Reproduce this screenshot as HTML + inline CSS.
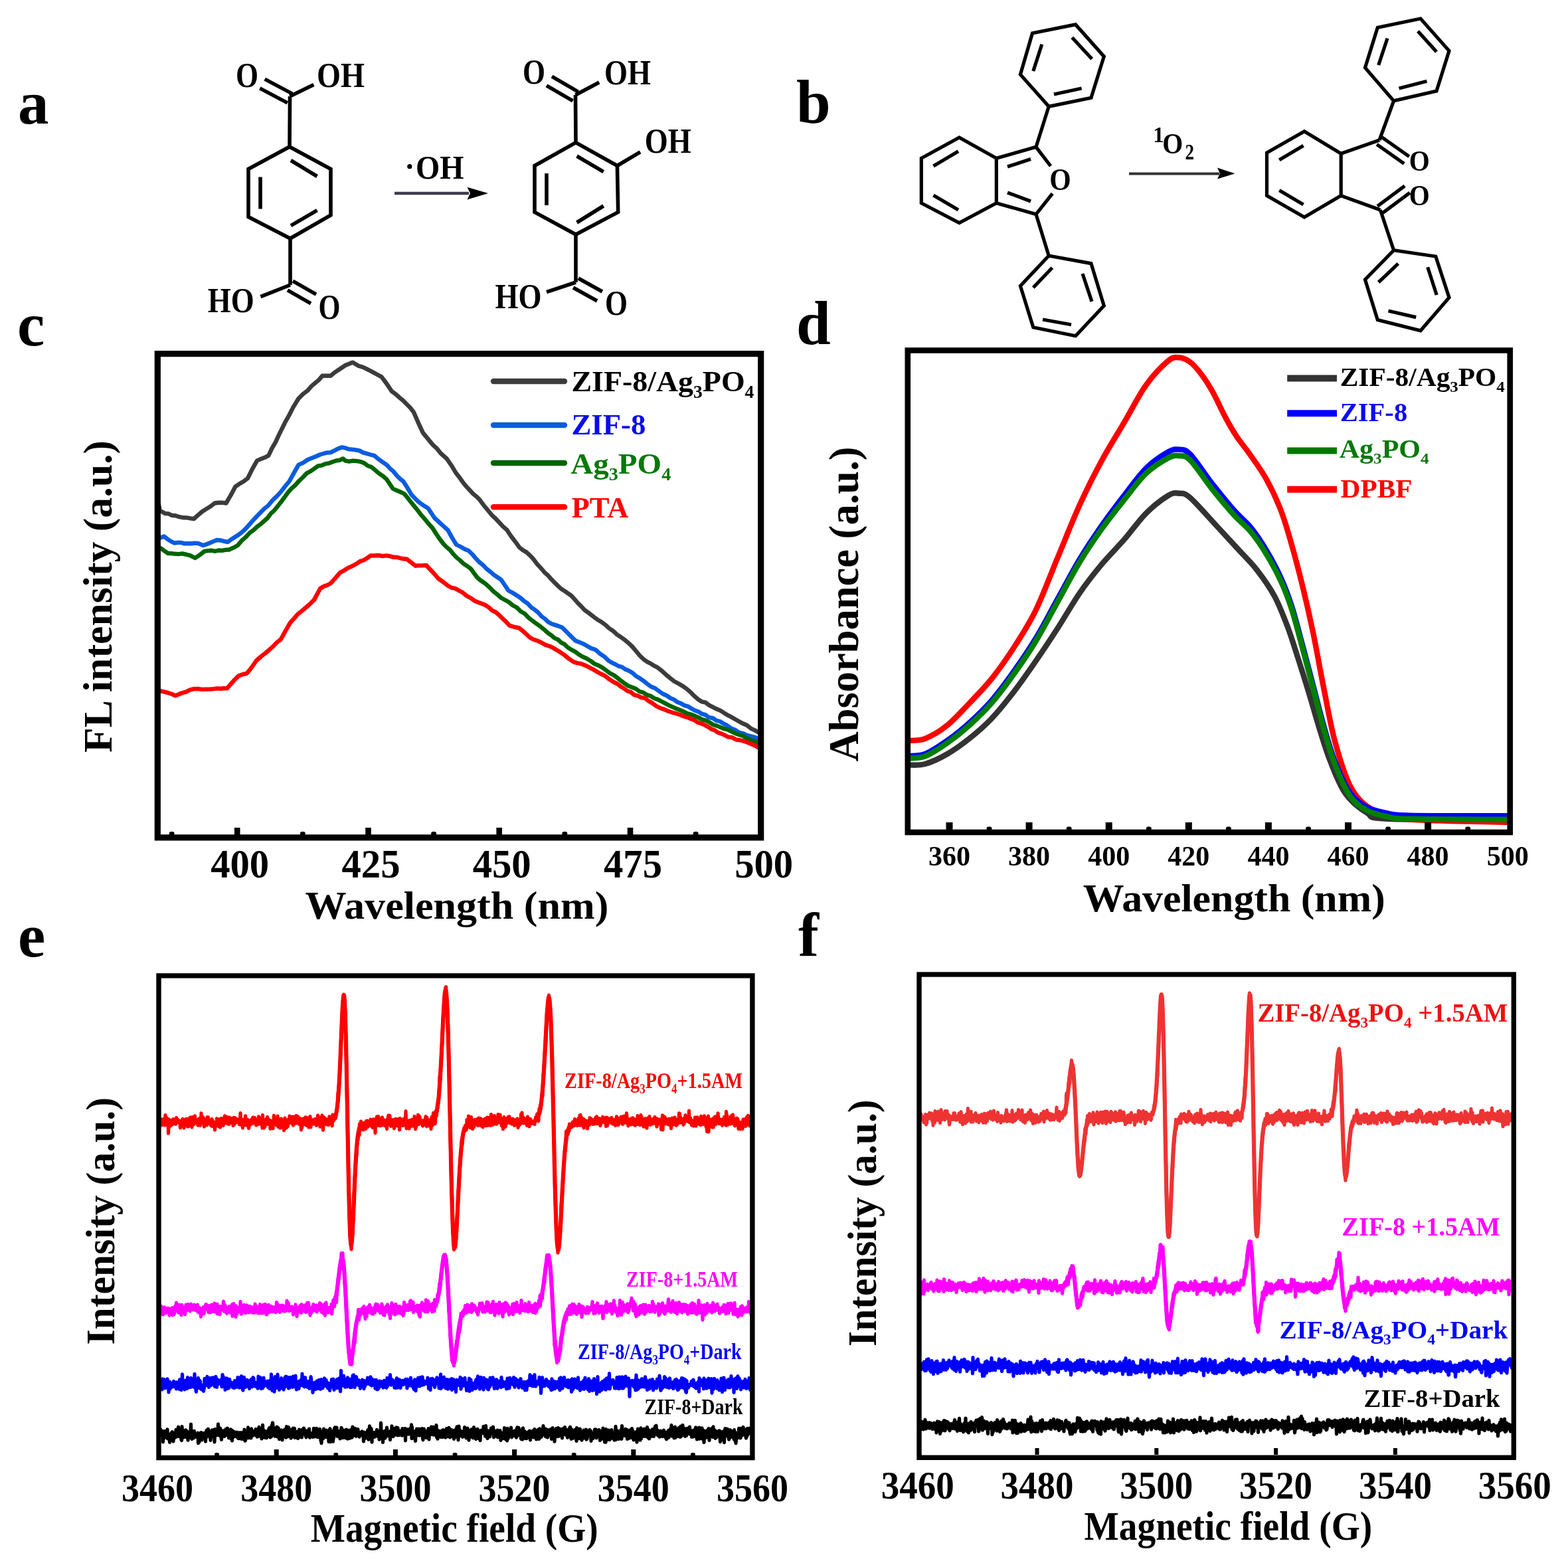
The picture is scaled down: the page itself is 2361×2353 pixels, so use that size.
<!DOCTYPE html>
<html><head><meta charset="utf-8"><title>Figure</title>
<style>html,body{margin:0;padding:0;background:#fff;}svg{display:block;}</style></head>
<body><svg xmlns="http://www.w3.org/2000/svg" width="2361" height="2353" viewBox="0 0 2361 2353" font-family="'Liberation Serif','Times New Roman',serif">
<rect width="2361" height="2353" fill="#fff"/>
<text x="27.0" y="185.5" font-size="93" font-weight="bold" fill="#000" text-anchor="start">a</text>
<text x="1199.0" y="184.5" font-size="93" font-weight="bold" fill="#000" text-anchor="start">b</text>
<text x="26.0" y="520.0" font-size="93" font-weight="bold" fill="#000" text-anchor="start">c</text>
<text x="1199.0" y="517.5" font-size="93" font-weight="bold" fill="#000" text-anchor="start">d</text>
<text x="27.0" y="1440.0" font-size="93" font-weight="bold" fill="#000" text-anchor="start">e</text>
<text x="1202.0" y="1438.5" font-size="93" font-weight="bold" fill="#000" text-anchor="start">f</text>
<polygon points="436.0,221.0 498.0,254.5 498.0,324.0 437.0,359.0 374.0,326.5 374.0,254.5" fill="none" stroke="#000" stroke-width="5.6" stroke-linejoin="miter" stroke-miterlimit="4"/>
<line x1="438.0" y1="241.5" x2="477.5" y2="265.5" stroke="#000" stroke-width="5.6" stroke-linecap="butt"/>
<line x1="392.0" y1="266.5" x2="392.0" y2="314.5" stroke="#000" stroke-width="5.6" stroke-linecap="butt"/>
<line x1="438.0" y1="339.7" x2="477.5" y2="316.7" stroke="#000" stroke-width="5.6" stroke-linecap="butt"/>
<line x1="436.0" y1="221.0" x2="436.5" y2="145.0" stroke="#000" stroke-width="5.6" stroke-linecap="butt"/>
<line x1="432.8" y1="154.9" x2="391.3" y2="132.9" stroke="#000" stroke-width="5.6" stroke-linecap="butt"/>
<line x1="440.2" y1="141.1" x2="398.7" y2="119.1" stroke="#000" stroke-width="5.6" stroke-linecap="butt"/>
<line x1="436.5" y1="145.0" x2="472.3" y2="127.5" stroke="#000" stroke-width="5.6" stroke-linecap="butt"/>
<line x1="437.0" y1="359.0" x2="437.0" y2="429.0" stroke="#000" stroke-width="5.6" stroke-linecap="butt"/>
<line x1="437.0" y1="429.0" x2="392.4" y2="446.6" stroke="#000" stroke-width="5.6" stroke-linecap="butt"/>
<line x1="441.0" y1="423.1" x2="476.0" y2="443.1" stroke="#000" stroke-width="5.6" stroke-linecap="butt"/>
<line x1="433.0" y1="436.9" x2="468.0" y2="456.9" stroke="#000" stroke-width="5.6" stroke-linecap="butt"/>
<text x="355.0" y="131.0" font-size="52" font-weight="bold" fill="#000" text-anchor="start" textLength="34.0" lengthAdjust="spacingAndGlyphs">O</text>
<text x="477.0" y="131.3" font-size="52" font-weight="bold" fill="#000" text-anchor="start" textLength="72.0" lengthAdjust="spacingAndGlyphs">OH</text>
<text x="312.7" y="470.3" font-size="52" font-weight="bold" fill="#000" text-anchor="start" textLength="70.0" lengthAdjust="spacingAndGlyphs">HO</text>
<text x="479.6" y="479.8" font-size="52" font-weight="bold" fill="#000" text-anchor="start" textLength="33.0" lengthAdjust="spacingAndGlyphs">O</text>
<polygon points="867.0,214.6 929.4,249.5 930.7,319.4 867.0,353.0 805.0,319.4 805.0,249.5" fill="none" stroke="#000" stroke-width="5.6" stroke-linejoin="miter" stroke-miterlimit="4"/>
<line x1="868.6" y1="235.0" x2="908.7" y2="258.6" stroke="#000" stroke-width="5.6" stroke-linecap="butt"/>
<line x1="823.0" y1="261.0" x2="823.0" y2="309.0" stroke="#000" stroke-width="5.6" stroke-linecap="butt"/>
<line x1="868.6" y1="335.0" x2="908.7" y2="310.0" stroke="#000" stroke-width="5.6" stroke-linecap="butt"/>
<line x1="867.0" y1="214.6" x2="866.5" y2="143.0" stroke="#000" stroke-width="5.6" stroke-linecap="butt"/>
<line x1="862.5" y1="151.9" x2="823.0" y2="128.9" stroke="#000" stroke-width="5.6" stroke-linecap="butt"/>
<line x1="870.5" y1="138.1" x2="831.0" y2="115.1" stroke="#000" stroke-width="5.6" stroke-linecap="butt"/>
<line x1="866.5" y1="143.0" x2="902.2" y2="124.0" stroke="#000" stroke-width="5.6" stroke-linecap="butt"/>
<line x1="929.4" y1="249.5" x2="964.0" y2="228.8" stroke="#000" stroke-width="5.6" stroke-linecap="butt"/>
<line x1="867.0" y1="353.0" x2="867.0" y2="425.0" stroke="#000" stroke-width="5.6" stroke-linecap="butt"/>
<line x1="867.0" y1="425.0" x2="823.0" y2="439.7" stroke="#000" stroke-width="5.6" stroke-linecap="butt"/>
<line x1="870.9" y1="419.0" x2="906.9" y2="439.0" stroke="#000" stroke-width="5.6" stroke-linecap="butt"/>
<line x1="863.1" y1="433.0" x2="899.1" y2="453.0" stroke="#000" stroke-width="5.6" stroke-linecap="butt"/>
<text x="787.0" y="126.3" font-size="52" font-weight="bold" fill="#000" text-anchor="start" textLength="34.0" lengthAdjust="spacingAndGlyphs">O</text>
<text x="910.0" y="126.6" font-size="52" font-weight="bold" fill="#000" text-anchor="start" textLength="70.0" lengthAdjust="spacingAndGlyphs">OH</text>
<text x="970.8" y="230.0" font-size="52" font-weight="bold" fill="#000" text-anchor="start" textLength="70.0" lengthAdjust="spacingAndGlyphs">OH</text>
<text x="745.6" y="464.0" font-size="52" font-weight="bold" fill="#000" text-anchor="start" textLength="70.0" lengthAdjust="spacingAndGlyphs">HO</text>
<text x="911.0" y="474.4" font-size="52" font-weight="bold" fill="#000" text-anchor="start" textLength="34.0" lengthAdjust="spacingAndGlyphs">O</text>
<line x1="594.0" y1="291.0" x2="706.0" y2="291.0" stroke="#3c3c4c" stroke-width="4.6" stroke-linecap="butt"/>
<polygon points="703.5,281.8 735,291 703.5,300.6 708,291" fill="#000"/>
<circle cx="616.8" cy="250.7" r="3.6" fill="#000"/>
<text x="626.0" y="268.6" font-size="50" font-weight="bold" fill="#000" text-anchor="start" textLength="72.5" lengthAdjust="spacingAndGlyphs">OH</text>
<polygon points="1444.4,207.0 1387.3,238.2 1387.3,305.7 1444.4,335.6 1500.3,305.7 1500.3,238.2" fill="none" stroke="#000" stroke-width="5.2" stroke-linejoin="miter" stroke-miterlimit="4"/>
<line x1="1405.5" y1="249.9" x2="1443.0" y2="227.8" stroke="#000" stroke-width="5.2" stroke-linecap="butt"/>
<line x1="1405.5" y1="294.0" x2="1443.0" y2="316.0" stroke="#000" stroke-width="5.2" stroke-linecap="butt"/>
<polyline points="1500.3,238.2 1560.0,221.3 1582.0,250.0" fill="none" stroke="#000" stroke-width="5.2" stroke-linejoin="miter" stroke-miterlimit="4"/>
<polyline points="1500.3,305.7 1560.0,322.6 1584.7,291.4" fill="none" stroke="#000" stroke-width="5.2" stroke-linejoin="miter" stroke-miterlimit="4"/>
<line x1="1517.0" y1="251.0" x2="1552.0" y2="239.5" stroke="#000" stroke-width="5.2" stroke-linecap="butt"/>
<line x1="1517.0" y1="290.0" x2="1552.0" y2="303.0" stroke="#000" stroke-width="5.2" stroke-linecap="butt"/>
<text x="1580.3" y="285.8" font-size="46" font-weight="bold" fill="#000" text-anchor="start" textLength="32.5" lengthAdjust="spacingAndGlyphs">O</text>
<line x1="1560.0" y1="221.3" x2="1579.2" y2="160.3" stroke="#000" stroke-width="5.2" stroke-linecap="butt"/>
<polygon points="1579.2,160.3 1536.4,112.2 1554.5,49.9 1619.5,36.9 1662.3,85.0 1642.9,147.3" fill="none" stroke="#000" stroke-width="5.2" stroke-linejoin="miter" stroke-miterlimit="4"/>
<line x1="1555.8" y1="107.0" x2="1568.8" y2="66.8" stroke="#000" stroke-width="5.2" stroke-linecap="butt"/>
<line x1="1614.3" y1="56.4" x2="1644.2" y2="88.8" stroke="#000" stroke-width="5.2" stroke-linecap="butt"/>
<line x1="1587.0" y1="142.0" x2="1628.6" y2="133.0" stroke="#000" stroke-width="5.2" stroke-linecap="butt"/>
<line x1="1560.0" y1="322.6" x2="1579.2" y2="385.0" stroke="#000" stroke-width="5.2" stroke-linecap="butt"/>
<polygon points="1579.2,385.0 1536.4,430.4 1555.8,492.7 1619.5,505.7 1662.3,460.3 1642.9,396.6" fill="none" stroke="#000" stroke-width="5.2" stroke-linejoin="miter" stroke-miterlimit="4"/>
<line x1="1555.8" y1="433.0" x2="1584.4" y2="403.0" stroke="#000" stroke-width="5.2" stroke-linecap="butt"/>
<line x1="1630.0" y1="412.0" x2="1644.0" y2="453.8" stroke="#000" stroke-width="5.2" stroke-linecap="butt"/>
<line x1="1570.0" y1="481.0" x2="1613.0" y2="488.8" stroke="#000" stroke-width="5.2" stroke-linecap="butt"/>
<line x1="1700.0" y1="261.5" x2="1836.0" y2="261.5" stroke="#333" stroke-width="4.0" stroke-linecap="butt"/>
<polygon points="1833,252.6 1859.5,261.2 1833,269.4 1837,261.2" fill="#000"/>
<text x="1736.3" y="213.5" font-size="33" font-weight="bold" fill="#000" text-anchor="start">1</text>
<text x="1750.3" y="230.5" font-size="44" font-weight="bold" fill="#000" text-anchor="start" textLength="31.0" lengthAdjust="spacingAndGlyphs">O</text>
<text x="1784.6" y="240.2" font-size="33" font-weight="bold" fill="#000" text-anchor="start" textLength="13.5" lengthAdjust="spacingAndGlyphs">2</text>
<polygon points="1964.0,197.7 1907.5,230.0 1907.5,294.6 1964.0,326.9 2019.2,294.6 2019.2,231.3" fill="none" stroke="#000" stroke-width="5.2" stroke-linejoin="miter" stroke-miterlimit="4"/>
<line x1="1926.3" y1="240.7" x2="1962.6" y2="219.2" stroke="#000" stroke-width="5.2" stroke-linecap="butt"/>
<line x1="1926.3" y1="286.5" x2="1962.6" y2="308.0" stroke="#000" stroke-width="5.2" stroke-linecap="butt"/>
<line x1="2019.2" y1="231.3" x2="2077.0" y2="211.0" stroke="#000" stroke-width="5.2" stroke-linecap="butt"/>
<line x1="2080.8" y1="206.7" x2="2121.8" y2="235.7" stroke="#000" stroke-width="5.2" stroke-linecap="butt"/>
<line x1="2073.2" y1="217.3" x2="2114.2" y2="246.3" stroke="#000" stroke-width="5.2" stroke-linecap="butt"/>
<line x1="2077.0" y1="211.0" x2="2098.6" y2="151.9" stroke="#000" stroke-width="5.2" stroke-linecap="butt"/>
<polygon points="2098.6,151.9 2055.5,102.0 2074.3,41.5 2139.0,28.0 2182.0,76.5 2163.0,137.0" fill="none" stroke="#000" stroke-width="5.2" stroke-linejoin="miter" stroke-miterlimit="4"/>
<line x1="2075.7" y1="98.0" x2="2089.0" y2="57.7" stroke="#000" stroke-width="5.2" stroke-linecap="butt"/>
<line x1="2135.0" y1="47.0" x2="2163.0" y2="78.0" stroke="#000" stroke-width="5.2" stroke-linecap="butt"/>
<line x1="2106.6" y1="133.0" x2="2148.4" y2="122.3" stroke="#000" stroke-width="5.2" stroke-linecap="butt"/>
<line x1="2019.2" y1="294.6" x2="2078.4" y2="316.0" stroke="#000" stroke-width="5.2" stroke-linecap="butt"/>
<line x1="2074.1" y1="310.3" x2="2115.1" y2="279.8" stroke="#000" stroke-width="5.2" stroke-linecap="butt"/>
<line x1="2081.9" y1="320.7" x2="2122.9" y2="290.2" stroke="#000" stroke-width="5.2" stroke-linecap="butt"/>
<line x1="2078.4" y1="316.0" x2="2098.6" y2="376.7" stroke="#000" stroke-width="5.2" stroke-linecap="butt"/>
<polygon points="2098.6,376.7 2055.5,421.0 2074.3,481.6 2139.0,497.8 2182.0,448.0 2161.8,386.0" fill="none" stroke="#000" stroke-width="5.2" stroke-linejoin="miter" stroke-miterlimit="4"/>
<line x1="2075.7" y1="425.0" x2="2105.3" y2="396.8" stroke="#000" stroke-width="5.2" stroke-linecap="butt"/>
<line x1="2149.7" y1="402.2" x2="2163.2" y2="444.0" stroke="#000" stroke-width="5.2" stroke-linecap="butt"/>
<line x1="2090.5" y1="468.0" x2="2132.2" y2="477.6" stroke="#000" stroke-width="5.2" stroke-linecap="butt"/>
<text x="2121.8" y="256.5" font-size="45" font-weight="bold" fill="#000" text-anchor="start" textLength="31.0" lengthAdjust="spacingAndGlyphs">O</text>
<text x="2121.8" y="309.0" font-size="45" font-weight="bold" fill="#000" text-anchor="start" textLength="31.0" lengthAdjust="spacingAndGlyphs">O</text>
<path d="M238.5,757.0 L240.7,768.4 L248.5,773.0 L253.7,773.4 L258.8,775.8 L264.0,776.2 L270.2,778.2 L276.5,779.3 L281.7,779.4 L286.8,780.4 L292.0,781.0 L298.3,775.4 L304.6,770.0 L310.8,766.1 L317.1,762.2 L323.3,757.5 L329.0,756.8 L334.7,756.7 L340.4,757.5 L347.4,745.7 L354.4,732.6 L360.6,728.3 L366.8,724.7 L373.0,720.0 L380.0,705.9 L387.0,693.6 L392.8,690.9 L398.5,688.8 L404.3,685.8 L409.5,674.9 L414.8,665.9 L420.0,654.7 L429.2,636.0 L435.4,625.0 L441.7,612.6 L449.5,600.0 L456.5,593.0 L463.5,587.7 L468.9,581.4 L474.4,576.8 L479.9,572.1 L485.3,565.8 L491.6,565.6 L497.8,565.8 L504.1,560.6 L510.3,556.5 L520.0,550.0 L525.5,547.7 L531.0,545.6 L540.3,551.0 L545.5,552.3 L550.6,554.7 L555.8,557.3 L562.0,560.6 L568.3,564.0 L574.5,567.4 L579.7,574.2 L584.8,581.4 L590.0,589.2 L595.8,593.4 L601.5,598.5 L607.3,603.2 L612.5,608.6 L617.7,613.8 L622.9,620.4 L629.9,636.6 L636.9,651.6 L642.1,657.9 L647.3,664.3 L652.5,670.3 L657.5,674.8 L662.6,681.3 L667.7,686.1 L672.7,690.5 L679.7,700.7 L686.7,712.3 L691.9,718.8 L697.1,726.2 L702.3,732.6 L707.4,738.0 L712.5,743.5 L717.5,747.6 L722.6,752.8 L728.8,761.2 L735.1,768.7 L741.3,776.2 L746.8,781.2 L752.2,787.0 L757.6,792.9 L763.1,797.5 L769.4,807.0 L775.7,815.2 L782.0,824.0 L787.4,828.3 L792.8,831.4 L798.2,836.4 L803.7,842.3 L809.1,849.6 L814.5,855.3 L820.0,861.8 L825.0,866.2 L830.0,871.8 L835.0,877.0 L840.0,881.9 L845.0,886.5 L850.0,889.6 L855.0,893.1 L860.0,896.5 L865.0,901.9 L870.0,907.8 L875.0,912.7 L880.0,918.1 L886.6,922.9 L893.2,928.0 L899.8,933.0 L905.6,936.3 L911.4,940.5 L917.2,945.9 L923.0,949.7 L928.9,955.1 L934.7,959.0 L940.5,963.2 L946.4,968.0 L952.2,973.6 L958.0,980.5 L963.8,987.5 L969.6,992.9 L974.6,996.3 L979.6,998.8 L984.6,1002.2 L989.6,1004.5 L996.2,1009.6 L1002.9,1015.7 L1009.5,1021.2 L1015.3,1025.7 L1021.1,1028.8 L1027.0,1032.3 L1032.8,1036.1 L1038.9,1041.2 L1044.9,1047.3 L1051.0,1052.7 L1056.5,1056.3 L1062.1,1057.4 L1067.7,1061.6 L1073.2,1064.4 L1078.8,1067.3 L1084.3,1069.4 L1090.0,1073.2 L1095.6,1076.6 L1101.3,1079.4 L1106.9,1082.8 L1112.6,1086.0 L1118.6,1089.2 L1124.6,1091.8 L1130.5,1096.6 L1136.5,1099.4 L1142.5,1102.6" fill="none" stroke="#3c3c3c" stroke-width="6.4" stroke-linejoin="round" stroke-linecap="butt"/>
<path d="M239.0,810.5 L247.0,807.4 L252.2,811.6 L257.3,814.9 L262.5,817.5 L267.6,816.8 L272.7,816.9 L277.8,818.3 L283.0,818.2 L288.1,818.2 L293.2,817.6 L298.3,818.0 L306.0,821.0 L311.1,819.2 L316.2,817.2 L321.3,815.1 L326.4,813.0 L331.9,813.4 L337.5,814.9 L343.0,816.0 L348.2,812.0 L353.4,808.8 L358.6,805.5 L363.8,801.6 L369.0,797.0 L374.7,790.7 L380.3,784.2 L386.0,778.0 L392.1,771.8 L398.2,765.6 L404.3,760.6 L410.5,753.0 L416.8,747.1 L423.0,740.4 L429.2,732.3 L435.5,724.8 L442.5,712.1 L449.5,699.9 L456.5,696.7 L463.5,692.0 L469.7,689.5 L476.0,687.0 L482.2,684.3 L487.4,682.8 L492.6,681.4 L497.8,681.2 L503.5,678.3 L509.3,675.3 L515.0,673.4 L520.1,674.4 L525.3,676.2 L530.5,676.6 L535.6,677.3 L541.2,678.4 L546.8,681.4 L552.4,682.9 L558.0,684.5 L563.6,685.8 L569.8,691.2 L576.1,695.7 L582.3,699.9 L587.3,705.4 L592.3,709.6 L597.3,715.7 L602.3,720.7 L607.3,724.8 L613.5,734.3 L619.7,745.0 L629.0,754.4 L634.2,758.5 L639.5,762.1 L644.7,765.3 L654.5,780.0 L659.5,784.5 L664.5,789.2 L669.5,793.6 L674.5,798.2 L680.9,809.9 L687.3,820.0 L693.4,823.0 L699.4,826.6 L705.5,829.0 L710.9,834.2 L716.4,840.6 L721.8,846.2 L727.3,850.8 L732.7,856.4 L738.2,860.6 L743.6,865.3 L749.0,869.0 L754.5,872.7 L760.0,880.8 L765.5,889.0 L771.5,892.2 L777.6,896.0 L783.6,900.0 L789.1,904.9 L794.5,908.5 L800.0,914.4 L805.5,918.2 L810.5,922.3 L815.5,928.0 L820.5,931.5 L825.5,936.4 L830.8,939.3 L836.0,940.9 L841.3,942.6 L846.6,944.7 L851.6,949.7 L856.6,954.9 L861.6,959.8 L866.6,964.6 L872.6,966.9 L878.6,969.4 L884.5,972.7 L890.5,976.1 L896.5,978.0 L903.1,983.8 L909.8,988.3 L916.4,994.6 L921.4,997.7 L926.4,1000.0 L931.4,1002.8 L936.4,1004.0 L941.4,1007.5 L946.4,1009.5 L952.0,1012.7 L957.7,1017.8 L963.3,1021.1 L969.0,1025.0 L974.6,1029.5 L980.4,1033.8 L986.2,1036.0 L992.0,1040.3 L997.9,1044.5 L1003.7,1047.0 L1009.5,1051.0 L1014.7,1053.1 L1019.9,1056.9 L1025.1,1058.7 L1030.4,1061.9 L1035.6,1063.3 L1040.8,1066.5 L1046.0,1069.4 L1051.4,1071.3 L1056.8,1074.7 L1062.2,1076.1 L1067.7,1080.2 L1073.1,1081.0 L1078.5,1084.7 L1083.9,1086.0 L1089.3,1089.3 L1095.1,1092.2 L1100.9,1096.5 L1106.8,1098.7 L1112.6,1102.6 L1118.6,1104.0 L1124.6,1106.9 L1130.5,1108.4 L1136.5,1109.8 L1142.5,1112.6" fill="none" stroke="#0a5ce0" stroke-width="6.4" stroke-linejoin="round" stroke-linecap="butt"/>
<path d="M238.0,823.0 L243.0,825.9 L248.0,829.7 L253.0,833.0 L258.3,833.1 L263.6,833.8 L269.0,834.1 L274.3,833.4 L279.6,834.5 L286.6,836.4 L293.7,840.0 L300.7,835.6 L307.7,829.9 L313.0,829.1 L318.4,828.7 L323.7,829.8 L329.0,828.5 L334.3,828.8 L339.7,827.8 L345.0,827.5 L351.3,824.7 L357.6,821.3 L363.8,814.2 L370.1,808.5 L376.3,801.8 L381.6,798.1 L386.9,793.1 L392.1,789.2 L397.4,784.7 L402.7,780.0 L407.8,773.2 L412.9,768.5 L417.9,762.2 L423.0,756.0 L428.2,748.9 L433.4,741.6 L438.6,735.7 L444.5,730.5 L450.3,724.0 L456.1,718.5 L462.0,712.3 L467.7,709.3 L473.4,705.4 L479.1,701.4 L484.6,700.6 L490.1,698.1 L495.5,697.3 L501.0,695.2 L506.2,693.5 L511.3,692.9 L516.5,690.5 L520.0,693.6 L525.9,694.7 L531.7,693.7 L537.5,694.1 L543.4,695.2 L548.6,697.3 L553.8,701.2 L559.0,703.0 L564.8,707.6 L570.6,712.6 L576.5,716.7 L582.3,721.7 L591.7,735.7 L597.4,738.3 L603.1,740.7 L608.8,743.5 L613.8,749.5 L618.9,756.1 L624.0,762.3 L629.0,768.4 L634.5,775.7 L640.0,781.8 L645.5,788.7 L651.0,794.5 L656.4,803.0 L661.9,811.2 L667.3,818.2 L672.4,823.6 L677.5,827.8 L682.5,834.1 L687.6,839.4 L692.7,843.6 L698.1,848.6 L703.6,852.3 L709.0,856.4 L718.2,869.0 L724.3,874.3 L730.3,878.2 L736.4,883.6 L742.4,889.7 L748.5,894.7 L754.5,900.0 L760.4,903.2 L766.4,906.5 L772.3,911.5 L778.2,914.5 L784.1,920.4 L790.0,923.8 L795.9,930.0 L801.8,934.5 L807.4,938.7 L813.1,942.6 L818.7,947.2 L824.4,952.4 L830.0,956.3 L835.0,960.6 L840.0,962.7 L845.0,967.3 L850.0,969.9 L855.0,974.7 L860.0,977.9 L865.8,980.9 L871.6,985.2 L877.4,988.7 L883.2,991.2 L889.2,994.9 L895.2,999.4 L901.1,1001.8 L907.1,1005.1 L913.1,1009.5 L918.6,1013.6 L924.2,1016.4 L929.8,1020.6 L935.3,1024.9 L940.9,1029.1 L946.4,1032.8 L951.9,1034.7 L957.5,1037.0 L963.0,1041.0 L968.5,1042.5 L974.1,1046.1 L979.6,1047.8 L985.1,1051.3 L990.7,1053.1 L996.2,1056.0 L1001.7,1058.9 L1007.3,1061.9 L1012.8,1064.4 L1018.3,1066.8 L1023.9,1068.9 L1029.4,1071.3 L1034.9,1074.1 L1040.5,1075.5 L1046.0,1077.7 L1051.5,1080.1 L1057.1,1083.1 L1062.7,1084.7 L1068.2,1087.3 L1073.8,1091.0 L1079.3,1092.6 L1084.8,1094.9 L1090.4,1097.2 L1095.9,1098.4 L1101.5,1101.4 L1107.0,1103.9 L1112.6,1106.0 L1118.6,1107.8 L1124.6,1111.5 L1130.5,1114.2 L1136.5,1115.8 L1142.5,1119.2" fill="none" stroke="#006400" stroke-width="6.4" stroke-linejoin="round" stroke-linecap="butt"/>
<path d="M239.0,1039.5 L248.5,1041.8 L253.7,1043.2 L258.8,1044.8 L264.0,1047.3 L269.2,1045.3 L274.4,1043.0 L279.6,1041.8 L285.8,1038.7 L292.0,1037.1 L297.9,1036.9 L303.9,1037.9 L309.8,1037.6 L315.8,1037.6 L321.7,1037.1 L326.8,1036.4 L331.9,1036.8 L336.9,1036.2 L342.0,1036.4 L347.7,1029.5 L353.4,1023.2 L359.1,1017.6 L365.4,1015.2 L371.6,1013.8 L378.6,1005.2 L385.6,995.0 L393.4,988.0 L399.3,983.5 L405.2,978.3 L411.2,973.1 L417.1,966.9 L423.0,962.3 L430.0,949.5 L437.0,937.4 L442.5,931.4 L448.0,925.0 L454.2,919.9 L460.4,914.7 L466.7,909.3 L472.9,903.1 L482.2,886.0 L487.4,882.7 L492.6,881.0 L497.8,878.2 L504.9,870.4 L512.0,862.0 L518.1,858.8 L524.2,854.9 L530.3,852.2 L536.4,849.0 L541.9,845.1 L547.3,843.5 L552.8,840.2 L558.2,836.4 L564.1,836.5 L570.0,836.0 L575.9,837.1 L581.8,836.4 L587.3,837.4 L592.7,838.8 L598.2,839.0 L605.5,841.0 L612.7,841.8 L619.1,846.8 L625.5,851.8 L630.9,851.4 L636.4,851.4 L641.8,851.0 L647.9,857.5 L653.9,863.7 L660.0,871.0 L667.2,876.0 L674.5,881.8 L680.0,884.8 L685.4,885.8 L690.9,889.0 L696.8,892.1 L702.7,897.0 L708.6,900.2 L714.5,904.5 L720.0,906.7 L725.5,908.8 L731.0,911.0 L736.0,914.3 L741.0,919.1 L746.0,921.3 L751.0,925.5 L756.4,930.8 L761.9,935.8 L767.3,941.8 L774.5,943.9 L781.8,945.5 L787.3,949.9 L792.7,954.9 L798.2,960.0 L804.0,963.0 L809.8,964.8 L815.7,967.7 L821.5,970.9 L827.3,972.7 L833.0,975.4 L838.6,978.7 L844.3,982.3 L850.0,986.2 L856.6,991.7 L863.2,996.2 L868.8,998.1 L874.4,999.1 L880.0,1001.2 L886.2,1004.2 L892.4,1007.3 L898.6,1011.1 L904.8,1014.5 L911.0,1017.4 L917.2,1022.4 L923.5,1026.5 L929.7,1029.5 L934.7,1033.6 L939.7,1036.5 L944.7,1040.2 L949.7,1041.8 L954.7,1046.0 L960.2,1047.3 L965.8,1050.2 L971.3,1051.0 L976.8,1055.4 L982.4,1058.6 L987.9,1062.7 L994.1,1066.0 L1000.3,1067.9 L1006.6,1070.8 L1012.8,1072.7 L1018.3,1074.3 L1023.9,1076.0 L1029.4,1078.4 L1034.9,1079.8 L1040.5,1082.2 L1046.0,1084.3 L1051.0,1087.8 L1056.0,1089.3 L1061.0,1091.4 L1066.0,1094.1 L1071.0,1097.6 L1076.0,1099.3 L1081.0,1102.8 L1086.0,1104.4 L1091.0,1106.6 L1096.0,1109.3 L1102.2,1110.2 L1108.5,1113.5 L1114.7,1114.2 L1120.9,1116.0 L1126.3,1117.9 L1131.7,1120.2 L1137.1,1122.6 L1142.5,1125.9" fill="none" stroke="#ff0000" stroke-width="6.4" stroke-linejoin="round" stroke-linecap="butt"/>
<rect x="237.3" y="532.6" width="908.4" height="728.3" fill="none" stroke="#000" stroke-width="9.2" stroke-linejoin="miter"/>
<rect x="352.9" y="1246" width="8.6" height="12" fill="#000"/>
<rect x="550.2" y="1246" width="8.6" height="12" fill="#000"/>
<rect x="747.4" y="1246" width="8.6" height="12" fill="#000"/>
<rect x="944.7" y="1246" width="8.6" height="12" fill="#000"/>
<rect x="254.6" y="1252" width="8" height="6" rx="3" fill="#000"/>
<rect x="451.8" y="1252" width="8" height="6" rx="3" fill="#000"/>
<rect x="649.1" y="1252" width="8" height="6" rx="3" fill="#000"/>
<rect x="846.3" y="1252" width="8" height="6" rx="3" fill="#000"/>
<rect x="1043.6" y="1252" width="8" height="6" rx="3" fill="#000"/>
<text x="361.2" y="1321.0" font-size="61.5" font-weight="bold" fill="#000" text-anchor="middle" textLength="88.0" lengthAdjust="spacingAndGlyphs">400</text>
<text x="558.5" y="1321.0" font-size="61.5" font-weight="bold" fill="#000" text-anchor="middle" textLength="88.0" lengthAdjust="spacingAndGlyphs">425</text>
<text x="755.7" y="1321.0" font-size="61.5" font-weight="bold" fill="#000" text-anchor="middle" textLength="88.0" lengthAdjust="spacingAndGlyphs">450</text>
<text x="953.0" y="1321.0" font-size="61.5" font-weight="bold" fill="#000" text-anchor="middle" textLength="88.0" lengthAdjust="spacingAndGlyphs">475</text>
<text x="1150.2" y="1321.0" font-size="61.5" font-weight="bold" fill="#000" text-anchor="middle" textLength="88.0" lengthAdjust="spacingAndGlyphs">500</text>
<text x="459.4" y="1383.4" font-size="60" font-weight="bold" fill="#000" text-anchor="start" textLength="457.0" lengthAdjust="spacingAndGlyphs">Wavelength (nm)</text>
<text transform="translate(167.5,1133) rotate(-90)" font-size="62" font-weight="bold" textLength="470" lengthAdjust="spacingAndGlyphs">FL intensity (a.u.)</text>
<line x1="743.0" y1="574.0" x2="850.0" y2="574.0" stroke="#3c3c3c" stroke-width="8.4" stroke-linecap="round"/>
<line x1="743.0" y1="640.0" x2="850.0" y2="640.0" stroke="#0a5ce0" stroke-width="8.4" stroke-linecap="round"/>
<line x1="743.0" y1="697.0" x2="850.0" y2="697.0" stroke="#006400" stroke-width="8.4" stroke-linecap="round"/>
<line x1="743.0" y1="763.3" x2="850.0" y2="763.3" stroke="#ff0000" stroke-width="8.4" stroke-linecap="round"/>
<text x="860.4" y="588.9" font-size="44" font-weight="bold" fill="#000" textLength="275.0" lengthAdjust="spacingAndGlyphs">ZIF-8/Ag<tspan font-size="26.4" dy="9.7">3</tspan><tspan dy="-9.7">PO</tspan><tspan font-size="26.4" dy="9.7">4</tspan></text>
<text x="860.4" y="654.1" font-size="44" font-weight="bold" fill="#0a0af0" text-anchor="start" textLength="112.0" lengthAdjust="spacingAndGlyphs">ZIF-8</text>
<text x="859.3" y="712.8" font-size="44" font-weight="bold" fill="#087808" textLength="151.0" lengthAdjust="spacingAndGlyphs">Ag<tspan font-size="26.4" dy="9.7">3</tspan><tspan dy="-9.7">PO</tspan><tspan font-size="26.4" dy="9.7">4</tspan></text>
<text x="860.4" y="779.0" font-size="44" font-weight="bold" fill="#ff0000" text-anchor="start" textLength="86.0" lengthAdjust="spacingAndGlyphs">PTA</text>
<path d="M1366.6,1151.6 C1371.0,1151.3 1383.2,1152.8 1393.2,1150.0 C1403.2,1147.2 1415.4,1141.4 1426.5,1135.0 C1437.6,1128.6 1448.6,1120.7 1459.7,1111.8 C1470.8,1102.9 1481.9,1093.4 1493.0,1081.8 C1504.1,1070.2 1515.1,1056.3 1526.2,1041.9 C1537.3,1027.5 1548.4,1011.5 1559.5,995.4 C1570.6,979.3 1581.6,962.7 1592.7,945.5 C1603.8,928.3 1614.9,908.4 1626.0,892.3 C1637.1,876.2 1648.1,862.4 1659.2,849.1 C1670.3,835.8 1681.4,825.3 1692.5,812.6 C1703.6,799.9 1714.6,783.8 1725.7,772.7 C1736.8,761.6 1750.6,751.1 1758.9,746.1 C1767.2,741.1 1770.0,742.2 1775.6,742.7 C1781.1,743.2 1782.8,741.2 1792.2,749.4 C1801.6,757.6 1820.2,779.1 1832.2,792.0 C1844.2,804.9 1854.2,815.7 1864.4,826.9 C1874.6,838.1 1884.3,847.3 1893.4,859.1 C1902.5,870.9 1911.7,883.8 1919.2,897.7 C1926.7,911.7 1932.6,927.2 1938.5,942.8 C1944.4,958.4 1949.2,974.6 1954.6,991.2 C1960.0,1007.9 1965.3,1025.0 1970.7,1042.7 C1976.1,1060.4 1981.5,1080.3 1986.9,1097.5 C1992.3,1114.7 1996.6,1129.7 2003.0,1145.8 C2009.4,1161.9 2016.4,1181.2 2025.5,1194.1 C2034.6,1207.0 2046.9,1216.6 2057.7,1223.1 C2068.4,1229.5 2054.4,1231.1 2090.0,1232.8 C2125.6,1234.5 2240.8,1233.4 2271.0,1233.5" fill="none" stroke="#333333" stroke-width="8.4" stroke-linejoin="round" stroke-linecap="butt"/>
<path d="M1366.6,1115.1 C1371.0,1114.5 1383.2,1115.7 1393.2,1111.8 C1403.2,1107.9 1415.4,1100.7 1426.5,1091.8 C1437.6,1082.9 1448.6,1070.2 1459.7,1058.6 C1470.8,1047.0 1481.9,1035.8 1493.0,1022.0 C1504.1,1008.1 1515.1,992.7 1526.2,975.5 C1537.3,958.3 1548.4,941.6 1559.5,918.9 C1570.6,896.2 1581.6,865.7 1592.7,839.1 C1603.8,812.5 1614.9,783.8 1626.0,759.4 C1637.1,735.0 1648.1,713.4 1659.2,692.9 C1670.3,672.4 1681.4,655.2 1692.5,636.4 C1703.6,617.5 1714.6,595.3 1725.7,579.8 C1736.8,564.3 1750.6,550.2 1758.9,543.3 C1767.2,536.4 1770.1,538.0 1775.6,538.3 C1781.1,538.6 1786.5,540.9 1792.0,545.0 C1797.5,549.1 1803.1,555.7 1808.8,563.2 C1814.5,570.7 1820.0,579.2 1826.0,590.0 C1832.0,600.8 1839.0,616.8 1845.0,628.0 C1851.0,639.2 1856.1,648.0 1862.0,657.0 C1867.9,666.0 1873.1,671.3 1880.5,681.9 C1887.9,692.5 1898.2,706.0 1906.3,720.5 C1914.4,735.0 1922.5,752.2 1928.9,768.9 C1935.4,785.5 1939.6,801.6 1945.0,820.4 C1950.4,839.2 1955.7,859.6 1961.1,881.6 C1966.5,903.6 1971.8,926.7 1977.2,952.5 C1982.6,978.3 1987.9,1009.4 1993.3,1036.3 C1998.7,1063.1 2003.0,1089.4 2009.4,1113.6 C2015.9,1137.8 2024.0,1164.6 2032.0,1181.2 C2040.0,1197.8 2048.0,1205.9 2057.7,1213.4 C2067.4,1220.9 2077.9,1222.9 2090.0,1226.3 C2102.1,1229.7 2099.8,1232.1 2130.0,1234.0 C2160.2,1235.9 2247.5,1237.2 2271.0,1237.8" fill="none" stroke="#ff0000" stroke-width="8.4" stroke-linejoin="round" stroke-linecap="butt"/>
<path d="M1366.6,1138.2 C1371.0,1137.6 1383.2,1138.7 1393.2,1134.8 C1403.2,1130.9 1415.4,1122.5 1426.5,1114.7 C1437.6,1106.9 1448.6,1098.0 1459.7,1088.0 C1470.8,1078.0 1481.9,1067.4 1493.0,1054.7 C1504.1,1041.9 1515.1,1026.8 1526.2,1011.2 C1537.3,995.7 1548.4,979.6 1559.5,961.3 C1570.6,943.0 1581.6,921.3 1592.7,901.3 C1603.8,881.3 1614.9,859.8 1626.0,841.4 C1637.1,823.0 1648.1,806.8 1659.2,790.9 C1670.3,775.1 1681.4,760.4 1692.5,746.1 C1703.6,731.7 1714.6,715.9 1725.7,704.9 C1736.8,694.0 1750.6,685.2 1758.9,680.5 C1767.2,675.8 1770.0,676.2 1775.6,676.7 C1781.1,677.3 1783.8,675.2 1792.2,683.9 C1800.6,692.6 1814.8,714.8 1825.8,728.9 C1836.8,742.9 1848.3,757.1 1858.0,768.1 C1867.7,779.1 1875.8,784.7 1883.8,794.6 C1891.8,804.5 1898.8,814.9 1906.3,827.6 C1913.8,840.2 1922.5,856.1 1928.9,870.4 C1935.4,884.6 1939.6,896.1 1945.0,912.9 C1950.4,929.7 1955.7,951.0 1961.1,970.9 C1966.5,990.7 1971.8,1011.7 1977.2,1032.0 C1982.6,1052.4 1987.9,1074.3 1993.3,1093.1 C1998.7,1111.8 2003.0,1127.8 2009.4,1144.4 C2015.9,1161.0 2024.0,1180.7 2032.0,1192.5 C2040.0,1204.2 2048.0,1209.5 2057.7,1214.9 C2067.4,1220.2 2079.2,1222.4 2090.0,1224.5 C2100.8,1226.6 2092.0,1227.0 2122.2,1227.6 C2152.4,1228.3 2246.2,1228.2 2271.0,1228.3" fill="none" stroke="#0000ff" stroke-width="8.4" stroke-linejoin="round" stroke-linecap="butt"/>
<path d="M1366.6,1141.7 C1371.0,1141.2 1383.2,1142.3 1393.2,1138.4 C1403.2,1134.5 1415.4,1126.2 1426.5,1118.4 C1437.6,1110.6 1448.6,1101.8 1459.7,1091.8 C1470.8,1081.8 1481.9,1071.3 1493.0,1058.6 C1504.1,1045.8 1515.1,1030.8 1526.2,1015.3 C1537.3,999.8 1548.4,983.8 1559.5,965.5 C1570.6,947.2 1581.6,925.6 1592.7,905.6 C1603.8,885.6 1614.9,864.1 1626.0,845.8 C1637.1,827.5 1648.1,811.4 1659.2,795.9 C1670.3,780.4 1681.4,766.6 1692.5,752.7 C1703.6,738.9 1714.6,723.3 1725.7,712.8 C1736.8,702.3 1750.6,693.9 1758.9,689.5 C1767.2,685.1 1770.0,685.6 1775.6,686.2 C1781.1,686.8 1783.8,684.4 1792.2,692.9 C1800.6,701.4 1814.8,723.3 1825.8,737.0 C1836.8,750.7 1848.3,764.6 1858.0,775.3 C1867.7,786.0 1875.8,791.4 1883.8,801.1 C1891.8,810.8 1898.8,820.9 1906.3,833.3 C1913.8,845.6 1922.5,861.2 1928.9,875.2 C1935.4,889.2 1939.6,900.5 1945.0,917.1 C1950.4,933.7 1955.7,955.1 1961.1,975.0 C1966.5,994.9 1971.8,1015.9 1977.2,1036.3 C1982.6,1056.7 1987.9,1078.7 1993.3,1097.5 C1998.7,1116.3 2003.0,1132.4 2009.4,1149.0 C2015.9,1165.6 2024.0,1185.5 2032.0,1197.3 C2040.0,1209.1 2048.0,1214.5 2057.7,1219.9 C2067.4,1225.3 2079.2,1227.4 2090.0,1229.6 C2100.8,1231.8 2092.0,1232.1 2122.2,1232.8 C2152.4,1233.5 2246.2,1233.6 2271.0,1233.8" fill="none" stroke="#008000" stroke-width="8.4" stroke-linejoin="round" stroke-linecap="butt"/>
<rect x="1366.8" y="527.5" width="906.9" height="725.5" fill="none" stroke="#000" stroke-width="8.6" stroke-linejoin="miter"/>
<rect x="1424.5" y="1238" width="10" height="12" fill="#000"/>
<rect x="1544.6" y="1238" width="10" height="12" fill="#000"/>
<rect x="1664.7" y="1238" width="10" height="12" fill="#000"/>
<rect x="1784.8" y="1238" width="10" height="12" fill="#000"/>
<rect x="1904.9" y="1238" width="10" height="12" fill="#000"/>
<rect x="2025.0" y="1238" width="10" height="12" fill="#000"/>
<rect x="2145.1" y="1238" width="10" height="12" fill="#000"/>
<rect x="1485.5" y="1244.5" width="8" height="6" rx="3" fill="#000"/>
<rect x="1605.7" y="1244.5" width="8" height="6" rx="3" fill="#000"/>
<rect x="1725.8" y="1244.5" width="8" height="6" rx="3" fill="#000"/>
<rect x="1845.9" y="1244.5" width="8" height="6" rx="3" fill="#000"/>
<rect x="1966.0" y="1244.5" width="8" height="6" rx="3" fill="#000"/>
<rect x="2086.1" y="1244.5" width="8" height="6" rx="3" fill="#000"/>
<rect x="2206.2" y="1244.5" width="8" height="6" rx="3" fill="#000"/>
<text x="1429.5" y="1302.5" font-size="42" font-weight="bold" fill="#000" text-anchor="middle" textLength="63.0" lengthAdjust="spacingAndGlyphs">360</text>
<text x="1549.6" y="1302.5" font-size="42" font-weight="bold" fill="#000" text-anchor="middle" textLength="63.0" lengthAdjust="spacingAndGlyphs">380</text>
<text x="1669.7" y="1302.5" font-size="42" font-weight="bold" fill="#000" text-anchor="middle" textLength="63.0" lengthAdjust="spacingAndGlyphs">400</text>
<text x="1789.8" y="1302.5" font-size="42" font-weight="bold" fill="#000" text-anchor="middle" textLength="63.0" lengthAdjust="spacingAndGlyphs">420</text>
<text x="1909.9" y="1302.5" font-size="42" font-weight="bold" fill="#000" text-anchor="middle" textLength="63.0" lengthAdjust="spacingAndGlyphs">440</text>
<text x="2030.0" y="1302.5" font-size="42" font-weight="bold" fill="#000" text-anchor="middle" textLength="63.0" lengthAdjust="spacingAndGlyphs">460</text>
<text x="2150.1" y="1302.5" font-size="42" font-weight="bold" fill="#000" text-anchor="middle" textLength="63.0" lengthAdjust="spacingAndGlyphs">480</text>
<text x="2270.2" y="1302.5" font-size="42" font-weight="bold" fill="#000" text-anchor="middle" textLength="63.0" lengthAdjust="spacingAndGlyphs">500</text>
<text x="1630.8" y="1372.2" font-size="60" font-weight="bold" fill="#000" text-anchor="start" textLength="455.0" lengthAdjust="spacingAndGlyphs">Wavelength (nm)</text>
<text transform="translate(1291.5,1146.5) rotate(-90)" font-size="63" font-weight="bold" textLength="474" lengthAdjust="spacingAndGlyphs">Absorbance (a.u.)</text>
<line x1="1938.2" y1="569.6" x2="2013.0" y2="569.6" stroke="#333333" stroke-width="10" stroke-linecap="butt"/>
<line x1="1938.2" y1="622.3" x2="2013.0" y2="622.3" stroke="#0000ff" stroke-width="10" stroke-linecap="butt"/>
<line x1="1938.2" y1="678.4" x2="2013.0" y2="678.4" stroke="#007700" stroke-width="10" stroke-linecap="butt"/>
<line x1="1938.2" y1="736.8" x2="2013.0" y2="736.8" stroke="#ff0000" stroke-width="10" stroke-linecap="butt"/>
<text x="2017.7" y="580.7" font-size="40" font-weight="bold" fill="#000" textLength="248.0" lengthAdjust="spacingAndGlyphs">ZIF-8/Ag<tspan font-size="24.0" dy="8.8">3</tspan><tspan dy="-8.8">PO</tspan><tspan font-size="24.0" dy="8.8">4</tspan></text>
<text x="2017.7" y="634.4" font-size="40" font-weight="bold" fill="#0a0af5" text-anchor="start" textLength="101.5" lengthAdjust="spacingAndGlyphs">ZIF-8</text>
<text x="2016.7" y="689.0" font-size="40" font-weight="bold" fill="#087808" textLength="135.0" lengthAdjust="spacingAndGlyphs">Ag<tspan font-size="24.0" dy="8.8">3</tspan><tspan dy="-8.8">PO</tspan><tspan font-size="24.0" dy="8.8">4</tspan></text>
<text x="2018.6" y="749.3" font-size="40" font-weight="bold" fill="#ff0000" text-anchor="start" textLength="108.0" lengthAdjust="spacingAndGlyphs">DPBF</text>
<path d="M501.2,1685.8 L501.8,1685.4 L502.2,1685.0 L502.8,1684.6 L503.2,1684.0 L503.8,1683.2 L504.2,1682.3 L504.8,1681.2 L505.2,1679.8 L505.8,1678.0 L506.2,1676.0 L506.8,1673.4 L507.2,1670.4 L507.8,1666.7 L508.2,1662.5 L508.8,1657.4 L509.2,1651.6 L509.8,1644.9 L510.2,1637.4 L510.8,1628.9 L511.2,1619.5 L511.8,1609.3 L512.2,1598.3 L512.8,1586.7 L513.2,1574.7 L513.8,1562.5 L514.2,1550.3 L514.8,1538.5 L515.2,1527.5 L515.8,1517.7 L516.2,1509.4 L516.8,1503.1 L517.2,1499.2 L517.8,1498.0 L518.2,1499.9 L518.8,1505.1 L519.2,1513.7 L519.8,1525.9 L520.2,1541.5 L520.8,1560.3 L521.2,1582.1 L521.8,1606.5 L522.2,1632.8 L522.8,1660.5 L523.2,1689.0 L523.8,1716.5 L524.2,1743.4 L524.8,1768.9 L525.2,1792.5 L525.8,1813.6 L526.2,1831.9 L526.8,1847.0 L527.2,1858.7 L527.8,1867.1 L528.2,1872.1 L528.8,1874.0 L529.2,1872.8 L529.8,1869.0 L530.2,1862.9 L530.8,1854.9 L531.2,1845.3 L531.8,1834.7 L532.2,1823.3 L532.8,1811.5 L533.2,1799.6 L533.8,1788.0 L534.2,1776.8 L534.8,1766.1 L535.2,1756.3 L535.8,1747.2 L536.2,1739.0 L536.8,1731.6 L537.2,1725.2 L537.8,1719.5 L538.2,1714.7 L538.8,1710.5 L539.2,1707.0 L539.8,1704.0 L540.2,1701.6 L540.8,1699.6 L541.2,1697.9 L541.8,1696.5 L542.2,1695.4 L542.8,1694.6 L543.2,1693.8 L543.8,1693.3 L544.2,1692.8 L544.8,1692.4 L545.2,1692.1" fill="none" stroke="#ff0000" stroke-width="6.2" stroke-linejoin="round" stroke-linecap="round"/>
<path d="M655.8,1679.7 L656.2,1678.3 L656.8,1676.6 L657.2,1674.7 L657.8,1672.5 L658.2,1669.8 L658.8,1666.8 L659.2,1663.3 L659.8,1659.4 L660.2,1654.9 L660.8,1649.8 L661.2,1644.1 L661.8,1637.8 L662.2,1630.8 L662.8,1623.2 L663.2,1615.0 L663.8,1606.2 L664.2,1596.9 L664.8,1587.1 L665.2,1577.0 L665.8,1566.6 L666.2,1556.1 L666.8,1545.6 L667.2,1535.5 L667.8,1525.8 L668.2,1516.8 L668.8,1508.7 L669.2,1501.7 L669.8,1496.2 L670.2,1492.3 L670.8,1490.3 L671.2,1490.3 L671.8,1492.5 L672.2,1497.1 L672.8,1504.1 L673.2,1513.5 L673.8,1525.5 L674.2,1539.8 L674.8,1556.4 L675.2,1575.0 L675.8,1595.5 L676.2,1617.5 L676.8,1640.6 L677.2,1664.6 L677.8,1689.0 L678.2,1712.3 L678.8,1735.2 L679.2,1757.3 L679.8,1778.3 L680.2,1797.8 L680.8,1815.6 L681.2,1831.4 L681.8,1845.1 L682.2,1856.5 L682.8,1865.5 L683.2,1872.2 L683.8,1876.6 L684.2,1878.7 L684.8,1878.7 L685.2,1876.8 L685.8,1873.1 L686.2,1867.8 L686.8,1861.2 L687.2,1853.4 L687.8,1844.8 L688.2,1835.6 L688.8,1825.9 L689.2,1815.9 L689.8,1805.9 L690.2,1796.0 L690.8,1786.3 L691.2,1776.9 L691.8,1768.0 L692.2,1759.6 L692.8,1751.8 L693.2,1744.5 L693.8,1737.9 L694.2,1731.9 L694.8,1726.4 L695.2,1721.6 L695.8,1717.3 L696.2,1713.5 L696.8,1710.2 L697.2,1707.3 L697.8,1704.8 L698.2,1702.6 L698.8,1700.8 L699.2,1699.2 L699.8,1697.9" fill="none" stroke="#ff0000" stroke-width="6.2" stroke-linejoin="round" stroke-linecap="round"/>
<path d="M811.5,1678.1 L812.0,1676.5 L812.5,1674.6 L813.0,1672.4 L813.5,1669.9 L814.0,1667.0 L814.5,1663.6 L815.0,1659.9 L815.5,1655.6 L816.0,1650.9 L816.5,1645.6 L817.0,1639.8 L817.5,1633.4 L818.0,1626.4 L818.5,1618.9 L819.0,1610.9 L819.5,1602.5 L820.0,1593.6 L820.5,1584.4 L821.0,1575.0 L821.5,1565.5 L822.0,1556.1 L822.5,1546.8 L823.0,1537.9 L823.5,1529.5 L824.0,1521.9 L824.5,1515.2 L825.0,1509.7 L825.5,1505.6 L826.0,1502.9 L826.5,1502.0 L827.0,1503.0 L827.5,1505.9 L828.0,1511.0 L828.5,1518.2 L829.0,1527.5 L829.5,1539.0 L830.0,1552.5 L830.5,1568.0 L831.0,1585.2 L831.5,1604.0 L832.0,1624.1 L832.5,1645.2 L833.0,1666.9 L833.5,1689.0 L834.0,1711.8 L834.5,1734.3 L835.0,1756.0 L835.5,1776.7 L836.0,1796.1 L836.5,1813.9 L837.0,1829.9 L837.5,1843.9 L838.0,1855.7 L838.5,1865.4 L839.0,1872.8 L839.5,1878.0 L840.0,1881.0 L840.5,1882.0 L841.0,1881.1 L841.5,1878.4 L842.0,1874.1 L842.5,1868.4 L843.0,1861.5 L843.5,1853.6 L844.0,1845.0 L844.5,1835.8 L845.0,1826.3 L845.5,1816.5 L846.0,1806.7 L846.5,1797.0 L847.0,1787.5 L847.5,1778.3 L848.0,1769.6 L848.5,1761.4 L849.0,1753.6 L849.5,1746.5 L850.0,1739.9 L850.5,1733.8 L851.0,1728.4 L851.5,1723.5 L852.0,1719.1 L852.5,1715.2 L853.0,1711.8 L853.5,1708.8 L854.0,1706.2 L854.5,1703.9 L855.0,1702.0 L855.5,1700.3" fill="none" stroke="#ff0000" stroke-width="6.2" stroke-linejoin="round" stroke-linecap="round"/>
<path d="M241.0,1690.0 L241.5,1688.9 L242.0,1692.9 L242.5,1686.5 L243.0,1693.4 L243.5,1693.8 L244.0,1685.1 L244.5,1691.0 L245.0,1693.5 L245.5,1690.9 L246.0,1688.3 L246.5,1684.7 L247.0,1690.2 L247.5,1686.6 L248.0,1691.6 L248.5,1694.0 L249.0,1678.6 L249.5,1684.8 L250.0,1687.1 L250.5,1682.0 L251.0,1687.4 L251.5,1693.2 L252.0,1689.1 L252.5,1693.3 L253.0,1684.4 L253.5,1706.1 L254.0,1696.4 L254.5,1690.4 L255.0,1696.5 L255.5,1685.9 L256.0,1692.0 L256.5,1691.1 L257.0,1694.8 L257.5,1693.9 L258.0,1693.1 L258.5,1687.5 L259.0,1686.9 L259.5,1689.0 L260.0,1692.5 L260.5,1684.9 L261.0,1686.8 L261.5,1685.7 L262.0,1690.7 L262.5,1691.4 L263.0,1688.3 L263.5,1691.2 L264.0,1686.2 L264.5,1692.4 L265.0,1683.6 L265.5,1682.6 L266.0,1690.5 L266.5,1686.6 L267.0,1689.8 L267.5,1688.5 L268.0,1685.5 L268.5,1687.9 L269.0,1688.9 L269.5,1688.4 L270.0,1690.1 L270.5,1689.8 L271.0,1692.1 L271.5,1698.0 L272.0,1689.9 L272.5,1687.5 L273.0,1688.7 L273.5,1693.9 L274.0,1688.7 L274.5,1693.1 L275.0,1684.6 L275.5,1688.2 L276.0,1694.4 L276.5,1685.5 L277.0,1698.1 L277.5,1692.0 L278.0,1689.6 L278.5,1687.4 L279.0,1686.5 L279.5,1688.4 L280.0,1684.6 L280.5,1686.7 L281.0,1686.3 L281.5,1684.6 L282.0,1690.3 L282.5,1696.1 L283.0,1688.8 L283.5,1686.9 L284.0,1690.0 L284.5,1695.4 L285.0,1688.3 L285.5,1683.4 L286.0,1686.9 L286.5,1682.2 L287.0,1691.7 L287.5,1687.6 L288.0,1687.9 L288.5,1686.7 L289.0,1697.2 L289.5,1681.5 L290.0,1689.9 L290.5,1690.1 L291.0,1687.3 L291.5,1689.8 L292.0,1692.7 L292.5,1687.8 L293.0,1689.6 L293.5,1679.8 L294.0,1689.8 L294.5,1685.3 L295.0,1685.6 L295.5,1690.2 L296.0,1687.0 L296.5,1686.6 L297.0,1687.0 L297.5,1691.5 L298.0,1694.2 L298.5,1689.5 L299.0,1688.7 L299.5,1684.0 L300.0,1689.4 L300.5,1689.4 L301.0,1688.6 L301.5,1694.3 L302.0,1684.7 L302.5,1687.8 L303.0,1675.8 L303.5,1687.8 L304.0,1684.2 L304.5,1686.9 L305.0,1681.7 L305.5,1686.2 L306.0,1682.1 L306.5,1683.9 L307.0,1693.5 L307.5,1696.2 L308.0,1691.1 L308.5,1687.3 L309.0,1691.0 L309.5,1690.7 L310.0,1692.2 L310.5,1685.4 L311.0,1686.5 L311.5,1694.0 L312.0,1681.8 L312.5,1688.7 L313.0,1688.8 L313.5,1681.8 L314.0,1690.1 L314.5,1691.3 L315.0,1687.1 L315.5,1689.4 L316.0,1689.9 L316.5,1692.1 L317.0,1692.2 L317.5,1694.4 L318.0,1692.5 L318.5,1693.3 L319.0,1684.6 L319.5,1695.6 L320.0,1686.7 L320.5,1687.5 L321.0,1693.1 L321.5,1693.1 L322.0,1692.4 L322.5,1691.5 L323.0,1690.1 L323.5,1701.2 L324.0,1694.6 L324.5,1693.1 L325.0,1692.7 L325.5,1689.2 L326.0,1694.8 L326.5,1683.9 L327.0,1693.4 L327.5,1688.2 L328.0,1687.8 L328.5,1684.7 L329.0,1688.3 L329.5,1695.9 L330.0,1686.3 L330.5,1687.6 L331.0,1692.3 L331.5,1697.2 L332.0,1686.6 L332.5,1684.0 L333.0,1685.9 L333.5,1690.2 L334.0,1693.6 L334.5,1683.6 L335.0,1687.8 L335.5,1686.4 L336.0,1694.6 L336.5,1688.8 L337.0,1689.6 L337.5,1691.6 L338.0,1682.7 L338.5,1679.9 L339.0,1690.1 L339.5,1687.5 L340.0,1685.1 L340.5,1681.3 L341.0,1691.1 L341.5,1687.2 L342.0,1681.6 L342.5,1688.3 L343.0,1691.0 L343.5,1686.7 L344.0,1688.1 L344.5,1692.7 L345.0,1683.4 L345.5,1682.1 L346.0,1691.1 L346.5,1690.9 L347.0,1686.5 L347.5,1686.3 L348.0,1685.9 L348.5,1686.5 L349.0,1683.7 L349.5,1688.9 L350.0,1684.0 L350.5,1684.4 L351.0,1694.6 L351.5,1686.8 L352.0,1682.7 L352.5,1693.1 L353.0,1688.5 L353.5,1682.6 L354.0,1687.1 L354.5,1683.3 L355.0,1690.2 L355.5,1685.5 L356.0,1688.6 L356.5,1688.0 L357.0,1687.6 L357.5,1689.0 L358.0,1685.1 L358.5,1689.1 L359.0,1685.3 L359.5,1689.6 L360.0,1684.9 L360.5,1693.0 L361.0,1691.1 L361.5,1690.7 L362.0,1675.7 L362.5,1688.9 L363.0,1689.4 L363.5,1688.7 L364.0,1684.9 L364.5,1694.9 L365.0,1693.3 L365.5,1698.1 L366.0,1685.5 L366.5,1685.5 L367.0,1691.1 L367.5,1692.9 L368.0,1686.5 L368.5,1688.7 L369.0,1693.5 L369.5,1679.9 L370.0,1683.9 L370.5,1686.9 L371.0,1694.2 L371.5,1691.8 L372.0,1689.2 L372.5,1688.8 L373.0,1685.5 L373.5,1691.4 L374.0,1687.5 L374.5,1698.6 L375.0,1696.7 L375.5,1691.0 L376.0,1693.7 L376.5,1692.8 L377.0,1686.8 L377.5,1688.4 L378.0,1688.0 L378.5,1692.1 L379.0,1685.0 L379.5,1691.6 L380.0,1688.6 L380.5,1682.6 L381.0,1688.7 L381.5,1682.1 L382.0,1685.8 L382.5,1683.4 L383.0,1690.6 L383.5,1682.7 L384.0,1688.0 L384.5,1687.4 L385.0,1684.6 L385.5,1694.0 L386.0,1693.1 L386.5,1685.8 L387.0,1693.5 L387.5,1687.7 L388.0,1691.2 L388.5,1690.8 L389.0,1692.2 L389.5,1680.9 L390.0,1692.0 L390.5,1689.5 L391.0,1682.6 L391.5,1685.4 L392.0,1687.6 L392.5,1692.4 L393.0,1692.0 L393.5,1693.1 L394.0,1687.7 L394.5,1684.8 L395.0,1698.1 L395.5,1678.6 L396.0,1690.2 L396.5,1693.2 L397.0,1691.0 L397.5,1698.1 L398.0,1686.0 L398.5,1688.5 L399.0,1695.6 L399.5,1691.3 L400.0,1690.1 L400.5,1685.8 L401.0,1684.5 L401.5,1692.5 L402.0,1688.6 L402.5,1681.6 L403.0,1683.1 L403.5,1689.2 L404.0,1692.0 L404.5,1691.7 L405.0,1692.6 L405.5,1685.9 L406.0,1692.8 L406.5,1687.9 L407.0,1699.3 L407.5,1687.2 L408.0,1692.3 L408.5,1695.0 L409.0,1692.8 L409.5,1687.7 L410.0,1697.0 L410.5,1688.1 L411.0,1699.0 L411.5,1690.2 L412.0,1687.3 L412.5,1679.3 L413.0,1687.7 L413.5,1689.2 L414.0,1690.9 L414.5,1689.2 L415.0,1686.8 L415.5,1688.0 L416.0,1690.1 L416.5,1694.1 L417.0,1693.2 L417.5,1690.8 L418.0,1680.1 L418.5,1684.3 L419.0,1696.7 L419.5,1690.3 L420.0,1687.0 L420.5,1686.6 L421.0,1697.3 L421.5,1694.1 L422.0,1698.2 L422.5,1690.0 L423.0,1693.8 L423.5,1684.2 L424.0,1696.7 L424.5,1692.9 L425.0,1688.0 L425.5,1694.8 L426.0,1695.4 L426.5,1690.6 L427.0,1689.1 L427.5,1701.8 L428.0,1697.3 L428.5,1688.5 L429.0,1683.2 L429.5,1691.0 L430.0,1694.4 L430.5,1695.4 L431.0,1698.3 L431.5,1690.5 L432.0,1686.1 L432.5,1691.9 L433.0,1696.1 L433.5,1694.6 L434.0,1686.9 L434.5,1688.8 L435.0,1686.8 L435.5,1683.7 L436.0,1680.1 L436.5,1690.5 L437.0,1684.8 L437.5,1690.2 L438.0,1682.7 L438.5,1684.1 L439.0,1688.3 L439.5,1688.0 L440.0,1688.6 L440.5,1681.0 L441.0,1693.4 L441.5,1694.1 L442.0,1688.8 L442.5,1688.3 L443.0,1689.2 L443.5,1681.1 L444.0,1684.8 L444.5,1684.1 L445.0,1691.5 L445.5,1686.8 L446.0,1679.7 L446.5,1682.1 L447.0,1685.4 L447.5,1686.0 L448.0,1689.2 L448.5,1680.7 L449.0,1691.1 L449.5,1688.1 L450.0,1692.2 L450.5,1688.3 L451.0,1686.5 L451.5,1683.3 L452.0,1685.8 L452.5,1691.5 L453.0,1691.8 L453.5,1700.9 L454.0,1692.1 L454.5,1698.2 L455.0,1694.7 L455.5,1694.1 L456.0,1693.7 L456.5,1684.2 L457.0,1693.2 L457.5,1684.0 L458.0,1690.0 L458.5,1690.6 L459.0,1687.3 L459.5,1683.9 L460.0,1681.8 L460.5,1693.2 L461.0,1691.3 L461.5,1694.2 L462.0,1686.8 L462.5,1688.3 L463.0,1684.8 L463.5,1695.1 L464.0,1682.9 L464.5,1684.6 L465.0,1697.2 L465.5,1685.0 L466.0,1685.5 L466.5,1695.5 L467.0,1680.6 L467.5,1690.6 L468.0,1696.9 L468.5,1685.7 L469.0,1688.4 L469.5,1690.7 L470.0,1686.8 L470.5,1690.9 L471.0,1688.5 L471.5,1686.0 L472.0,1689.1 L472.5,1692.2 L473.0,1686.4 L473.5,1688.6 L474.0,1686.7 L474.5,1684.7 L475.0,1691.0 L475.5,1686.3 L476.0,1691.5 L476.5,1694.4 L477.0,1692.9 L477.5,1683.9 L478.0,1692.9 L478.5,1679.0 L479.0,1680.1 L479.5,1684.4 L480.0,1690.8 L480.5,1689.2 L481.0,1682.0 L481.5,1685.2 L482.0,1696.4 L482.5,1687.5 L483.0,1686.5 L483.5,1690.7 L484.0,1685.4 L484.5,1687.7 L485.0,1679.2 L485.5,1691.9 L486.0,1692.2 L486.5,1701.3 L487.0,1692.8 L487.5,1684.9 L488.0,1682.1 L488.5,1691.7 L489.0,1686.9 L489.5,1690.3 L490.0,1686.0 L490.5,1685.5 L491.0,1684.6 L491.5,1688.5 L492.0,1692.9 L492.5,1689.2 L493.0,1692.4 L493.5,1687.7 L494.0,1686.9 L494.5,1693.6 L495.0,1688.2 L495.5,1684.9 L496.0,1680.8 L496.5,1689.6 L497.0,1681.3 L497.5,1690.0 L498.0,1685.0 L498.5,1688.0 L499.0,1687.9 L499.5,1690.8 L500.0,1695.0 L500.5,1689.9 L501.0,1678.2 L501.5,1684.8 L502.0,1680.7 L502.5,1687.2 L503.0,1683.2 L503.5,1679.0 L504.0,1684.9 L504.5,1684.3 L505.0,1681.0 L505.5,1682.8 L506.0,1678.8 L506.5,1675.3 L507.0,1670.1 L507.5,1669.9 L508.0,1661.9 L508.5,1660.7 L509.0,1645.1 L509.5,1650.0 L510.0,1636.7 L510.5,1635.0 L511.0,1624.9 L511.5,1619.2 L512.0,1608.7 L512.5,1597.7 L513.0,1582.3 L513.5,1567.8 L514.0,1559.3 L514.5,1545.4 L515.0,1534.6 L515.5,1525.5 L516.0,1518.2 L516.5,1511.2 L517.0,1501.2 L517.5,1497.0 L518.0,1502.1 L518.5,1506.8 L519.0,1514.8 L519.5,1521.4 L520.0,1533.9 L520.5,1553.7 L521.0,1570.2 L521.5,1598.4 L522.0,1625.9 L522.5,1652.4 L523.0,1676.3 L523.5,1707.4 L524.0,1726.9 L524.5,1761.3 L525.0,1791.8 L525.5,1797.6 L526.0,1816.7 L526.5,1838.2 L527.0,1861.0 L527.5,1863.2 L528.0,1874.4 L528.5,1874.3 L529.0,1880.8 L529.5,1868.9 L530.0,1870.8 L530.5,1861.7 L531.0,1854.0 L531.5,1840.7 L532.0,1823.0 L532.5,1815.9 L533.0,1810.8 L533.5,1791.2 L534.0,1779.0 L534.5,1770.7 L535.0,1761.9 L535.5,1749.1 L536.0,1749.7 L536.5,1741.0 L537.0,1737.6 L537.5,1725.8 L538.0,1719.6 L538.5,1713.0 L539.0,1715.9 L539.5,1706.5 L540.0,1706.8 L540.5,1708.6 L541.0,1709.3 L541.5,1691.9 L542.0,1696.8 L542.5,1697.6 L543.0,1698.2 L543.5,1688.1 L544.0,1696.0 L544.5,1696.8 L545.0,1700.5 L545.5,1697.2 L546.0,1693.6 L546.5,1694.9 L547.0,1700.8 L547.5,1697.6 L548.0,1690.3 L548.5,1691.0 L549.0,1699.8 L549.5,1692.2 L550.0,1697.6 L550.5,1689.9 L551.0,1699.5 L551.5,1687.5 L552.0,1688.1 L552.5,1688.7 L553.0,1687.2 L553.5,1696.6 L554.0,1694.7 L554.5,1690.6 L555.0,1690.8 L555.5,1689.0 L556.0,1693.0 L556.5,1694.6 L557.0,1693.2 L557.5,1694.5 L558.0,1685.2 L558.5,1692.2 L559.0,1689.9 L559.5,1694.1 L560.0,1686.0 L560.5,1688.9 L561.0,1697.6 L561.5,1692.5 L562.0,1696.9 L562.5,1684.9 L563.0,1685.4 L563.5,1687.7 L564.0,1692.0 L564.5,1691.0 L565.0,1705.6 L565.5,1689.6 L566.0,1693.9 L566.5,1685.4 L567.0,1684.1 L567.5,1681.0 L568.0,1689.6 L568.5,1694.2 L569.0,1684.5 L569.5,1680.7 L570.0,1694.6 L570.5,1684.0 L571.0,1686.4 L571.5,1690.8 L572.0,1688.1 L572.5,1693.1 L573.0,1694.8 L573.5,1690.6 L574.0,1687.7 L574.5,1683.6 L575.0,1682.3 L575.5,1682.1 L576.0,1685.3 L576.5,1693.8 L577.0,1691.7 L577.5,1692.3 L578.0,1685.9 L578.5,1692.5 L579.0,1690.9 L579.5,1688.4 L580.0,1695.0 L580.5,1689.1 L581.0,1691.0 L581.5,1688.7 L582.0,1691.1 L582.5,1699.6 L583.0,1685.1 L583.5,1691.6 L584.0,1691.7 L584.5,1681.5 L585.0,1679.1 L585.5,1691.6 L586.0,1686.2 L586.5,1690.9 L587.0,1679.6 L587.5,1693.8 L588.0,1690.3 L588.5,1695.5 L589.0,1685.4 L589.5,1691.2 L590.0,1686.2 L590.5,1689.9 L591.0,1694.3 L591.5,1690.7 L592.0,1685.9 L592.5,1690.4 L593.0,1694.1 L593.5,1699.0 L594.0,1694.5 L594.5,1685.3 L595.0,1689.6 L595.5,1690.2 L596.0,1684.3 L596.5,1692.1 L597.0,1689.5 L597.5,1689.4 L598.0,1693.3 L598.5,1694.9 L599.0,1694.4 L599.5,1685.0 L600.0,1684.7 L600.5,1695.6 L601.0,1688.3 L601.5,1700.9 L602.0,1691.2 L602.5,1683.5 L603.0,1691.9 L603.5,1694.1 L604.0,1692.0 L604.5,1687.9 L605.0,1694.2 L605.5,1693.7 L606.0,1689.8 L606.5,1689.0 L607.0,1694.4 L607.5,1684.8 L608.0,1689.0 L608.5,1687.2 L609.0,1688.8 L609.5,1683.3 L610.0,1690.2 L610.5,1687.1 L611.0,1672.7 L611.5,1686.8 L612.0,1698.8 L612.5,1689.3 L613.0,1689.1 L613.5,1689.0 L614.0,1691.4 L614.5,1694.0 L615.0,1696.6 L615.5,1691.7 L616.0,1699.1 L616.5,1686.7 L617.0,1689.3 L617.5,1690.3 L618.0,1693.8 L618.5,1695.9 L619.0,1692.4 L619.5,1693.6 L620.0,1685.7 L620.5,1688.4 L621.0,1688.9 L621.5,1687.2 L622.0,1691.1 L622.5,1695.1 L623.0,1692.5 L623.5,1691.4 L624.0,1680.7 L624.5,1694.2 L625.0,1689.6 L625.5,1699.8 L626.0,1685.5 L626.5,1697.0 L627.0,1694.6 L627.5,1691.8 L628.0,1688.3 L628.5,1682.6 L629.0,1689.3 L629.5,1678.3 L630.0,1686.3 L630.5,1692.6 L631.0,1688.2 L631.5,1680.4 L632.0,1681.9 L632.5,1686.9 L633.0,1688.7 L633.5,1688.6 L634.0,1687.2 L634.5,1690.0 L635.0,1689.3 L635.5,1691.3 L636.0,1693.4 L636.5,1695.0 L637.0,1686.9 L637.5,1690.3 L638.0,1691.5 L638.5,1692.6 L639.0,1692.6 L639.5,1692.1 L640.0,1685.4 L640.5,1685.1 L641.0,1680.9 L641.5,1693.0 L642.0,1695.1 L642.5,1695.7 L643.0,1682.4 L643.5,1690.5 L644.0,1688.5 L644.5,1687.2 L645.0,1691.6 L645.5,1689.1 L646.0,1691.1 L646.5,1689.7 L647.0,1695.3 L647.5,1689.0 L648.0,1685.7 L648.5,1686.8 L649.0,1699.7 L649.5,1691.0 L650.0,1681.7 L650.5,1685.4 L651.0,1688.7 L651.5,1693.9 L652.0,1684.4 L652.5,1675.6 L653.0,1686.0 L653.5,1677.1 L654.0,1681.0 L654.5,1680.7 L655.0,1691.8 L655.5,1690.2 L656.0,1672.5 L656.5,1675.0 L657.0,1680.3 L657.5,1677.0 L658.0,1671.3 L658.5,1662.1 L659.0,1663.8 L659.5,1657.4 L660.0,1657.0 L660.5,1656.9 L661.0,1650.2 L661.5,1637.3 L662.0,1620.2 L662.5,1623.6 L663.0,1620.6 L663.5,1606.9 L664.0,1602.3 L664.5,1594.6 L665.0,1586.3 L665.5,1573.9 L666.0,1566.5 L666.5,1549.5 L667.0,1539.9 L667.5,1529.2 L668.0,1526.9 L668.5,1513.0 L669.0,1510.8 L669.5,1494.7 L670.0,1498.0 L670.5,1490.6 L671.0,1486.4 L671.5,1485.7 L672.0,1495.1 L672.5,1506.0 L673.0,1512.6 L673.5,1526.2 L674.0,1533.7 L674.5,1543.5 L675.0,1567.0 L675.5,1584.9 L676.0,1602.5 L676.5,1624.7 L677.0,1655.3 L677.5,1676.4 L678.0,1706.1 L678.5,1725.6 L679.0,1749.8 L679.5,1773.9 L680.0,1788.0 L680.5,1802.0 L681.0,1822.4 L681.5,1836.4 L682.0,1852.9 L682.5,1858.4 L683.0,1874.3 L683.5,1881.3 L684.0,1872.4 L684.5,1876.0 L685.0,1878.1 L685.5,1872.7 L686.0,1867.7 L686.5,1867.8 L687.0,1853.3 L687.5,1855.4 L688.0,1836.8 L688.5,1830.7 L689.0,1813.2 L689.5,1810.3 L690.0,1796.0 L690.5,1788.9 L691.0,1784.0 L691.5,1769.9 L692.0,1760.5 L692.5,1754.7 L693.0,1747.9 L693.5,1741.7 L694.0,1737.4 L694.5,1733.6 L695.0,1721.2 L695.5,1714.9 L696.0,1723.2 L696.5,1716.3 L697.0,1709.4 L697.5,1710.2 L698.0,1703.2 L698.5,1701.1 L699.0,1697.7 L699.5,1697.6 L700.0,1702.8 L700.5,1694.3 L701.0,1694.2 L701.5,1693.8 L702.0,1701.2 L702.5,1698.8 L703.0,1685.6 L703.5,1692.8 L704.0,1692.5 L704.5,1696.3 L705.0,1691.8 L705.5,1680.2 L706.0,1691.5 L706.5,1689.7 L707.0,1694.5 L707.5,1688.7 L708.0,1697.8 L708.5,1694.3 L709.0,1683.2 L709.5,1681.6 L710.0,1690.6 L710.5,1687.5 L711.0,1692.2 L711.5,1699.7 L712.0,1694.7 L712.5,1689.5 L713.0,1693.2 L713.5,1696.9 L714.0,1688.5 L714.5,1685.7 L715.0,1689.2 L715.5,1693.1 L716.0,1692.1 L716.5,1686.0 L717.0,1688.0 L717.5,1690.8 L718.0,1684.9 L718.5,1689.6 L719.0,1689.2 L719.5,1694.4 L720.0,1693.5 L720.5,1691.2 L721.0,1683.0 L721.5,1687.0 L722.0,1692.3 L722.5,1684.1 L723.0,1694.0 L723.5,1692.6 L724.0,1683.9 L724.5,1694.8 L725.0,1690.4 L725.5,1692.5 L726.0,1693.7 L726.5,1693.4 L727.0,1696.9 L727.5,1689.6 L728.0,1693.9 L728.5,1690.4 L729.0,1685.2 L729.5,1692.4 L730.0,1693.0 L730.5,1685.8 L731.0,1683.9 L731.5,1694.9 L732.0,1688.1 L732.5,1694.3 L733.0,1691.8 L733.5,1688.8 L734.0,1682.0 L734.5,1694.4 L735.0,1688.3 L735.5,1684.2 L736.0,1682.8 L736.5,1688.8 L737.0,1691.0 L737.5,1691.7 L738.0,1684.4 L738.5,1694.5 L739.0,1685.6 L739.5,1677.5 L740.0,1682.3 L740.5,1682.3 L741.0,1683.2 L741.5,1693.6 L742.0,1683.4 L742.5,1687.9 L743.0,1688.9 L743.5,1690.9 L744.0,1691.3 L744.5,1679.6 L745.0,1691.8 L745.5,1689.6 L746.0,1689.4 L746.5,1688.6 L747.0,1692.2 L747.5,1687.8 L748.0,1692.2 L748.5,1688.4 L749.0,1685.4 L749.5,1688.6 L750.0,1677.6 L750.5,1685.6 L751.0,1682.0 L751.5,1686.4 L752.0,1690.0 L752.5,1685.0 L753.0,1678.0 L753.5,1685.4 L754.0,1683.4 L754.5,1690.7 L755.0,1691.2 L755.5,1694.9 L756.0,1691.4 L756.5,1686.3 L757.0,1693.1 L757.5,1700.0 L758.0,1689.4 L758.5,1689.3 L759.0,1681.7 L759.5,1692.6 L760.0,1686.8 L760.5,1695.2 L761.0,1696.3 L761.5,1693.6 L762.0,1684.8 L762.5,1691.2 L763.0,1689.1 L763.5,1690.7 L764.0,1687.1 L764.5,1684.5 L765.0,1681.7 L765.5,1690.2 L766.0,1688.7 L766.5,1689.7 L767.0,1680.8 L767.5,1690.6 L768.0,1688.5 L768.5,1685.6 L769.0,1689.2 L769.5,1686.8 L770.0,1685.0 L770.5,1691.6 L771.0,1692.1 L771.5,1686.7 L772.0,1684.4 L772.5,1689.4 L773.0,1687.8 L773.5,1685.7 L774.0,1689.4 L774.5,1694.4 L775.0,1685.8 L775.5,1690.5 L776.0,1690.5 L776.5,1688.5 L777.0,1687.7 L777.5,1689.9 L778.0,1693.4 L778.5,1687.5 L779.0,1684.1 L779.5,1689.0 L780.0,1697.7 L780.5,1689.7 L781.0,1695.2 L781.5,1687.3 L782.0,1691.4 L782.5,1685.9 L783.0,1693.0 L783.5,1690.1 L784.0,1690.7 L784.5,1677.3 L785.0,1682.3 L785.5,1682.2 L786.0,1675.2 L786.5,1687.4 L787.0,1681.7 L787.5,1690.8 L788.0,1682.2 L788.5,1689.2 L789.0,1690.6 L789.5,1683.6 L790.0,1688.5 L790.5,1688.4 L791.0,1691.1 L791.5,1687.8 L792.0,1689.3 L792.5,1683.9 L793.0,1688.0 L793.5,1694.5 L794.0,1689.4 L794.5,1681.0 L795.0,1688.7 L795.5,1684.4 L796.0,1685.4 L796.5,1687.4 L797.0,1696.0 L797.5,1692.7 L798.0,1685.4 L798.5,1684.5 L799.0,1691.6 L799.5,1686.6 L800.0,1690.2 L800.5,1690.9 L801.0,1690.1 L801.5,1691.2 L802.0,1689.2 L802.5,1688.0 L803.0,1689.1 L803.5,1688.5 L804.0,1689.7 L804.5,1689.5 L805.0,1692.6 L805.5,1687.4 L806.0,1685.8 L806.5,1682.0 L807.0,1686.6 L807.5,1682.7 L808.0,1686.8 L808.5,1677.6 L809.0,1682.6 L809.5,1686.5 L810.0,1676.0 L810.5,1688.0 L811.0,1685.6 L811.5,1674.1 L812.0,1669.0 L812.5,1672.4 L813.0,1672.3 L813.5,1663.6 L814.0,1668.1 L814.5,1666.4 L815.0,1660.4 L815.5,1652.9 L816.0,1649.1 L816.5,1647.3 L817.0,1649.8 L817.5,1633.1 L818.0,1617.7 L818.5,1621.7 L819.0,1608.8 L819.5,1601.4 L820.0,1595.1 L820.5,1584.1 L821.0,1571.4 L821.5,1575.1 L822.0,1567.5 L822.5,1544.5 L823.0,1534.5 L823.5,1522.7 L824.0,1523.7 L824.5,1516.1 L825.0,1511.2 L825.5,1501.0 L826.0,1507.1 L826.5,1498.0 L827.0,1504.7 L827.5,1506.0 L828.0,1513.9 L828.5,1520.7 L829.0,1525.9 L829.5,1533.2 L830.0,1554.1 L830.5,1565.3 L831.0,1581.2 L831.5,1593.7 L832.0,1624.2 L832.5,1641.0 L833.0,1663.8 L833.5,1683.7 L834.0,1706.2 L834.5,1733.7 L835.0,1756.1 L835.5,1786.3 L836.0,1801.4 L836.5,1816.7 L837.0,1825.7 L837.5,1851.7 L838.0,1852.8 L838.5,1871.6 L839.0,1870.3 L839.5,1874.9 L840.0,1886.1 L840.5,1873.9 L841.0,1877.3 L841.5,1868.0 L842.0,1869.7 L842.5,1862.1 L843.0,1859.1 L843.5,1852.4 L844.0,1841.3 L844.5,1840.4 L845.0,1816.8 L845.5,1809.8 L846.0,1804.7 L846.5,1797.8 L847.0,1792.9 L847.5,1779.8 L848.0,1766.4 L848.5,1763.4 L849.0,1757.0 L849.5,1746.3 L850.0,1737.7 L850.5,1732.6 L851.0,1732.6 L851.5,1729.6 L852.0,1719.4 L852.5,1703.2 L853.0,1713.2 L853.5,1704.7 L854.0,1708.9 L854.5,1704.6 L855.0,1703.4 L855.5,1706.8 L856.0,1698.8 L856.5,1696.1 L857.0,1702.7 L857.5,1692.1 L858.0,1693.8 L858.5,1694.5 L859.0,1693.6 L859.5,1697.3 L860.0,1696.8 L860.5,1696.1 L861.0,1696.8 L861.5,1695.4 L862.0,1689.6 L862.5,1691.9 L863.0,1689.7 L863.5,1688.2 L864.0,1690.9 L864.5,1694.7 L865.0,1692.0 L865.5,1684.6 L866.0,1691.7 L866.5,1691.1 L867.0,1693.4 L867.5,1688.4 L868.0,1689.3 L868.5,1686.9 L869.0,1688.4 L869.5,1694.7 L870.0,1686.4 L870.5,1690.7 L871.0,1683.6 L871.5,1691.5 L872.0,1690.8 L872.5,1691.5 L873.0,1679.2 L873.5,1694.1 L874.0,1678.3 L874.5,1692.8 L875.0,1688.7 L875.5,1682.4 L876.0,1689.6 L876.5,1683.2 L877.0,1692.9 L877.5,1690.5 L878.0,1696.1 L878.5,1686.3 L879.0,1698.2 L879.5,1684.8 L880.0,1694.1 L880.5,1688.4 L881.0,1692.5 L881.5,1689.9 L882.0,1691.2 L882.5,1689.3 L883.0,1689.1 L883.5,1687.5 L884.0,1688.5 L884.5,1699.2 L885.0,1688.3 L885.5,1688.7 L886.0,1692.1 L886.5,1687.7 L887.0,1687.4 L887.5,1693.7 L888.0,1682.9 L888.5,1683.0 L889.0,1686.8 L889.5,1687.0 L890.0,1683.9 L890.5,1690.3 L891.0,1685.5 L891.5,1686.0 L892.0,1686.8 L892.5,1692.4 L893.0,1688.4 L893.5,1688.5 L894.0,1687.3 L894.5,1691.9 L895.0,1692.1 L895.5,1684.6 L896.0,1689.2 L896.5,1689.2 L897.0,1682.2 L897.5,1683.9 L898.0,1691.6 L898.5,1680.8 L899.0,1685.7 L899.5,1689.8 L900.0,1690.4 L900.5,1683.9 L901.0,1691.7 L901.5,1684.4 L902.0,1687.7 L902.5,1683.9 L903.0,1688.4 L903.5,1690.0 L904.0,1694.6 L904.5,1685.2 L905.0,1686.7 L905.5,1685.2 L906.0,1688.2 L906.5,1689.9 L907.0,1685.3 L907.5,1681.3 L908.0,1686.2 L908.5,1684.4 L909.0,1682.8 L909.5,1689.9 L910.0,1689.6 L910.5,1683.3 L911.0,1684.0 L911.5,1685.7 L912.0,1682.4 L912.5,1695.6 L913.0,1684.3 L913.5,1684.8 L914.0,1682.4 L914.5,1694.8 L915.0,1691.5 L915.5,1689.7 L916.0,1688.5 L916.5,1689.5 L917.0,1688.7 L917.5,1684.0 L918.0,1685.6 L918.5,1688.5 L919.0,1688.3 L919.5,1685.0 L920.0,1690.4 L920.5,1687.7 L921.0,1682.5 L921.5,1688.3 L922.0,1689.3 L922.5,1691.8 L923.0,1689.3 L923.5,1692.2 L924.0,1689.6 L924.5,1689.3 L925.0,1687.1 L925.5,1685.7 L926.0,1690.4 L926.5,1694.4 L927.0,1688.2 L927.5,1688.7 L928.0,1689.9 L928.5,1680.8 L929.0,1693.5 L929.5,1692.7 L930.0,1688.1 L930.5,1684.4 L931.0,1693.6 L931.5,1683.6 L932.0,1687.0 L932.5,1691.4 L933.0,1687.9 L933.5,1685.5 L934.0,1688.0 L934.5,1687.1 L935.0,1681.7 L935.5,1686.6 L936.0,1681.2 L936.5,1687.2 L937.0,1686.9 L937.5,1692.6 L938.0,1688.7 L938.5,1683.6 L939.0,1684.5 L939.5,1680.4 L940.0,1685.7 L940.5,1684.0 L941.0,1684.6 L941.5,1690.3 L942.0,1684.8 L942.5,1688.4 L943.0,1679.8 L943.5,1675.8 L944.0,1688.7 L944.5,1683.2 L945.0,1686.3 L945.5,1691.8 L946.0,1694.9 L946.5,1684.7 L947.0,1687.2 L947.5,1686.7 L948.0,1687.0 L948.5,1692.0 L949.0,1686.5 L949.5,1692.5 L950.0,1686.5 L950.5,1693.1 L951.0,1683.7 L951.5,1692.6 L952.0,1686.5 L952.5,1687.2 L953.0,1682.9 L953.5,1687.5 L954.0,1689.0 L954.5,1691.1 L955.0,1690.0 L955.5,1693.6 L956.0,1685.1 L956.5,1694.4 L957.0,1686.6 L957.5,1686.0 L958.0,1690.9 L958.5,1692.3 L959.0,1684.9 L959.5,1692.6 L960.0,1679.5 L960.5,1686.2 L961.0,1690.3 L961.5,1688.2 L962.0,1691.2 L962.5,1684.4 L963.0,1686.6 L963.5,1693.7 L964.0,1691.9 L964.5,1690.7 L965.0,1678.6 L965.5,1693.4 L966.0,1681.2 L966.5,1688.5 L967.0,1691.2 L967.5,1689.6 L968.0,1690.5 L968.5,1690.3 L969.0,1696.1 L969.5,1687.8 L970.0,1684.8 L970.5,1692.0 L971.0,1690.6 L971.5,1683.8 L972.0,1685.4 L972.5,1696.8 L973.0,1689.9 L973.5,1696.2 L974.0,1698.3 L974.5,1686.6 L975.0,1688.6 L975.5,1685.3 L976.0,1683.0 L976.5,1686.0 L977.0,1689.3 L977.5,1687.6 L978.0,1680.7 L978.5,1687.4 L979.0,1693.5 L979.5,1684.9 L980.0,1690.4 L980.5,1685.2 L981.0,1692.7 L981.5,1689.0 L982.0,1686.4 L982.5,1687.9 L983.0,1688.8 L983.5,1684.5 L984.0,1688.8 L984.5,1691.3 L985.0,1688.0 L985.5,1687.1 L986.0,1681.7 L986.5,1690.0 L987.0,1687.6 L987.5,1688.6 L988.0,1688.1 L988.5,1690.4 L989.0,1696.2 L989.5,1684.0 L990.0,1690.8 L990.5,1686.0 L991.0,1686.2 L991.5,1692.1 L992.0,1685.7 L992.5,1685.9 L993.0,1690.7 L993.5,1691.6 L994.0,1685.0 L994.5,1685.8 L995.0,1689.2 L995.5,1700.4 L996.0,1690.2 L996.5,1688.5 L997.0,1692.8 L997.5,1678.8 L998.0,1701.0 L998.5,1686.9 L999.0,1687.7 L999.5,1687.4 L1000.0,1689.7 L1000.5,1681.1 L1001.0,1689.9 L1001.5,1691.9 L1002.0,1683.2 L1002.5,1688.4 L1003.0,1690.1 L1003.5,1687.1 L1004.0,1689.4 L1004.5,1691.2 L1005.0,1688.1 L1005.5,1685.1 L1006.0,1692.9 L1006.5,1690.9 L1007.0,1686.6 L1007.5,1684.4 L1008.0,1689.3 L1008.5,1693.4 L1009.0,1686.5 L1009.5,1687.3 L1010.0,1686.7 L1010.5,1698.8 L1011.0,1692.5 L1011.5,1684.3 L1012.0,1683.1 L1012.5,1690.6 L1013.0,1693.4 L1013.5,1684.9 L1014.0,1691.6 L1014.5,1688.7 L1015.0,1687.8 L1015.5,1685.6 L1016.0,1682.0 L1016.5,1688.5 L1017.0,1691.9 L1017.5,1685.9 L1018.0,1694.4 L1018.5,1692.7 L1019.0,1685.7 L1019.5,1693.3 L1020.0,1686.0 L1020.5,1687.4 L1021.0,1689.9 L1021.5,1685.0 L1022.0,1687.1 L1022.5,1675.8 L1023.0,1683.7 L1023.5,1676.3 L1024.0,1690.3 L1024.5,1681.4 L1025.0,1687.7 L1025.5,1685.4 L1026.0,1686.4 L1026.5,1686.9 L1027.0,1690.1 L1027.5,1688.3 L1028.0,1687.7 L1028.5,1684.7 L1029.0,1693.3 L1029.5,1692.9 L1030.0,1691.7 L1030.5,1684.6 L1031.0,1682.7 L1031.5,1681.6 L1032.0,1678.8 L1032.5,1683.0 L1033.0,1686.8 L1033.5,1687.7 L1034.0,1687.7 L1034.5,1684.7 L1035.0,1687.9 L1035.5,1687.6 L1036.0,1683.6 L1036.5,1685.5 L1037.0,1688.6 L1037.5,1672.2 L1038.0,1689.8 L1038.5,1685.9 L1039.0,1683.7 L1039.5,1683.1 L1040.0,1688.8 L1040.5,1685.9 L1041.0,1686.0 L1041.5,1694.1 L1042.0,1689.5 L1042.5,1692.9 L1043.0,1689.1 L1043.5,1694.6 L1044.0,1695.0 L1044.5,1694.9 L1045.0,1692.9 L1045.5,1687.4 L1046.0,1690.7 L1046.5,1682.1 L1047.0,1694.8 L1047.5,1687.0 L1048.0,1695.1 L1048.5,1690.8 L1049.0,1691.3 L1049.5,1692.7 L1050.0,1681.9 L1050.5,1686.0 L1051.0,1684.7 L1051.5,1687.9 L1052.0,1691.9 L1052.5,1685.1 L1053.0,1687.7 L1053.5,1688.8 L1054.0,1686.8 L1054.5,1693.2 L1055.0,1693.8 L1055.5,1680.4 L1056.0,1690.8 L1056.5,1690.4 L1057.0,1691.3 L1057.5,1683.3 L1058.0,1692.3 L1058.5,1690.9 L1059.0,1692.2 L1059.5,1687.8 L1060.0,1691.1 L1060.5,1679.8 L1061.0,1691.8 L1061.5,1681.8 L1062.0,1689.1 L1062.5,1689.2 L1063.0,1696.0 L1063.5,1691.9 L1064.0,1692.9 L1064.5,1703.7 L1065.0,1685.7 L1065.5,1689.0 L1066.0,1692.4 L1066.5,1680.2 L1067.0,1704.0 L1067.5,1692.4 L1068.0,1684.9 L1068.5,1694.1 L1069.0,1687.0 L1069.5,1689.3 L1070.0,1695.1 L1070.5,1692.6 L1071.0,1689.6 L1071.5,1685.2 L1072.0,1696.9 L1072.5,1692.5 L1073.0,1693.2 L1073.5,1685.6 L1074.0,1697.1 L1074.5,1687.6 L1075.0,1682.5 L1075.5,1684.1 L1076.0,1684.8 L1076.5,1693.3 L1077.0,1680.8 L1077.5,1687.1 L1078.0,1692.2 L1078.5,1686.9 L1079.0,1688.8 L1079.5,1685.7 L1080.0,1682.9 L1080.5,1691.0 L1081.0,1675.8 L1081.5,1680.6 L1082.0,1687.9 L1082.5,1689.6 L1083.0,1691.5 L1083.5,1687.8 L1084.0,1685.0 L1084.5,1691.2 L1085.0,1688.7 L1085.5,1687.9 L1086.0,1685.3 L1086.5,1690.0 L1087.0,1692.2 L1087.5,1694.4 L1088.0,1687.1 L1088.5,1685.7 L1089.0,1689.9 L1089.5,1691.5 L1090.0,1690.7 L1090.5,1681.7 L1091.0,1682.5 L1091.5,1691.5 L1092.0,1686.0 L1092.5,1689.7 L1093.0,1694.3 L1093.5,1673.3 L1094.0,1684.5 L1094.5,1678.1 L1095.0,1692.2 L1095.5,1693.6 L1096.0,1684.8 L1096.5,1685.3 L1097.0,1685.5 L1097.5,1689.9 L1098.0,1684.5 L1098.5,1688.2 L1099.0,1688.1 L1099.5,1692.1 L1100.0,1681.0 L1100.5,1688.7 L1101.0,1691.5 L1101.5,1689.5 L1102.0,1679.1 L1102.5,1691.2 L1103.0,1684.1 L1103.5,1678.2 L1104.0,1688.2 L1104.5,1685.2 L1105.0,1687.9 L1105.5,1692.1 L1106.0,1689.3 L1106.5,1695.0 L1107.0,1690.2 L1107.5,1689.2 L1108.0,1692.5 L1108.5,1683.8 L1109.0,1692.4 L1109.5,1683.4 L1110.0,1686.7 L1110.5,1685.9 L1111.0,1684.6 L1111.5,1692.9 L1112.0,1699.6 L1112.5,1693.8 L1113.0,1689.4 L1113.5,1699.1 L1114.0,1696.1 L1114.5,1689.4 L1115.0,1699.9 L1115.5,1690.8 L1116.0,1692.8 L1116.5,1696.6 L1117.0,1695.4 L1117.5,1690.7 L1118.0,1699.5 L1118.5,1692.5 L1119.0,1685.2 L1119.5,1687.8 L1120.0,1690.1 L1120.5,1692.9 L1121.0,1686.3 L1121.5,1684.8 L1122.0,1693.3 L1122.5,1695.5 L1123.0,1685.6 L1123.5,1688.0 L1124.0,1682.8 L1124.5,1693.2 L1125.0,1681.1 L1125.5,1690.1 L1126.0,1687.6 L1126.5,1679.3 L1127.0,1691.1 L1127.5,1690.5 L1128.0,1687.8 L1128.5,1694.8 L1129.0,1691.1 L1129.5,1683.0 L1130.0,1687.9 L1130.5,1688.8 L1131.0,1681.3 L1131.5,1692.6 L1132.0,1691.6" fill="none" stroke="#ff0000" stroke-width="5.2" stroke-linejoin="round" stroke-linecap="butt"/>
<path d="M499.5,1967.6 L500.0,1967.2 L500.5,1966.7 L501.0,1966.1 L501.5,1965.3 L502.0,1964.5 L502.5,1963.5 L503.0,1962.4 L503.5,1961.0 L504.0,1959.5 L504.5,1957.8 L505.0,1955.8 L505.5,1953.5 L506.0,1951.0 L506.5,1948.3 L507.0,1945.2 L507.5,1941.9 L508.0,1938.4 L508.5,1934.6 L509.0,1930.7 L509.5,1926.5 L510.0,1922.3 L510.5,1918.1 L511.0,1913.9 L511.5,1909.8 L512.0,1905.9 L512.5,1902.4 L513.0,1899.3 L513.5,1896.7 L514.0,1894.7 L514.5,1893.4 L515.0,1893.0 L515.5,1893.5 L516.0,1894.9 L516.5,1897.3 L517.0,1900.8 L517.5,1905.3 L518.0,1910.8 L518.5,1917.3 L519.0,1924.7 L519.5,1932.8 L520.0,1941.6 L520.5,1950.9 L521.0,1960.6 L521.5,1970.5 L522.0,1980.5 L522.5,1990.3 L523.0,1999.7 L523.5,2008.7 L524.0,2016.9 L524.5,2024.4 L525.0,2031.0 L525.5,2036.5 L526.0,2041.1 L526.5,2044.6 L527.0,2047.1 L527.5,2048.5 L528.0,2049.0 L528.5,2048.5 L529.0,2047.3 L529.5,2045.3 L530.0,2042.6 L530.5,2039.5 L531.0,2035.9 L531.5,2032.0 L532.0,2027.8 L532.5,2023.6 L533.0,2019.3 L533.5,2015.0 L534.0,2010.8 L534.5,2006.8 L535.0,2003.0 L535.5,1999.4 L536.0,1996.1 L536.5,1993.0 L537.0,1990.2 L537.5,1987.7 L538.0,1985.4 L538.5,1983.4 L539.0,1981.6 L539.5,1980.1 L540.0,1978.7 L540.5,1977.5 L541.0,1976.5 L541.5,1975.7 L542.0,1975.0 L542.5,1974.4 L543.0,1973.9 L543.5,1973.4" fill="none" stroke="#ff00ff" stroke-width="6.2" stroke-linejoin="round" stroke-linecap="round"/>
<path d="M654.2,1966.7 L654.8,1966.1 L655.2,1965.4 L655.8,1964.7 L656.2,1963.7 L656.8,1962.7 L657.2,1961.4 L657.8,1960.0 L658.2,1958.4 L658.8,1956.5 L659.2,1954.4 L659.8,1952.1 L660.2,1949.5 L660.8,1946.7 L661.2,1943.6 L661.8,1940.2 L662.2,1936.6 L662.8,1932.8 L663.2,1928.8 L663.8,1924.6 L664.2,1920.4 L664.8,1916.1 L665.2,1911.8 L665.8,1907.6 L666.2,1903.7 L666.8,1900.0 L667.2,1896.6 L667.8,1893.8 L668.2,1891.5 L668.8,1889.9 L669.2,1889.1 L669.8,1889.1 L670.2,1890.0 L670.8,1891.9 L671.2,1894.8 L671.8,1898.6 L672.2,1903.5 L672.8,1909.4 L673.2,1916.2 L673.8,1923.8 L674.2,1932.2 L674.8,1941.2 L675.2,1950.7 L675.8,1960.5 L676.2,1970.5 L676.8,1980.5 L677.2,1990.3 L677.8,1999.8 L678.2,2008.8 L678.8,2017.2 L679.2,2024.8 L679.8,2031.6 L680.2,2037.5 L680.8,2042.4 L681.2,2046.2 L681.8,2049.1 L682.2,2051.0 L682.8,2051.9 L683.2,2051.9 L683.8,2051.1 L684.2,2049.5 L684.8,2047.2 L685.2,2044.4 L685.8,2041.0 L686.2,2037.3 L686.8,2033.4 L687.2,2029.2 L687.8,2024.9 L688.2,2020.6 L688.8,2016.4 L689.2,2012.2 L689.8,2008.2 L690.2,2004.4 L690.8,2000.8 L691.2,1997.4 L691.8,1994.3 L692.2,1991.5 L692.8,1988.9 L693.2,1986.6 L693.8,1984.5 L694.2,1982.6 L694.8,1981.0 L695.2,1979.6 L695.8,1978.3 L696.2,1977.3 L696.8,1976.3 L697.2,1975.6 L697.8,1974.9 L698.2,1974.3" fill="none" stroke="#ff00ff" stroke-width="6.2" stroke-linejoin="round" stroke-linecap="round"/>
<path d="M810.5,1965.9 L811.0,1965.2 L811.5,1964.4 L812.0,1963.4 L812.5,1962.4 L813.0,1961.1 L813.5,1959.7 L814.0,1958.1 L814.5,1956.3 L815.0,1954.3 L815.5,1952.0 L816.0,1949.6 L816.5,1946.9 L817.0,1943.9 L817.5,1940.7 L818.0,1937.3 L818.5,1933.7 L819.0,1930.0 L819.5,1926.0 L820.0,1922.0 L820.5,1918.0 L821.0,1914.0 L821.5,1910.0 L822.0,1906.2 L822.5,1902.7 L823.0,1899.5 L823.5,1896.6 L824.0,1894.3 L824.5,1892.5 L825.0,1891.4 L825.5,1891.0 L826.0,1891.4 L826.5,1892.7 L827.0,1894.8 L827.5,1897.9 L828.0,1901.8 L828.5,1906.7 L829.0,1912.5 L829.5,1919.1 L830.0,1926.4 L830.5,1934.4 L831.0,1942.9 L831.5,1951.9 L832.0,1961.1 L832.5,1970.5 L833.0,1979.6 L833.5,1988.5 L834.0,1997.1 L834.5,2005.3 L835.0,2013.0 L835.5,2020.0 L836.0,2026.3 L836.5,2031.9 L837.0,2036.6 L837.5,2040.4 L838.0,2043.3 L838.5,2045.4 L839.0,2046.6 L839.5,2047.0 L840.0,2046.6 L840.5,2045.6 L841.0,2043.9 L841.5,2041.6 L842.0,2038.9 L842.5,2035.8 L843.0,2032.3 L843.5,2028.7 L844.0,2024.9 L844.5,2021.0 L845.0,2017.1 L845.5,2013.3 L846.0,2009.5 L846.5,2005.9 L847.0,2002.5 L847.5,1999.2 L848.0,1996.1 L848.5,1993.3 L849.0,1990.7 L849.5,1988.3 L850.0,1986.1 L850.5,1984.2 L851.0,1982.4 L851.5,1980.9 L852.0,1979.5 L852.5,1978.3 L853.0,1977.3 L853.5,1976.4 L854.0,1975.6 L854.5,1975.0" fill="none" stroke="#ff00ff" stroke-width="6.2" stroke-linejoin="round" stroke-linecap="round"/>
<path d="M241.0,1970.8 L241.5,1970.4 L242.0,1977.5 L242.5,1966.1 L243.0,1973.5 L243.5,1969.2 L244.0,1973.7 L244.5,1974.6 L245.0,1974.6 L245.5,1979.1 L246.0,1975.4 L246.5,1977.6 L247.0,1970.5 L247.5,1967.9 L248.0,1968.5 L248.5,1973.3 L249.0,1971.7 L249.5,1976.9 L250.0,1974.1 L250.5,1970.4 L251.0,1973.2 L251.5,1971.0 L252.0,1975.4 L252.5,1969.4 L253.0,1971.5 L253.5,1969.5 L254.0,1974.0 L254.5,1970.0 L255.0,1980.2 L255.5,1978.6 L256.0,1972.3 L256.5,1974.5 L257.0,1973.9 L257.5,1972.7 L258.0,1979.0 L258.5,1969.4 L259.0,1971.8 L259.5,1968.9 L260.0,1979.9 L260.5,1970.2 L261.0,1968.9 L261.5,1978.1 L262.0,1978.8 L262.5,1976.7 L263.0,1969.0 L263.5,1970.3 L264.0,1966.0 L264.5,1968.5 L265.0,1964.9 L265.5,1961.1 L266.0,1965.4 L266.5,1967.1 L267.0,1973.8 L267.5,1965.6 L268.0,1974.7 L268.5,1972.6 L269.0,1976.1 L269.5,1972.7 L270.0,1964.4 L270.5,1971.4 L271.0,1971.2 L271.5,1972.8 L272.0,1970.0 L272.5,1973.0 L273.0,1979.9 L273.5,1967.9 L274.0,1964.4 L274.5,1970.8 L275.0,1974.2 L275.5,1972.4 L276.0,1968.4 L276.5,1974.6 L277.0,1968.6 L277.5,1971.4 L278.0,1970.5 L278.5,1978.9 L279.0,1974.0 L279.5,1970.5 L280.0,1964.2 L280.5,1971.7 L281.0,1970.7 L281.5,1972.4 L282.0,1971.4 L282.5,1968.1 L283.0,1963.5 L283.5,1965.6 L284.0,1963.9 L284.5,1969.5 L285.0,1970.7 L285.5,1966.9 L286.0,1974.0 L286.5,1969.2 L287.0,1968.8 L287.5,1963.1 L288.0,1965.5 L288.5,1971.7 L289.0,1965.5 L289.5,1968.5 L290.0,1967.3 L290.5,1971.9 L291.0,1967.0 L291.5,1970.4 L292.0,1970.0 L292.5,1964.1 L293.0,1968.7 L293.5,1971.4 L294.0,1970.9 L294.5,1972.4 L295.0,1971.8 L295.5,1967.8 L296.0,1970.2 L296.5,1969.6 L297.0,1972.7 L297.5,1964.2 L298.0,1975.3 L298.5,1971.9 L299.0,1967.8 L299.5,1975.8 L300.0,1975.7 L300.5,1968.5 L301.0,1976.5 L301.5,1977.2 L302.0,1969.8 L302.5,1982.3 L303.0,1969.9 L303.5,1971.5 L304.0,1972.5 L304.5,1973.2 L305.0,1972.2 L305.5,1972.8 L306.0,1977.8 L306.5,1967.5 L307.0,1977.8 L307.5,1975.8 L308.0,1967.0 L308.5,1971.1 L309.0,1969.1 L309.5,1965.3 L310.0,1963.6 L310.5,1963.6 L311.0,1969.3 L311.5,1964.6 L312.0,1967.7 L312.5,1970.6 L313.0,1969.6 L313.5,1971.8 L314.0,1975.8 L314.5,1969.9 L315.0,1972.3 L315.5,1965.6 L316.0,1972.7 L316.5,1965.3 L317.0,1975.9 L317.5,1974.9 L318.0,1964.6 L318.5,1971.8 L319.0,1974.4 L319.5,1969.0 L320.0,1964.3 L320.5,1968.6 L321.0,1970.4 L321.5,1969.1 L322.0,1974.6 L322.5,1965.1 L323.0,1962.1 L323.5,1972.3 L324.0,1970.7 L324.5,1974.9 L325.0,1969.9 L325.5,1963.9 L326.0,1975.7 L326.5,1976.7 L327.0,1963.1 L327.5,1977.9 L328.0,1971.7 L328.5,1972.2 L329.0,1972.2 L329.5,1968.4 L330.0,1968.1 L330.5,1979.0 L331.0,1978.3 L331.5,1966.5 L332.0,1969.2 L332.5,1972.2 L333.0,1969.8 L333.5,1968.4 L334.0,1969.1 L334.5,1971.3 L335.0,1971.9 L335.5,1965.9 L336.0,1967.3 L336.5,1959.1 L337.0,1965.5 L337.5,1971.0 L338.0,1974.6 L338.5,1967.3 L339.0,1965.1 L339.5,1971.4 L340.0,1967.1 L340.5,1975.0 L341.0,1975.5 L341.5,1977.4 L342.0,1969.1 L342.5,1969.2 L343.0,1970.2 L343.5,1970.1 L344.0,1975.2 L344.5,1967.5 L345.0,1973.3 L345.5,1966.5 L346.0,1973.9 L346.5,1976.2 L347.0,1973.2 L347.5,1972.9 L348.0,1975.0 L348.5,1969.0 L349.0,1974.3 L349.5,1963.8 L350.0,1981.5 L350.5,1973.9 L351.0,1978.9 L351.5,1969.5 L352.0,1962.7 L352.5,1971.5 L353.0,1965.4 L353.5,1979.6 L354.0,1980.1 L354.5,1972.8 L355.0,1982.6 L355.5,1965.9 L356.0,1966.8 L356.5,1978.3 L357.0,1974.5 L357.5,1969.0 L358.0,1970.8 L358.5,1975.7 L359.0,1969.0 L359.5,1972.6 L360.0,1971.6 L360.5,1974.2 L361.0,1974.4 L361.5,1972.6 L362.0,1959.3 L362.5,1968.1 L363.0,1971.3 L363.5,1978.3 L364.0,1974.0 L364.5,1970.8 L365.0,1967.9 L365.5,1974.1 L366.0,1972.8 L366.5,1971.9 L367.0,1971.2 L367.5,1964.3 L368.0,1975.1 L368.5,1975.8 L369.0,1972.0 L369.5,1976.8 L370.0,1967.7 L370.5,1973.0 L371.0,1970.1 L371.5,1964.9 L372.0,1975.9 L372.5,1969.9 L373.0,1970.7 L373.5,1967.7 L374.0,1967.0 L374.5,1967.1 L375.0,1975.9 L375.5,1970.2 L376.0,1966.4 L376.5,1971.2 L377.0,1968.8 L377.5,1969.5 L378.0,1972.2 L378.5,1971.5 L379.0,1967.6 L379.5,1973.9 L380.0,1976.1 L380.5,1975.9 L381.0,1973.4 L381.5,1972.2 L382.0,1975.4 L382.5,1976.6 L383.0,1974.4 L383.5,1976.2 L384.0,1963.1 L384.5,1967.1 L385.0,1968.3 L385.5,1971.7 L386.0,1966.1 L386.5,1971.9 L387.0,1970.8 L387.5,1970.7 L388.0,1969.8 L388.5,1977.0 L389.0,1969.7 L389.5,1970.8 L390.0,1967.8 L390.5,1970.9 L391.0,1967.4 L391.5,1963.5 L392.0,1977.0 L392.5,1966.1 L393.0,1972.6 L393.5,1966.5 L394.0,1965.9 L394.5,1968.2 L395.0,1977.0 L395.5,1977.0 L396.0,1976.1 L396.5,1964.3 L397.0,1969.8 L397.5,1975.0 L398.0,1976.1 L398.5,1967.8 L399.0,1967.3 L399.5,1963.3 L400.0,1969.1 L400.5,1968.9 L401.0,1979.1 L401.5,1978.8 L402.0,1971.4 L402.5,1966.6 L403.0,1975.2 L403.5,1976.4 L404.0,1964.9 L404.5,1964.6 L405.0,1967.2 L405.5,1975.5 L406.0,1968.0 L406.5,1970.3 L407.0,1966.9 L407.5,1970.1 L408.0,1966.4 L408.5,1970.0 L409.0,1974.7 L409.5,1968.1 L410.0,1972.8 L410.5,1967.5 L411.0,1970.3 L411.5,1967.7 L412.0,1972.6 L412.5,1974.7 L413.0,1969.8 L413.5,1972.4 L414.0,1974.3 L414.5,1968.0 L415.0,1975.9 L415.5,1967.5 L416.0,1974.9 L416.5,1960.3 L417.0,1961.5 L417.5,1971.6 L418.0,1971.2 L418.5,1969.3 L419.0,1968.1 L419.5,1964.9 L420.0,1965.3 L420.5,1974.3 L421.0,1974.2 L421.5,1975.5 L422.0,1970.1 L422.5,1966.8 L423.0,1972.0 L423.5,1965.3 L424.0,1967.5 L424.5,1965.1 L425.0,1969.6 L425.5,1973.0 L426.0,1965.3 L426.5,1971.5 L427.0,1970.1 L427.5,1974.1 L428.0,1969.5 L428.5,1971.7 L429.0,1967.3 L429.5,1973.8 L430.0,1967.6 L430.5,1965.8 L431.0,1969.4 L431.5,1973.0 L432.0,1958.0 L432.5,1969.3 L433.0,1969.7 L433.5,1966.4 L434.0,1961.0 L434.5,1965.0 L435.0,1971.4 L435.5,1973.6 L436.0,1967.4 L436.5,1971.6 L437.0,1968.3 L437.5,1970.8 L438.0,1967.4 L438.5,1970.0 L439.0,1972.8 L439.5,1966.9 L440.0,1971.7 L440.5,1972.4 L441.0,1972.9 L441.5,1979.2 L442.0,1974.5 L442.5,1974.4 L443.0,1971.5 L443.5,1971.0 L444.0,1973.9 L444.5,1974.7 L445.0,1963.9 L445.5,1969.7 L446.0,1970.6 L446.5,1970.3 L447.0,1981.8 L447.5,1977.1 L448.0,1976.3 L448.5,1974.4 L449.0,1975.6 L449.5,1968.1 L450.0,1972.7 L450.5,1968.5 L451.0,1971.7 L451.5,1969.9 L452.0,1965.4 L452.5,1969.6 L453.0,1969.3 L453.5,1976.5 L454.0,1963.5 L454.5,1966.9 L455.0,1966.0 L455.5,1966.8 L456.0,1973.9 L456.5,1973.4 L457.0,1971.7 L457.5,1969.0 L458.0,1972.0 L458.5,1964.9 L459.0,1968.5 L459.5,1968.8 L460.0,1969.6 L460.5,1975.5 L461.0,1973.5 L461.5,1975.0 L462.0,1970.5 L462.5,1961.3 L463.0,1970.6 L463.5,1964.3 L464.0,1969.1 L464.5,1961.0 L465.0,1975.0 L465.5,1973.5 L466.0,1972.1 L466.5,1971.5 L467.0,1980.2 L467.5,1971.8 L468.0,1969.6 L468.5,1971.9 L469.0,1970.6 L469.5,1975.6 L470.0,1967.9 L470.5,1969.4 L471.0,1965.5 L471.5,1969.1 L472.0,1963.7 L472.5,1966.5 L473.0,1968.9 L473.5,1972.6 L474.0,1966.0 L474.5,1973.1 L475.0,1968.4 L475.5,1969.9 L476.0,1966.3 L476.5,1964.9 L477.0,1975.2 L477.5,1968.0 L478.0,1970.4 L478.5,1966.7 L479.0,1968.0 L479.5,1971.6 L480.0,1965.8 L480.5,1969.5 L481.0,1968.9 L481.5,1961.6 L482.0,1967.9 L482.5,1972.8 L483.0,1962.6 L483.5,1968.9 L484.0,1968.8 L484.5,1975.6 L485.0,1975.2 L485.5,1969.0 L486.0,1968.1 L486.5,1965.3 L487.0,1975.4 L487.5,1977.7 L488.0,1968.6 L488.5,1971.2 L489.0,1963.0 L489.5,1980.4 L490.0,1963.8 L490.5,1974.1 L491.0,1960.9 L491.5,1972.7 L492.0,1970.3 L492.5,1973.2 L493.0,1974.3 L493.5,1975.2 L494.0,1975.9 L494.5,1970.8 L495.0,1968.7 L495.5,1975.7 L496.0,1974.0 L496.5,1971.9 L497.0,1969.5 L497.5,1973.1 L498.0,1967.9 L498.5,1971.2 L499.0,1963.4 L499.5,1978.0 L500.0,1973.1 L500.5,1969.5 L501.0,1963.5 L501.5,1963.8 L502.0,1956.8 L502.5,1962.8 L503.0,1962.3 L503.5,1967.0 L504.0,1958.6 L504.5,1953.1 L505.0,1960.2 L505.5,1952.8 L506.0,1949.5 L506.5,1960.8 L507.0,1950.6 L507.5,1946.1 L508.0,1936.7 L508.5,1931.2 L509.0,1925.5 L509.5,1923.2 L510.0,1923.9 L510.5,1916.0 L511.0,1909.9 L511.5,1907.7 L512.0,1910.8 L512.5,1910.3 L513.0,1904.7 L513.5,1899.8 L514.0,1886.5 L514.5,1902.1 L515.0,1897.3 L515.5,1890.7 L516.0,1886.3 L516.5,1902.8 L517.0,1900.7 L517.5,1909.2 L518.0,1905.4 L518.5,1912.8 L519.0,1928.8 L519.5,1934.4 L520.0,1941.6 L520.5,1946.9 L521.0,1964.9 L521.5,1969.2 L522.0,1987.3 L522.5,1982.5 L523.0,2006.0 L523.5,2007.2 L524.0,2018.4 L524.5,2025.4 L525.0,2029.1 L525.5,2037.8 L526.0,2041.6 L526.5,2049.6 L527.0,2053.8 L527.5,2047.8 L528.0,2052.6 L528.5,2047.1 L529.0,2049.0 L529.5,2054.3 L530.0,2051.1 L530.5,2038.9 L531.0,2038.8 L531.5,2030.4 L532.0,2025.2 L532.5,2025.2 L533.0,2026.5 L533.5,2018.3 L534.0,2007.4 L534.5,2020.8 L535.0,2006.4 L535.5,2002.1 L536.0,1994.3 L536.5,1994.0 L537.0,1991.6 L537.5,1988.1 L538.0,1982.2 L538.5,1984.1 L539.0,1985.7 L539.5,1971.7 L540.0,1978.2 L540.5,1987.2 L541.0,1980.9 L541.5,1971.6 L542.0,1979.7 L542.5,1979.9 L543.0,1975.6 L543.5,1974.0 L544.0,1972.1 L544.5,1973.6 L545.0,1970.7 L545.5,1969.4 L546.0,1977.2 L546.5,1975.1 L547.0,1974.4 L547.5,1976.1 L548.0,1966.6 L548.5,1970.4 L549.0,1969.8 L549.5,1977.4 L550.0,1985.6 L550.5,1970.0 L551.0,1972.7 L551.5,1975.2 L552.0,1982.2 L552.5,1975.0 L553.0,1970.0 L553.5,1967.8 L554.0,1969.9 L554.5,1975.6 L555.0,1971.4 L555.5,1970.9 L556.0,1972.5 L556.5,1964.4 L557.0,1966.8 L557.5,1976.1 L558.0,1974.6 L558.5,1975.9 L559.0,1970.0 L559.5,1968.9 L560.0,1976.2 L560.5,1977.9 L561.0,1971.4 L561.5,1975.6 L562.0,1978.3 L562.5,1970.2 L563.0,1973.3 L563.5,1970.7 L564.0,1972.2 L564.5,1975.9 L565.0,1965.4 L565.5,1967.7 L566.0,1963.0 L566.5,1968.1 L567.0,1964.0 L567.5,1972.4 L568.0,1970.7 L568.5,1968.0 L569.0,1964.0 L569.5,1972.0 L570.0,1973.3 L570.5,1969.0 L571.0,1973.8 L571.5,1967.3 L572.0,1973.6 L572.5,1976.5 L573.0,1969.7 L573.5,1972.5 L574.0,1968.4 L574.5,1968.6 L575.0,1963.0 L575.5,1966.6 L576.0,1976.1 L576.5,1967.9 L577.0,1979.5 L577.5,1978.2 L578.0,1974.3 L578.5,1974.4 L579.0,1980.2 L579.5,1972.8 L580.0,1972.8 L580.5,1967.8 L581.0,1969.2 L581.5,1969.2 L582.0,1966.1 L582.5,1973.4 L583.0,1974.1 L583.5,1963.9 L584.0,1971.9 L584.5,1966.6 L585.0,1971.0 L585.5,1967.2 L586.0,1978.6 L586.5,1972.4 L587.0,1972.2 L587.5,1984.8 L588.0,1974.8 L588.5,1967.6 L589.0,1974.1 L589.5,1968.7 L590.0,1961.7 L590.5,1973.9 L591.0,1971.8 L591.5,1967.3 L592.0,1973.8 L592.5,1969.0 L593.0,1977.8 L593.5,1968.0 L594.0,1969.9 L594.5,1979.2 L595.0,1963.6 L595.5,1969.4 L596.0,1963.4 L596.5,1966.5 L597.0,1975.3 L597.5,1977.0 L598.0,1972.7 L598.5,1977.1 L599.0,1972.2 L599.5,1972.6 L600.0,1967.8 L600.5,1974.9 L601.0,1966.8 L601.5,1975.1 L602.0,1966.6 L602.5,1973.1 L603.0,1977.3 L603.5,1976.7 L604.0,1971.4 L604.5,1976.9 L605.0,1968.0 L605.5,1973.5 L606.0,1972.6 L606.5,1969.8 L607.0,1980.9 L607.5,1974.0 L608.0,1977.1 L608.5,1960.3 L609.0,1962.4 L609.5,1966.9 L610.0,1972.8 L610.5,1972.4 L611.0,1966.8 L611.5,1966.9 L612.0,1970.8 L612.5,1970.3 L613.0,1972.5 L613.5,1972.3 L614.0,1964.6 L614.5,1968.3 L615.0,1972.5 L615.5,1969.3 L616.0,1971.9 L616.5,1969.8 L617.0,1970.9 L617.5,1958.5 L618.0,1966.1 L618.5,1957.8 L619.0,1964.4 L619.5,1968.4 L620.0,1971.5 L620.5,1971.6 L621.0,1965.8 L621.5,1969.0 L622.0,1960.2 L622.5,1975.7 L623.0,1967.4 L623.5,1968.1 L624.0,1967.6 L624.5,1972.0 L625.0,1972.2 L625.5,1969.4 L626.0,1966.8 L626.5,1972.8 L627.0,1969.4 L627.5,1967.7 L628.0,1971.7 L628.5,1965.2 L629.0,1975.1 L629.5,1973.4 L630.0,1965.7 L630.5,1967.2 L631.0,1980.1 L631.5,1967.8 L632.0,1965.3 L632.5,1982.4 L633.0,1968.0 L633.5,1967.1 L634.0,1968.8 L634.5,1963.6 L635.0,1966.1 L635.5,1960.8 L636.0,1969.5 L636.5,1968.8 L637.0,1971.4 L637.5,1971.5 L638.0,1963.8 L638.5,1973.6 L639.0,1966.9 L639.5,1963.3 L640.0,1974.6 L640.5,1972.5 L641.0,1968.1 L641.5,1956.9 L642.0,1961.9 L642.5,1964.2 L643.0,1965.0 L643.5,1960.8 L644.0,1974.9 L644.5,1958.6 L645.0,1969.4 L645.5,1970.8 L646.0,1964.4 L646.5,1962.8 L647.0,1967.4 L647.5,1969.1 L648.0,1964.1 L648.5,1972.1 L649.0,1968.0 L649.5,1969.9 L650.0,1966.5 L650.5,1974.9 L651.0,1966.6 L651.5,1969.1 L652.0,1961.8 L652.5,1967.6 L653.0,1965.0 L653.5,1965.8 L654.0,1974.0 L654.5,1956.6 L655.0,1963.8 L655.5,1964.8 L656.0,1960.6 L656.5,1966.6 L657.0,1963.0 L657.5,1961.5 L658.0,1958.9 L658.5,1958.1 L659.0,1949.0 L659.5,1955.6 L660.0,1950.4 L660.5,1948.5 L661.0,1946.9 L661.5,1935.9 L662.0,1931.7 L662.5,1938.3 L663.0,1934.6 L663.5,1924.5 L664.0,1919.8 L664.5,1915.5 L665.0,1914.8 L665.5,1908.5 L666.0,1903.1 L666.5,1903.1 L667.0,1904.7 L667.5,1891.3 L668.0,1891.8 L668.5,1892.6 L669.0,1889.4 L669.5,1891.5 L670.0,1888.7 L670.5,1890.0 L671.0,1893.7 L671.5,1897.8 L672.0,1894.9 L672.5,1905.3 L673.0,1913.4 L673.5,1918.0 L674.0,1921.2 L674.5,1938.5 L675.0,1942.6 L675.5,1957.8 L676.0,1975.0 L676.5,1975.6 L677.0,1979.9 L677.5,1991.8 L678.0,2007.1 L678.5,2014.5 L679.0,2022.3 L679.5,2031.0 L680.0,2031.1 L680.5,2048.0 L681.0,2048.2 L681.5,2049.2 L682.0,2049.9 L682.5,2047.5 L683.0,2051.6 L683.5,2056.1 L684.0,2051.5 L684.5,2050.2 L685.0,2045.5 L685.5,2043.7 L686.0,2028.8 L686.5,2036.7 L687.0,2022.7 L687.5,2029.4 L688.0,2018.7 L688.5,2016.9 L689.0,2011.8 L689.5,2010.5 L690.0,2015.7 L690.5,2003.8 L691.0,2003.3 L691.5,2006.6 L692.0,1997.0 L692.5,2000.9 L693.0,1997.2 L693.5,1990.9 L694.0,1977.3 L694.5,1984.5 L695.0,1981.1 L695.5,1977.6 L696.0,1978.8 L696.5,1975.0 L697.0,1981.4 L697.5,1976.6 L698.0,1979.0 L698.5,1972.1 L699.0,1974.2 L699.5,1974.7 L700.0,1975.6 L700.5,1965.5 L701.0,1971.6 L701.5,1970.0 L702.0,1976.6 L702.5,1968.3 L703.0,1968.8 L703.5,1968.1 L704.0,1964.1 L704.5,1974.8 L705.0,1972.7 L705.5,1969.1 L706.0,1970.2 L706.5,1966.0 L707.0,1974.2 L707.5,1969.5 L708.0,1972.4 L708.5,1971.4 L709.0,1967.9 L709.5,1964.6 L710.0,1975.7 L710.5,1962.7 L711.0,1969.5 L711.5,1973.5 L712.0,1967.7 L712.5,1965.3 L713.0,1965.5 L713.5,1965.1 L714.0,1968.8 L714.5,1967.6 L715.0,1966.4 L715.5,1967.6 L716.0,1968.6 L716.5,1970.6 L717.0,1973.9 L717.5,1974.9 L718.0,1972.1 L718.5,1974.7 L719.0,1976.8 L719.5,1979.2 L720.0,1976.4 L720.5,1973.0 L721.0,1968.3 L721.5,1971.3 L722.0,1970.1 L722.5,1962.2 L723.0,1970.7 L723.5,1969.8 L724.0,1968.9 L724.5,1970.8 L725.0,1970.2 L725.5,1964.8 L726.0,1961.6 L726.5,1970.6 L727.0,1975.1 L727.5,1966.2 L728.0,1972.1 L728.5,1966.7 L729.0,1972.3 L729.5,1971.5 L730.0,1975.1 L730.5,1967.7 L731.0,1971.3 L731.5,1968.7 L732.0,1971.5 L732.5,1971.4 L733.0,1959.9 L733.5,1970.9 L734.0,1973.4 L734.5,1964.5 L735.0,1960.5 L735.5,1969.1 L736.0,1967.6 L736.5,1965.0 L737.0,1966.9 L737.5,1971.6 L738.0,1976.0 L738.5,1966.6 L739.0,1975.6 L739.5,1973.5 L740.0,1965.2 L740.5,1975.3 L741.0,1962.8 L741.5,1975.0 L742.0,1971.7 L742.5,1959.4 L743.0,1970.3 L743.5,1965.1 L744.0,1965.0 L744.5,1971.3 L745.0,1980.1 L745.5,1973.4 L746.0,1964.4 L746.5,1976.1 L747.0,1969.6 L747.5,1963.5 L748.0,1968.1 L748.5,1972.4 L749.0,1971.0 L749.5,1974.2 L750.0,1968.9 L750.5,1973.0 L751.0,1977.3 L751.5,1967.0 L752.0,1960.7 L752.5,1971.3 L753.0,1971.7 L753.5,1972.1 L754.0,1971.2 L754.5,1964.8 L755.0,1976.5 L755.5,1975.9 L756.0,1963.9 L756.5,1975.3 L757.0,1982.2 L757.5,1972.1 L758.0,1976.6 L758.5,1962.8 L759.0,1975.9 L759.5,1973.3 L760.0,1968.5 L760.5,1974.0 L761.0,1960.8 L761.5,1966.2 L762.0,1970.3 L762.5,1968.1 L763.0,1962.2 L763.5,1965.3 L764.0,1972.8 L764.5,1972.5 L765.0,1965.4 L765.5,1971.8 L766.0,1976.5 L766.5,1979.3 L767.0,1973.5 L767.5,1976.4 L768.0,1969.9 L768.5,1974.1 L769.0,1968.3 L769.5,1969.3 L770.0,1970.6 L770.5,1977.0 L771.0,1975.5 L771.5,1969.5 L772.0,1963.2 L772.5,1979.0 L773.0,1973.1 L773.5,1969.2 L774.0,1962.5 L774.5,1973.0 L775.0,1969.2 L775.5,1970.5 L776.0,1968.2 L776.5,1964.5 L777.0,1974.3 L777.5,1964.4 L778.0,1960.6 L778.5,1969.2 L779.0,1968.9 L779.5,1968.8 L780.0,1972.3 L780.5,1965.6 L781.0,1974.7 L781.5,1969.6 L782.0,1970.9 L782.5,1973.7 L783.0,1976.5 L783.5,1965.1 L784.0,1964.8 L784.5,1966.3 L785.0,1957.7 L785.5,1968.7 L786.0,1973.0 L786.5,1970.6 L787.0,1966.7 L787.5,1969.0 L788.0,1971.1 L788.5,1969.0 L789.0,1966.9 L789.5,1965.6 L790.0,1973.7 L790.5,1967.0 L791.0,1962.7 L791.5,1973.7 L792.0,1969.7 L792.5,1972.5 L793.0,1968.9 L793.5,1968.9 L794.0,1973.0 L794.5,1965.1 L795.0,1969.5 L795.5,1974.8 L796.0,1965.7 L796.5,1960.4 L797.0,1966.8 L797.5,1964.2 L798.0,1970.0 L798.5,1968.0 L799.0,1965.5 L799.5,1969.6 L800.0,1966.9 L800.5,1974.1 L801.0,1967.8 L801.5,1968.7 L802.0,1965.7 L802.5,1975.8 L803.0,1970.1 L803.5,1964.9 L804.0,1972.3 L804.5,1968.1 L805.0,1972.5 L805.5,1970.2 L806.0,1962.3 L806.5,1976.8 L807.0,1974.3 L807.5,1974.8 L808.0,1973.1 L808.5,1968.2 L809.0,1967.5 L809.5,1963.5 L810.0,1963.1 L810.5,1968.6 L811.0,1964.9 L811.5,1958.0 L812.0,1962.5 L812.5,1962.3 L813.0,1950.6 L813.5,1966.4 L814.0,1949.3 L814.5,1954.4 L815.0,1955.2 L815.5,1950.8 L816.0,1952.5 L816.5,1954.9 L817.0,1941.2 L817.5,1940.4 L818.0,1935.9 L818.5,1932.6 L819.0,1930.7 L819.5,1922.7 L820.0,1931.0 L820.5,1918.2 L821.0,1909.9 L821.5,1913.7 L822.0,1907.1 L822.5,1903.1 L823.0,1895.4 L823.5,1889.5 L824.0,1891.1 L824.5,1897.8 L825.0,1894.1 L825.5,1895.7 L826.0,1898.4 L826.5,1889.2 L827.0,1896.7 L827.5,1901.6 L828.0,1900.6 L828.5,1903.4 L829.0,1909.5 L829.5,1919.2 L830.0,1932.0 L830.5,1936.0 L831.0,1936.1 L831.5,1956.6 L832.0,1956.0 L832.5,1971.2 L833.0,1985.6 L833.5,1989.2 L834.0,1993.7 L834.5,2000.8 L835.0,2025.5 L835.5,2021.2 L836.0,2018.7 L836.5,2023.7 L837.0,2035.8 L837.5,2037.6 L838.0,2040.7 L838.5,2051.7 L839.0,2049.0 L839.5,2049.5 L840.0,2046.8 L840.5,2049.5 L841.0,2046.9 L841.5,2041.5 L842.0,2037.1 L842.5,2037.2 L843.0,2027.9 L843.5,2028.9 L844.0,2033.2 L844.5,2013.7 L845.0,2013.4 L845.5,2017.3 L846.0,2010.6 L846.5,2009.7 L847.0,2009.4 L847.5,2005.0 L848.0,1998.1 L848.5,1994.8 L849.0,1994.9 L849.5,1986.3 L850.0,1991.9 L850.5,1985.8 L851.0,1985.3 L851.5,1986.3 L852.0,1979.4 L852.5,1986.7 L853.0,1975.3 L853.5,1979.8 L854.0,1977.0 L854.5,1978.7 L855.0,1970.6 L855.5,1978.9 L856.0,1974.8 L856.5,1978.4 L857.0,1977.2 L857.5,1966.2 L858.0,1978.5 L858.5,1965.7 L859.0,1970.6 L859.5,1977.7 L860.0,1978.3 L860.5,1967.5 L861.0,1977.2 L861.5,1971.1 L862.0,1963.1 L862.5,1976.7 L863.0,1969.1 L863.5,1972.7 L864.0,1966.8 L864.5,1963.9 L865.0,1969.5 L865.5,1970.0 L866.0,1966.3 L866.5,1966.4 L867.0,1975.7 L867.5,1977.7 L868.0,1976.1 L868.5,1978.7 L869.0,1969.1 L869.5,1972.3 L870.0,1972.0 L870.5,1967.9 L871.0,1969.4 L871.5,1970.8 L872.0,1963.5 L872.5,1970.5 L873.0,1976.1 L873.5,1966.9 L874.0,1972.4 L874.5,1976.5 L875.0,1976.4 L875.5,1966.2 L876.0,1982.8 L876.5,1979.1 L877.0,1970.3 L877.5,1973.2 L878.0,1967.1 L878.5,1974.6 L879.0,1975.6 L879.5,1969.7 L880.0,1973.4 L880.5,1971.7 L881.0,1974.0 L881.5,1973.5 L882.0,1975.8 L882.5,1977.1 L883.0,1970.7 L883.5,1972.1 L884.0,1972.5 L884.5,1967.3 L885.0,1970.4 L885.5,1976.8 L886.0,1968.0 L886.5,1976.3 L887.0,1972.3 L887.5,1970.3 L888.0,1972.8 L888.5,1970.6 L889.0,1968.8 L889.5,1971.8 L890.0,1969.2 L890.5,1969.7 L891.0,1966.0 L891.5,1963.7 L892.0,1959.7 L892.5,1968.3 L893.0,1964.8 L893.5,1966.4 L894.0,1977.6 L894.5,1968.1 L895.0,1966.2 L895.5,1968.7 L896.0,1973.9 L896.5,1971.3 L897.0,1976.6 L897.5,1966.7 L898.0,1964.7 L898.5,1973.8 L899.0,1970.2 L899.5,1961.8 L900.0,1967.3 L900.5,1966.4 L901.0,1972.4 L901.5,1970.9 L902.0,1976.6 L902.5,1973.1 L903.0,1970.8 L903.5,1971.1 L904.0,1966.5 L904.5,1966.6 L905.0,1969.4 L905.5,1973.5 L906.0,1972.4 L906.5,1966.4 L907.0,1974.1 L907.5,1979.4 L908.0,1985.0 L908.5,1976.6 L909.0,1975.4 L909.5,1969.7 L910.0,1970.2 L910.5,1974.6 L911.0,1969.1 L911.5,1965.8 L912.0,1971.7 L912.5,1964.4 L913.0,1959.6 L913.5,1975.8 L914.0,1970.1 L914.5,1969.4 L915.0,1968.1 L915.5,1964.2 L916.0,1970.2 L916.5,1969.5 L917.0,1966.8 L917.5,1973.9 L918.0,1964.5 L918.5,1970.2 L919.0,1963.2 L919.5,1967.1 L920.0,1966.6 L920.5,1974.3 L921.0,1963.2 L921.5,1977.8 L922.0,1974.8 L922.5,1967.7 L923.0,1962.8 L923.5,1965.9 L924.0,1968.3 L924.5,1957.8 L925.0,1969.9 L925.5,1967.3 L926.0,1965.7 L926.5,1969.7 L927.0,1973.3 L927.5,1975.3 L928.0,1973.5 L928.5,1975.6 L929.0,1974.9 L929.5,1970.2 L930.0,1980.9 L930.5,1979.4 L931.0,1970.0 L931.5,1969.2 L932.0,1970.8 L932.5,1973.4 L933.0,1973.2 L933.5,1957.5 L934.0,1971.7 L934.5,1967.1 L935.0,1968.9 L935.5,1979.8 L936.0,1969.5 L936.5,1976.2 L937.0,1960.0 L937.5,1967.1 L938.0,1968.9 L938.5,1974.9 L939.0,1971.9 L939.5,1966.1 L940.0,1965.7 L940.5,1964.8 L941.0,1971.2 L941.5,1967.2 L942.0,1965.4 L942.5,1965.6 L943.0,1965.2 L943.5,1973.9 L944.0,1968.7 L944.5,1968.4 L945.0,1962.8 L945.5,1967.7 L946.0,1976.0 L946.5,1970.2 L947.0,1972.6 L947.5,1970.8 L948.0,1966.5 L948.5,1965.6 L949.0,1965.3 L949.5,1963.7 L950.0,1959.1 L950.5,1966.7 L951.0,1954.1 L951.5,1961.4 L952.0,1964.5 L952.5,1964.6 L953.0,1962.1 L953.5,1973.3 L954.0,1959.4 L954.5,1963.8 L955.0,1962.3 L955.5,1970.5 L956.0,1969.8 L956.5,1963.4 L957.0,1979.3 L957.5,1977.9 L958.0,1981.9 L958.5,1976.7 L959.0,1970.3 L959.5,1969.0 L960.0,1979.1 L960.5,1973.1 L961.0,1973.0 L961.5,1979.4 L962.0,1968.0 L962.5,1968.5 L963.0,1967.0 L963.5,1975.0 L964.0,1971.0 L964.5,1977.0 L965.0,1965.6 L965.5,1970.4 L966.0,1975.1 L966.5,1970.5 L967.0,1966.6 L967.5,1969.2 L968.0,1973.2 L968.5,1964.2 L969.0,1966.9 L969.5,1970.5 L970.0,1978.0 L970.5,1978.3 L971.0,1974.9 L971.5,1970.9 L972.0,1964.1 L972.5,1976.2 L973.0,1966.6 L973.5,1972.3 L974.0,1966.4 L974.5,1969.4 L975.0,1971.0 L975.5,1973.6 L976.0,1971.7 L976.5,1965.8 L977.0,1966.2 L977.5,1965.5 L978.0,1971.7 L978.5,1971.7 L979.0,1974.5 L979.5,1969.9 L980.0,1972.1 L980.5,1968.7 L981.0,1974.3 L981.5,1966.3 L982.0,1970.1 L982.5,1959.3 L983.0,1971.9 L983.5,1971.1 L984.0,1963.2 L984.5,1970.1 L985.0,1969.2 L985.5,1974.9 L986.0,1975.5 L986.5,1971.4 L987.0,1969.4 L987.5,1967.0 L988.0,1969.7 L988.5,1970.8 L989.0,1970.2 L989.5,1971.7 L990.0,1967.2 L990.5,1967.6 L991.0,1968.2 L991.5,1962.8 L992.0,1980.2 L992.5,1968.0 L993.0,1974.8 L993.5,1968.8 L994.0,1977.4 L994.5,1964.3 L995.0,1971.1 L995.5,1971.1 L996.0,1971.8 L996.5,1970.6 L997.0,1970.3 L997.5,1961.6 L998.0,1972.9 L998.5,1969.1 L999.0,1972.7 L999.5,1975.9 L1000.0,1970.4 L1000.5,1973.7 L1001.0,1978.1 L1001.5,1976.8 L1002.0,1966.1 L1002.5,1969.9 L1003.0,1967.7 L1003.5,1968.2 L1004.0,1973.6 L1004.5,1967.6 L1005.0,1969.8 L1005.5,1973.5 L1006.0,1960.8 L1006.5,1955.9 L1007.0,1966.5 L1007.5,1966.2 L1008.0,1965.1 L1008.5,1971.6 L1009.0,1963.1 L1009.5,1970.2 L1010.0,1975.3 L1010.5,1961.8 L1011.0,1974.4 L1011.5,1966.2 L1012.0,1969.4 L1012.5,1969.6 L1013.0,1958.3 L1013.5,1973.8 L1014.0,1968.7 L1014.5,1970.3 L1015.0,1971.7 L1015.5,1965.2 L1016.0,1973.3 L1016.5,1975.7 L1017.0,1974.5 L1017.5,1971.9 L1018.0,1961.6 L1018.5,1965.6 L1019.0,1973.6 L1019.5,1977.9 L1020.0,1967.7 L1020.5,1968.7 L1021.0,1971.5 L1021.5,1973.2 L1022.0,1966.6 L1022.5,1960.7 L1023.0,1962.3 L1023.5,1973.8 L1024.0,1973.7 L1024.5,1969.8 L1025.0,1969.2 L1025.5,1963.7 L1026.0,1969.1 L1026.5,1964.5 L1027.0,1976.2 L1027.5,1966.9 L1028.0,1968.4 L1028.5,1971.3 L1029.0,1967.5 L1029.5,1963.5 L1030.0,1971.7 L1030.5,1967.0 L1031.0,1972.7 L1031.5,1974.1 L1032.0,1964.2 L1032.5,1967.9 L1033.0,1973.9 L1033.5,1969.5 L1034.0,1964.9 L1034.5,1970.2 L1035.0,1968.1 L1035.5,1978.3 L1036.0,1969.1 L1036.5,1967.9 L1037.0,1968.8 L1037.5,1971.9 L1038.0,1968.3 L1038.5,1973.0 L1039.0,1964.8 L1039.5,1973.8 L1040.0,1976.3 L1040.5,1966.6 L1041.0,1962.9 L1041.5,1972.7 L1042.0,1967.1 L1042.5,1961.4 L1043.0,1976.5 L1043.5,1966.4 L1044.0,1965.2 L1044.5,1972.1 L1045.0,1964.1 L1045.5,1963.0 L1046.0,1970.0 L1046.5,1965.8 L1047.0,1968.8 L1047.5,1976.5 L1048.0,1969.6 L1048.5,1974.9 L1049.0,1978.6 L1049.5,1968.9 L1050.0,1967.4 L1050.5,1973.8 L1051.0,1976.9 L1051.5,1971.6 L1052.0,1957.5 L1052.5,1975.3 L1053.0,1976.6 L1053.5,1972.6 L1054.0,1967.8 L1054.5,1973.7 L1055.0,1971.6 L1055.5,1964.4 L1056.0,1966.7 L1056.5,1974.8 L1057.0,1972.3 L1057.5,1970.0 L1058.0,1987.1 L1058.5,1978.7 L1059.0,1975.7 L1059.5,1971.5 L1060.0,1968.4 L1060.5,1964.7 L1061.0,1970.1 L1061.5,1979.1 L1062.0,1975.8 L1062.5,1977.7 L1063.0,1970.5 L1063.5,1965.2 L1064.0,1976.6 L1064.5,1973.7 L1065.0,1962.4 L1065.5,1971.6 L1066.0,1971.4 L1066.5,1965.5 L1067.0,1974.0 L1067.5,1969.4 L1068.0,1967.1 L1068.5,1969.6 L1069.0,1970.2 L1069.5,1967.5 L1070.0,1967.5 L1070.5,1965.5 L1071.0,1974.6 L1071.5,1972.2 L1072.0,1976.1 L1072.5,1970.3 L1073.0,1975.0 L1073.5,1961.2 L1074.0,1968.0 L1074.5,1964.9 L1075.0,1972.1 L1075.5,1965.9 L1076.0,1966.2 L1076.5,1973.9 L1077.0,1967.2 L1077.5,1969.3 L1078.0,1964.7 L1078.5,1968.7 L1079.0,1965.3 L1079.5,1968.3 L1080.0,1963.2 L1080.5,1971.0 L1081.0,1968.2 L1081.5,1972.6 L1082.0,1968.0 L1082.5,1970.3 L1083.0,1969.0 L1083.5,1977.4 L1084.0,1973.4 L1084.5,1972.7 L1085.0,1972.3 L1085.5,1975.3 L1086.0,1970.4 L1086.5,1972.1 L1087.0,1970.0 L1087.5,1973.0 L1088.0,1967.6 L1088.5,1974.2 L1089.0,1973.9 L1089.5,1969.6 L1090.0,1964.3 L1090.5,1973.8 L1091.0,1974.1 L1091.5,1970.9 L1092.0,1967.6 L1092.5,1974.5 L1093.0,1977.9 L1093.5,1975.1 L1094.0,1969.0 L1094.5,1964.6 L1095.0,1972.0 L1095.5,1968.9 L1096.0,1962.7 L1096.5,1967.0 L1097.0,1976.8 L1097.5,1971.7 L1098.0,1966.1 L1098.5,1964.9 L1099.0,1962.4 L1099.5,1964.4 L1100.0,1963.2 L1100.5,1962.1 L1101.0,1969.0 L1101.5,1968.7 L1102.0,1972.3 L1102.5,1967.2 L1103.0,1964.9 L1103.5,1969.1 L1104.0,1978.5 L1104.5,1967.0 L1105.0,1972.4 L1105.5,1964.5 L1106.0,1961.4 L1106.5,1975.8 L1107.0,1978.6 L1107.5,1976.8 L1108.0,1971.1 L1108.5,1977.7 L1109.0,1974.5 L1109.5,1975.5 L1110.0,1974.4 L1110.5,1971.5 L1111.0,1982.1 L1111.5,1976.2 L1112.0,1972.8 L1112.5,1971.2 L1113.0,1971.1 L1113.5,1979.8 L1114.0,1971.3 L1114.5,1970.8 L1115.0,1970.2 L1115.5,1967.0 L1116.0,1967.5 L1116.5,1970.2 L1117.0,1980.2 L1117.5,1965.9 L1118.0,1975.4 L1118.5,1973.5 L1119.0,1973.3 L1119.5,1970.3 L1120.0,1975.9 L1120.5,1969.4 L1121.0,1972.4 L1121.5,1970.4 L1122.0,1973.4 L1122.5,1969.4 L1123.0,1972.5 L1123.5,1969.2 L1124.0,1971.6 L1124.5,1968.0 L1125.0,1974.8 L1125.5,1969.6 L1126.0,1968.0 L1126.5,1974.1 L1127.0,1969.1 L1127.5,1959.5 L1128.0,1964.7 L1128.5,1967.2 L1129.0,1970.2 L1129.5,1973.9 L1130.0,1969.2 L1130.5,1977.7 L1131.0,1977.2 L1131.5,1977.2 L1132.0,1976.1" fill="none" stroke="#ff00ff" stroke-width="5.2" stroke-linejoin="round" stroke-linecap="butt"/>
<path d="M241.0,2090.2 L241.5,2080.7 L242.0,2086.1 L242.5,2088.2 L243.0,2088.5 L243.5,2082.9 L244.0,2091.9 L244.5,2075.9 L245.0,2082.5 L245.5,2080.9 L246.0,2082.6 L246.5,2085.7 L247.0,2076.5 L247.5,2078.2 L248.0,2089.8 L248.5,2087.3 L249.0,2089.6 L249.5,2085.5 L250.0,2087.4 L250.5,2085.0 L251.0,2082.7 L251.5,2083.6 L252.0,2075.8 L252.5,2088.8 L253.0,2079.5 L253.5,2081.6 L254.0,2095.8 L254.5,2082.5 L255.0,2081.7 L255.5,2080.2 L256.0,2091.1 L256.5,2086.5 L257.0,2081.8 L257.5,2084.9 L258.0,2085.6 L258.5,2088.5 L259.0,2087.8 L259.5,2084.6 L260.0,2083.6 L260.5,2083.6 L261.0,2084.3 L261.5,2079.4 L262.0,2080.4 L262.5,2085.9 L263.0,2087.5 L263.5,2084.2 L264.0,2082.7 L264.5,2088.3 L265.0,2086.4 L265.5,2091.0 L266.0,2080.8 L266.5,2084.4 L267.0,2087.1 L267.5,2083.2 L268.0,2090.3 L268.5,2080.7 L269.0,2084.9 L269.5,2089.4 L270.0,2091.3 L270.5,2076.9 L271.0,2081.2 L271.5,2078.9 L272.0,2080.8 L272.5,2079.4 L273.0,2092.6 L273.5,2082.1 L274.0,2079.2 L274.5,2068.9 L275.0,2085.5 L275.5,2078.5 L276.0,2085.4 L276.5,2083.1 L277.0,2082.5 L277.5,2086.7 L278.0,2091.9 L278.5,2088.6 L279.0,2081.1 L279.5,2078.1 L280.0,2085.1 L280.5,2080.7 L281.0,2083.6 L281.5,2090.6 L282.0,2079.2 L282.5,2073.7 L283.0,2080.7 L283.5,2089.1 L284.0,2084.5 L284.5,2088.2 L285.0,2088.6 L285.5,2084.3 L286.0,2083.5 L286.5,2085.6 L287.0,2088.4 L287.5,2074.4 L288.0,2075.6 L288.5,2085.2 L289.0,2081.5 L289.5,2078.3 L290.0,2079.2 L290.5,2081.8 L291.0,2080.4 L291.5,2088.2 L292.0,2077.7 L292.5,2082.1 L293.0,2068.3 L293.5,2084.7 L294.0,2083.6 L294.5,2085.5 L295.0,2093.1 L295.5,2095.3 L296.0,2084.7 L296.5,2084.9 L297.0,2084.4 L297.5,2089.8 L298.0,2076.8 L298.5,2074.5 L299.0,2086.4 L299.5,2081.9 L300.0,2078.0 L300.5,2086.8 L301.0,2078.3 L301.5,2079.7 L302.0,2090.6 L302.5,2091.3 L303.0,2084.6 L303.5,2087.8 L304.0,2086.1 L304.5,2092.1 L305.0,2092.6 L305.5,2087.5 L306.0,2085.8 L306.5,2094.3 L307.0,2090.8 L307.5,2090.0 L308.0,2075.3 L308.5,2077.9 L309.0,2078.8 L309.5,2082.3 L310.0,2085.7 L310.5,2079.3 L311.0,2077.1 L311.5,2082.3 L312.0,2072.4 L312.5,2077.6 L313.0,2085.3 L313.5,2079.7 L314.0,2075.4 L314.5,2088.5 L315.0,2080.8 L315.5,2074.5 L316.0,2082.5 L316.5,2083.7 L317.0,2086.0 L317.5,2080.3 L318.0,2077.8 L318.5,2079.7 L319.0,2074.1 L319.5,2084.6 L320.0,2078.0 L320.5,2079.4 L321.0,2080.9 L321.5,2073.9 L322.0,2079.4 L322.5,2080.3 L323.0,2079.6 L323.5,2087.7 L324.0,2081.8 L324.5,2082.9 L325.0,2072.4 L325.5,2082.6 L326.0,2080.2 L326.5,2088.4 L327.0,2076.4 L327.5,2076.7 L328.0,2079.7 L328.5,2083.7 L329.0,2082.3 L329.5,2078.0 L330.0,2082.0 L330.5,2078.3 L331.0,2081.7 L331.5,2083.1 L332.0,2077.8 L332.5,2078.4 L333.0,2080.9 L333.5,2076.9 L334.0,2087.8 L334.5,2082.9 L335.0,2069.4 L335.5,2077.0 L336.0,2072.2 L336.5,2074.0 L337.0,2079.8 L337.5,2077.1 L338.0,2082.2 L338.5,2078.1 L339.0,2092.3 L339.5,2075.5 L340.0,2078.0 L340.5,2074.9 L341.0,2079.9 L341.5,2087.5 L342.0,2075.2 L342.5,2090.6 L343.0,2088.8 L343.5,2078.9 L344.0,2081.5 L344.5,2082.0 L345.0,2089.4 L345.5,2076.4 L346.0,2079.0 L346.5,2082.1 L347.0,2084.7 L347.5,2083.5 L348.0,2084.7 L348.5,2081.1 L349.0,2085.3 L349.5,2085.2 L350.0,2084.9 L350.5,2088.7 L351.0,2084.0 L351.5,2086.3 L352.0,2089.4 L352.5,2083.8 L353.0,2089.3 L353.5,2078.6 L354.0,2084.3 L354.5,2083.9 L355.0,2079.0 L355.5,2088.3 L356.0,2080.0 L356.5,2083.0 L357.0,2079.8 L357.5,2085.8 L358.0,2073.6 L358.5,2088.2 L359.0,2086.9 L359.5,2085.4 L360.0,2074.2 L360.5,2089.1 L361.0,2086.9 L361.5,2087.2 L362.0,2086.1 L362.5,2087.8 L363.0,2085.2 L363.5,2071.5 L364.0,2088.5 L364.5,2086.2 L365.0,2087.9 L365.5,2092.4 L366.0,2093.0 L366.5,2078.8 L367.0,2077.0 L367.5,2073.3 L368.0,2078.7 L368.5,2086.2 L369.0,2080.6 L369.5,2088.4 L370.0,2077.7 L370.5,2087.9 L371.0,2081.4 L371.5,2081.0 L372.0,2077.3 L372.5,2080.9 L373.0,2080.3 L373.5,2078.6 L374.0,2083.2 L374.5,2082.9 L375.0,2080.5 L375.5,2090.6 L376.0,2084.7 L376.5,2087.8 L377.0,2081.4 L377.5,2080.2 L378.0,2076.7 L378.5,2085.2 L379.0,2076.7 L379.5,2088.0 L380.0,2083.8 L380.5,2080.9 L381.0,2073.6 L381.5,2083.9 L382.0,2074.9 L382.5,2086.5 L383.0,2081.6 L383.5,2084.7 L384.0,2082.9 L384.5,2087.2 L385.0,2085.8 L385.5,2083.6 L386.0,2081.7 L386.5,2084.1 L387.0,2081.0 L387.5,2082.1 L388.0,2090.2 L388.5,2083.3 L389.0,2072.1 L389.5,2080.0 L390.0,2087.1 L390.5,2077.6 L391.0,2086.3 L391.5,2077.6 L392.0,2073.7 L392.5,2089.4 L393.0,2089.2 L393.5,2090.6 L394.0,2086.5 L394.5,2081.6 L395.0,2077.6 L395.5,2090.0 L396.0,2075.7 L396.5,2087.9 L397.0,2074.1 L397.5,2086.8 L398.0,2078.3 L398.5,2080.5 L399.0,2085.4 L399.5,2082.1 L400.0,2081.8 L400.5,2084.5 L401.0,2081.2 L401.5,2083.7 L402.0,2086.0 L402.5,2086.2 L403.0,2079.1 L403.5,2088.7 L404.0,2088.4 L404.5,2082.8 L405.0,2084.4 L405.5,2080.1 L406.0,2090.7 L406.5,2078.7 L407.0,2083.7 L407.5,2085.5 L408.0,2090.2 L408.5,2068.8 L409.0,2090.9 L409.5,2080.3 L410.0,2093.3 L410.5,2076.3 L411.0,2081.4 L411.5,2083.6 L412.0,2085.8 L412.5,2088.0 L413.0,2095.2 L413.5,2091.1 L414.0,2072.7 L414.5,2083.6 L415.0,2080.3 L415.5,2083.0 L416.0,2082.6 L416.5,2089.3 L417.0,2087.7 L417.5,2074.3 L418.0,2069.2 L418.5,2089.5 L419.0,2086.8 L419.5,2077.3 L420.0,2079.1 L420.5,2092.3 L421.0,2085.8 L421.5,2078.9 L422.0,2082.4 L422.5,2080.2 L423.0,2084.3 L423.5,2074.7 L424.0,2084.2 L424.5,2089.7 L425.0,2083.3 L425.5,2088.9 L426.0,2083.6 L426.5,2082.1 L427.0,2092.1 L427.5,2090.7 L428.0,2078.5 L428.5,2085.2 L429.0,2074.0 L429.5,2073.0 L430.0,2087.3 L430.5,2072.0 L431.0,2084.9 L431.5,2086.4 L432.0,2075.3 L432.5,2076.6 L433.0,2073.2 L433.5,2081.5 L434.0,2083.4 L434.5,2090.1 L435.0,2081.4 L435.5,2086.4 L436.0,2089.3 L436.5,2086.7 L437.0,2073.3 L437.5,2075.5 L438.0,2084.8 L438.5,2080.4 L439.0,2082.7 L439.5,2077.1 L440.0,2081.2 L440.5,2088.4 L441.0,2081.0 L441.5,2072.1 L442.0,2083.9 L442.5,2079.5 L443.0,2079.3 L443.5,2080.1 L444.0,2079.0 L444.5,2077.1 L445.0,2071.2 L445.5,2088.7 L446.0,2079.2 L446.5,2092.0 L447.0,2081.7 L447.5,2087.9 L448.0,2086.0 L448.5,2087.1 L449.0,2090.0 L449.5,2082.4 L450.0,2090.7 L450.5,2079.4 L451.0,2081.3 L451.5,2078.9 L452.0,2079.8 L452.5,2081.4 L453.0,2085.8 L453.5,2077.4 L454.0,2076.1 L454.5,2079.3 L455.0,2068.1 L455.5,2080.1 L456.0,2074.4 L456.5,2081.4 L457.0,2086.6 L457.5,2079.9 L458.0,2074.5 L458.5,2087.8 L459.0,2074.5 L459.5,2073.7 L460.0,2078.0 L460.5,2083.4 L461.0,2082.1 L461.5,2080.4 L462.0,2079.2 L462.5,2079.5 L463.0,2088.4 L463.5,2085.9 L464.0,2084.2 L464.5,2081.8 L465.0,2079.9 L465.5,2082.4 L466.0,2090.5 L466.5,2079.1 L467.0,2081.1 L467.5,2086.9 L468.0,2072.5 L468.5,2074.8 L469.0,2082.2 L469.5,2084.9 L470.0,2083.0 L470.5,2081.8 L471.0,2096.3 L471.5,2087.9 L472.0,2084.0 L472.5,2084.0 L473.0,2088.5 L473.5,2081.7 L474.0,2081.3 L474.5,2087.7 L475.0,2091.6 L475.5,2083.1 L476.0,2084.4 L476.5,2085.3 L477.0,2089.4 L477.5,2078.9 L478.0,2080.9 L478.5,2086.4 L479.0,2090.4 L479.5,2082.3 L480.0,2086.6 L480.5,2077.4 L481.0,2084.1 L481.5,2082.3 L482.0,2079.2 L482.5,2091.3 L483.0,2081.2 L483.5,2079.8 L484.0,2076.7 L484.5,2083.1 L485.0,2077.8 L485.5,2083.1 L486.0,2089.9 L486.5,2080.8 L487.0,2083.1 L487.5,2079.1 L488.0,2087.0 L488.5,2074.9 L489.0,2083.3 L489.5,2084.7 L490.0,2081.0 L490.5,2086.5 L491.0,2077.4 L491.5,2081.4 L492.0,2082.1 L492.5,2084.2 L493.0,2081.3 L493.5,2089.8 L494.0,2088.1 L494.5,2089.4 L495.0,2083.2 L495.5,2089.2 L496.0,2083.1 L496.5,2093.5 L497.0,2086.4 L497.5,2087.0 L498.0,2082.7 L498.5,2088.4 L499.0,2079.9 L499.5,2076.5 L500.0,2084.8 L500.5,2085.6 L501.0,2077.0 L501.5,2086.5 L502.0,2076.0 L502.5,2089.0 L503.0,2092.5 L503.5,2087.0 L504.0,2084.6 L504.5,2088.6 L505.0,2082.4 L505.5,2080.4 L506.0,2081.9 L506.5,2088.8 L507.0,2089.6 L507.5,2076.4 L508.0,2078.2 L508.5,2086.1 L509.0,2086.6 L509.5,2084.0 L510.0,2081.6 L510.5,2089.9 L511.0,2074.7 L511.5,2084.7 L512.0,2088.2 L512.5,2094.7 L513.0,2087.3 L513.5,2063.3 L514.0,2080.3 L514.5,2084.8 L515.0,2079.6 L515.5,2082.1 L516.0,2085.7 L516.5,2080.0 L517.0,2085.0 L517.5,2071.1 L518.0,2075.3 L518.5,2077.3 L519.0,2081.5 L519.5,2088.2 L520.0,2076.5 L520.5,2085.0 L521.0,2083.1 L521.5,2079.1 L522.0,2088.0 L522.5,2087.9 L523.0,2083.3 L523.5,2073.9 L524.0,2081.9 L524.5,2084.2 L525.0,2083.4 L525.5,2084.1 L526.0,2076.3 L526.5,2076.2 L527.0,2084.3 L527.5,2088.6 L528.0,2087.4 L528.5,2077.9 L529.0,2082.1 L529.5,2088.4 L530.0,2076.3 L530.5,2082.5 L531.0,2071.0 L531.5,2078.5 L532.0,2075.8 L532.5,2069.8 L533.0,2084.1 L533.5,2079.6 L534.0,2088.6 L534.5,2084.8 L535.0,2076.8 L535.5,2082.8 L536.0,2083.1 L536.5,2072.5 L537.0,2080.5 L537.5,2082.6 L538.0,2078.1 L538.5,2079.6 L539.0,2085.1 L539.5,2081.9 L540.0,2077.5 L540.5,2081.4 L541.0,2082.8 L541.5,2081.7 L542.0,2084.3 L542.5,2090.2 L543.0,2079.3 L543.5,2086.7 L544.0,2080.8 L544.5,2079.5 L545.0,2080.6 L545.5,2077.1 L546.0,2079.0 L546.5,2081.6 L547.0,2081.1 L547.5,2086.5 L548.0,2090.7 L548.5,2078.7 L549.0,2081.6 L549.5,2087.0 L550.0,2081.8 L550.5,2084.3 L551.0,2081.2 L551.5,2082.8 L552.0,2083.3 L552.5,2081.1 L553.0,2079.3 L553.5,2074.1 L554.0,2083.2 L554.5,2080.0 L555.0,2074.9 L555.5,2078.8 L556.0,2081.2 L556.5,2079.1 L557.0,2084.3 L557.5,2077.8 L558.0,2072.9 L558.5,2081.0 L559.0,2079.9 L559.5,2086.1 L560.0,2075.5 L560.5,2081.4 L561.0,2080.7 L561.5,2077.2 L562.0,2085.0 L562.5,2079.4 L563.0,2077.3 L563.5,2083.0 L564.0,2085.6 L564.5,2083.2 L565.0,2090.3 L565.5,2084.9 L566.0,2083.0 L566.5,2077.3 L567.0,2081.0 L567.5,2080.6 L568.0,2092.0 L568.5,2084.4 L569.0,2091.4 L569.5,2086.1 L570.0,2082.8 L570.5,2089.6 L571.0,2082.1 L571.5,2079.1 L572.0,2080.6 L572.5,2085.5 L573.0,2082.3 L573.5,2086.2 L574.0,2081.2 L574.5,2079.9 L575.0,2081.8 L575.5,2087.5 L576.0,2082.2 L576.5,2085.1 L577.0,2089.1 L577.5,2082.8 L578.0,2085.6 L578.5,2078.3 L579.0,2084.9 L579.5,2086.1 L580.0,2084.6 L580.5,2087.8 L581.0,2088.5 L581.5,2080.5 L582.0,2089.3 L582.5,2083.4 L583.0,2074.4 L583.5,2086.7 L584.0,2082.3 L584.5,2085.3 L585.0,2082.7 L585.5,2084.1 L586.0,2081.4 L586.5,2078.5 L587.0,2079.7 L587.5,2069.6 L588.0,2077.1 L588.5,2082.4 L589.0,2085.1 L589.5,2083.0 L590.0,2081.7 L590.5,2077.7 L591.0,2077.3 L591.5,2083.3 L592.0,2083.1 L592.5,2081.0 L593.0,2081.9 L593.5,2082.6 L594.0,2089.2 L594.5,2083.1 L595.0,2079.2 L595.5,2085.0 L596.0,2086.5 L596.5,2089.4 L597.0,2075.7 L597.5,2074.8 L598.0,2086.0 L598.5,2080.4 L599.0,2088.9 L599.5,2079.8 L600.0,2080.3 L600.5,2079.4 L601.0,2076.8 L601.5,2077.0 L602.0,2086.7 L602.5,2086.4 L603.0,2089.5 L603.5,2084.3 L604.0,2081.1 L604.5,2085.1 L605.0,2085.0 L605.5,2083.4 L606.0,2078.3 L606.5,2084.1 L607.0,2084.6 L607.5,2084.6 L608.0,2079.1 L608.5,2081.0 L609.0,2081.5 L609.5,2077.9 L610.0,2080.8 L610.5,2083.1 L611.0,2076.3 L611.5,2078.8 L612.0,2079.8 L612.5,2082.5 L613.0,2090.0 L613.5,2076.4 L614.0,2079.1 L614.5,2077.9 L615.0,2086.3 L615.5,2084.5 L616.0,2085.6 L616.5,2085.4 L617.0,2083.7 L617.5,2082.6 L618.0,2085.7 L618.5,2074.0 L619.0,2084.0 L619.5,2082.6 L620.0,2086.4 L620.5,2085.1 L621.0,2082.8 L621.5,2080.1 L622.0,2083.4 L622.5,2089.8 L623.0,2086.8 L623.5,2091.7 L624.0,2087.3 L624.5,2076.9 L625.0,2083.1 L625.5,2083.7 L626.0,2093.9 L626.5,2085.6 L627.0,2088.3 L627.5,2087.9 L628.0,2082.2 L628.5,2083.8 L629.0,2076.3 L629.5,2074.3 L630.0,2077.3 L630.5,2077.3 L631.0,2080.3 L631.5,2086.0 L632.0,2086.9 L632.5,2081.2 L633.0,2073.7 L633.5,2077.9 L634.0,2077.1 L634.5,2081.0 L635.0,2077.4 L635.5,2085.4 L636.0,2072.9 L636.5,2078.4 L637.0,2077.2 L637.5,2080.7 L638.0,2084.6 L638.5,2081.7 L639.0,2083.9 L639.5,2079.7 L640.0,2080.1 L640.5,2082.2 L641.0,2080.8 L641.5,2079.3 L642.0,2081.9 L642.5,2080.9 L643.0,2079.2 L643.5,2083.8 L644.0,2074.2 L644.5,2084.1 L645.0,2079.6 L645.5,2090.7 L646.0,2083.5 L646.5,2082.1 L647.0,2085.5 L647.5,2084.8 L648.0,2092.6 L648.5,2075.8 L649.0,2081.0 L649.5,2081.9 L650.0,2079.5 L650.5,2078.2 L651.0,2075.3 L651.5,2076.4 L652.0,2081.6 L652.5,2082.2 L653.0,2083.6 L653.5,2086.1 L654.0,2080.5 L654.5,2088.5 L655.0,2085.7 L655.5,2084.3 L656.0,2081.0 L656.5,2076.5 L657.0,2082.0 L657.5,2080.7 L658.0,2073.8 L658.5,2076.2 L659.0,2080.9 L659.5,2082.1 L660.0,2080.1 L660.5,2079.3 L661.0,2089.9 L661.5,2082.5 L662.0,2084.9 L662.5,2078.9 L663.0,2084.3 L663.5,2068.8 L664.0,2090.5 L664.5,2079.2 L665.0,2083.3 L665.5,2083.9 L666.0,2082.1 L666.5,2088.1 L667.0,2077.1 L667.5,2081.6 L668.0,2083.9 L668.5,2073.0 L669.0,2081.1 L669.5,2081.2 L670.0,2087.3 L670.5,2082.9 L671.0,2089.8 L671.5,2086.8 L672.0,2079.6 L672.5,2085.0 L673.0,2076.7 L673.5,2084.4 L674.0,2091.1 L674.5,2082.5 L675.0,2086.5 L675.5,2090.6 L676.0,2078.1 L676.5,2077.2 L677.0,2087.2 L677.5,2083.6 L678.0,2084.6 L678.5,2082.4 L679.0,2081.8 L679.5,2085.2 L680.0,2075.6 L680.5,2092.5 L681.0,2083.8 L681.5,2088.9 L682.0,2086.0 L682.5,2076.4 L683.0,2084.6 L683.5,2081.5 L684.0,2087.4 L684.5,2084.7 L685.0,2090.7 L685.5,2078.1 L686.0,2082.8 L686.5,2095.6 L687.0,2083.1 L687.5,2080.3 L688.0,2077.2 L688.5,2085.2 L689.0,2082.1 L689.5,2082.1 L690.0,2081.8 L690.5,2080.5 L691.0,2079.4 L691.5,2085.6 L692.0,2084.6 L692.5,2079.2 L693.0,2073.4 L693.5,2078.3 L694.0,2091.2 L694.5,2077.5 L695.0,2075.0 L695.5,2085.5 L696.0,2076.9 L696.5,2077.3 L697.0,2086.4 L697.5,2082.4 L698.0,2082.2 L698.5,2081.8 L699.0,2080.0 L699.5,2077.1 L700.0,2074.4 L700.5,2085.7 L701.0,2086.8 L701.5,2084.9 L702.0,2084.6 L702.5,2093.5 L703.0,2086.5 L703.5,2081.9 L704.0,2087.8 L704.5,2084.7 L705.0,2086.7 L705.5,2084.1 L706.0,2087.2 L706.5,2075.0 L707.0,2094.5 L707.5,2082.1 L708.0,2084.9 L708.5,2084.2 L709.0,2077.0 L709.5,2090.6 L710.0,2084.5 L710.5,2091.9 L711.0,2092.5 L711.5,2086.8 L712.0,2082.5 L712.5,2089.9 L713.0,2090.4 L713.5,2087.3 L714.0,2085.8 L714.5,2083.7 L715.0,2088.2 L715.5,2084.7 L716.0,2079.2 L716.5,2090.5 L717.0,2076.7 L717.5,2078.4 L718.0,2088.3 L718.5,2081.1 L719.0,2082.3 L719.5,2071.8 L720.0,2083.8 L720.5,2081.4 L721.0,2085.1 L721.5,2078.5 L722.0,2087.7 L722.5,2091.1 L723.0,2086.8 L723.5,2086.6 L724.0,2073.3 L724.5,2075.2 L725.0,2087.5 L725.5,2078.0 L726.0,2080.1 L726.5,2081.3 L727.0,2079.1 L727.5,2080.7 L728.0,2092.1 L728.5,2074.1 L729.0,2088.3 L729.5,2082.9 L730.0,2079.4 L730.5,2082.4 L731.0,2087.1 L731.5,2081.3 L732.0,2087.9 L732.5,2076.8 L733.0,2077.9 L733.5,2087.5 L734.0,2090.8 L734.5,2087.3 L735.0,2086.6 L735.5,2091.9 L736.0,2082.5 L736.5,2087.2 L737.0,2079.9 L737.5,2088.0 L738.0,2074.1 L738.5,2083.6 L739.0,2081.2 L739.5,2076.8 L740.0,2084.2 L740.5,2079.2 L741.0,2081.1 L741.5,2075.1 L742.0,2073.7 L742.5,2076.2 L743.0,2076.3 L743.5,2076.4 L744.0,2088.3 L744.5,2090.5 L745.0,2083.5 L745.5,2081.7 L746.0,2081.7 L746.5,2085.0 L747.0,2077.7 L747.5,2086.0 L748.0,2076.9 L748.5,2082.4 L749.0,2090.3 L749.5,2083.9 L750.0,2080.6 L750.5,2079.8 L751.0,2084.0 L751.5,2080.0 L752.0,2083.9 L752.5,2079.2 L753.0,2085.5 L753.5,2080.0 L754.0,2088.2 L754.5,2088.5 L755.0,2073.3 L755.5,2082.9 L756.0,2081.5 L756.5,2082.7 L757.0,2079.5 L757.5,2086.2 L758.0,2087.0 L758.5,2081.2 L759.0,2084.5 L759.5,2083.7 L760.0,2081.2 L760.5,2081.1 L761.0,2083.8 L761.5,2080.3 L762.0,2083.3 L762.5,2090.8 L763.0,2088.7 L763.5,2082.8 L764.0,2075.1 L764.5,2082.1 L765.0,2082.1 L765.5,2075.0 L766.0,2090.1 L766.5,2077.3 L767.0,2089.7 L767.5,2081.7 L768.0,2074.4 L768.5,2079.8 L769.0,2081.1 L769.5,2077.7 L770.0,2081.4 L770.5,2083.2 L771.0,2083.6 L771.5,2079.0 L772.0,2079.1 L772.5,2084.6 L773.0,2083.0 L773.5,2073.5 L774.0,2076.4 L774.5,2086.0 L775.0,2088.3 L775.5,2085.1 L776.0,2080.3 L776.5,2075.5 L777.0,2082.0 L777.5,2084.8 L778.0,2085.1 L778.5,2080.3 L779.0,2084.0 L779.5,2077.9 L780.0,2084.7 L780.5,2079.0 L781.0,2089.1 L781.5,2082.0 L782.0,2080.9 L782.5,2083.4 L783.0,2079.8 L783.5,2084.9 L784.0,2075.6 L784.5,2081.5 L785.0,2087.1 L785.5,2082.8 L786.0,2083.0 L786.5,2089.4 L787.0,2086.1 L787.5,2083.3 L788.0,2082.0 L788.5,2086.4 L789.0,2080.4 L789.5,2084.4 L790.0,2086.6 L790.5,2092.9 L791.0,2085.4 L791.5,2082.8 L792.0,2080.5 L792.5,2088.5 L793.0,2092.6 L793.5,2086.0 L794.0,2082.6 L794.5,2083.1 L795.0,2081.5 L795.5,2078.6 L796.0,2081.8 L796.5,2080.1 L797.0,2085.6 L797.5,2083.2 L798.0,2069.7 L798.5,2083.6 L799.0,2076.7 L799.5,2081.2 L800.0,2071.5 L800.5,2076.8 L801.0,2086.3 L801.5,2086.5 L802.0,2077.4 L802.5,2086.9 L803.0,2082.9 L803.5,2078.6 L804.0,2081.9 L804.5,2076.9 L805.0,2069.5 L805.5,2086.3 L806.0,2086.9 L806.5,2078.8 L807.0,2086.8 L807.5,2082.2 L808.0,2080.5 L808.5,2082.3 L809.0,2081.5 L809.5,2080.7 L810.0,2083.4 L810.5,2079.0 L811.0,2082.0 L811.5,2083.2 L812.0,2073.4 L812.5,2079.9 L813.0,2083.6 L813.5,2085.7 L814.0,2081.9 L814.5,2097.5 L815.0,2088.2 L815.5,2081.0 L816.0,2088.0 L816.5,2073.7 L817.0,2077.6 L817.5,2086.5 L818.0,2079.0 L818.5,2079.6 L819.0,2084.0 L819.5,2081.6 L820.0,2086.7 L820.5,2084.7 L821.0,2082.1 L821.5,2082.0 L822.0,2082.3 L822.5,2076.5 L823.0,2078.3 L823.5,2082.5 L824.0,2079.0 L824.5,2085.5 L825.0,2082.1 L825.5,2086.7 L826.0,2079.8 L826.5,2083.6 L827.0,2082.0 L827.5,2080.7 L828.0,2088.8 L828.5,2081.4 L829.0,2080.4 L829.5,2088.3 L830.0,2092.6 L830.5,2082.8 L831.0,2075.8 L831.5,2080.3 L832.0,2091.9 L832.5,2082.1 L833.0,2081.8 L833.5,2085.9 L834.0,2086.4 L834.5,2085.6 L835.0,2079.7 L835.5,2090.7 L836.0,2087.9 L836.5,2084.4 L837.0,2083.9 L837.5,2087.2 L838.0,2087.0 L838.5,2080.4 L839.0,2083.8 L839.5,2087.0 L840.0,2080.4 L840.5,2089.4 L841.0,2082.3 L841.5,2083.6 L842.0,2080.5 L842.5,2075.2 L843.0,2092.8 L843.5,2081.0 L844.0,2082.4 L844.5,2073.8 L845.0,2079.7 L845.5,2089.4 L846.0,2082.9 L846.5,2080.1 L847.0,2090.2 L847.5,2081.8 L848.0,2080.8 L848.5,2080.4 L849.0,2079.6 L849.5,2073.7 L850.0,2076.5 L850.5,2085.9 L851.0,2081.9 L851.5,2085.1 L852.0,2084.1 L852.5,2086.9 L853.0,2085.2 L853.5,2087.5 L854.0,2085.6 L854.5,2078.0 L855.0,2086.4 L855.5,2077.7 L856.0,2088.9 L856.5,2081.8 L857.0,2082.0 L857.5,2086.6 L858.0,2078.5 L858.5,2081.7 L859.0,2088.6 L859.5,2081.1 L860.0,2077.6 L860.5,2095.3 L861.0,2080.1 L861.5,2075.9 L862.0,2082.7 L862.5,2092.1 L863.0,2088.7 L863.5,2090.0 L864.0,2082.1 L864.5,2086.3 L865.0,2079.6 L865.5,2076.1 L866.0,2085.2 L866.5,2080.4 L867.0,2079.4 L867.5,2085.4 L868.0,2086.8 L868.5,2089.0 L869.0,2080.5 L869.5,2089.9 L870.0,2081.4 L870.5,2073.8 L871.0,2086.3 L871.5,2086.8 L872.0,2082.0 L872.5,2083.9 L873.0,2088.1 L873.5,2093.2 L874.0,2081.7 L874.5,2090.4 L875.0,2084.9 L875.5,2082.1 L876.0,2088.5 L876.5,2090.7 L877.0,2080.5 L877.5,2084.4 L878.0,2086.4 L878.5,2079.3 L879.0,2078.1 L879.5,2091.3 L880.0,2086.5 L880.5,2077.7 L881.0,2074.0 L881.5,2086.3 L882.0,2081.9 L882.5,2088.8 L883.0,2082.4 L883.5,2083.0 L884.0,2081.9 L884.5,2081.3 L885.0,2091.9 L885.5,2081.2 L886.0,2081.7 L886.5,2075.5 L887.0,2085.9 L887.5,2094.3 L888.0,2081.4 L888.5,2078.6 L889.0,2081.8 L889.5,2081.1 L890.0,2082.1 L890.5,2091.1 L891.0,2088.7 L891.5,2086.7 L892.0,2093.4 L892.5,2088.4 L893.0,2078.5 L893.5,2089.2 L894.0,2088.4 L894.5,2075.7 L895.0,2080.0 L895.5,2081.8 L896.0,2092.7 L896.5,2082.1 L897.0,2093.0 L897.5,2085.6 L898.0,2083.9 L898.5,2098.7 L899.0,2093.8 L899.5,2094.4 L900.0,2072.5 L900.5,2091.6 L901.0,2084.6 L901.5,2087.9 L902.0,2085.6 L902.5,2093.8 L903.0,2094.8 L903.5,2085.8 L904.0,2093.2 L904.5,2090.1 L905.0,2086.0 L905.5,2081.3 L906.0,2092.7 L906.5,2085.6 L907.0,2087.4 L907.5,2079.5 L908.0,2087.2 L908.5,2086.9 L909.0,2090.6 L909.5,2083.4 L910.0,2087.5 L910.5,2077.6 L911.0,2081.1 L911.5,2079.2 L912.0,2092.2 L912.5,2087.7 L913.0,2075.1 L913.5,2081.0 L914.0,2087.6 L914.5,2074.5 L915.0,2081.9 L915.5,2086.9 L916.0,2090.5 L916.5,2083.2 L917.0,2079.0 L917.5,2067.6 L918.0,2090.8 L918.5,2090.0 L919.0,2084.1 L919.5,2077.9 L920.0,2079.2 L920.5,2083.4 L921.0,2082.4 L921.5,2082.5 L922.0,2081.0 L922.5,2083.7 L923.0,2077.3 L923.5,2083.1 L924.0,2079.5 L924.5,2082.7 L925.0,2083.1 L925.5,2090.0 L926.0,2083.2 L926.5,2090.2 L927.0,2085.1 L927.5,2087.7 L928.0,2081.3 L928.5,2083.6 L929.0,2073.6 L929.5,2084.5 L930.0,2090.1 L930.5,2074.0 L931.0,2080.7 L931.5,2085.8 L932.0,2090.7 L932.5,2075.2 L933.0,2073.0 L933.5,2088.0 L934.0,2073.9 L934.5,2083.1 L935.0,2082.5 L935.5,2085.8 L936.0,2089.9 L936.5,2081.7 L937.0,2072.8 L937.5,2083.0 L938.0,2090.2 L938.5,2079.4 L939.0,2089.2 L939.5,2085.3 L940.0,2075.9 L940.5,2080.3 L941.0,2086.6 L941.5,2077.6 L942.0,2072.0 L942.5,2082.0 L943.0,2076.2 L943.5,2083.6 L944.0,2076.1 L944.5,2080.8 L945.0,2086.8 L945.5,2080.2 L946.0,2077.3 L946.5,2075.0 L947.0,2079.0 L947.5,2084.0 L948.0,2102.5 L948.5,2085.9 L949.0,2079.2 L949.5,2081.2 L950.0,2083.9 L950.5,2083.6 L951.0,2084.8 L951.5,2084.4 L952.0,2078.3 L952.5,2079.6 L953.0,2085.1 L953.5,2083.5 L954.0,2083.6 L954.5,2088.2 L955.0,2087.5 L955.5,2088.6 L956.0,2084.0 L956.5,2077.3 L957.0,2093.0 L957.5,2082.2 L958.0,2070.0 L958.5,2092.6 L959.0,2084.2 L959.5,2081.4 L960.0,2077.1 L960.5,2083.9 L961.0,2091.1 L961.5,2085.5 L962.0,2083.5 L962.5,2087.5 L963.0,2085.7 L963.5,2088.5 L964.0,2082.0 L964.5,2078.2 L965.0,2085.3 L965.5,2086.6 L966.0,2087.9 L966.5,2075.6 L967.0,2080.4 L967.5,2078.3 L968.0,2084.1 L968.5,2080.4 L969.0,2082.7 L969.5,2085.4 L970.0,2081.8 L970.5,2088.2 L971.0,2084.3 L971.5,2072.9 L972.0,2077.2 L972.5,2080.8 L973.0,2077.3 L973.5,2078.7 L974.0,2080.0 L974.5,2092.5 L975.0,2084.7 L975.5,2088.9 L976.0,2081.5 L976.5,2081.4 L977.0,2082.1 L977.5,2081.7 L978.0,2090.8 L978.5,2077.5 L979.0,2080.3 L979.5,2081.3 L980.0,2083.3 L980.5,2080.9 L981.0,2078.1 L981.5,2078.8 L982.0,2084.5 L982.5,2076.6 L983.0,2086.4 L983.5,2092.8 L984.0,2090.7 L984.5,2088.3 L985.0,2086.4 L985.5,2086.5 L986.0,2085.5 L986.5,2080.4 L987.0,2087.2 L987.5,2087.6 L988.0,2083.7 L988.5,2089.8 L989.0,2087.3 L989.5,2076.0 L990.0,2080.1 L990.5,2077.9 L991.0,2083.1 L991.5,2079.7 L992.0,2078.5 L992.5,2084.9 L993.0,2071.1 L993.5,2075.6 L994.0,2083.3 L994.5,2091.1 L995.0,2093.3 L995.5,2091.2 L996.0,2082.5 L996.5,2087.4 L997.0,2090.1 L997.5,2079.6 L998.0,2081.6 L998.5,2083.8 L999.0,2088.1 L999.5,2080.7 L1000.0,2087.4 L1000.5,2072.5 L1001.0,2076.4 L1001.5,2084.5 L1002.0,2074.3 L1002.5,2082.0 L1003.0,2083.1 L1003.5,2088.2 L1004.0,2077.4 L1004.5,2079.9 L1005.0,2088.4 L1005.5,2085.2 L1006.0,2077.0 L1006.5,2084.3 L1007.0,2080.6 L1007.5,2089.5 L1008.0,2086.4 L1008.5,2074.8 L1009.0,2084.6 L1009.5,2084.7 L1010.0,2087.0 L1010.5,2088.1 L1011.0,2086.7 L1011.5,2080.5 L1012.0,2084.0 L1012.5,2086.4 L1013.0,2089.3 L1013.5,2086.6 L1014.0,2090.6 L1014.5,2085.0 L1015.0,2079.9 L1015.5,2087.5 L1016.0,2081.4 L1016.5,2077.4 L1017.0,2081.2 L1017.5,2080.9 L1018.0,2079.4 L1018.5,2076.5 L1019.0,2086.4 L1019.5,2090.6 L1020.0,2081.9 L1020.5,2092.6 L1021.0,2083.3 L1021.5,2091.9 L1022.0,2085.4 L1022.5,2085.6 L1023.0,2078.8 L1023.5,2087.9 L1024.0,2088.3 L1024.5,2089.0 L1025.0,2083.2 L1025.5,2081.3 L1026.0,2085.5 L1026.5,2074.7 L1027.0,2078.1 L1027.5,2087.0 L1028.0,2088.9 L1028.5,2075.2 L1029.0,2086.2 L1029.5,2088.4 L1030.0,2089.9 L1030.5,2086.5 L1031.0,2082.5 L1031.5,2076.5 L1032.0,2088.3 L1032.5,2095.4 L1033.0,2086.6 L1033.5,2096.3 L1034.0,2078.6 L1034.5,2090.7 L1035.0,2084.9 L1035.5,2084.6 L1036.0,2088.8 L1036.5,2089.0 L1037.0,2086.8 L1037.5,2084.8 L1038.0,2084.6 L1038.5,2084.5 L1039.0,2083.9 L1039.5,2084.7 L1040.0,2085.6 L1040.5,2082.9 L1041.0,2080.0 L1041.5,2079.3 L1042.0,2082.2 L1042.5,2079.1 L1043.0,2086.1 L1043.5,2084.2 L1044.0,2077.1 L1044.5,2082.8 L1045.0,2087.2 L1045.5,2087.8 L1046.0,2084.1 L1046.5,2085.6 L1047.0,2088.0 L1047.5,2082.0 L1048.0,2090.1 L1048.5,2082.6 L1049.0,2083.1 L1049.5,2089.6 L1050.0,2083.2 L1050.5,2088.1 L1051.0,2082.5 L1051.5,2080.1 L1052.0,2083.9 L1052.5,2095.2 L1053.0,2074.6 L1053.5,2081.2 L1054.0,2084.6 L1054.5,2081.6 L1055.0,2077.8 L1055.5,2080.4 L1056.0,2077.8 L1056.5,2081.7 L1057.0,2082.9 L1057.5,2085.9 L1058.0,2079.3 L1058.5,2079.8 L1059.0,2081.2 L1059.5,2090.8 L1060.0,2074.8 L1060.5,2082.3 L1061.0,2081.9 L1061.5,2085.9 L1062.0,2081.9 L1062.5,2086.4 L1063.0,2085.8 L1063.5,2089.9 L1064.0,2090.1 L1064.5,2077.7 L1065.0,2081.2 L1065.5,2077.0 L1066.0,2076.5 L1066.5,2084.5 L1067.0,2075.1 L1067.5,2081.8 L1068.0,2088.9 L1068.5,2078.8 L1069.0,2081.5 L1069.5,2082.1 L1070.0,2082.8 L1070.5,2076.9 L1071.0,2075.6 L1071.5,2082.3 L1072.0,2097.1 L1072.5,2085.0 L1073.0,2086.1 L1073.5,2089.6 L1074.0,2091.8 L1074.5,2086.5 L1075.0,2081.7 L1075.5,2075.3 L1076.0,2089.5 L1076.5,2086.5 L1077.0,2085.0 L1077.5,2081.5 L1078.0,2080.3 L1078.5,2084.7 L1079.0,2081.0 L1079.5,2090.3 L1080.0,2077.6 L1080.5,2089.9 L1081.0,2081.8 L1081.5,2082.7 L1082.0,2088.3 L1082.5,2085.3 L1083.0,2092.8 L1083.5,2085.0 L1084.0,2080.9 L1084.5,2087.0 L1085.0,2091.6 L1085.5,2090.6 L1086.0,2075.2 L1086.5,2086.5 L1087.0,2081.7 L1087.5,2095.7 L1088.0,2078.5 L1088.5,2083.6 L1089.0,2074.5 L1089.5,2084.2 L1090.0,2074.2 L1090.5,2080.6 L1091.0,2086.3 L1091.5,2092.7 L1092.0,2081.9 L1092.5,2079.0 L1093.0,2085.6 L1093.5,2079.5 L1094.0,2087.6 L1094.5,2080.7 L1095.0,2085.2 L1095.5,2081.7 L1096.0,2077.2 L1096.5,2088.8 L1097.0,2083.3 L1097.5,2076.5 L1098.0,2082.3 L1098.5,2087.8 L1099.0,2088.9 L1099.5,2086.9 L1100.0,2082.4 L1100.5,2079.7 L1101.0,2071.5 L1101.5,2085.4 L1102.0,2085.2 L1102.5,2083.9 L1103.0,2082.8 L1103.5,2087.4 L1104.0,2078.7 L1104.5,2077.0 L1105.0,2096.5 L1105.5,2087.8 L1106.0,2087.3 L1106.5,2082.0 L1107.0,2082.8 L1107.5,2075.0 L1108.0,2080.8 L1108.5,2085.4 L1109.0,2086.0 L1109.5,2090.4 L1110.0,2085.3 L1110.5,2072.3 L1111.0,2071.8 L1111.5,2080.0 L1112.0,2082.3 L1112.5,2086.8 L1113.0,2074.9 L1113.5,2077.0 L1114.0,2081.1 L1114.5,2086.6 L1115.0,2083.8 L1115.5,2091.9 L1116.0,2079.4 L1116.5,2082.5 L1117.0,2088.2 L1117.5,2083.2 L1118.0,2087.9 L1118.5,2082.4 L1119.0,2082.2 L1119.5,2083.5 L1120.0,2089.1 L1120.5,2079.3 L1121.0,2085.6 L1121.5,2087.6 L1122.0,2076.3 L1122.5,2080.8 L1123.0,2081.6 L1123.5,2086.0 L1124.0,2090.5 L1124.5,2085.0 L1125.0,2082.0 L1125.5,2086.4 L1126.0,2079.4 L1126.5,2079.8 L1127.0,2088.7 L1127.5,2081.1 L1128.0,2074.7 L1128.5,2081.5 L1129.0,2081.8 L1129.5,2092.5 L1130.0,2089.8 L1130.5,2080.1 L1131.0,2090.4 L1131.5,2086.0 L1132.0,2077.1" fill="none" stroke="#0000ff" stroke-width="5.2" stroke-linejoin="round" stroke-linecap="butt"/>
<path d="M241.0,2163.1 L241.5,2157.7 L242.0,2152.1 L242.5,2154.3 L243.0,2161.0 L243.5,2161.2 L244.0,2156.2 L244.5,2155.6 L245.0,2161.2 L245.5,2170.9 L246.0,2159.0 L246.5,2154.7 L247.0,2155.4 L247.5,2165.0 L248.0,2164.5 L248.5,2154.6 L249.0,2157.9 L249.5,2161.7 L250.0,2159.6 L250.5,2154.2 L251.0,2159.2 L251.5,2162.1 L252.0,2151.8 L252.5,2165.9 L253.0,2161.8 L253.5,2162.1 L254.0,2159.0 L254.5,2166.4 L255.0,2164.7 L255.5,2171.4 L256.0,2169.5 L256.5,2160.1 L257.0,2162.0 L257.5,2162.2 L258.0,2157.2 L258.5,2162.8 L259.0,2156.6 L259.5,2155.8 L260.0,2158.5 L260.5,2168.7 L261.0,2169.9 L261.5,2161.9 L262.0,2165.7 L262.5,2163.9 L263.0,2163.6 L263.5,2161.2 L264.0,2160.3 L264.5,2163.7 L265.0,2152.4 L265.5,2155.8 L266.0,2160.4 L266.5,2159.7 L267.0,2161.1 L267.5,2157.6 L268.0,2162.5 L268.5,2148.1 L269.0,2153.9 L269.5,2161.4 L270.0,2158.8 L270.5,2155.4 L271.0,2163.2 L271.5,2158.3 L272.0,2158.8 L272.5,2156.1 L273.0,2167.7 L273.5,2168.4 L274.0,2147.5 L274.5,2155.0 L275.0,2161.8 L275.5,2155.0 L276.0,2159.1 L276.5,2162.7 L277.0,2163.7 L277.5,2163.3 L278.0,2157.4 L278.5,2156.0 L279.0,2153.5 L279.5,2154.9 L280.0,2153.0 L280.5,2163.6 L281.0,2162.9 L281.5,2154.5 L282.0,2155.4 L282.5,2156.7 L283.0,2168.2 L283.5,2163.3 L284.0,2158.4 L284.5,2157.5 L285.0,2159.6 L285.5,2163.8 L286.0,2163.3 L286.5,2155.8 L287.0,2154.1 L287.5,2144.0 L288.0,2160.3 L288.5,2162.6 L289.0,2166.4 L289.5,2163.7 L290.0,2154.7 L290.5,2157.6 L291.0,2156.4 L291.5,2165.0 L292.0,2162.9 L292.5,2154.4 L293.0,2163.7 L293.5,2158.2 L294.0,2163.0 L294.5,2160.5 L295.0,2159.0 L295.5,2162.5 L296.0,2158.8 L296.5,2161.8 L297.0,2162.5 L297.5,2164.4 L298.0,2157.2 L298.5,2172.7 L299.0,2168.2 L299.5,2159.5 L300.0,2171.0 L300.5,2157.8 L301.0,2163.7 L301.5,2163.3 L302.0,2163.9 L302.5,2161.2 L303.0,2156.7 L303.5,2158.3 L304.0,2167.8 L304.5,2160.5 L305.0,2158.6 L305.5,2160.2 L306.0,2159.8 L306.5,2157.8 L307.0,2157.5 L307.5,2163.0 L308.0,2158.1 L308.5,2162.5 L309.0,2157.8 L309.5,2170.2 L310.0,2161.0 L310.5,2160.0 L311.0,2153.3 L311.5,2152.8 L312.0,2156.3 L312.5,2153.3 L313.0,2162.6 L313.5,2151.3 L314.0,2157.8 L314.5,2156.4 L315.0,2154.8 L315.5,2156.7 L316.0,2154.3 L316.5,2156.5 L317.0,2168.3 L317.5,2162.7 L318.0,2156.5 L318.5,2158.1 L319.0,2162.3 L319.5,2152.8 L320.0,2155.8 L320.5,2158.9 L321.0,2161.0 L321.5,2159.6 L322.0,2160.1 L322.5,2152.4 L323.0,2170.9 L323.5,2158.6 L324.0,2151.7 L324.5,2153.7 L325.0,2158.9 L325.5,2161.0 L326.0,2157.3 L326.5,2156.7 L327.0,2159.0 L327.5,2156.2 L328.0,2157.6 L328.5,2143.8 L329.0,2154.4 L329.5,2161.0 L330.0,2152.6 L330.5,2155.1 L331.0,2151.7 L331.5,2149.9 L332.0,2151.8 L332.5,2153.0 L333.0,2164.3 L333.5,2167.3 L334.0,2154.7 L334.5,2159.5 L335.0,2158.6 L335.5,2160.3 L336.0,2161.6 L336.5,2153.9 L337.0,2160.6 L337.5,2158.6 L338.0,2162.4 L338.5,2161.6 L339.0,2157.9 L339.5,2157.6 L340.0,2151.7 L340.5,2160.6 L341.0,2154.2 L341.5,2157.1 L342.0,2157.7 L342.5,2150.0 L343.0,2153.7 L343.5,2158.3 L344.0,2156.4 L344.5,2164.8 L345.0,2160.1 L345.5,2155.5 L346.0,2159.3 L346.5,2160.3 L347.0,2160.1 L347.5,2151.9 L348.0,2158.5 L348.5,2166.7 L349.0,2156.3 L349.5,2168.9 L350.0,2153.5 L350.5,2160.4 L351.0,2163.7 L351.5,2162.2 L352.0,2155.7 L352.5,2162.7 L353.0,2155.5 L353.5,2162.4 L354.0,2158.6 L354.5,2160.1 L355.0,2160.3 L355.5,2156.5 L356.0,2159.9 L356.5,2162.9 L357.0,2156.0 L357.5,2159.3 L358.0,2159.1 L358.5,2165.4 L359.0,2162.6 L359.5,2165.7 L360.0,2158.7 L360.5,2156.8 L361.0,2161.3 L361.5,2161.3 L362.0,2156.8 L362.5,2166.0 L363.0,2156.8 L363.5,2160.3 L364.0,2166.3 L364.5,2159.0 L365.0,2156.9 L365.5,2159.7 L366.0,2166.1 L366.5,2164.1 L367.0,2160.4 L367.5,2164.4 L368.0,2152.1 L368.5,2162.3 L369.0,2169.2 L369.5,2168.6 L370.0,2156.1 L370.5,2160.5 L371.0,2158.7 L371.5,2160.4 L372.0,2157.9 L372.5,2162.6 L373.0,2164.7 L373.5,2148.9 L374.0,2161.4 L374.5,2164.6 L375.0,2160.1 L375.5,2161.1 L376.0,2159.7 L376.5,2158.9 L377.0,2156.9 L377.5,2160.1 L378.0,2164.9 L378.5,2150.8 L379.0,2155.1 L379.5,2157.0 L380.0,2156.2 L380.5,2154.2 L381.0,2161.1 L381.5,2155.4 L382.0,2155.7 L382.5,2155.6 L383.0,2155.2 L383.5,2155.1 L384.0,2156.6 L384.5,2160.2 L385.0,2151.7 L385.5,2156.2 L386.0,2151.9 L386.5,2157.3 L387.0,2163.1 L387.5,2158.2 L388.0,2157.8 L388.5,2155.6 L389.0,2152.8 L389.5,2162.5 L390.0,2148.4 L390.5,2160.4 L391.0,2156.6 L391.5,2160.2 L392.0,2155.1 L392.5,2151.8 L393.0,2160.3 L393.5,2159.8 L394.0,2166.0 L394.5,2156.6 L395.0,2163.3 L395.5,2145.4 L396.0,2161.0 L396.5,2161.5 L397.0,2158.8 L397.5,2158.9 L398.0,2153.7 L398.5,2164.1 L399.0,2157.7 L399.5,2164.0 L400.0,2159.1 L400.5,2164.6 L401.0,2159.1 L401.5,2164.6 L402.0,2157.6 L402.5,2159.9 L403.0,2154.0 L403.5,2155.8 L404.0,2162.3 L404.5,2158.2 L405.0,2150.7 L405.5,2157.4 L406.0,2156.0 L406.5,2149.1 L407.0,2164.0 L407.5,2162.6 L408.0,2159.1 L408.5,2162.8 L409.0,2154.7 L409.5,2145.4 L410.0,2152.8 L410.5,2141.8 L411.0,2146.4 L411.5,2155.8 L412.0,2151.6 L412.5,2160.6 L413.0,2157.0 L413.5,2161.0 L414.0,2162.1 L414.5,2150.5 L415.0,2159.2 L415.5,2149.8 L416.0,2156.0 L416.5,2158.7 L417.0,2148.0 L417.5,2162.9 L418.0,2154.5 L418.5,2153.0 L419.0,2149.6 L419.5,2152.5 L420.0,2157.5 L420.5,2166.7 L421.0,2158.7 L421.5,2154.5 L422.0,2157.1 L422.5,2158.3 L423.0,2160.4 L423.5,2152.8 L424.0,2155.6 L424.5,2158.7 L425.0,2167.9 L425.5,2158.4 L426.0,2156.4 L426.5,2153.9 L427.0,2158.7 L427.5,2158.8 L428.0,2153.1 L428.5,2159.8 L429.0,2151.9 L429.5,2158.5 L430.0,2159.9 L430.5,2164.1 L431.0,2160.0 L431.5,2147.7 L432.0,2160.6 L432.5,2154.8 L433.0,2163.0 L433.5,2150.0 L434.0,2150.8 L434.5,2148.7 L435.0,2156.2 L435.5,2154.6 L436.0,2159.7 L436.5,2154.1 L437.0,2159.0 L437.5,2156.1 L438.0,2165.2 L438.5,2163.3 L439.0,2164.1 L439.5,2151.6 L440.0,2159.7 L440.5,2159.2 L441.0,2155.6 L441.5,2150.1 L442.0,2154.6 L442.5,2155.7 L443.0,2156.2 L443.5,2150.3 L444.0,2164.4 L444.5,2157.3 L445.0,2159.1 L445.5,2159.6 L446.0,2156.7 L446.5,2162.2 L447.0,2162.7 L447.5,2155.4 L448.0,2158.9 L448.5,2165.5 L449.0,2163.6 L449.5,2159.9 L450.0,2163.0 L450.5,2152.2 L451.0,2160.6 L451.5,2155.9 L452.0,2163.4 L452.5,2161.1 L453.0,2163.1 L453.5,2153.2 L454.0,2159.6 L454.5,2163.8 L455.0,2154.5 L455.5,2158.5 L456.0,2153.1 L456.5,2150.8 L457.0,2155.3 L457.5,2150.0 L458.0,2157.9 L458.5,2156.8 L459.0,2159.2 L459.5,2155.2 L460.0,2153.7 L460.5,2162.2 L461.0,2163.8 L461.5,2158.8 L462.0,2159.5 L462.5,2154.1 L463.0,2161.8 L463.5,2156.3 L464.0,2159.3 L464.5,2153.6 L465.0,2153.5 L465.5,2151.1 L466.0,2160.7 L466.5,2164.1 L467.0,2161.8 L467.5,2162.1 L468.0,2160.8 L468.5,2160.9 L469.0,2157.8 L469.5,2160.5 L470.0,2157.6 L470.5,2159.7 L471.0,2163.5 L471.5,2160.6 L472.0,2156.5 L472.5,2150.3 L473.0,2156.2 L473.5,2157.4 L474.0,2162.8 L474.5,2161.7 L475.0,2154.1 L475.5,2160.0 L476.0,2156.0 L476.5,2150.3 L477.0,2156.5 L477.5,2156.6 L478.0,2163.5 L478.5,2161.5 L479.0,2160.7 L479.5,2154.4 L480.0,2158.4 L480.5,2154.5 L481.0,2163.8 L481.5,2151.4 L482.0,2155.0 L482.5,2154.6 L483.0,2168.6 L483.5,2168.7 L484.0,2172.6 L484.5,2161.2 L485.0,2158.2 L485.5,2161.2 L486.0,2164.5 L486.5,2165.9 L487.0,2155.0 L487.5,2151.2 L488.0,2161.1 L488.5,2161.0 L489.0,2156.2 L489.5,2156.4 L490.0,2155.5 L490.5,2163.6 L491.0,2158.9 L491.5,2153.2 L492.0,2159.9 L492.5,2163.3 L493.0,2156.6 L493.5,2159.4 L494.0,2155.4 L494.5,2154.4 L495.0,2170.4 L495.5,2158.8 L496.0,2163.5 L496.5,2151.9 L497.0,2150.8 L497.5,2170.6 L498.0,2156.3 L498.5,2158.6 L499.0,2161.8 L499.5,2158.4 L500.0,2156.7 L500.5,2159.6 L501.0,2154.4 L501.5,2170.2 L502.0,2163.3 L502.5,2164.8 L503.0,2155.3 L503.5,2150.3 L504.0,2151.7 L504.5,2148.9 L505.0,2158.4 L505.5,2149.7 L506.0,2154.0 L506.5,2152.3 L507.0,2149.1 L507.5,2161.0 L508.0,2162.5 L508.5,2162.4 L509.0,2160.6 L509.5,2155.0 L510.0,2158.6 L510.5,2154.8 L511.0,2159.7 L511.5,2159.4 L512.0,2165.8 L512.5,2161.7 L513.0,2154.1 L513.5,2152.7 L514.0,2149.3 L514.5,2158.9 L515.0,2151.2 L515.5,2164.7 L516.0,2158.2 L516.5,2162.5 L517.0,2157.4 L517.5,2155.1 L518.0,2164.2 L518.5,2153.3 L519.0,2159.4 L519.5,2162.7 L520.0,2157.4 L520.5,2162.0 L521.0,2164.8 L521.5,2152.0 L522.0,2155.8 L522.5,2161.0 L523.0,2159.9 L523.5,2166.1 L524.0,2158.0 L524.5,2164.8 L525.0,2153.4 L525.5,2161.5 L526.0,2156.8 L526.5,2164.1 L527.0,2165.1 L527.5,2159.7 L528.0,2152.9 L528.5,2162.1 L529.0,2156.9 L529.5,2151.9 L530.0,2164.1 L530.5,2151.9 L531.0,2148.1 L531.5,2161.7 L532.0,2151.5 L532.5,2155.5 L533.0,2153.2 L533.5,2153.3 L534.0,2158.9 L534.5,2154.6 L535.0,2150.6 L535.5,2156.0 L536.0,2162.3 L536.5,2153.8 L537.0,2159.6 L537.5,2160.2 L538.0,2156.4 L538.5,2158.3 L539.0,2151.7 L539.5,2161.5 L540.0,2158.7 L540.5,2156.1 L541.0,2163.2 L541.5,2156.7 L542.0,2159.8 L542.5,2157.6 L543.0,2159.0 L543.5,2159.3 L544.0,2158.8 L544.5,2160.4 L545.0,2154.9 L545.5,2159.7 L546.0,2156.8 L546.5,2159.4 L547.0,2161.9 L547.5,2169.9 L548.0,2156.2 L548.5,2160.2 L549.0,2157.2 L549.5,2161.0 L550.0,2161.1 L550.5,2157.2 L551.0,2165.0 L551.5,2159.4 L552.0,2162.2 L552.5,2162.6 L553.0,2161.9 L553.5,2154.1 L554.0,2152.7 L554.5,2162.3 L555.0,2167.2 L555.5,2166.0 L556.0,2159.0 L556.5,2146.9 L557.0,2150.9 L557.5,2157.1 L558.0,2153.5 L558.5,2164.6 L559.0,2150.7 L559.5,2159.1 L560.0,2171.2 L560.5,2157.4 L561.0,2161.7 L561.5,2158.3 L562.0,2159.5 L562.5,2157.9 L563.0,2156.4 L563.5,2163.5 L564.0,2161.1 L564.5,2158.6 L565.0,2162.7 L565.5,2162.2 L566.0,2156.4 L566.5,2161.2 L567.0,2157.5 L567.5,2152.4 L568.0,2161.8 L568.5,2154.1 L569.0,2161.4 L569.5,2157.5 L570.0,2155.9 L570.5,2160.9 L571.0,2167.1 L571.5,2157.4 L572.0,2157.4 L572.5,2156.5 L573.0,2162.2 L573.5,2142.0 L574.0,2156.3 L574.5,2165.5 L575.0,2159.9 L575.5,2159.6 L576.0,2155.6 L576.5,2171.4 L577.0,2160.0 L577.5,2160.6 L578.0,2161.7 L578.5,2157.9 L579.0,2154.7 L579.5,2162.6 L580.0,2165.0 L580.5,2156.7 L581.0,2159.6 L581.5,2152.6 L582.0,2155.9 L582.5,2149.2 L583.0,2153.2 L583.5,2161.7 L584.0,2156.8 L584.5,2158.5 L585.0,2155.5 L585.5,2155.4 L586.0,2158.7 L586.5,2159.1 L587.0,2159.8 L587.5,2167.6 L588.0,2154.3 L588.5,2157.0 L589.0,2156.0 L589.5,2156.3 L590.0,2146.9 L590.5,2159.1 L591.0,2157.5 L591.5,2153.3 L592.0,2162.6 L592.5,2156.3 L593.0,2157.6 L593.5,2157.3 L594.0,2160.6 L594.5,2156.4 L595.0,2150.0 L595.5,2156.3 L596.0,2157.9 L596.5,2159.0 L597.0,2148.9 L597.5,2156.0 L598.0,2150.7 L598.5,2160.9 L599.0,2149.7 L599.5,2153.9 L600.0,2153.0 L600.5,2153.5 L601.0,2159.4 L601.5,2160.4 L602.0,2158.7 L602.5,2154.5 L603.0,2158.5 L603.5,2155.1 L604.0,2154.6 L604.5,2157.0 L605.0,2153.3 L605.5,2161.1 L606.0,2150.6 L606.5,2152.3 L607.0,2160.6 L607.5,2159.9 L608.0,2156.9 L608.5,2156.6 L609.0,2158.5 L609.5,2159.9 L610.0,2150.5 L610.5,2168.8 L611.0,2151.2 L611.5,2159.7 L612.0,2155.7 L612.5,2157.9 L613.0,2158.9 L613.5,2156.8 L614.0,2151.8 L614.5,2156.0 L615.0,2158.5 L615.5,2159.1 L616.0,2153.5 L616.5,2154.7 L617.0,2155.6 L617.5,2153.1 L618.0,2150.2 L618.5,2153.6 L619.0,2153.8 L619.5,2144.9 L620.0,2165.6 L620.5,2148.2 L621.0,2155.8 L621.5,2157.0 L622.0,2156.2 L622.5,2163.8 L623.0,2158.5 L623.5,2159.9 L624.0,2165.4 L624.5,2156.0 L625.0,2154.9 L625.5,2169.3 L626.0,2160.2 L626.5,2157.4 L627.0,2159.2 L627.5,2151.1 L628.0,2155.6 L628.5,2153.3 L629.0,2155.3 L629.5,2153.7 L630.0,2160.7 L630.5,2158.2 L631.0,2151.2 L631.5,2160.3 L632.0,2161.0 L632.5,2154.3 L633.0,2155.9 L633.5,2152.3 L634.0,2152.9 L634.5,2156.2 L635.0,2159.4 L635.5,2150.6 L636.0,2151.7 L636.5,2164.0 L637.0,2167.7 L637.5,2156.9 L638.0,2157.9 L638.5,2151.2 L639.0,2160.2 L639.5,2155.2 L640.0,2160.5 L640.5,2154.3 L641.0,2162.4 L641.5,2154.8 L642.0,2164.5 L642.5,2155.5 L643.0,2156.3 L643.5,2158.2 L644.0,2154.7 L644.5,2164.2 L645.0,2150.7 L645.5,2165.0 L646.0,2166.9 L646.5,2151.5 L647.0,2161.0 L647.5,2157.2 L648.0,2158.4 L648.5,2150.8 L649.0,2152.2 L649.5,2148.2 L650.0,2152.5 L650.5,2159.3 L651.0,2151.9 L651.5,2156.3 L652.0,2149.4 L652.5,2148.3 L653.0,2157.3 L653.5,2160.2 L654.0,2154.4 L654.5,2153.4 L655.0,2157.9 L655.5,2150.9 L656.0,2151.0 L656.5,2156.2 L657.0,2145.7 L657.5,2163.8 L658.0,2158.5 L658.5,2160.1 L659.0,2166.2 L659.5,2162.6 L660.0,2153.7 L660.5,2158.3 L661.0,2159.0 L661.5,2156.1 L662.0,2161.3 L662.5,2154.9 L663.0,2157.5 L663.5,2163.4 L664.0,2158.1 L664.5,2163.2 L665.0,2158.0 L665.5,2153.6 L666.0,2163.6 L666.5,2160.2 L667.0,2161.8 L667.5,2152.5 L668.0,2158.2 L668.5,2163.1 L669.0,2159.2 L669.5,2153.6 L670.0,2159.9 L670.5,2163.2 L671.0,2163.9 L671.5,2155.5 L672.0,2161.0 L672.5,2150.7 L673.0,2152.8 L673.5,2156.8 L674.0,2162.7 L674.5,2161.0 L675.0,2160.8 L675.5,2154.1 L676.0,2149.3 L676.5,2154.2 L677.0,2162.2 L677.5,2163.8 L678.0,2151.5 L678.5,2158.9 L679.0,2160.2 L679.5,2160.3 L680.0,2155.2 L680.5,2162.5 L681.0,2157.9 L681.5,2153.1 L682.0,2156.1 L682.5,2161.0 L683.0,2155.3 L683.5,2166.4 L684.0,2155.9 L684.5,2158.3 L685.0,2155.4 L685.5,2153.6 L686.0,2161.9 L686.5,2151.5 L687.0,2154.8 L687.5,2163.4 L688.0,2147.9 L688.5,2155.0 L689.0,2159.9 L689.5,2156.8 L690.0,2167.8 L690.5,2154.1 L691.0,2147.1 L691.5,2154.4 L692.0,2159.6 L692.5,2153.0 L693.0,2157.8 L693.5,2161.5 L694.0,2157.4 L694.5,2158.7 L695.0,2156.9 L695.5,2155.0 L696.0,2162.7 L696.5,2163.3 L697.0,2156.5 L697.5,2161.2 L698.0,2161.5 L698.5,2159.9 L699.0,2162.2 L699.5,2148.7 L700.0,2156.4 L700.5,2150.7 L701.0,2156.2 L701.5,2158.6 L702.0,2164.8 L702.5,2163.7 L703.0,2153.9 L703.5,2155.4 L704.0,2150.2 L704.5,2153.3 L705.0,2155.3 L705.5,2160.0 L706.0,2168.2 L706.5,2160.3 L707.0,2157.0 L707.5,2158.4 L708.0,2156.0 L708.5,2153.1 L709.0,2157.4 L709.5,2158.4 L710.0,2151.8 L710.5,2163.3 L711.0,2153.0 L711.5,2157.1 L712.0,2164.6 L712.5,2151.9 L713.0,2162.0 L713.5,2148.5 L714.0,2160.6 L714.5,2159.6 L715.0,2162.0 L715.5,2152.7 L716.0,2165.8 L716.5,2166.4 L717.0,2155.2 L717.5,2152.6 L718.0,2162.1 L718.5,2160.8 L719.0,2151.4 L719.5,2164.1 L720.0,2165.4 L720.5,2158.3 L721.0,2154.2 L721.5,2155.5 L722.0,2156.1 L722.5,2162.3 L723.0,2168.6 L723.5,2156.8 L724.0,2153.4 L724.5,2155.8 L725.0,2156.3 L725.5,2155.5 L726.0,2157.6 L726.5,2153.7 L727.0,2155.3 L727.5,2152.9 L728.0,2147.7 L728.5,2153.2 L729.0,2150.6 L729.5,2155.8 L730.0,2155.2 L730.5,2162.0 L731.0,2159.0 L731.5,2146.4 L732.0,2162.7 L732.5,2157.1 L733.0,2153.5 L733.5,2154.6 L734.0,2165.7 L734.5,2156.7 L735.0,2157.8 L735.5,2161.4 L736.0,2154.1 L736.5,2159.5 L737.0,2157.0 L737.5,2162.8 L738.0,2158.1 L738.5,2158.2 L739.0,2155.6 L739.5,2150.2 L740.0,2152.0 L740.5,2153.9 L741.0,2155.2 L741.5,2156.3 L742.0,2149.0 L742.5,2148.2 L743.0,2155.7 L743.5,2163.9 L744.0,2153.2 L744.5,2163.0 L745.0,2161.4 L745.5,2160.6 L746.0,2157.3 L746.5,2157.8 L747.0,2157.1 L747.5,2158.8 L748.0,2157.7 L748.5,2155.6 L749.0,2153.1 L749.5,2163.8 L750.0,2153.8 L750.5,2163.1 L751.0,2156.0 L751.5,2159.6 L752.0,2157.3 L752.5,2160.1 L753.0,2153.7 L753.5,2159.5 L754.0,2168.4 L754.5,2157.2 L755.0,2166.7 L755.5,2162.4 L756.0,2160.5 L756.5,2159.6 L757.0,2165.6 L757.5,2157.0 L758.0,2163.5 L758.5,2161.8 L759.0,2161.5 L759.5,2149.6 L760.0,2154.6 L760.5,2162.6 L761.0,2166.3 L761.5,2159.1 L762.0,2160.3 L762.5,2159.1 L763.0,2161.7 L763.5,2168.9 L764.0,2150.4 L764.5,2155.6 L765.0,2165.8 L765.5,2163.2 L766.0,2157.0 L766.5,2159.1 L767.0,2158.7 L767.5,2154.3 L768.0,2152.0 L768.5,2156.6 L769.0,2156.8 L769.5,2149.0 L770.0,2155.9 L770.5,2163.9 L771.0,2156.8 L771.5,2154.5 L772.0,2161.7 L772.5,2157.2 L773.0,2157.9 L773.5,2160.2 L774.0,2158.9 L774.5,2159.6 L775.0,2161.5 L775.5,2153.8 L776.0,2160.5 L776.5,2160.4 L777.0,2158.4 L777.5,2164.2 L778.0,2150.8 L778.5,2158.3 L779.0,2148.9 L779.5,2161.3 L780.0,2158.4 L780.5,2153.4 L781.0,2149.3 L781.5,2152.5 L782.0,2158.1 L782.5,2159.2 L783.0,2160.2 L783.5,2154.1 L784.0,2157.1 L784.5,2165.8 L785.0,2166.3 L785.5,2153.9 L786.0,2155.4 L786.5,2167.2 L787.0,2150.2 L787.5,2149.9 L788.0,2154.3 L788.5,2158.3 L789.0,2158.0 L789.5,2155.6 L790.0,2154.7 L790.5,2165.5 L791.0,2157.4 L791.5,2156.5 L792.0,2160.2 L792.5,2161.8 L793.0,2165.6 L793.5,2161.1 L794.0,2158.6 L794.5,2156.1 L795.0,2158.8 L795.5,2160.0 L796.0,2162.8 L796.5,2162.2 L797.0,2162.1 L797.5,2154.2 L798.0,2162.8 L798.5,2167.8 L799.0,2158.6 L799.5,2162.2 L800.0,2158.9 L800.5,2158.6 L801.0,2161.3 L801.5,2156.9 L802.0,2159.6 L802.5,2153.8 L803.0,2158.6 L803.5,2164.0 L804.0,2157.6 L804.5,2162.2 L805.0,2151.5 L805.5,2153.1 L806.0,2155.0 L806.5,2156.0 L807.0,2155.0 L807.5,2166.8 L808.0,2159.3 L808.5,2157.4 L809.0,2164.5 L809.5,2158.8 L810.0,2154.8 L810.5,2152.1 L811.0,2163.2 L811.5,2166.4 L812.0,2157.1 L812.5,2150.9 L813.0,2164.6 L813.5,2158.6 L814.0,2163.6 L814.5,2153.7 L815.0,2163.2 L815.5,2162.0 L816.0,2160.5 L816.5,2158.7 L817.0,2153.4 L817.5,2151.6 L818.0,2146.6 L818.5,2158.1 L819.0,2159.8 L819.5,2158.0 L820.0,2160.2 L820.5,2150.8 L821.0,2159.5 L821.5,2162.7 L822.0,2151.3 L822.5,2155.6 L823.0,2155.1 L823.5,2160.3 L824.0,2163.8 L824.5,2163.9 L825.0,2152.6 L825.5,2159.5 L826.0,2153.9 L826.5,2157.2 L827.0,2152.9 L827.5,2152.9 L828.0,2160.2 L828.5,2156.1 L829.0,2151.9 L829.5,2161.3 L830.0,2159.8 L830.5,2166.5 L831.0,2158.8 L831.5,2165.7 L832.0,2149.7 L832.5,2157.3 L833.0,2163.8 L833.5,2162.4 L834.0,2159.0 L834.5,2157.5 L835.0,2170.2 L835.5,2156.3 L836.0,2162.8 L836.5,2153.2 L837.0,2155.8 L837.5,2150.7 L838.0,2162.7 L838.5,2160.8 L839.0,2154.4 L839.5,2155.9 L840.0,2159.8 L840.5,2149.7 L841.0,2162.4 L841.5,2158.1 L842.0,2157.3 L842.5,2155.4 L843.0,2159.7 L843.5,2151.4 L844.0,2161.1 L844.5,2153.2 L845.0,2152.0 L845.5,2156.6 L846.0,2156.3 L846.5,2165.0 L847.0,2156.3 L847.5,2150.8 L848.0,2155.2 L848.5,2155.3 L849.0,2156.7 L849.5,2154.3 L850.0,2154.8 L850.5,2148.6 L851.0,2159.8 L851.5,2155.7 L852.0,2155.3 L852.5,2155.4 L853.0,2155.2 L853.5,2152.7 L854.0,2162.5 L854.5,2164.2 L855.0,2157.7 L855.5,2159.1 L856.0,2159.2 L856.5,2159.0 L857.0,2150.8 L857.5,2162.4 L858.0,2149.3 L858.5,2148.3 L859.0,2154.4 L859.5,2155.5 L860.0,2166.4 L860.5,2151.6 L861.0,2154.6 L861.5,2163.3 L862.0,2155.6 L862.5,2165.3 L863.0,2157.7 L863.5,2156.6 L864.0,2159.5 L864.5,2156.6 L865.0,2159.9 L865.5,2152.7 L866.0,2164.7 L866.5,2158.5 L867.0,2164.7 L867.5,2158.5 L868.0,2169.4 L868.5,2149.6 L869.0,2152.1 L869.5,2156.2 L870.0,2162.0 L870.5,2156.1 L871.0,2161.2 L871.5,2155.4 L872.0,2165.6 L872.5,2151.2 L873.0,2161.2 L873.5,2151.3 L874.0,2161.4 L874.5,2159.4 L875.0,2165.5 L875.5,2157.8 L876.0,2168.2 L876.5,2158.4 L877.0,2159.2 L877.5,2158.5 L878.0,2160.8 L878.5,2165.2 L879.0,2153.0 L879.5,2162.6 L880.0,2160.3 L880.5,2155.9 L881.0,2160.6 L881.5,2163.4 L882.0,2157.7 L882.5,2152.2 L883.0,2167.1 L883.5,2153.9 L884.0,2165.9 L884.5,2161.9 L885.0,2162.4 L885.5,2159.6 L886.0,2154.3 L886.5,2155.9 L887.0,2160.1 L887.5,2153.2 L888.0,2152.5 L888.5,2160.9 L889.0,2159.6 L889.5,2154.2 L890.0,2169.4 L890.5,2162.4 L891.0,2158.9 L891.5,2160.2 L892.0,2163.8 L892.5,2158.1 L893.0,2165.5 L893.5,2159.0 L894.0,2158.6 L894.5,2157.6 L895.0,2155.8 L895.5,2152.2 L896.0,2161.7 L896.5,2156.4 L897.0,2151.9 L897.5,2159.8 L898.0,2164.8 L898.5,2159.7 L899.0,2159.1 L899.5,2155.7 L900.0,2158.2 L900.5,2153.5 L901.0,2153.8 L901.5,2159.3 L902.0,2152.6 L902.5,2154.8 L903.0,2154.8 L903.5,2168.4 L904.0,2162.3 L904.5,2160.5 L905.0,2154.8 L905.5,2166.6 L906.0,2160.6 L906.5,2159.9 L907.0,2158.8 L907.5,2160.1 L908.0,2150.1 L908.5,2159.0 L909.0,2156.4 L909.5,2152.1 L910.0,2154.3 L910.5,2170.9 L911.0,2166.0 L911.5,2171.1 L912.0,2171.2 L912.5,2151.7 L913.0,2156.0 L913.5,2165.5 L914.0,2167.8 L914.5,2155.3 L915.0,2165.0 L915.5,2162.5 L916.0,2161.1 L916.5,2153.2 L917.0,2162.8 L917.5,2164.4 L918.0,2167.4 L918.5,2158.9 L919.0,2161.8 L919.5,2158.1 L920.0,2165.7 L920.5,2163.7 L921.0,2152.6 L921.5,2157.9 L922.0,2163.1 L922.5,2164.5 L923.0,2161.1 L923.5,2163.1 L924.0,2157.6 L924.5,2158.1 L925.0,2168.1 L925.5,2158.9 L926.0,2163.8 L926.5,2159.8 L927.0,2147.3 L927.5,2167.3 L928.0,2164.4 L928.5,2160.9 L929.0,2164.0 L929.5,2153.5 L930.0,2159.5 L930.5,2161.7 L931.0,2157.5 L931.5,2166.5 L932.0,2162.5 L932.5,2162.3 L933.0,2159.7 L933.5,2157.2 L934.0,2155.6 L934.5,2157.5 L935.0,2152.5 L935.5,2152.2 L936.0,2166.3 L936.5,2146.5 L937.0,2151.0 L937.5,2153.3 L938.0,2158.9 L938.5,2155.7 L939.0,2156.2 L939.5,2154.3 L940.0,2156.7 L940.5,2161.5 L941.0,2160.0 L941.5,2157.1 L942.0,2151.4 L942.5,2156.1 L943.0,2157.2 L943.5,2155.7 L944.0,2152.4 L944.5,2166.4 L945.0,2155.9 L945.5,2156.4 L946.0,2154.2 L946.5,2165.6 L947.0,2157.2 L947.5,2157.2 L948.0,2156.8 L948.5,2158.7 L949.0,2152.9 L949.5,2158.7 L950.0,2164.3 L950.5,2154.3 L951.0,2153.7 L951.5,2150.6 L952.0,2159.9 L952.5,2153.0 L953.0,2158.6 L953.5,2160.3 L954.0,2167.8 L954.5,2156.7 L955.0,2165.2 L955.5,2165.3 L956.0,2157.1 L956.5,2155.9 L957.0,2155.9 L957.5,2165.7 L958.0,2164.9 L958.5,2164.1 L959.0,2171.1 L959.5,2157.8 L960.0,2159.9 L960.5,2151.0 L961.0,2162.0 L961.5,2162.6 L962.0,2156.4 L962.5,2152.6 L963.0,2160.7 L963.5,2158.1 L964.0,2168.1 L964.5,2159.1 L965.0,2149.8 L965.5,2165.9 L966.0,2157.8 L966.5,2155.4 L967.0,2160.5 L967.5,2153.2 L968.0,2152.7 L968.5,2154.7 L969.0,2154.0 L969.5,2162.5 L970.0,2151.2 L970.5,2156.6 L971.0,2155.1 L971.5,2158.9 L972.0,2152.8 L972.5,2162.4 L973.0,2155.7 L973.5,2162.7 L974.0,2151.7 L974.5,2148.6 L975.0,2156.6 L975.5,2164.0 L976.0,2164.3 L976.5,2155.5 L977.0,2152.7 L977.5,2166.0 L978.0,2156.4 L978.5,2159.2 L979.0,2159.4 L979.5,2160.4 L980.0,2157.6 L980.5,2162.6 L981.0,2153.6 L981.5,2156.6 L982.0,2154.4 L982.5,2151.7 L983.0,2156.1 L983.5,2152.0 L984.0,2160.4 L984.5,2162.4 L985.0,2150.8 L985.5,2159.7 L986.0,2153.4 L986.5,2147.4 L987.0,2152.9 L987.5,2158.8 L988.0,2146.1 L988.5,2155.9 L989.0,2157.7 L989.5,2154.3 L990.0,2153.1 L990.5,2161.1 L991.0,2157.4 L991.5,2159.0 L992.0,2159.6 L992.5,2157.2 L993.0,2163.1 L993.5,2157.4 L994.0,2162.8 L994.5,2154.2 L995.0,2162.0 L995.5,2159.0 L996.0,2155.3 L996.5,2160.1 L997.0,2154.9 L997.5,2160.4 L998.0,2162.5 L998.5,2157.4 L999.0,2158.9 L999.5,2153.2 L1000.0,2158.8 L1000.5,2157.0 L1001.0,2158.6 L1001.5,2162.4 L1002.0,2158.9 L1002.5,2164.9 L1003.0,2162.1 L1003.5,2166.7 L1004.0,2161.2 L1004.5,2155.9 L1005.0,2160.2 L1005.5,2164.9 L1006.0,2155.1 L1006.5,2153.5 L1007.0,2164.2 L1007.5,2161.0 L1008.0,2155.8 L1008.5,2153.4 L1009.0,2153.3 L1009.5,2151.7 L1010.0,2150.2 L1010.5,2157.8 L1011.0,2145.5 L1011.5,2161.9 L1012.0,2155.3 L1012.5,2152.8 L1013.0,2162.1 L1013.5,2157.0 L1014.0,2149.7 L1014.5,2156.6 L1015.0,2164.9 L1015.5,2159.2 L1016.0,2160.7 L1016.5,2148.1 L1017.0,2164.3 L1017.5,2152.2 L1018.0,2151.7 L1018.5,2156.9 L1019.0,2158.1 L1019.5,2156.1 L1020.0,2156.5 L1020.5,2162.5 L1021.0,2154.6 L1021.5,2161.6 L1022.0,2149.6 L1022.5,2153.2 L1023.0,2155.0 L1023.5,2151.6 L1024.0,2163.5 L1024.5,2160.8 L1025.0,2147.2 L1025.5,2162.6 L1026.0,2153.5 L1026.5,2148.0 L1027.0,2150.3 L1027.5,2152.6 L1028.0,2145.5 L1028.5,2160.0 L1029.0,2157.0 L1029.5,2156.3 L1030.0,2157.1 L1030.5,2156.5 L1031.0,2150.5 L1031.5,2162.3 L1032.0,2154.1 L1032.5,2158.4 L1033.0,2154.8 L1033.5,2161.5 L1034.0,2158.9 L1034.5,2159.6 L1035.0,2150.4 L1035.5,2150.7 L1036.0,2158.1 L1036.5,2155.6 L1037.0,2151.5 L1037.5,2155.3 L1038.0,2156.2 L1038.5,2148.0 L1039.0,2159.1 L1039.5,2154.0 L1040.0,2159.7 L1040.5,2156.7 L1041.0,2154.0 L1041.5,2163.4 L1042.0,2157.2 L1042.5,2163.2 L1043.0,2162.9 L1043.5,2153.5 L1044.0,2162.8 L1044.5,2156.7 L1045.0,2154.5 L1045.5,2152.6 L1046.0,2156.8 L1046.5,2156.4 L1047.0,2162.7 L1047.5,2148.8 L1048.0,2159.5 L1048.5,2163.3 L1049.0,2152.7 L1049.5,2166.8 L1050.0,2159.9 L1050.5,2153.7 L1051.0,2150.1 L1051.5,2157.5 L1052.0,2156.9 L1052.5,2159.4 L1053.0,2149.0 L1053.5,2166.2 L1054.0,2157.9 L1054.5,2155.6 L1055.0,2156.1 L1055.5,2152.5 L1056.0,2158.8 L1056.5,2155.2 L1057.0,2149.9 L1057.5,2159.8 L1058.0,2166.5 L1058.5,2152.8 L1059.0,2160.8 L1059.5,2155.1 L1060.0,2171.5 L1060.5,2165.1 L1061.0,2161.0 L1061.5,2154.4 L1062.0,2164.7 L1062.5,2158.3 L1063.0,2154.7 L1063.5,2162.3 L1064.0,2156.9 L1064.5,2163.8 L1065.0,2157.1 L1065.5,2152.8 L1066.0,2160.5 L1066.5,2154.1 L1067.0,2150.6 L1067.5,2158.7 L1068.0,2168.4 L1068.5,2160.9 L1069.0,2155.6 L1069.5,2153.3 L1070.0,2151.3 L1070.5,2157.5 L1071.0,2153.9 L1071.5,2160.1 L1072.0,2159.2 L1072.5,2155.4 L1073.0,2163.4 L1073.5,2149.1 L1074.0,2147.9 L1074.5,2157.0 L1075.0,2156.3 L1075.5,2157.5 L1076.0,2152.8 L1076.5,2161.1 L1077.0,2165.3 L1077.5,2159.8 L1078.0,2154.6 L1078.5,2155.7 L1079.0,2163.8 L1079.5,2158.6 L1080.0,2155.7 L1080.5,2160.0 L1081.0,2157.4 L1081.5,2158.4 L1082.0,2162.0 L1082.5,2154.2 L1083.0,2161.2 L1083.5,2153.9 L1084.0,2158.9 L1084.5,2170.6 L1085.0,2163.9 L1085.5,2160.2 L1086.0,2162.2 L1086.5,2162.3 L1087.0,2161.3 L1087.5,2159.3 L1088.0,2155.4 L1088.5,2155.2 L1089.0,2163.5 L1089.5,2168.0 L1090.0,2162.7 L1090.5,2171.6 L1091.0,2155.9 L1091.5,2152.8 L1092.0,2150.7 L1092.5,2157.2 L1093.0,2158.7 L1093.5,2154.7 L1094.0,2151.0 L1094.5,2151.3 L1095.0,2162.1 L1095.5,2151.5 L1096.0,2161.1 L1096.5,2163.2 L1097.0,2159.7 L1097.5,2167.1 L1098.0,2166.3 L1098.5,2161.3 L1099.0,2162.7 L1099.5,2152.5 L1100.0,2162.2 L1100.5,2153.8 L1101.0,2163.5 L1101.5,2158.9 L1102.0,2155.7 L1102.5,2162.4 L1103.0,2160.4 L1103.5,2162.1 L1104.0,2160.8 L1104.5,2159.7 L1105.0,2166.6 L1105.5,2152.5 L1106.0,2157.2 L1106.5,2162.6 L1107.0,2169.5 L1107.5,2156.7 L1108.0,2172.7 L1108.5,2166.6 L1109.0,2163.1 L1109.5,2158.9 L1110.0,2159.6 L1110.5,2160.9 L1111.0,2159.7 L1111.5,2163.3 L1112.0,2164.3 L1112.5,2150.4 L1113.0,2153.5 L1113.5,2158.9 L1114.0,2157.8 L1114.5,2150.4 L1115.0,2164.9 L1115.5,2155.0 L1116.0,2157.0 L1116.5,2158.8 L1117.0,2156.2 L1117.5,2160.9 L1118.0,2160.2 L1118.5,2149.3 L1119.0,2148.4 L1119.5,2154.4 L1120.0,2151.6 L1120.5,2156.8 L1121.0,2151.9 L1121.5,2159.9 L1122.0,2157.5 L1122.5,2159.1 L1123.0,2163.2 L1123.5,2165.0 L1124.0,2152.4 L1124.5,2159.3 L1125.0,2162.0 L1125.5,2150.3 L1126.0,2159.3 L1126.5,2152.5 L1127.0,2158.5 L1127.5,2150.7 L1128.0,2154.3 L1128.5,2152.8 L1129.0,2150.1 L1129.5,2150.0 L1130.0,2157.1 L1130.5,2154.9 L1131.0,2157.2 L1131.5,2154.5 L1132.0,2156.5" fill="none" stroke="#000000" stroke-width="5.2" stroke-linejoin="round" stroke-linecap="butt"/>
<rect x="239.0" y="1468.9" width="893.9" height="725.7" fill="none" stroke="#000" stroke-width="7.4" stroke-linejoin="miter"/>
<rect x="412.7" y="2182" width="7" height="10" fill="#000"/>
<rect x="591.9" y="2182" width="7" height="10" fill="#000"/>
<rect x="771.1" y="2182" width="7" height="10" fill="#000"/>
<rect x="950.3" y="2182" width="7" height="10" fill="#000"/>
<rect x="323.1" y="2187" width="7" height="5" rx="2.5" fill="#000"/>
<rect x="502.3" y="2187" width="7" height="5" rx="2.5" fill="#000"/>
<rect x="681.5" y="2187" width="7" height="5" rx="2.5" fill="#000"/>
<rect x="860.7" y="2187" width="7" height="5" rx="2.5" fill="#000"/>
<rect x="1039.9" y="2187" width="7" height="5" rx="2.5" fill="#000"/>
<text x="237.0" y="2259.5" font-size="59" font-weight="bold" fill="#000" text-anchor="middle" textLength="108.0" lengthAdjust="spacingAndGlyphs">3460</text>
<text x="416.2" y="2259.5" font-size="59" font-weight="bold" fill="#000" text-anchor="middle" textLength="108.0" lengthAdjust="spacingAndGlyphs">3480</text>
<text x="595.4" y="2259.5" font-size="59" font-weight="bold" fill="#000" text-anchor="middle" textLength="108.0" lengthAdjust="spacingAndGlyphs">3500</text>
<text x="774.6" y="2259.5" font-size="59" font-weight="bold" fill="#000" text-anchor="middle" textLength="108.0" lengthAdjust="spacingAndGlyphs">3520</text>
<text x="953.8" y="2259.5" font-size="59" font-weight="bold" fill="#000" text-anchor="middle" textLength="108.0" lengthAdjust="spacingAndGlyphs">3540</text>
<text x="1133.0" y="2259.5" font-size="59" font-weight="bold" fill="#000" text-anchor="middle" textLength="108.0" lengthAdjust="spacingAndGlyphs">3560</text>
<text x="467.7" y="2320.5" font-size="62" font-weight="bold" fill="#000" text-anchor="start" textLength="433.0" lengthAdjust="spacingAndGlyphs">Magnetic field (G)</text>
<text transform="translate(171.7,2024.6) rotate(-90)" font-size="62" font-weight="bold" textLength="372.6" lengthAdjust="spacingAndGlyphs">Intensity (a.u.)</text>
<text x="850.1" y="1638.0" font-size="34" font-weight="bold" fill="#ff0000" textLength="268.0" lengthAdjust="spacingAndGlyphs"><tspan dy="0.0">ZIF-8/Ag</tspan><tspan font-size="20.4" dy="7.5">3</tspan><tspan dy="-7.5">PO</tspan><tspan font-size="20.4" dy="7.5">4</tspan><tspan dy="-7.5">+1.5AM</tspan></text>
<text x="943.0" y="1936.5" font-size="34" font-weight="bold" fill="#ff00ff" text-anchor="start" textLength="168.0" lengthAdjust="spacingAndGlyphs">ZIF-8+1.5AM</text>
<text x="870.0" y="2046.2" font-size="34" font-weight="bold" fill="#0000ff" textLength="246.7" lengthAdjust="spacingAndGlyphs"><tspan dy="0.0">ZIF-8/Ag</tspan><tspan font-size="20.4" dy="7.5">3</tspan><tspan dy="-7.5">PO</tspan><tspan font-size="20.4" dy="7.5">4</tspan><tspan dy="-7.5">+Dark</tspan></text>
<text x="970.5" y="2129.3" font-size="34" font-weight="bold" fill="#000" text-anchor="start" textLength="148.0" lengthAdjust="spacingAndGlyphs">ZIF-8+Dark</text>
<path d="M1598.0,1680.2 L1598.5,1680.0 L1599.0,1679.7 L1599.5,1679.4 L1600.0,1679.0 L1600.5,1678.5 L1601.0,1678.0 L1601.5,1677.2 L1602.0,1676.4 L1602.5,1675.4 L1603.0,1674.2 L1603.5,1672.7 L1604.0,1671.1 L1604.5,1669.1 L1605.0,1666.9 L1605.5,1664.4 L1606.0,1661.5 L1606.5,1658.3 L1607.0,1654.7 L1607.5,1650.9 L1608.0,1646.7 L1608.5,1642.3 L1609.0,1637.6 L1609.5,1632.9 L1610.0,1628.0 L1610.5,1623.3 L1611.0,1618.7 L1611.5,1614.3 L1612.0,1610.4 L1612.5,1607.1 L1613.0,1604.5 L1613.5,1602.8 L1614.0,1602.0 L1614.5,1602.4 L1615.0,1603.9 L1615.5,1606.7 L1616.0,1610.8 L1616.5,1616.2 L1617.0,1622.9 L1617.5,1630.7 L1618.0,1639.6 L1618.5,1649.3 L1619.0,1659.8 L1619.5,1670.8 L1620.0,1682.0 L1620.5,1694.3 L1621.0,1706.4 L1621.5,1717.9 L1622.0,1728.6 L1622.5,1738.4 L1623.0,1747.0 L1623.5,1754.3 L1624.0,1760.3 L1624.5,1764.8 L1625.0,1767.9 L1625.5,1769.6 L1626.0,1770.0 L1626.5,1769.1 L1627.0,1767.2 L1627.5,1764.3 L1628.0,1760.7 L1628.5,1756.4 L1629.0,1751.6 L1629.5,1746.6 L1630.0,1741.3 L1630.5,1736.0 L1631.0,1730.8 L1631.5,1725.7 L1632.0,1720.8 L1632.5,1716.2 L1633.0,1712.0 L1633.5,1708.1 L1634.0,1704.5 L1634.5,1701.4 L1635.0,1698.6 L1635.5,1696.1 L1636.0,1694.0 L1636.5,1692.1 L1637.0,1690.6 L1637.5,1689.2 L1638.0,1688.1 L1638.5,1687.2 L1639.0,1686.4 L1639.5,1685.8 L1640.0,1685.2 L1640.5,1684.8 L1641.0,1684.4 L1641.5,1684.2 L1642.0,1683.9" fill="none" stroke="#ee3333" stroke-width="6.2" stroke-linejoin="round" stroke-linecap="round"/>
<path d="M1732.2,1679.2 L1732.7,1678.9 L1733.2,1678.6 L1733.7,1678.2 L1734.2,1677.8 L1734.7,1677.2 L1735.2,1676.5 L1735.7,1675.6 L1736.2,1674.4 L1736.7,1673.0 L1737.2,1671.3 L1737.7,1669.2 L1738.2,1666.6 L1738.7,1663.5 L1739.2,1659.8 L1739.7,1655.4 L1740.2,1650.3 L1740.7,1644.3 L1741.2,1637.4 L1741.7,1629.6 L1742.2,1620.9 L1742.7,1611.2 L1743.2,1600.8 L1743.7,1589.6 L1744.2,1577.8 L1744.7,1565.7 L1745.2,1553.6 L1745.7,1541.6 L1746.2,1530.3 L1746.7,1519.9 L1747.2,1511.0 L1747.7,1503.9 L1748.2,1499.1 L1748.7,1497.1 L1749.2,1498.0 L1749.7,1502.3 L1750.2,1510.1 L1750.7,1521.5 L1751.2,1536.4 L1751.7,1554.7 L1752.2,1576.0 L1752.7,1600.1 L1753.2,1626.2 L1753.7,1653.7 L1754.2,1682.0 L1754.7,1709.5 L1755.2,1736.3 L1755.7,1761.7 L1756.2,1785.1 L1756.7,1805.9 L1757.2,1823.7 L1757.7,1838.2 L1758.2,1849.3 L1758.7,1856.8 L1759.2,1861.0 L1759.7,1861.9 L1760.2,1859.9 L1760.7,1855.3 L1761.2,1848.4 L1761.7,1839.7 L1762.2,1829.6 L1762.7,1818.6 L1763.2,1807.0 L1763.7,1795.1 L1764.2,1783.3 L1764.7,1771.9 L1765.2,1761.0 L1765.7,1750.8 L1766.2,1741.5 L1766.7,1733.0 L1767.2,1725.4 L1767.7,1718.7 L1768.2,1712.9 L1768.7,1707.9 L1769.2,1703.6 L1769.7,1700.0 L1770.2,1696.9 L1770.7,1694.4 L1771.2,1692.4 L1771.7,1690.7 L1772.2,1689.4 L1772.7,1688.3 L1773.2,1687.4 L1773.7,1686.7 L1774.2,1686.1 L1774.7,1685.6 L1775.2,1685.3 L1775.7,1685.0 L1776.2,1684.7" fill="none" stroke="#ee3333" stroke-width="6.2" stroke-linejoin="round" stroke-linecap="round"/>
<path d="M1865.3,1679.6 L1865.8,1679.4 L1866.3,1679.1 L1866.8,1678.8 L1867.3,1678.5 L1867.8,1678.0 L1868.3,1677.5 L1868.8,1676.8 L1869.3,1675.9 L1869.8,1674.9 L1870.3,1673.5 L1870.8,1671.8 L1871.3,1669.7 L1871.8,1667.2 L1872.3,1664.1 L1872.8,1660.3 L1873.3,1655.8 L1873.8,1650.5 L1874.3,1644.3 L1874.8,1637.1 L1875.3,1629.0 L1875.8,1619.8 L1876.3,1609.7 L1876.8,1598.7 L1877.3,1586.9 L1877.8,1574.6 L1878.3,1562.0 L1878.8,1549.4 L1879.3,1537.2 L1879.8,1525.7 L1880.3,1515.6 L1880.8,1507.2 L1881.3,1501.0 L1881.8,1497.6 L1882.3,1497.3 L1882.8,1500.4 L1883.3,1507.3 L1883.8,1518.1 L1884.3,1532.6 L1884.8,1550.9 L1885.3,1572.6 L1885.8,1597.2 L1886.3,1624.1 L1886.8,1652.6 L1887.3,1682.0 L1887.8,1710.3 L1888.3,1737.7 L1888.8,1763.6 L1889.3,1787.3 L1889.8,1808.1 L1890.3,1825.7 L1890.8,1839.8 L1891.3,1850.1 L1891.8,1856.7 L1892.3,1859.7 L1892.8,1859.4 L1893.3,1856.1 L1893.8,1850.2 L1894.3,1842.1 L1894.8,1832.4 L1895.3,1821.4 L1895.8,1809.6 L1896.3,1797.5 L1896.8,1785.3 L1897.3,1773.5 L1897.8,1762.2 L1898.3,1751.6 L1898.8,1741.9 L1899.3,1733.1 L1899.8,1725.2 L1900.3,1718.3 L1900.8,1712.3 L1901.3,1707.2 L1901.8,1702.9 L1902.3,1699.3 L1902.8,1696.3 L1903.3,1693.8 L1903.8,1691.8 L1904.3,1690.2 L1904.8,1688.9 L1905.3,1687.9 L1905.8,1687.0 L1906.3,1686.4 L1906.8,1685.8 L1907.3,1685.4 L1907.8,1685.1 L1908.3,1684.8 L1908.8,1684.5 L1909.3,1684.4" fill="none" stroke="#ee3333" stroke-width="6.2" stroke-linejoin="round" stroke-linecap="round"/>
<path d="M1999.1,1680.7 L1999.6,1680.6 L2000.1,1680.5 L2000.6,1680.3 L2001.1,1680.1 L2001.6,1679.9 L2002.1,1679.6 L2002.6,1679.2 L2003.1,1678.8 L2003.6,1678.2 L2004.1,1677.5 L2004.6,1676.6 L2005.1,1675.5 L2005.6,1674.1 L2006.1,1672.4 L2006.6,1670.4 L2007.1,1668.0 L2007.6,1665.1 L2008.1,1661.8 L2008.6,1658.0 L2009.1,1653.6 L2009.6,1648.7 L2010.1,1643.3 L2010.6,1637.4 L2011.1,1631.1 L2011.6,1624.6 L2012.1,1617.8 L2012.6,1611.0 L2013.1,1604.5 L2013.6,1598.4 L2014.1,1593.0 L2014.6,1588.5 L2015.1,1585.2 L2015.6,1583.3 L2016.1,1583.2 L2016.6,1584.9 L2017.1,1588.5 L2017.6,1594.3 L2018.1,1602.1 L2018.6,1611.9 L2019.1,1623.5 L2019.6,1636.6 L2020.1,1651.0 L2020.6,1666.3 L2021.1,1682.0 L2021.6,1696.3 L2022.1,1710.2 L2022.6,1723.3 L2023.1,1735.2 L2023.6,1745.8 L2024.1,1754.7 L2024.6,1761.8 L2025.1,1767.0 L2025.6,1770.3 L2026.1,1771.9 L2026.6,1771.7 L2027.1,1770.1 L2027.6,1767.1 L2028.1,1763.0 L2028.6,1758.0 L2029.1,1752.5 L2029.6,1746.5 L2030.1,1740.4 L2030.6,1734.3 L2031.1,1728.3 L2031.6,1722.5 L2032.1,1717.2 L2032.6,1712.3 L2033.1,1707.8 L2033.6,1703.9 L2034.1,1700.4 L2034.6,1697.4 L2035.1,1694.8 L2035.6,1692.6 L2036.1,1690.7 L2036.6,1689.2 L2037.1,1688.0 L2037.6,1687.0 L2038.1,1686.2 L2038.6,1685.5 L2039.1,1685.0 L2039.6,1684.5 L2040.1,1684.2 L2040.6,1683.9 L2041.1,1683.7 L2041.6,1683.6 L2042.1,1683.4 L2042.6,1683.3 L2043.1,1683.2" fill="none" stroke="#ee3333" stroke-width="6.2" stroke-linejoin="round" stroke-linecap="round"/>
<path d="M1386.0,1688.1 L1386.5,1682.4 L1387.0,1677.4 L1387.5,1682.5 L1388.0,1681.2 L1388.5,1685.2 L1389.0,1682.8 L1389.5,1681.9 L1390.0,1682.4 L1390.5,1684.0 L1391.0,1689.9 L1391.5,1681.2 L1392.0,1683.5 L1392.5,1689.9 L1393.0,1681.7 L1393.5,1677.7 L1394.0,1687.1 L1394.5,1693.2 L1395.0,1685.5 L1395.5,1691.1 L1396.0,1682.4 L1396.5,1682.5 L1397.0,1679.6 L1397.5,1677.9 L1398.0,1683.9 L1398.5,1680.2 L1399.0,1683.8 L1399.5,1675.4 L1400.0,1676.0 L1400.5,1681.3 L1401.0,1681.7 L1401.5,1682.7 L1402.0,1680.8 L1402.5,1675.9 L1403.0,1681.7 L1403.5,1687.0 L1404.0,1684.7 L1404.5,1683.0 L1405.0,1694.4 L1405.5,1682.4 L1406.0,1677.2 L1406.5,1680.4 L1407.0,1680.3 L1407.5,1690.3 L1408.0,1672.6 L1408.5,1678.3 L1409.0,1679.7 L1409.5,1680.2 L1410.0,1683.8 L1410.5,1683.1 L1411.0,1680.3 L1411.5,1686.4 L1412.0,1684.4 L1412.5,1676.6 L1413.0,1673.2 L1413.5,1681.2 L1414.0,1685.4 L1414.5,1679.2 L1415.0,1683.4 L1415.5,1690.5 L1416.0,1681.1 L1416.5,1685.2 L1417.0,1670.6 L1417.5,1676.6 L1418.0,1685.6 L1418.5,1685.1 L1419.0,1683.4 L1419.5,1675.9 L1420.0,1681.9 L1420.5,1683.7 L1421.0,1683.3 L1421.5,1682.6 L1422.0,1675.4 L1422.5,1686.0 L1423.0,1672.7 L1423.5,1681.0 L1424.0,1676.5 L1424.5,1675.0 L1425.0,1675.0 L1425.5,1679.6 L1426.0,1672.5 L1426.5,1682.9 L1427.0,1684.0 L1427.5,1684.5 L1428.0,1677.9 L1428.5,1681.6 L1429.0,1688.2 L1429.5,1693.2 L1430.0,1690.9 L1430.5,1679.8 L1431.0,1686.4 L1431.5,1682.6 L1432.0,1684.3 L1432.5,1684.4 L1433.0,1684.3 L1433.5,1681.7 L1434.0,1684.6 L1434.5,1683.6 L1435.0,1685.4 L1435.5,1681.0 L1436.0,1675.9 L1436.5,1684.6 L1437.0,1682.3 L1437.5,1675.6 L1438.0,1684.9 L1438.5,1680.6 L1439.0,1685.9 L1439.5,1680.0 L1440.0,1680.0 L1440.5,1686.2 L1441.0,1682.2 L1441.5,1681.9 L1442.0,1683.8 L1442.5,1681.7 L1443.0,1683.4 L1443.5,1680.2 L1444.0,1676.0 L1444.5,1678.8 L1445.0,1685.4 L1445.5,1687.6 L1446.0,1689.3 L1446.5,1679.2 L1447.0,1673.8 L1447.5,1677.8 L1448.0,1681.3 L1448.5,1685.4 L1449.0,1679.6 L1449.5,1693.0 L1450.0,1682.5 L1450.5,1680.9 L1451.0,1680.9 L1451.5,1684.7 L1452.0,1679.5 L1452.5,1684.5 L1453.0,1685.3 L1453.5,1691.1 L1454.0,1682.0 L1454.5,1689.4 L1455.0,1677.6 L1455.5,1689.0 L1456.0,1684.0 L1456.5,1683.8 L1457.0,1678.5 L1457.5,1668.7 L1458.0,1682.4 L1458.5,1678.8 L1459.0,1684.7 L1459.5,1677.4 L1460.0,1687.2 L1460.5,1681.9 L1461.0,1676.5 L1461.5,1676.4 L1462.0,1673.4 L1462.5,1689.2 L1463.0,1683.5 L1463.5,1688.8 L1464.0,1678.9 L1464.5,1687.2 L1465.0,1688.8 L1465.5,1678.8 L1466.0,1683.3 L1466.5,1683.1 L1467.0,1681.2 L1467.5,1678.8 L1468.0,1681.0 L1468.5,1678.6 L1469.0,1675.6 L1469.5,1681.1 L1470.0,1682.9 L1470.5,1687.9 L1471.0,1685.3 L1471.5,1679.2 L1472.0,1684.1 L1472.5,1688.0 L1473.0,1685.1 L1473.5,1686.2 L1474.0,1689.8 L1474.5,1685.3 L1475.0,1685.4 L1475.5,1679.1 L1476.0,1684.3 L1476.5,1682.2 L1477.0,1685.7 L1477.5,1678.9 L1478.0,1683.6 L1478.5,1677.5 L1479.0,1687.7 L1479.5,1680.3 L1480.0,1685.2 L1480.5,1690.2 L1481.0,1686.5 L1481.5,1679.1 L1482.0,1688.4 L1482.5,1676.3 L1483.0,1680.1 L1483.5,1681.2 L1484.0,1690.4 L1484.5,1682.8 L1485.0,1679.2 L1485.5,1688.3 L1486.0,1676.8 L1486.5,1687.6 L1487.0,1677.1 L1487.5,1677.3 L1488.0,1675.4 L1488.5,1681.2 L1489.0,1683.4 L1489.5,1683.2 L1490.0,1680.7 L1490.5,1677.6 L1491.0,1674.9 L1491.5,1673.2 L1492.0,1678.6 L1492.5,1679.3 L1493.0,1685.0 L1493.5,1683.1 L1494.0,1683.9 L1494.5,1680.1 L1495.0,1686.1 L1495.5,1683.4 L1496.0,1684.3 L1496.5,1672.1 L1497.0,1679.4 L1497.5,1680.3 L1498.0,1681.1 L1498.5,1679.6 L1499.0,1683.2 L1499.5,1685.3 L1500.0,1680.3 L1500.5,1679.0 L1501.0,1679.8 L1501.5,1688.3 L1502.0,1685.5 L1502.5,1674.6 L1503.0,1679.4 L1503.5,1686.7 L1504.0,1682.5 L1504.5,1680.6 L1505.0,1680.3 L1505.5,1682.9 L1506.0,1687.9 L1506.5,1683.0 L1507.0,1690.2 L1507.5,1685.7 L1508.0,1679.7 L1508.5,1681.9 L1509.0,1682.7 L1509.5,1686.6 L1510.0,1687.1 L1510.5,1685.3 L1511.0,1687.5 L1511.5,1687.6 L1512.0,1687.4 L1512.5,1685.4 L1513.0,1686.5 L1513.5,1679.0 L1514.0,1679.3 L1514.5,1677.4 L1515.0,1674.5 L1515.5,1670.8 L1516.0,1680.4 L1516.5,1688.5 L1517.0,1680.4 L1517.5,1677.0 L1518.0,1684.4 L1518.5,1687.3 L1519.0,1681.2 L1519.5,1678.5 L1520.0,1684.1 L1520.5,1687.6 L1521.0,1681.9 L1521.5,1687.9 L1522.0,1680.0 L1522.5,1682.1 L1523.0,1683.7 L1523.5,1685.8 L1524.0,1671.7 L1524.5,1685.2 L1525.0,1689.1 L1525.5,1677.3 L1526.0,1687.8 L1526.5,1682.3 L1527.0,1685.4 L1527.5,1681.8 L1528.0,1687.1 L1528.5,1682.7 L1529.0,1686.3 L1529.5,1680.5 L1530.0,1682.5 L1530.5,1676.0 L1531.0,1680.7 L1531.5,1684.0 L1532.0,1679.2 L1532.5,1679.5 L1533.0,1682.8 L1533.5,1670.6 L1534.0,1682.4 L1534.5,1673.1 L1535.0,1680.0 L1535.5,1682.2 L1536.0,1675.1 L1536.5,1677.5 L1537.0,1685.9 L1537.5,1684.8 L1538.0,1682.6 L1538.5,1676.2 L1539.0,1671.1 L1539.5,1685.6 L1540.0,1686.8 L1540.5,1688.6 L1541.0,1682.2 L1541.5,1679.8 L1542.0,1679.8 L1542.5,1683.1 L1543.0,1687.5 L1543.5,1690.3 L1544.0,1680.1 L1544.5,1678.2 L1545.0,1685.9 L1545.5,1683.1 L1546.0,1681.1 L1546.5,1686.0 L1547.0,1683.3 L1547.5,1681.6 L1548.0,1679.6 L1548.5,1674.8 L1549.0,1679.3 L1549.5,1684.1 L1550.0,1679.6 L1550.5,1682.9 L1551.0,1678.7 L1551.5,1671.0 L1552.0,1675.1 L1552.5,1685.8 L1553.0,1686.8 L1553.5,1679.5 L1554.0,1684.6 L1554.5,1676.7 L1555.0,1686.5 L1555.5,1691.5 L1556.0,1683.1 L1556.5,1679.1 L1557.0,1679.3 L1557.5,1678.8 L1558.0,1685.0 L1558.5,1681.5 L1559.0,1690.4 L1559.5,1679.7 L1560.0,1680.7 L1560.5,1678.3 L1561.0,1679.2 L1561.5,1683.2 L1562.0,1680.5 L1562.5,1683.7 L1563.0,1681.0 L1563.5,1689.2 L1564.0,1684.1 L1564.5,1682.6 L1565.0,1682.1 L1565.5,1688.2 L1566.0,1685.2 L1566.5,1685.5 L1567.0,1684.9 L1567.5,1677.8 L1568.0,1676.4 L1568.5,1679.7 L1569.0,1677.8 L1569.5,1679.0 L1570.0,1683.7 L1570.5,1685.1 L1571.0,1679.4 L1571.5,1673.2 L1572.0,1688.8 L1572.5,1678.8 L1573.0,1684.2 L1573.5,1680.1 L1574.0,1681.0 L1574.5,1684.1 L1575.0,1677.7 L1575.5,1681.4 L1576.0,1677.8 L1576.5,1671.7 L1577.0,1681.6 L1577.5,1677.7 L1578.0,1682.8 L1578.5,1676.5 L1579.0,1680.9 L1579.5,1683.7 L1580.0,1676.2 L1580.5,1683.7 L1581.0,1686.0 L1581.5,1686.1 L1582.0,1681.6 L1582.5,1677.9 L1583.0,1686.0 L1583.5,1677.0 L1584.0,1678.6 L1584.5,1685.0 L1585.0,1680.2 L1585.5,1679.1 L1586.0,1683.0 L1586.5,1681.1 L1587.0,1685.6 L1587.5,1680.4 L1588.0,1678.3 L1588.5,1681.1 L1589.0,1683.1 L1589.5,1682.8 L1590.0,1678.6 L1590.5,1677.4 L1591.0,1667.2 L1591.5,1678.9 L1592.0,1681.9 L1592.5,1676.1 L1593.0,1686.0 L1593.5,1680.1 L1594.0,1681.0 L1594.5,1685.3 L1595.0,1673.5 L1595.5,1687.4 L1596.0,1681.1 L1596.5,1677.2 L1597.0,1680.6 L1597.5,1678.1 L1598.0,1681.6 L1598.5,1681.6 L1599.0,1677.2 L1599.5,1683.5 L1600.0,1674.7 L1600.5,1674.2 L1601.0,1672.8 L1601.5,1678.5 L1602.0,1674.6 L1602.5,1679.0 L1603.0,1674.4 L1603.5,1677.7 L1604.0,1674.6 L1604.5,1664.8 L1605.0,1675.0 L1605.5,1649.3 L1606.0,1645.8 L1606.5,1656.2 L1607.0,1649.6 L1607.5,1648.4 L1608.0,1645.0 L1608.5,1638.2 L1609.0,1629.3 L1609.5,1629.3 L1610.0,1621.6 L1610.5,1631.8 L1611.0,1628.7 L1611.5,1611.0 L1612.0,1609.4 L1612.5,1611.4 L1613.0,1602.0 L1613.5,1596.2 L1614.0,1605.1 L1614.5,1603.9 L1615.0,1608.9 L1615.5,1611.9 L1616.0,1613.4 L1616.5,1617.0 L1617.0,1621.5 L1617.5,1639.2 L1618.0,1642.8 L1618.5,1652.2 L1619.0,1660.8 L1619.5,1665.7 L1620.0,1687.2 L1620.5,1690.7 L1621.0,1701.3 L1621.5,1720.5 L1622.0,1725.3 L1622.5,1742.0 L1623.0,1745.9 L1623.5,1758.7 L1624.0,1758.6 L1624.5,1761.5 L1625.0,1770.4 L1625.5,1771.1 L1626.0,1770.5 L1626.5,1768.8 L1627.0,1765.2 L1627.5,1764.3 L1628.0,1756.0 L1628.5,1753.8 L1629.0,1747.4 L1629.5,1741.5 L1630.0,1743.3 L1630.5,1735.5 L1631.0,1735.2 L1631.5,1726.3 L1632.0,1720.2 L1632.5,1723.5 L1633.0,1719.0 L1633.5,1715.8 L1634.0,1698.7 L1634.5,1698.0 L1635.0,1707.5 L1635.5,1695.6 L1636.0,1695.7 L1636.5,1685.5 L1637.0,1694.9 L1637.5,1679.6 L1638.0,1688.7 L1638.5,1691.1 L1639.0,1681.7 L1639.5,1685.4 L1640.0,1680.3 L1640.5,1676.6 L1641.0,1678.9 L1641.5,1680.8 L1642.0,1688.6 L1642.5,1681.8 L1643.0,1680.2 L1643.5,1685.7 L1644.0,1681.6 L1644.5,1688.1 L1645.0,1686.1 L1645.5,1685.0 L1646.0,1674.9 L1646.5,1680.4 L1647.0,1693.1 L1647.5,1680.2 L1648.0,1683.8 L1648.5,1678.9 L1649.0,1680.0 L1649.5,1678.8 L1650.0,1678.7 L1650.5,1688.5 L1651.0,1683.5 L1651.5,1678.7 L1652.0,1674.1 L1652.5,1675.8 L1653.0,1681.5 L1653.5,1679.5 L1654.0,1691.1 L1654.5,1684.0 L1655.0,1689.0 L1655.5,1678.9 L1656.0,1680.0 L1656.5,1679.9 L1657.0,1681.4 L1657.5,1674.4 L1658.0,1678.5 L1658.5,1682.3 L1659.0,1681.4 L1659.5,1682.5 L1660.0,1690.6 L1660.5,1684.9 L1661.0,1674.4 L1661.5,1678.3 L1662.0,1675.2 L1662.5,1681.5 L1663.0,1676.0 L1663.5,1673.8 L1664.0,1673.2 L1664.5,1681.9 L1665.0,1674.1 L1665.5,1691.5 L1666.0,1676.4 L1666.5,1673.1 L1667.0,1679.5 L1667.5,1682.2 L1668.0,1688.2 L1668.5,1677.4 L1669.0,1675.2 L1669.5,1687.7 L1670.0,1678.0 L1670.5,1684.7 L1671.0,1683.4 L1671.5,1687.2 L1672.0,1689.7 L1672.5,1678.8 L1673.0,1673.4 L1673.5,1685.8 L1674.0,1681.8 L1674.5,1675.4 L1675.0,1685.3 L1675.5,1681.3 L1676.0,1680.2 L1676.5,1681.9 L1677.0,1686.1 L1677.5,1679.0 L1678.0,1685.8 L1678.5,1685.4 L1679.0,1685.1 L1679.5,1673.9 L1680.0,1688.2 L1680.5,1678.4 L1681.0,1679.3 L1681.5,1686.1 L1682.0,1684.6 L1682.5,1686.8 L1683.0,1676.0 L1683.5,1684.7 L1684.0,1676.3 L1684.5,1677.7 L1685.0,1683.3 L1685.5,1687.0 L1686.0,1672.3 L1686.5,1682.6 L1687.0,1686.1 L1687.5,1672.6 L1688.0,1677.5 L1688.5,1676.7 L1689.0,1686.7 L1689.5,1686.2 L1690.0,1682.6 L1690.5,1686.1 L1691.0,1685.2 L1691.5,1681.6 L1692.0,1674.4 L1692.5,1678.7 L1693.0,1682.6 L1693.5,1689.0 L1694.0,1682.5 L1694.5,1693.0 L1695.0,1682.3 L1695.5,1683.3 L1696.0,1685.5 L1696.5,1682.5 L1697.0,1687.0 L1697.5,1690.2 L1698.0,1679.3 L1698.5,1681.4 L1699.0,1682.1 L1699.5,1684.0 L1700.0,1683.5 L1700.5,1678.3 L1701.0,1680.2 L1701.5,1684.0 L1702.0,1690.0 L1702.5,1681.0 L1703.0,1684.8 L1703.5,1675.2 L1704.0,1684.6 L1704.5,1681.7 L1705.0,1685.3 L1705.5,1681.2 L1706.0,1682.8 L1706.5,1682.4 L1707.0,1679.9 L1707.5,1682.7 L1708.0,1682.5 L1708.5,1693.7 L1709.0,1678.4 L1709.5,1680.2 L1710.0,1685.1 L1710.5,1689.3 L1711.0,1686.5 L1711.5,1678.9 L1712.0,1688.0 L1712.5,1679.2 L1713.0,1680.8 L1713.5,1684.2 L1714.0,1677.0 L1714.5,1672.2 L1715.0,1682.7 L1715.5,1676.1 L1716.0,1673.0 L1716.5,1682.3 L1717.0,1681.0 L1717.5,1688.5 L1718.0,1680.3 L1718.5,1684.3 L1719.0,1683.7 L1719.5,1684.7 L1720.0,1674.2 L1720.5,1678.7 L1721.0,1678.9 L1721.5,1672.4 L1722.0,1679.5 L1722.5,1680.2 L1723.0,1685.1 L1723.5,1680.4 L1724.0,1681.4 L1724.5,1691.5 L1725.0,1679.0 L1725.5,1677.4 L1726.0,1674.5 L1726.5,1677.2 L1727.0,1680.6 L1727.5,1685.4 L1728.0,1683.5 L1728.5,1680.4 L1729.0,1677.6 L1729.5,1682.9 L1730.0,1677.5 L1730.5,1680.7 L1731.0,1680.6 L1731.5,1680.4 L1732.0,1685.1 L1732.5,1680.0 L1733.0,1686.3 L1733.5,1684.7 L1734.0,1679.3 L1734.5,1674.4 L1735.0,1674.6 L1735.5,1676.1 L1736.0,1678.1 L1736.5,1673.9 L1737.0,1671.6 L1737.5,1666.9 L1738.0,1663.3 L1738.5,1664.7 L1739.0,1660.2 L1739.5,1659.4 L1740.0,1657.1 L1740.5,1646.6 L1741.0,1645.9 L1741.5,1635.0 L1742.0,1635.1 L1742.5,1613.4 L1743.0,1619.7 L1743.5,1597.8 L1744.0,1587.3 L1744.5,1574.8 L1745.0,1561.8 L1745.5,1557.6 L1746.0,1539.6 L1746.5,1523.2 L1747.0,1518.4 L1747.5,1505.9 L1748.0,1499.0 L1748.5,1499.1 L1749.0,1498.7 L1749.5,1497.8 L1750.0,1512.5 L1750.5,1518.2 L1751.0,1529.0 L1751.5,1551.6 L1752.0,1567.9 L1752.5,1599.8 L1753.0,1624.5 L1753.5,1640.5 L1754.0,1671.4 L1754.5,1710.2 L1755.0,1724.4 L1755.5,1749.0 L1756.0,1772.6 L1756.5,1801.4 L1757.0,1807.0 L1757.5,1828.6 L1758.0,1846.3 L1758.5,1855.4 L1759.0,1859.6 L1759.5,1862.7 L1760.0,1857.8 L1760.5,1861.7 L1761.0,1851.4 L1761.5,1848.7 L1762.0,1834.9 L1762.5,1820.6 L1763.0,1811.6 L1763.5,1799.1 L1764.0,1791.2 L1764.5,1779.7 L1765.0,1763.5 L1765.5,1757.7 L1766.0,1747.6 L1766.5,1735.4 L1767.0,1728.2 L1767.5,1717.2 L1768.0,1718.8 L1768.5,1711.6 L1769.0,1703.3 L1769.5,1702.9 L1770.0,1695.7 L1770.5,1685.3 L1771.0,1699.9 L1771.5,1690.9 L1772.0,1688.9 L1772.5,1688.8 L1773.0,1692.2 L1773.5,1690.4 L1774.0,1685.3 L1774.5,1690.7 L1775.0,1686.5 L1775.5,1683.0 L1776.0,1683.0 L1776.5,1681.0 L1777.0,1681.8 L1777.5,1685.2 L1778.0,1691.0 L1778.5,1677.0 L1779.0,1683.1 L1779.5,1680.7 L1780.0,1678.1 L1780.5,1683.4 L1781.0,1684.1 L1781.5,1680.1 L1782.0,1681.0 L1782.5,1677.9 L1783.0,1676.4 L1783.5,1682.1 L1784.0,1685.2 L1784.5,1682.6 L1785.0,1678.1 L1785.5,1688.3 L1786.0,1688.7 L1786.5,1681.1 L1787.0,1681.8 L1787.5,1689.2 L1788.0,1683.8 L1788.5,1686.3 L1789.0,1677.6 L1789.5,1681.6 L1790.0,1673.3 L1790.5,1676.6 L1791.0,1686.3 L1791.5,1679.8 L1792.0,1677.9 L1792.5,1684.6 L1793.0,1677.8 L1793.5,1678.4 L1794.0,1682.8 L1794.5,1681.5 L1795.0,1681.9 L1795.5,1681.8 L1796.0,1688.5 L1796.5,1686.5 L1797.0,1689.2 L1797.5,1681.6 L1798.0,1684.3 L1798.5,1690.7 L1799.0,1683.9 L1799.5,1678.2 L1800.0,1689.0 L1800.5,1688.2 L1801.0,1677.9 L1801.5,1685.6 L1802.0,1686.8 L1802.5,1676.2 L1803.0,1677.0 L1803.5,1682.0 L1804.0,1687.2 L1804.5,1679.9 L1805.0,1689.5 L1805.5,1676.7 L1806.0,1689.4 L1806.5,1677.9 L1807.0,1676.6 L1807.5,1680.9 L1808.0,1670.6 L1808.5,1680.2 L1809.0,1682.5 L1809.5,1684.2 L1810.0,1679.6 L1810.5,1692.9 L1811.0,1684.9 L1811.5,1687.1 L1812.0,1682.3 L1812.5,1690.0 L1813.0,1680.2 L1813.5,1681.8 L1814.0,1689.0 L1814.5,1681.3 L1815.0,1682.0 L1815.5,1685.8 L1816.0,1686.1 L1816.5,1683.1 L1817.0,1684.1 L1817.5,1679.7 L1818.0,1683.7 L1818.5,1677.8 L1819.0,1682.6 L1819.5,1678.0 L1820.0,1685.4 L1820.5,1686.6 L1821.0,1683.4 L1821.5,1687.5 L1822.0,1680.7 L1822.5,1676.2 L1823.0,1688.8 L1823.5,1683.1 L1824.0,1678.1 L1824.5,1681.6 L1825.0,1683.2 L1825.5,1679.1 L1826.0,1683.4 L1826.5,1681.1 L1827.0,1676.5 L1827.5,1678.5 L1828.0,1683.6 L1828.5,1687.1 L1829.0,1680.1 L1829.5,1684.9 L1830.0,1683.1 L1830.5,1678.3 L1831.0,1674.4 L1831.5,1684.2 L1832.0,1681.3 L1832.5,1678.3 L1833.0,1683.8 L1833.5,1685.9 L1834.0,1682.7 L1834.5,1680.2 L1835.0,1685.2 L1835.5,1689.3 L1836.0,1679.0 L1836.5,1676.2 L1837.0,1687.1 L1837.5,1679.8 L1838.0,1675.8 L1838.5,1683.7 L1839.0,1680.6 L1839.5,1689.3 L1840.0,1675.2 L1840.5,1679.1 L1841.0,1689.4 L1841.5,1684.1 L1842.0,1675.6 L1842.5,1682.5 L1843.0,1683.3 L1843.5,1684.2 L1844.0,1676.7 L1844.5,1684.8 L1845.0,1682.0 L1845.5,1682.3 L1846.0,1690.0 L1846.5,1678.4 L1847.0,1682.3 L1847.5,1681.0 L1848.0,1675.0 L1848.5,1674.3 L1849.0,1676.6 L1849.5,1693.6 L1850.0,1680.7 L1850.5,1682.8 L1851.0,1682.0 L1851.5,1685.3 L1852.0,1685.5 L1852.5,1679.1 L1853.0,1684.6 L1853.5,1693.8 L1854.0,1681.8 L1854.5,1685.1 L1855.0,1680.1 L1855.5,1686.0 L1856.0,1687.4 L1856.5,1685.7 L1857.0,1687.8 L1857.5,1685.8 L1858.0,1685.5 L1858.5,1683.4 L1859.0,1680.0 L1859.5,1676.4 L1860.0,1676.6 L1860.5,1674.0 L1861.0,1686.6 L1861.5,1677.8 L1862.0,1683.2 L1862.5,1682.2 L1863.0,1678.6 L1863.5,1671.8 L1864.0,1680.5 L1864.5,1681.6 L1865.0,1685.4 L1865.5,1683.8 L1866.0,1683.3 L1866.5,1677.2 L1867.0,1675.8 L1867.5,1687.5 L1868.0,1680.8 L1868.5,1677.0 L1869.0,1676.2 L1869.5,1677.9 L1870.0,1683.3 L1870.5,1673.8 L1871.0,1671.5 L1871.5,1662.7 L1872.0,1667.9 L1872.5,1655.4 L1873.0,1655.8 L1873.5,1653.0 L1874.0,1637.5 L1874.5,1634.0 L1875.0,1625.2 L1875.5,1620.1 L1876.0,1613.3 L1876.5,1604.4 L1877.0,1586.8 L1877.5,1577.0 L1878.0,1565.6 L1878.5,1555.0 L1879.0,1546.4 L1879.5,1525.2 L1880.0,1525.1 L1880.5,1513.0 L1881.0,1499.4 L1881.5,1494.8 L1882.0,1497.9 L1882.5,1498.0 L1883.0,1506.7 L1883.5,1505.7 L1884.0,1524.7 L1884.5,1540.1 L1885.0,1557.0 L1885.5,1582.5 L1886.0,1597.2 L1886.5,1636.0 L1887.0,1664.2 L1887.5,1702.2 L1888.0,1721.5 L1888.5,1746.2 L1889.0,1773.6 L1889.5,1802.7 L1890.0,1813.2 L1890.5,1826.9 L1891.0,1840.4 L1891.5,1852.4 L1892.0,1860.4 L1892.5,1859.9 L1893.0,1861.8 L1893.5,1855.9 L1894.0,1848.0 L1894.5,1848.0 L1895.0,1829.5 L1895.5,1824.6 L1896.0,1802.5 L1896.5,1791.5 L1897.0,1790.4 L1897.5,1765.0 L1898.0,1753.5 L1898.5,1749.5 L1899.0,1745.5 L1899.5,1731.0 L1900.0,1722.7 L1900.5,1720.4 L1901.0,1706.7 L1901.5,1706.4 L1902.0,1706.8 L1902.5,1699.3 L1903.0,1691.4 L1903.5,1696.3 L1904.0,1688.2 L1904.5,1692.1 L1905.0,1684.1 L1905.5,1693.8 L1906.0,1683.7 L1906.5,1688.9 L1907.0,1685.4 L1907.5,1676.5 L1908.0,1686.8 L1908.5,1676.6 L1909.0,1684.5 L1909.5,1679.1 L1910.0,1691.4 L1910.5,1684.0 L1911.0,1687.5 L1911.5,1686.7 L1912.0,1680.0 L1912.5,1684.1 L1913.0,1680.7 L1913.5,1685.7 L1914.0,1686.2 L1914.5,1688.8 L1915.0,1679.6 L1915.5,1684.7 L1916.0,1684.7 L1916.5,1692.4 L1917.0,1686.5 L1917.5,1679.1 L1918.0,1684.9 L1918.5,1689.5 L1919.0,1678.3 L1919.5,1680.5 L1920.0,1681.5 L1920.5,1680.6 L1921.0,1675.8 L1921.5,1680.9 L1922.0,1680.3 L1922.5,1686.6 L1923.0,1674.6 L1923.5,1679.9 L1924.0,1685.5 L1924.5,1674.7 L1925.0,1681.4 L1925.5,1684.2 L1926.0,1683.3 L1926.5,1671.4 L1927.0,1672.1 L1927.5,1680.6 L1928.0,1678.9 L1928.5,1673.5 L1929.0,1686.4 L1929.5,1677.2 L1930.0,1679.6 L1930.5,1687.5 L1931.0,1684.4 L1931.5,1686.4 L1932.0,1690.2 L1932.5,1684.6 L1933.0,1677.7 L1933.5,1687.9 L1934.0,1693.7 L1934.5,1681.0 L1935.0,1681.3 L1935.5,1682.2 L1936.0,1685.2 L1936.5,1688.0 L1937.0,1675.5 L1937.5,1686.7 L1938.0,1683.0 L1938.5,1687.0 L1939.0,1684.4 L1939.5,1682.2 L1940.0,1672.7 L1940.5,1682.1 L1941.0,1682.9 L1941.5,1685.7 L1942.0,1679.8 L1942.5,1688.4 L1943.0,1682.1 L1943.5,1680.6 L1944.0,1688.5 L1944.5,1677.1 L1945.0,1685.2 L1945.5,1688.9 L1946.0,1683.6 L1946.5,1687.1 L1947.0,1690.1 L1947.5,1675.9 L1948.0,1687.4 L1948.5,1693.6 L1949.0,1679.3 L1949.5,1684.6 L1950.0,1683.1 L1950.5,1691.2 L1951.0,1682.6 L1951.5,1684.3 L1952.0,1688.5 L1952.5,1679.5 L1953.0,1684.4 L1953.5,1684.7 L1954.0,1693.7 L1954.5,1682.3 L1955.0,1676.3 L1955.5,1688.2 L1956.0,1674.9 L1956.5,1687.6 L1957.0,1684.6 L1957.5,1685.7 L1958.0,1687.0 L1958.5,1686.1 L1959.0,1689.9 L1959.5,1680.8 L1960.0,1690.0 L1960.5,1675.3 L1961.0,1683.9 L1961.5,1676.7 L1962.0,1684.5 L1962.5,1680.4 L1963.0,1683.5 L1963.5,1691.0 L1964.0,1687.0 L1964.5,1686.2 L1965.0,1674.0 L1965.5,1681.1 L1966.0,1686.2 L1966.5,1683.2 L1967.0,1678.1 L1967.5,1679.2 L1968.0,1675.2 L1968.5,1672.3 L1969.0,1684.7 L1969.5,1682.8 L1970.0,1685.4 L1970.5,1677.8 L1971.0,1681.2 L1971.5,1681.7 L1972.0,1681.2 L1972.5,1680.2 L1973.0,1688.7 L1973.5,1682.1 L1974.0,1676.5 L1974.5,1685.0 L1975.0,1679.7 L1975.5,1671.6 L1976.0,1677.3 L1976.5,1680.7 L1977.0,1687.6 L1977.5,1675.0 L1978.0,1677.4 L1978.5,1678.3 L1979.0,1680.8 L1979.5,1681.0 L1980.0,1671.9 L1980.5,1681.3 L1981.0,1678.8 L1981.5,1683.6 L1982.0,1685.9 L1982.5,1681.1 L1983.0,1687.8 L1983.5,1682.0 L1984.0,1688.4 L1984.5,1677.2 L1985.0,1683.3 L1985.5,1676.1 L1986.0,1684.2 L1986.5,1680.5 L1987.0,1683.8 L1987.5,1688.9 L1988.0,1681.0 L1988.5,1684.5 L1989.0,1683.7 L1989.5,1686.2 L1990.0,1684.0 L1990.5,1693.0 L1991.0,1680.6 L1991.5,1681.3 L1992.0,1687.3 L1992.5,1679.9 L1993.0,1685.8 L1993.5,1678.8 L1994.0,1672.2 L1994.5,1683.2 L1995.0,1686.0 L1995.5,1688.1 L1996.0,1682.8 L1996.5,1679.8 L1997.0,1679.4 L1997.5,1685.6 L1998.0,1681.8 L1998.5,1679.9 L1999.0,1684.7 L1999.5,1687.6 L2000.0,1680.7 L2000.5,1681.3 L2001.0,1683.5 L2001.5,1677.9 L2002.0,1684.6 L2002.5,1677.0 L2003.0,1682.3 L2003.5,1679.5 L2004.0,1678.4 L2004.5,1669.9 L2005.0,1674.5 L2005.5,1675.2 L2006.0,1680.7 L2006.5,1671.2 L2007.0,1663.6 L2007.5,1658.7 L2008.0,1658.8 L2008.5,1655.1 L2009.0,1654.8 L2009.5,1646.6 L2010.0,1644.8 L2010.5,1643.3 L2011.0,1643.1 L2011.5,1631.5 L2012.0,1617.2 L2012.5,1618.4 L2013.0,1611.1 L2013.5,1601.0 L2014.0,1596.4 L2014.5,1585.6 L2015.0,1593.0 L2015.5,1580.7 L2016.0,1585.1 L2016.5,1578.5 L2017.0,1586.7 L2017.5,1588.4 L2018.0,1596.0 L2018.5,1603.7 L2019.0,1612.2 L2019.5,1638.9 L2020.0,1657.8 L2020.5,1662.3 L2021.0,1688.4 L2021.5,1691.9 L2022.0,1705.6 L2022.5,1721.6 L2023.0,1729.6 L2023.5,1737.3 L2024.0,1749.9 L2024.5,1753.6 L2025.0,1760.9 L2025.5,1770.5 L2026.0,1777.2 L2026.5,1763.6 L2027.0,1764.1 L2027.5,1765.6 L2028.0,1765.0 L2028.5,1757.6 L2029.0,1746.8 L2029.5,1751.4 L2030.0,1742.2 L2030.5,1728.3 L2031.0,1721.2 L2031.5,1721.8 L2032.0,1723.0 L2032.5,1710.4 L2033.0,1709.6 L2033.5,1703.1 L2034.0,1697.3 L2034.5,1696.0 L2035.0,1698.4 L2035.5,1696.0 L2036.0,1690.1 L2036.5,1695.8 L2037.0,1692.0 L2037.5,1688.1 L2038.0,1691.4 L2038.5,1684.0 L2039.0,1680.4 L2039.5,1685.2 L2040.0,1685.6 L2040.5,1686.5 L2041.0,1685.4 L2041.5,1683.1 L2042.0,1677.5 L2042.5,1685.9 L2043.0,1671.2 L2043.5,1676.3 L2044.0,1689.5 L2044.5,1676.4 L2045.0,1679.1 L2045.5,1686.5 L2046.0,1691.4 L2046.5,1690.6 L2047.0,1689.6 L2047.5,1688.0 L2048.0,1689.7 L2048.5,1681.8 L2049.0,1691.3 L2049.5,1680.2 L2050.0,1679.7 L2050.5,1685.9 L2051.0,1685.8 L2051.5,1683.4 L2052.0,1681.6 L2052.5,1681.2 L2053.0,1684.6 L2053.5,1678.8 L2054.0,1677.3 L2054.5,1689.4 L2055.0,1683.8 L2055.5,1680.3 L2056.0,1688.6 L2056.5,1684.8 L2057.0,1683.3 L2057.5,1677.4 L2058.0,1685.1 L2058.5,1688.8 L2059.0,1684.1 L2059.5,1680.6 L2060.0,1691.7 L2060.5,1683.6 L2061.0,1682.3 L2061.5,1683.8 L2062.0,1685.3 L2062.5,1684.9 L2063.0,1680.2 L2063.5,1681.6 L2064.0,1690.9 L2064.5,1679.6 L2065.0,1681.6 L2065.5,1676.7 L2066.0,1687.4 L2066.5,1675.0 L2067.0,1684.1 L2067.5,1677.7 L2068.0,1675.5 L2068.5,1685.4 L2069.0,1686.6 L2069.5,1690.3 L2070.0,1680.5 L2070.5,1681.5 L2071.0,1685.6 L2071.5,1679.9 L2072.0,1683.1 L2072.5,1685.7 L2073.0,1685.9 L2073.5,1691.7 L2074.0,1684.1 L2074.5,1685.8 L2075.0,1681.0 L2075.5,1682.1 L2076.0,1678.1 L2076.5,1678.4 L2077.0,1682.9 L2077.5,1683.0 L2078.0,1685.5 L2078.5,1676.9 L2079.0,1684.2 L2079.5,1675.6 L2080.0,1684.1 L2080.5,1689.7 L2081.0,1686.5 L2081.5,1677.7 L2082.0,1683.2 L2082.5,1680.0 L2083.0,1681.3 L2083.5,1676.2 L2084.0,1686.0 L2084.5,1682.3 L2085.0,1686.2 L2085.5,1676.3 L2086.0,1683.1 L2086.5,1682.3 L2087.0,1688.4 L2087.5,1678.1 L2088.0,1688.0 L2088.5,1689.2 L2089.0,1672.9 L2089.5,1681.7 L2090.0,1685.5 L2090.5,1682.9 L2091.0,1677.2 L2091.5,1684.9 L2092.0,1677.3 L2092.5,1686.1 L2093.0,1679.9 L2093.5,1680.7 L2094.0,1682.2 L2094.5,1680.4 L2095.0,1687.6 L2095.5,1682.6 L2096.0,1685.5 L2096.5,1683.3 L2097.0,1682.2 L2097.5,1692.6 L2098.0,1682.1 L2098.5,1685.5 L2099.0,1691.8 L2099.5,1691.5 L2100.0,1685.7 L2100.5,1687.0 L2101.0,1686.1 L2101.5,1686.4 L2102.0,1688.4 L2102.5,1690.8 L2103.0,1676.7 L2103.5,1675.4 L2104.0,1678.0 L2104.5,1689.4 L2105.0,1682.2 L2105.5,1677.2 L2106.0,1676.3 L2106.5,1691.0 L2107.0,1678.2 L2107.5,1680.2 L2108.0,1683.5 L2108.5,1677.6 L2109.0,1676.5 L2109.5,1681.2 L2110.0,1674.7 L2110.5,1681.8 L2111.0,1688.0 L2111.5,1685.1 L2112.0,1682.3 L2112.5,1685.7 L2113.0,1679.8 L2113.5,1675.1 L2114.0,1676.3 L2114.5,1679.7 L2115.0,1682.6 L2115.5,1680.8 L2116.0,1681.5 L2116.5,1679.0 L2117.0,1676.2 L2117.5,1681.4 L2118.0,1674.1 L2118.5,1686.2 L2119.0,1683.2 L2119.5,1687.2 L2120.0,1686.5 L2120.5,1680.4 L2121.0,1684.6 L2121.5,1683.8 L2122.0,1682.7 L2122.5,1687.2 L2123.0,1683.2 L2123.5,1681.1 L2124.0,1679.8 L2124.5,1682.7 L2125.0,1683.1 L2125.5,1681.6 L2126.0,1678.1 L2126.5,1687.4 L2127.0,1683.1 L2127.5,1685.8 L2128.0,1686.6 L2128.5,1679.8 L2129.0,1686.3 L2129.5,1677.5 L2130.0,1678.4 L2130.5,1686.5 L2131.0,1683.8 L2131.5,1676.2 L2132.0,1683.9 L2132.5,1673.2 L2133.0,1689.4 L2133.5,1682.4 L2134.0,1683.0 L2134.5,1688.0 L2135.0,1677.3 L2135.5,1676.5 L2136.0,1681.0 L2136.5,1670.9 L2137.0,1682.2 L2137.5,1678.6 L2138.0,1680.2 L2138.5,1680.7 L2139.0,1672.5 L2139.5,1678.4 L2140.0,1676.1 L2140.5,1675.6 L2141.0,1686.0 L2141.5,1680.8 L2142.0,1689.2 L2142.5,1688.7 L2143.0,1688.4 L2143.5,1681.9 L2144.0,1685.1 L2144.5,1685.7 L2145.0,1684.1 L2145.5,1681.8 L2146.0,1680.9 L2146.5,1683.1 L2147.0,1679.2 L2147.5,1684.0 L2148.0,1689.3 L2148.5,1676.9 L2149.0,1686.2 L2149.5,1680.3 L2150.0,1688.5 L2150.5,1681.9 L2151.0,1684.5 L2151.5,1684.7 L2152.0,1674.9 L2152.5,1686.4 L2153.0,1687.7 L2153.5,1680.3 L2154.0,1674.7 L2154.5,1675.0 L2155.0,1683.1 L2155.5,1681.8 L2156.0,1685.1 L2156.5,1683.7 L2157.0,1680.6 L2157.5,1690.2 L2158.0,1682.8 L2158.5,1679.1 L2159.0,1691.7 L2159.5,1678.4 L2160.0,1680.9 L2160.5,1685.6 L2161.0,1675.8 L2161.5,1676.6 L2162.0,1681.4 L2162.5,1681.4 L2163.0,1692.0 L2163.5,1681.8 L2164.0,1685.6 L2164.5,1679.2 L2165.0,1680.5 L2165.5,1681.3 L2166.0,1677.4 L2166.5,1684.3 L2167.0,1674.8 L2167.5,1684.0 L2168.0,1683.5 L2168.5,1676.1 L2169.0,1682.5 L2169.5,1677.3 L2170.0,1678.2 L2170.5,1680.2 L2171.0,1684.6 L2171.5,1683.1 L2172.0,1672.6 L2172.5,1683.5 L2173.0,1676.4 L2173.5,1683.6 L2174.0,1670.3 L2174.5,1676.1 L2175.0,1681.3 L2175.5,1681.3 L2176.0,1688.8 L2176.5,1683.2 L2177.0,1690.5 L2177.5,1680.7 L2178.0,1683.9 L2178.5,1682.8 L2179.0,1677.2 L2179.5,1688.4 L2180.0,1687.3 L2180.5,1687.2 L2181.0,1684.1 L2181.5,1685.0 L2182.0,1688.3 L2182.5,1673.4 L2183.0,1684.6 L2183.5,1687.0 L2184.0,1686.1 L2184.5,1679.0 L2185.0,1680.6 L2185.5,1687.2 L2186.0,1686.8 L2186.5,1684.7 L2187.0,1675.7 L2187.5,1684.7 L2188.0,1680.5 L2188.5,1687.2 L2189.0,1674.2 L2189.5,1680.1 L2190.0,1683.8 L2190.5,1681.6 L2191.0,1684.2 L2191.5,1678.6 L2192.0,1680.1 L2192.5,1686.7 L2193.0,1678.4 L2193.5,1678.1 L2194.0,1680.5 L2194.5,1679.4 L2195.0,1680.8 L2195.5,1679.2 L2196.0,1678.6 L2196.5,1680.1 L2197.0,1682.6 L2197.5,1687.9 L2198.0,1679.3 L2198.5,1691.6 L2199.0,1684.0 L2199.5,1690.5 L2200.0,1675.5 L2200.5,1680.0 L2201.0,1687.6 L2201.5,1680.6 L2202.0,1684.2 L2202.5,1685.1 L2203.0,1682.0 L2203.5,1680.2 L2204.0,1682.2 L2204.5,1688.3 L2205.0,1686.0 L2205.5,1683.2 L2206.0,1673.0 L2206.5,1689.6 L2207.0,1683.7 L2207.5,1684.7 L2208.0,1675.2 L2208.5,1686.3 L2209.0,1680.5 L2209.5,1677.9 L2210.0,1689.6 L2210.5,1679.2 L2211.0,1679.8 L2211.5,1679.8 L2212.0,1683.2 L2212.5,1681.6 L2213.0,1682.3 L2213.5,1676.5 L2214.0,1684.4 L2214.5,1680.1 L2215.0,1669.4 L2215.5,1679.7 L2216.0,1679.6 L2216.5,1688.0 L2217.0,1674.8 L2217.5,1689.1 L2218.0,1684.3 L2218.5,1691.4 L2219.0,1680.5 L2219.5,1681.7 L2220.0,1680.6 L2220.5,1683.8 L2221.0,1685.5 L2221.5,1681.0 L2222.0,1680.1 L2222.5,1683.6 L2223.0,1688.4 L2223.5,1682.4 L2224.0,1687.1 L2224.5,1688.1 L2225.0,1680.0 L2225.5,1682.1 L2226.0,1679.3 L2226.5,1681.2 L2227.0,1687.8 L2227.5,1680.7 L2228.0,1692.1 L2228.5,1679.4 L2229.0,1684.1 L2229.5,1676.8 L2230.0,1672.3 L2230.5,1674.3 L2231.0,1679.5 L2231.5,1677.6 L2232.0,1681.0 L2232.5,1671.8 L2233.0,1689.1 L2233.5,1684.2 L2234.0,1678.9 L2234.5,1679.2 L2235.0,1683.5 L2235.5,1680.6 L2236.0,1679.9 L2236.5,1677.2 L2237.0,1676.5 L2237.5,1683.6 L2238.0,1682.4 L2238.5,1685.4 L2239.0,1678.4 L2239.5,1682.7 L2240.0,1675.3 L2240.5,1683.0 L2241.0,1686.1 L2241.5,1686.4 L2242.0,1690.7 L2242.5,1678.5 L2243.0,1683.5 L2243.5,1685.7 L2244.0,1683.4 L2244.5,1675.6 L2245.0,1682.9 L2245.5,1675.0 L2246.0,1678.1 L2246.5,1668.0 L2247.0,1684.2 L2247.5,1677.9 L2248.0,1678.6 L2248.5,1684.4 L2249.0,1680.0 L2249.5,1676.7 L2250.0,1676.4 L2250.5,1684.9 L2251.0,1679.0 L2251.5,1677.9 L2252.0,1681.6 L2252.5,1679.8 L2253.0,1682.6 L2253.5,1681.3 L2254.0,1686.7 L2254.5,1686.3 L2255.0,1685.0 L2255.5,1673.5 L2256.0,1679.6 L2256.5,1682.5 L2257.0,1687.3 L2257.5,1685.3 L2258.0,1681.9 L2258.5,1687.0 L2259.0,1671.8 L2259.5,1688.0 L2260.0,1680.7 L2260.5,1681.4 L2261.0,1687.1 L2261.5,1685.6 L2262.0,1680.3 L2262.5,1676.9 L2263.0,1695.9 L2263.5,1690.3 L2264.0,1681.1 L2264.5,1681.4 L2265.0,1685.4 L2265.5,1680.7 L2266.0,1685.4 L2266.5,1679.7 L2267.0,1692.8 L2267.5,1683.1 L2268.0,1673.6 L2268.5,1681.7 L2269.0,1682.3 L2269.5,1687.5 L2270.0,1676.6 L2270.5,1673.4 L2271.0,1692.1 L2271.5,1679.0 L2272.0,1681.7 L2272.5,1684.0 L2273.0,1683.4 L2273.5,1687.5 L2274.0,1683.4 L2274.5,1678.0 L2275.0,1683.0 L2275.5,1676.8 L2276.0,1677.6 L2276.5,1682.9 L2277.0,1676.2" fill="none" stroke="#ee3333" stroke-width="5.2" stroke-linejoin="round" stroke-linecap="butt"/>
<path d="M1597.0,1936.3 L1597.5,1936.3 L1598.0,1936.2 L1598.5,1936.2 L1599.0,1936.2 L1599.5,1936.1 L1600.0,1936.1 L1600.5,1936.0 L1601.0,1935.9 L1601.5,1935.8 L1602.0,1935.6 L1602.5,1935.5 L1603.0,1935.2 L1603.5,1934.9 L1604.0,1934.6 L1604.5,1934.1 L1605.0,1933.6 L1605.5,1932.9 L1606.0,1932.2 L1606.5,1931.2 L1607.0,1930.1 L1607.5,1928.9 L1608.0,1927.5 L1608.5,1925.9 L1609.0,1924.2 L1609.5,1922.3 L1610.0,1920.4 L1610.5,1918.4 L1611.0,1916.5 L1611.5,1914.6 L1612.0,1912.8 L1612.5,1911.3 L1613.0,1910.1 L1613.5,1909.3 L1614.0,1909.0 L1614.5,1909.2 L1615.0,1910.0 L1615.5,1911.5 L1616.0,1913.6 L1616.5,1916.3 L1617.0,1919.6 L1617.5,1923.4 L1618.0,1927.5 L1618.5,1932.0 L1619.0,1936.6 L1619.5,1941.6 L1620.0,1946.4 L1620.5,1950.9 L1621.0,1955.0 L1621.5,1958.6 L1622.0,1961.5 L1622.5,1963.8 L1623.0,1965.4 L1623.5,1966.2 L1624.0,1966.5 L1624.5,1966.1 L1625.0,1965.3 L1625.5,1964.0 L1626.0,1962.4 L1626.5,1960.5 L1627.0,1958.4 L1627.5,1956.3 L1628.0,1954.1 L1628.5,1952.0 L1629.0,1950.0 L1629.5,1948.2 L1630.0,1946.5 L1630.5,1944.9 L1631.0,1943.6 L1631.5,1942.4 L1632.0,1941.4 L1632.5,1940.6 L1633.0,1939.8 L1633.5,1939.2 L1634.0,1938.8 L1634.5,1938.4 L1635.0,1938.1 L1635.5,1937.8 L1636.0,1937.6 L1636.5,1937.5 L1637.0,1937.3 L1637.5,1937.2 L1638.0,1937.2 L1638.5,1937.1 L1639.0,1937.1 L1639.5,1937.0 L1640.0,1937.0 L1640.5,1937.0 L1641.0,1936.9" fill="none" stroke="#ff00ff" stroke-width="6.2" stroke-linejoin="round" stroke-linecap="round"/>
<path d="M1732.2,1935.7 L1732.7,1935.6 L1733.2,1935.5 L1733.7,1935.4 L1734.2,1935.3 L1734.7,1935.1 L1735.2,1934.9 L1735.7,1934.6 L1736.2,1934.2 L1736.7,1933.8 L1737.2,1933.2 L1737.7,1932.6 L1738.2,1931.8 L1738.7,1930.8 L1739.2,1929.6 L1739.7,1928.2 L1740.2,1926.6 L1740.7,1924.7 L1741.2,1922.5 L1741.7,1920.1 L1742.2,1917.3 L1742.7,1914.3 L1743.2,1911.0 L1743.7,1907.5 L1744.2,1903.8 L1744.7,1900.0 L1745.2,1896.1 L1745.7,1892.4 L1746.2,1888.8 L1746.7,1885.5 L1747.2,1882.7 L1747.7,1880.5 L1748.2,1879.0 L1748.7,1878.3 L1749.2,1878.6 L1749.7,1880.0 L1750.2,1882.4 L1750.7,1886.0 L1751.2,1890.7 L1751.7,1896.5 L1752.2,1903.2 L1752.7,1910.8 L1753.2,1919.0 L1753.7,1927.7 L1754.2,1936.6 L1754.7,1945.9 L1755.2,1954.9 L1755.7,1963.4 L1756.2,1971.3 L1756.7,1978.3 L1757.2,1984.3 L1757.7,1989.2 L1758.2,1992.9 L1758.7,1995.5 L1759.2,1996.9 L1759.7,1997.2 L1760.2,1996.5 L1760.7,1994.9 L1761.2,1992.6 L1761.7,1989.7 L1762.2,1986.3 L1762.7,1982.6 L1763.2,1978.7 L1763.7,1974.7 L1764.2,1970.7 L1764.7,1966.9 L1765.2,1963.2 L1765.7,1959.8 L1766.2,1956.6 L1766.7,1953.8 L1767.2,1951.2 L1767.7,1949.0 L1768.2,1947.0 L1768.7,1945.3 L1769.2,1943.9 L1769.7,1942.6 L1770.2,1941.6 L1770.7,1940.8 L1771.2,1940.1 L1771.7,1939.5 L1772.2,1939.1 L1772.7,1938.7 L1773.2,1938.4 L1773.7,1938.2 L1774.2,1938.0 L1774.7,1937.8 L1775.2,1937.7 L1775.7,1937.6 L1776.2,1937.5" fill="none" stroke="#ff00ff" stroke-width="6.2" stroke-linejoin="round" stroke-linecap="round"/>
<path d="M1865.8,1935.4 L1866.2,1935.3 L1866.8,1935.1 L1867.2,1934.9 L1867.8,1934.7 L1868.2,1934.4 L1868.8,1934.1 L1869.2,1933.6 L1869.8,1933.1 L1870.2,1932.4 L1870.8,1931.7 L1871.2,1930.7 L1871.8,1929.6 L1872.2,1928.2 L1872.8,1926.7 L1873.2,1924.8 L1873.8,1922.7 L1874.2,1920.3 L1874.8,1917.7 L1875.2,1914.7 L1875.8,1911.4 L1876.2,1907.9 L1876.8,1904.1 L1877.2,1900.1 L1877.8,1896.1 L1878.2,1892.0 L1878.8,1887.9 L1879.2,1884.0 L1879.8,1880.4 L1880.2,1877.2 L1880.8,1874.6 L1881.2,1872.7 L1881.8,1871.5 L1882.2,1871.3 L1882.8,1872.2 L1883.2,1874.1 L1883.8,1877.2 L1884.2,1881.4 L1884.8,1886.8 L1885.2,1893.2 L1885.8,1900.6 L1886.2,1908.9 L1886.8,1917.7 L1887.2,1927.1 L1887.8,1936.6 L1888.2,1945.5 L1888.8,1954.1 L1889.2,1962.3 L1889.8,1970.0 L1890.2,1976.8 L1890.8,1982.8 L1891.2,1987.8 L1891.8,1991.7 L1892.2,1994.6 L1892.8,1996.4 L1893.2,1997.2 L1893.8,1997.0 L1894.2,1995.9 L1894.8,1994.1 L1895.2,1991.7 L1895.8,1988.7 L1896.2,1985.4 L1896.8,1981.8 L1897.2,1978.0 L1897.8,1974.2 L1898.2,1970.4 L1898.8,1966.8 L1899.2,1963.3 L1899.8,1960.0 L1900.2,1956.9 L1900.8,1954.2 L1901.2,1951.7 L1901.8,1949.5 L1902.2,1947.5 L1902.8,1945.8 L1903.2,1944.4 L1903.8,1943.1 L1904.2,1942.1 L1904.8,1941.2 L1905.2,1940.5 L1905.8,1939.9 L1906.2,1939.4 L1906.8,1939.0 L1907.2,1938.6 L1907.8,1938.4 L1908.2,1938.1 L1908.8,1938.0 L1909.2,1937.8 L1909.8,1937.7" fill="none" stroke="#ff00ff" stroke-width="6.2" stroke-linejoin="round" stroke-linecap="round"/>
<path d="M1999.1,1936.1 L1999.6,1936.0 L2000.1,1936.0 L2000.6,1935.9 L2001.1,1935.8 L2001.6,1935.7 L2002.1,1935.6 L2002.6,1935.4 L2003.1,1935.2 L2003.6,1935.0 L2004.1,1934.7 L2004.6,1934.3 L2005.1,1933.8 L2005.6,1933.3 L2006.1,1932.6 L2006.6,1931.7 L2007.1,1930.7 L2007.6,1929.5 L2008.1,1928.1 L2008.6,1926.5 L2009.1,1924.6 L2009.6,1922.6 L2010.1,1920.3 L2010.6,1917.8 L2011.1,1915.1 L2011.6,1912.3 L2012.1,1909.5 L2012.6,1906.6 L2013.1,1903.9 L2013.6,1901.3 L2014.1,1899.0 L2014.6,1897.1 L2015.1,1895.7 L2015.6,1894.9 L2016.1,1894.9 L2016.6,1895.6 L2017.1,1897.1 L2017.6,1899.6 L2018.1,1902.9 L2018.6,1907.0 L2019.1,1911.9 L2019.6,1917.4 L2020.1,1923.5 L2020.6,1930.0 L2021.1,1936.6 L2021.6,1941.4 L2022.1,1946.0 L2022.6,1950.3 L2023.1,1954.3 L2023.6,1957.8 L2024.1,1960.7 L2024.6,1963.1 L2025.1,1964.8 L2025.6,1966.0 L2026.1,1966.5 L2026.6,1966.4 L2027.1,1965.9 L2027.6,1964.9 L2028.1,1963.5 L2028.6,1961.9 L2029.1,1960.0 L2029.6,1958.0 L2030.1,1956.0 L2030.6,1954.0 L2031.1,1952.0 L2031.6,1950.1 L2032.1,1948.3 L2032.6,1946.7 L2033.1,1945.2 L2033.6,1943.9 L2034.1,1942.7 L2034.6,1941.7 L2035.1,1940.8 L2035.6,1940.1 L2036.1,1939.5 L2036.6,1939.0 L2037.1,1938.6 L2037.6,1938.3 L2038.1,1938.0 L2038.6,1937.8 L2039.1,1937.6 L2039.6,1937.4 L2040.1,1937.3 L2040.6,1937.2 L2041.1,1937.2 L2041.6,1937.1 L2042.1,1937.1 L2042.6,1937.0 L2043.1,1937.0" fill="none" stroke="#ff00ff" stroke-width="6.2" stroke-linejoin="round" stroke-linecap="round"/>
<path d="M1386.0,1936.3 L1386.5,1937.2 L1387.0,1933.6 L1387.5,1947.8 L1388.0,1930.0 L1388.5,1933.6 L1389.0,1933.3 L1389.5,1945.3 L1390.0,1935.5 L1390.5,1934.7 L1391.0,1948.0 L1391.5,1926.9 L1392.0,1944.2 L1392.5,1939.1 L1393.0,1940.9 L1393.5,1937.7 L1394.0,1936.5 L1394.5,1936.0 L1395.0,1935.9 L1395.5,1936.6 L1396.0,1940.1 L1396.5,1933.1 L1397.0,1938.5 L1397.5,1942.4 L1398.0,1940.8 L1398.5,1939.1 L1399.0,1935.2 L1399.5,1939.3 L1400.0,1936.0 L1400.5,1937.5 L1401.0,1937.9 L1401.5,1931.9 L1402.0,1930.3 L1402.5,1937.7 L1403.0,1934.6 L1403.5,1933.0 L1404.0,1941.4 L1404.5,1940.6 L1405.0,1936.6 L1405.5,1941.6 L1406.0,1944.0 L1406.5,1937.0 L1407.0,1937.1 L1407.5,1937.6 L1408.0,1932.5 L1408.5,1940.5 L1409.0,1934.8 L1409.5,1935.6 L1410.0,1935.9 L1410.5,1938.9 L1411.0,1927.2 L1411.5,1941.8 L1412.0,1943.1 L1412.5,1936.8 L1413.0,1943.9 L1413.5,1935.2 L1414.0,1935.9 L1414.5,1943.6 L1415.0,1928.9 L1415.5,1940.7 L1416.0,1932.4 L1416.5,1939.1 L1417.0,1938.6 L1417.5,1936.3 L1418.0,1932.8 L1418.5,1936.3 L1419.0,1929.5 L1419.5,1937.8 L1420.0,1935.3 L1420.5,1938.3 L1421.0,1944.5 L1421.5,1925.5 L1422.0,1931.5 L1422.5,1936.3 L1423.0,1935.8 L1423.5,1938.4 L1424.0,1940.3 L1424.5,1941.7 L1425.0,1932.2 L1425.5,1935.5 L1426.0,1934.2 L1426.5,1938.4 L1427.0,1940.7 L1427.5,1940.1 L1428.0,1936.7 L1428.5,1942.3 L1429.0,1936.8 L1429.5,1927.8 L1430.0,1937.6 L1430.5,1936.5 L1431.0,1932.5 L1431.5,1930.6 L1432.0,1933.2 L1432.5,1942.6 L1433.0,1939.5 L1433.5,1940.0 L1434.0,1932.5 L1434.5,1930.5 L1435.0,1934.1 L1435.5,1933.2 L1436.0,1940.8 L1436.5,1934.8 L1437.0,1936.6 L1437.5,1937.9 L1438.0,1934.1 L1438.5,1933.2 L1439.0,1940.2 L1439.5,1936.7 L1440.0,1945.7 L1440.5,1938.8 L1441.0,1937.2 L1441.5,1936.4 L1442.0,1937.7 L1442.5,1938.5 L1443.0,1936.8 L1443.5,1931.7 L1444.0,1933.4 L1444.5,1933.1 L1445.0,1936.8 L1445.5,1935.0 L1446.0,1934.2 L1446.5,1931.3 L1447.0,1934.6 L1447.5,1938.3 L1448.0,1934.1 L1448.5,1931.7 L1449.0,1942.5 L1449.5,1933.3 L1450.0,1937.1 L1450.5,1938.9 L1451.0,1931.0 L1451.5,1930.4 L1452.0,1939.3 L1452.5,1941.1 L1453.0,1935.3 L1453.5,1936.7 L1454.0,1932.6 L1454.5,1937.4 L1455.0,1944.7 L1455.5,1939.8 L1456.0,1941.1 L1456.5,1942.6 L1457.0,1934.8 L1457.5,1933.9 L1458.0,1940.5 L1458.5,1933.8 L1459.0,1939.3 L1459.5,1942.6 L1460.0,1939.2 L1460.5,1935.4 L1461.0,1939.9 L1461.5,1941.5 L1462.0,1939.2 L1462.5,1934.2 L1463.0,1938.3 L1463.5,1942.2 L1464.0,1939.5 L1464.5,1943.6 L1465.0,1940.3 L1465.5,1931.7 L1466.0,1936.9 L1466.5,1933.5 L1467.0,1940.4 L1467.5,1940.2 L1468.0,1938.7 L1468.5,1939.0 L1469.0,1930.6 L1469.5,1941.5 L1470.0,1944.5 L1470.5,1938.8 L1471.0,1936.3 L1471.5,1930.5 L1472.0,1936.5 L1472.5,1940.4 L1473.0,1940.9 L1473.5,1933.4 L1474.0,1938.3 L1474.5,1924.8 L1475.0,1931.8 L1475.5,1934.1 L1476.0,1937.1 L1476.5,1940.5 L1477.0,1933.0 L1477.5,1935.6 L1478.0,1928.3 L1478.5,1937.5 L1479.0,1940.9 L1479.5,1935.6 L1480.0,1938.4 L1480.5,1936.4 L1481.0,1924.4 L1481.5,1935.4 L1482.0,1937.1 L1482.5,1933.4 L1483.0,1945.3 L1483.5,1927.3 L1484.0,1941.7 L1484.5,1933.7 L1485.0,1939.4 L1485.5,1931.7 L1486.0,1940.9 L1486.5,1940.5 L1487.0,1942.8 L1487.5,1928.8 L1488.0,1939.4 L1488.5,1931.0 L1489.0,1936.5 L1489.5,1936.3 L1490.0,1934.4 L1490.5,1933.3 L1491.0,1936.2 L1491.5,1942.8 L1492.0,1934.8 L1492.5,1937.0 L1493.0,1937.1 L1493.5,1931.7 L1494.0,1938.8 L1494.5,1934.8 L1495.0,1940.0 L1495.5,1932.1 L1496.0,1928.5 L1496.5,1929.7 L1497.0,1935.9 L1497.5,1939.1 L1498.0,1937.1 L1498.5,1941.1 L1499.0,1940.5 L1499.5,1933.6 L1500.0,1935.1 L1500.5,1940.8 L1501.0,1932.7 L1501.5,1938.5 L1502.0,1935.7 L1502.5,1933.6 L1503.0,1943.0 L1503.5,1929.3 L1504.0,1937.2 L1504.5,1931.4 L1505.0,1933.6 L1505.5,1931.2 L1506.0,1940.7 L1506.5,1935.8 L1507.0,1933.6 L1507.5,1934.3 L1508.0,1934.9 L1508.5,1940.2 L1509.0,1933.0 L1509.5,1930.7 L1510.0,1936.2 L1510.5,1933.1 L1511.0,1943.6 L1511.5,1936.4 L1512.0,1934.9 L1512.5,1930.0 L1513.0,1939.0 L1513.5,1940.7 L1514.0,1932.0 L1514.5,1927.9 L1515.0,1929.5 L1515.5,1936.9 L1516.0,1936.7 L1516.5,1937.8 L1517.0,1931.0 L1517.5,1934.1 L1518.0,1930.8 L1518.5,1930.6 L1519.0,1939.4 L1519.5,1940.8 L1520.0,1938.1 L1520.5,1935.1 L1521.0,1939.1 L1521.5,1934.7 L1522.0,1937.3 L1522.5,1937.2 L1523.0,1943.6 L1523.5,1937.5 L1524.0,1929.2 L1524.5,1938.9 L1525.0,1944.9 L1525.5,1938.3 L1526.0,1935.5 L1526.5,1939.5 L1527.0,1938.5 L1527.5,1929.9 L1528.0,1937.8 L1528.5,1939.9 L1529.0,1929.0 L1529.5,1932.6 L1530.0,1927.0 L1530.5,1929.9 L1531.0,1940.9 L1531.5,1942.0 L1532.0,1933.8 L1532.5,1934.5 L1533.0,1940.4 L1533.5,1936.1 L1534.0,1941.5 L1534.5,1936.5 L1535.0,1936.2 L1535.5,1933.7 L1536.0,1937.0 L1536.5,1936.5 L1537.0,1937.5 L1537.5,1936.7 L1538.0,1937.2 L1538.5,1936.5 L1539.0,1927.5 L1539.5,1936.2 L1540.0,1932.8 L1540.5,1936.6 L1541.0,1936.5 L1541.5,1933.9 L1542.0,1932.2 L1542.5,1926.5 L1543.0,1934.5 L1543.5,1933.7 L1544.0,1938.0 L1544.5,1931.5 L1545.0,1937.5 L1545.5,1936.8 L1546.0,1933.3 L1546.5,1933.1 L1547.0,1939.6 L1547.5,1927.3 L1548.0,1936.7 L1548.5,1932.8 L1549.0,1934.8 L1549.5,1945.1 L1550.0,1932.2 L1550.5,1940.2 L1551.0,1928.3 L1551.5,1936.6 L1552.0,1935.3 L1552.5,1932.2 L1553.0,1929.5 L1553.5,1933.0 L1554.0,1938.9 L1554.5,1939.8 L1555.0,1935.2 L1555.5,1932.7 L1556.0,1933.1 L1556.5,1939.6 L1557.0,1927.8 L1557.5,1934.6 L1558.0,1934.8 L1558.5,1934.6 L1559.0,1937.8 L1559.5,1938.2 L1560.0,1934.9 L1560.5,1936.9 L1561.0,1937.0 L1561.5,1933.1 L1562.0,1934.6 L1562.5,1939.5 L1563.0,1937.8 L1563.5,1932.4 L1564.0,1946.7 L1564.5,1927.9 L1565.0,1932.6 L1565.5,1932.6 L1566.0,1935.3 L1566.5,1935.6 L1567.0,1939.4 L1567.5,1931.1 L1568.0,1931.5 L1568.5,1938.6 L1569.0,1936.9 L1569.5,1932.6 L1570.0,1934.3 L1570.5,1937.2 L1571.0,1933.5 L1571.5,1925.5 L1572.0,1939.8 L1572.5,1940.1 L1573.0,1935.1 L1573.5,1938.2 L1574.0,1935.6 L1574.5,1935.8 L1575.0,1926.8 L1575.5,1934.5 L1576.0,1931.8 L1576.5,1936.7 L1577.0,1940.3 L1577.5,1937.2 L1578.0,1932.0 L1578.5,1932.9 L1579.0,1934.5 L1579.5,1934.9 L1580.0,1933.7 L1580.5,1933.2 L1581.0,1928.2 L1581.5,1939.7 L1582.0,1936.4 L1582.5,1942.0 L1583.0,1938.6 L1583.5,1942.7 L1584.0,1938.6 L1584.5,1942.8 L1585.0,1937.2 L1585.5,1940.3 L1586.0,1931.1 L1586.5,1933.1 L1587.0,1931.7 L1587.5,1938.0 L1588.0,1927.8 L1588.5,1932.7 L1589.0,1936.4 L1589.5,1939.8 L1590.0,1934.6 L1590.5,1927.7 L1591.0,1935.0 L1591.5,1936.1 L1592.0,1943.5 L1592.5,1937.5 L1593.0,1938.9 L1593.5,1939.1 L1594.0,1941.0 L1594.5,1938.3 L1595.0,1937.7 L1595.5,1941.9 L1596.0,1935.5 L1596.5,1937.2 L1597.0,1937.4 L1597.5,1940.2 L1598.0,1937.1 L1598.5,1936.3 L1599.0,1939.9 L1599.5,1947.2 L1600.0,1941.7 L1600.5,1938.1 L1601.0,1939.2 L1601.5,1939.1 L1602.0,1933.4 L1602.5,1932.1 L1603.0,1934.9 L1603.5,1931.3 L1604.0,1930.0 L1604.5,1935.9 L1605.0,1932.0 L1605.5,1934.6 L1606.0,1930.0 L1606.5,1925.9 L1607.0,1922.7 L1607.5,1928.5 L1608.0,1930.3 L1608.5,1933.9 L1609.0,1923.4 L1609.5,1924.0 L1610.0,1923.8 L1610.5,1922.5 L1611.0,1923.9 L1611.5,1917.2 L1612.0,1910.0 L1612.5,1920.0 L1613.0,1912.9 L1613.5,1914.5 L1614.0,1905.5 L1614.5,1916.2 L1615.0,1919.0 L1615.5,1905.8 L1616.0,1907.3 L1616.5,1919.8 L1617.0,1918.8 L1617.5,1921.2 L1618.0,1921.3 L1618.5,1928.7 L1619.0,1936.4 L1619.5,1938.1 L1620.0,1945.3 L1620.5,1950.6 L1621.0,1953.5 L1621.5,1965.5 L1622.0,1956.9 L1622.5,1969.1 L1623.0,1965.8 L1623.5,1968.6 L1624.0,1967.2 L1624.5,1960.6 L1625.0,1964.5 L1625.5,1961.0 L1626.0,1962.9 L1626.5,1965.6 L1627.0,1960.4 L1627.5,1956.7 L1628.0,1949.9 L1628.5,1947.8 L1629.0,1946.1 L1629.5,1949.3 L1630.0,1953.0 L1630.5,1950.0 L1631.0,1944.7 L1631.5,1938.7 L1632.0,1937.5 L1632.5,1936.8 L1633.0,1939.7 L1633.5,1938.9 L1634.0,1941.1 L1634.5,1940.1 L1635.0,1940.9 L1635.5,1933.0 L1636.0,1939.9 L1636.5,1930.4 L1637.0,1942.8 L1637.5,1942.8 L1638.0,1943.1 L1638.5,1929.9 L1639.0,1932.9 L1639.5,1939.2 L1640.0,1937.5 L1640.5,1943.3 L1641.0,1940.3 L1641.5,1942.5 L1642.0,1939.6 L1642.5,1933.2 L1643.0,1932.5 L1643.5,1937.1 L1644.0,1938.0 L1644.5,1933.3 L1645.0,1939.2 L1645.5,1934.3 L1646.0,1939.5 L1646.5,1932.0 L1647.0,1941.0 L1647.5,1946.9 L1648.0,1947.2 L1648.5,1926.8 L1649.0,1938.6 L1649.5,1940.4 L1650.0,1944.7 L1650.5,1941.7 L1651.0,1933.2 L1651.5,1934.8 L1652.0,1938.8 L1652.5,1934.9 L1653.0,1943.5 L1653.5,1935.1 L1654.0,1939.3 L1654.5,1933.7 L1655.0,1940.5 L1655.5,1935.5 L1656.0,1931.3 L1656.5,1934.3 L1657.0,1934.1 L1657.5,1928.0 L1658.0,1937.6 L1658.5,1935.8 L1659.0,1945.4 L1659.5,1941.8 L1660.0,1937.0 L1660.5,1939.8 L1661.0,1946.0 L1661.5,1942.2 L1662.0,1943.2 L1662.5,1931.6 L1663.0,1935.1 L1663.5,1943.1 L1664.0,1931.8 L1664.5,1935.2 L1665.0,1939.5 L1665.5,1930.0 L1666.0,1928.3 L1666.5,1933.8 L1667.0,1940.8 L1667.5,1941.3 L1668.0,1945.8 L1668.5,1939.3 L1669.0,1932.4 L1669.5,1933.7 L1670.0,1944.5 L1670.5,1946.1 L1671.0,1940.6 L1671.5,1941.8 L1672.0,1941.1 L1672.5,1937.5 L1673.0,1934.2 L1673.5,1947.0 L1674.0,1946.2 L1674.5,1948.8 L1675.0,1938.6 L1675.5,1938.2 L1676.0,1940.0 L1676.5,1942.4 L1677.0,1940.0 L1677.5,1936.2 L1678.0,1937.9 L1678.5,1933.1 L1679.0,1928.5 L1679.5,1936.1 L1680.0,1934.1 L1680.5,1935.7 L1681.0,1934.8 L1681.5,1946.3 L1682.0,1941.6 L1682.5,1946.1 L1683.0,1936.2 L1683.5,1936.4 L1684.0,1936.6 L1684.5,1938.3 L1685.0,1945.3 L1685.5,1938.1 L1686.0,1946.2 L1686.5,1944.7 L1687.0,1934.2 L1687.5,1939.7 L1688.0,1932.4 L1688.5,1930.1 L1689.0,1929.4 L1689.5,1932.7 L1690.0,1939.6 L1690.5,1940.1 L1691.0,1931.0 L1691.5,1937.3 L1692.0,1938.3 L1692.5,1935.4 L1693.0,1938.7 L1693.5,1933.7 L1694.0,1937.0 L1694.5,1933.3 L1695.0,1932.0 L1695.5,1929.5 L1696.0,1942.1 L1696.5,1943.2 L1697.0,1942.4 L1697.5,1938.0 L1698.0,1931.6 L1698.5,1934.2 L1699.0,1934.8 L1699.5,1934.7 L1700.0,1930.5 L1700.5,1937.0 L1701.0,1935.3 L1701.5,1937.2 L1702.0,1935.8 L1702.5,1942.1 L1703.0,1942.8 L1703.5,1936.2 L1704.0,1938.3 L1704.5,1942.5 L1705.0,1945.0 L1705.5,1931.4 L1706.0,1935.9 L1706.5,1932.6 L1707.0,1936.4 L1707.5,1939.0 L1708.0,1936.3 L1708.5,1933.3 L1709.0,1937.8 L1709.5,1938.8 L1710.0,1937.0 L1710.5,1929.3 L1711.0,1944.3 L1711.5,1933.0 L1712.0,1934.9 L1712.5,1936.7 L1713.0,1933.6 L1713.5,1945.9 L1714.0,1937.8 L1714.5,1937.0 L1715.0,1941.0 L1715.5,1945.3 L1716.0,1934.9 L1716.5,1932.9 L1717.0,1934.8 L1717.5,1934.2 L1718.0,1937.1 L1718.5,1930.5 L1719.0,1938.3 L1719.5,1940.1 L1720.0,1938.4 L1720.5,1927.2 L1721.0,1924.6 L1721.5,1933.3 L1722.0,1944.6 L1722.5,1938.7 L1723.0,1937.7 L1723.5,1934.9 L1724.0,1943.9 L1724.5,1936.8 L1725.0,1939.7 L1725.5,1945.7 L1726.0,1933.0 L1726.5,1939.1 L1727.0,1935.1 L1727.5,1943.1 L1728.0,1937.9 L1728.5,1934.7 L1729.0,1932.9 L1729.5,1937.0 L1730.0,1933.3 L1730.5,1938.4 L1731.0,1939.1 L1731.5,1932.4 L1732.0,1929.7 L1732.5,1938.5 L1733.0,1945.6 L1733.5,1938.5 L1734.0,1940.8 L1734.5,1936.0 L1735.0,1938.3 L1735.5,1935.5 L1736.0,1932.9 L1736.5,1932.2 L1737.0,1930.3 L1737.5,1924.3 L1738.0,1938.6 L1738.5,1929.0 L1739.0,1931.9 L1739.5,1931.7 L1740.0,1925.6 L1740.5,1926.1 L1741.0,1923.3 L1741.5,1923.1 L1742.0,1921.1 L1742.5,1916.9 L1743.0,1906.4 L1743.5,1909.4 L1744.0,1900.1 L1744.5,1900.5 L1745.0,1905.4 L1745.5,1887.0 L1746.0,1888.6 L1746.5,1894.4 L1747.0,1874.7 L1747.5,1873.6 L1748.0,1873.7 L1748.5,1876.3 L1749.0,1877.2 L1749.5,1882.1 L1750.0,1880.4 L1750.5,1882.6 L1751.0,1877.2 L1751.5,1894.4 L1752.0,1904.9 L1752.5,1907.1 L1753.0,1914.0 L1753.5,1925.7 L1754.0,1927.8 L1754.5,1942.0 L1755.0,1942.4 L1755.5,1960.4 L1756.0,1968.0 L1756.5,1972.5 L1757.0,1984.9 L1757.5,1992.4 L1758.0,1992.2 L1758.5,1990.9 L1759.0,1993.5 L1759.5,2000.1 L1760.0,2000.1 L1760.5,2001.8 L1761.0,1987.1 L1761.5,1995.9 L1762.0,1986.5 L1762.5,1983.5 L1763.0,1980.8 L1763.5,1977.1 L1764.0,1969.8 L1764.5,1967.8 L1765.0,1968.1 L1765.5,1966.6 L1766.0,1962.8 L1766.5,1955.6 L1767.0,1947.7 L1767.5,1948.6 L1768.0,1945.7 L1768.5,1948.1 L1769.0,1945.4 L1769.5,1945.3 L1770.0,1940.5 L1770.5,1935.2 L1771.0,1935.3 L1771.5,1943.1 L1772.0,1945.0 L1772.5,1933.1 L1773.0,1937.7 L1773.5,1941.9 L1774.0,1938.2 L1774.5,1930.9 L1775.0,1932.3 L1775.5,1938.2 L1776.0,1937.3 L1776.5,1936.5 L1777.0,1931.9 L1777.5,1940.4 L1778.0,1932.1 L1778.5,1935.0 L1779.0,1933.7 L1779.5,1932.2 L1780.0,1938.7 L1780.5,1940.1 L1781.0,1935.7 L1781.5,1931.0 L1782.0,1932.5 L1782.5,1935.3 L1783.0,1936.9 L1783.5,1942.9 L1784.0,1938.9 L1784.5,1932.2 L1785.0,1933.8 L1785.5,1934.3 L1786.0,1939.0 L1786.5,1935.1 L1787.0,1941.5 L1787.5,1938.9 L1788.0,1942.4 L1788.5,1939.7 L1789.0,1938.1 L1789.5,1940.7 L1790.0,1942.7 L1790.5,1938.5 L1791.0,1935.0 L1791.5,1941.0 L1792.0,1937.8 L1792.5,1932.9 L1793.0,1930.0 L1793.5,1933.6 L1794.0,1935.2 L1794.5,1936.9 L1795.0,1934.7 L1795.5,1933.0 L1796.0,1935.9 L1796.5,1935.0 L1797.0,1942.5 L1797.5,1935.2 L1798.0,1939.5 L1798.5,1933.9 L1799.0,1932.1 L1799.5,1928.6 L1800.0,1934.1 L1800.5,1933.9 L1801.0,1931.0 L1801.5,1941.5 L1802.0,1932.3 L1802.5,1948.4 L1803.0,1935.1 L1803.5,1942.9 L1804.0,1934.5 L1804.5,1943.9 L1805.0,1938.0 L1805.5,1937.4 L1806.0,1942.2 L1806.5,1934.1 L1807.0,1937.0 L1807.5,1939.6 L1808.0,1942.3 L1808.5,1934.6 L1809.0,1940.7 L1809.5,1938.1 L1810.0,1935.3 L1810.5,1940.8 L1811.0,1931.1 L1811.5,1934.0 L1812.0,1937.2 L1812.5,1930.5 L1813.0,1935.7 L1813.5,1933.7 L1814.0,1931.7 L1814.5,1939.6 L1815.0,1942.8 L1815.5,1935.4 L1816.0,1932.8 L1816.5,1930.4 L1817.0,1943.0 L1817.5,1940.8 L1818.0,1932.9 L1818.5,1936.3 L1819.0,1939.7 L1819.5,1937.0 L1820.0,1936.3 L1820.5,1933.2 L1821.0,1939.4 L1821.5,1940.7 L1822.0,1936.9 L1822.5,1946.2 L1823.0,1942.3 L1823.5,1940.0 L1824.0,1933.5 L1824.5,1940.2 L1825.0,1939.6 L1825.5,1932.6 L1826.0,1940.5 L1826.5,1936.9 L1827.0,1949.3 L1827.5,1937.8 L1828.0,1935.6 L1828.5,1938.4 L1829.0,1939.8 L1829.5,1943.0 L1830.0,1925.9 L1830.5,1937.1 L1831.0,1924.1 L1831.5,1931.0 L1832.0,1934.5 L1832.5,1937.6 L1833.0,1934.3 L1833.5,1938.7 L1834.0,1938.4 L1834.5,1938.6 L1835.0,1944.3 L1835.5,1933.1 L1836.0,1935.3 L1836.5,1933.8 L1837.0,1935.0 L1837.5,1948.1 L1838.0,1936.2 L1838.5,1939.3 L1839.0,1942.2 L1839.5,1933.8 L1840.0,1944.0 L1840.5,1934.9 L1841.0,1938.9 L1841.5,1935.5 L1842.0,1941.1 L1842.5,1931.8 L1843.0,1940.7 L1843.5,1941.0 L1844.0,1928.3 L1844.5,1932.2 L1845.0,1940.2 L1845.5,1940.9 L1846.0,1935.5 L1846.5,1939.8 L1847.0,1937.0 L1847.5,1943.5 L1848.0,1945.3 L1848.5,1942.0 L1849.0,1936.8 L1849.5,1936.7 L1850.0,1936.1 L1850.5,1941.5 L1851.0,1942.5 L1851.5,1938.3 L1852.0,1940.6 L1852.5,1941.2 L1853.0,1944.4 L1853.5,1936.0 L1854.0,1934.4 L1854.5,1938.2 L1855.0,1939.3 L1855.5,1935.9 L1856.0,1932.1 L1856.5,1936.4 L1857.0,1947.7 L1857.5,1935.3 L1858.0,1941.7 L1858.5,1931.6 L1859.0,1937.2 L1859.5,1943.8 L1860.0,1932.0 L1860.5,1938.5 L1861.0,1935.6 L1861.5,1940.1 L1862.0,1941.5 L1862.5,1930.3 L1863.0,1935.6 L1863.5,1933.1 L1864.0,1937.1 L1864.5,1940.1 L1865.0,1932.9 L1865.5,1937.7 L1866.0,1942.1 L1866.5,1938.6 L1867.0,1935.6 L1867.5,1933.9 L1868.0,1933.5 L1868.5,1927.4 L1869.0,1933.4 L1869.5,1932.6 L1870.0,1934.1 L1870.5,1933.3 L1871.0,1929.1 L1871.5,1932.1 L1872.0,1934.2 L1872.5,1933.6 L1873.0,1925.2 L1873.5,1917.9 L1874.0,1912.0 L1874.5,1920.3 L1875.0,1917.0 L1875.5,1910.3 L1876.0,1909.8 L1876.5,1907.3 L1877.0,1904.7 L1877.5,1898.5 L1878.0,1888.1 L1878.5,1884.4 L1879.0,1884.9 L1879.5,1875.7 L1880.0,1877.9 L1880.5,1877.4 L1881.0,1869.1 L1881.5,1870.4 L1882.0,1868.5 L1882.5,1877.9 L1883.0,1876.5 L1883.5,1869.2 L1884.0,1877.0 L1884.5,1886.0 L1885.0,1881.8 L1885.5,1896.4 L1886.0,1908.7 L1886.5,1912.4 L1887.0,1925.4 L1887.5,1936.1 L1888.0,1938.2 L1888.5,1950.5 L1889.0,1959.4 L1889.5,1966.8 L1890.0,1978.6 L1890.5,1991.2 L1891.0,1984.4 L1891.5,1985.8 L1892.0,1992.5 L1892.5,1993.1 L1893.0,1991.0 L1893.5,2001.1 L1894.0,2005.3 L1894.5,1994.4 L1895.0,2004.0 L1895.5,1990.0 L1896.0,1990.8 L1896.5,1982.2 L1897.0,1978.6 L1897.5,1970.8 L1898.0,1977.6 L1898.5,1966.1 L1899.0,1969.0 L1899.5,1962.0 L1900.0,1956.7 L1900.5,1954.4 L1901.0,1945.6 L1901.5,1948.5 L1902.0,1951.4 L1902.5,1944.4 L1903.0,1956.3 L1903.5,1943.3 L1904.0,1949.5 L1904.5,1938.0 L1905.0,1940.0 L1905.5,1945.7 L1906.0,1946.1 L1906.5,1930.4 L1907.0,1949.3 L1907.5,1943.4 L1908.0,1936.6 L1908.5,1932.9 L1909.0,1934.5 L1909.5,1937.4 L1910.0,1935.1 L1910.5,1932.8 L1911.0,1936.9 L1911.5,1937.6 L1912.0,1939.8 L1912.5,1946.4 L1913.0,1939.3 L1913.5,1947.2 L1914.0,1937.6 L1914.5,1932.8 L1915.0,1946.9 L1915.5,1946.8 L1916.0,1937.0 L1916.5,1937.7 L1917.0,1939.6 L1917.5,1940.7 L1918.0,1942.5 L1918.5,1939.3 L1919.0,1938.0 L1919.5,1937.4 L1920.0,1934.3 L1920.5,1938.0 L1921.0,1938.5 L1921.5,1937.9 L1922.0,1938.7 L1922.5,1931.7 L1923.0,1940.6 L1923.5,1931.7 L1924.0,1931.2 L1924.5,1940.0 L1925.0,1936.1 L1925.5,1927.9 L1926.0,1932.3 L1926.5,1934.1 L1927.0,1937.4 L1927.5,1934.5 L1928.0,1935.7 L1928.5,1938.9 L1929.0,1928.4 L1929.5,1929.8 L1930.0,1940.4 L1930.5,1930.1 L1931.0,1927.7 L1931.5,1933.0 L1932.0,1939.2 L1932.5,1938.0 L1933.0,1934.7 L1933.5,1934.3 L1934.0,1937.9 L1934.5,1934.2 L1935.0,1937.3 L1935.5,1946.2 L1936.0,1939.9 L1936.5,1937.1 L1937.0,1938.9 L1937.5,1937.4 L1938.0,1936.0 L1938.5,1938.5 L1939.0,1942.2 L1939.5,1940.8 L1940.0,1936.1 L1940.5,1943.6 L1941.0,1935.0 L1941.5,1935.6 L1942.0,1936.7 L1942.5,1943.8 L1943.0,1937.9 L1943.5,1938.1 L1944.0,1943.5 L1944.5,1925.9 L1945.0,1933.9 L1945.5,1930.9 L1946.0,1933.0 L1946.5,1937.1 L1947.0,1933.5 L1947.5,1936.2 L1948.0,1929.7 L1948.5,1926.8 L1949.0,1937.0 L1949.5,1934.8 L1950.0,1939.7 L1950.5,1952.4 L1951.0,1932.2 L1951.5,1939.7 L1952.0,1943.2 L1952.5,1942.0 L1953.0,1937.7 L1953.5,1936.8 L1954.0,1935.1 L1954.5,1931.8 L1955.0,1938.9 L1955.5,1934.4 L1956.0,1943.1 L1956.5,1938.2 L1957.0,1936.4 L1957.5,1938.5 L1958.0,1944.0 L1958.5,1938.9 L1959.0,1935.6 L1959.5,1933.1 L1960.0,1935.6 L1960.5,1943.4 L1961.0,1936.0 L1961.5,1935.9 L1962.0,1938.2 L1962.5,1936.9 L1963.0,1943.9 L1963.5,1936.7 L1964.0,1934.0 L1964.5,1937.5 L1965.0,1935.9 L1965.5,1938.0 L1966.0,1941.8 L1966.5,1939.8 L1967.0,1934.5 L1967.5,1931.2 L1968.0,1933.3 L1968.5,1939.8 L1969.0,1940.7 L1969.5,1933.6 L1970.0,1936.3 L1970.5,1938.8 L1971.0,1933.4 L1971.5,1934.0 L1972.0,1935.1 L1972.5,1939.3 L1973.0,1931.1 L1973.5,1931.3 L1974.0,1938.5 L1974.5,1942.5 L1975.0,1943.0 L1975.5,1938.8 L1976.0,1941.7 L1976.5,1942.8 L1977.0,1936.6 L1977.5,1944.1 L1978.0,1933.4 L1978.5,1942.5 L1979.0,1945.7 L1979.5,1943.8 L1980.0,1932.1 L1980.5,1934.6 L1981.0,1932.8 L1981.5,1935.1 L1982.0,1933.1 L1982.5,1933.9 L1983.0,1946.2 L1983.5,1939.4 L1984.0,1943.5 L1984.5,1934.1 L1985.0,1933.8 L1985.5,1934.9 L1986.0,1943.7 L1986.5,1940.7 L1987.0,1931.1 L1987.5,1938.0 L1988.0,1938.5 L1988.5,1941.1 L1989.0,1931.7 L1989.5,1938.6 L1990.0,1936.9 L1990.5,1935.6 L1991.0,1930.6 L1991.5,1935.5 L1992.0,1928.8 L1992.5,1935.5 L1993.0,1925.6 L1993.5,1941.4 L1994.0,1932.7 L1994.5,1934.2 L1995.0,1934.0 L1995.5,1934.2 L1996.0,1932.6 L1996.5,1927.9 L1997.0,1937.0 L1997.5,1937.1 L1998.0,1939.3 L1998.5,1933.5 L1999.0,1938.6 L1999.5,1934.9 L2000.0,1936.0 L2000.5,1932.0 L2001.0,1933.4 L2001.5,1933.0 L2002.0,1940.1 L2002.5,1928.8 L2003.0,1939.5 L2003.5,1932.1 L2004.0,1932.0 L2004.5,1929.2 L2005.0,1939.7 L2005.5,1932.9 L2006.0,1934.2 L2006.5,1926.7 L2007.0,1927.5 L2007.5,1927.6 L2008.0,1922.2 L2008.5,1928.1 L2009.0,1920.0 L2009.5,1919.3 L2010.0,1920.4 L2010.5,1911.2 L2011.0,1922.3 L2011.5,1911.8 L2012.0,1911.7 L2012.5,1909.1 L2013.0,1895.8 L2013.5,1904.5 L2014.0,1903.6 L2014.5,1899.8 L2015.0,1893.9 L2015.5,1897.5 L2016.0,1885.6 L2016.5,1892.3 L2017.0,1893.2 L2017.5,1886.7 L2018.0,1902.3 L2018.5,1898.6 L2019.0,1915.7 L2019.5,1921.2 L2020.0,1917.8 L2020.5,1926.0 L2021.0,1934.1 L2021.5,1931.4 L2022.0,1943.1 L2022.5,1952.0 L2023.0,1948.5 L2023.5,1959.4 L2024.0,1960.1 L2024.5,1969.0 L2025.0,1967.8 L2025.5,1969.4 L2026.0,1973.8 L2026.5,1959.1 L2027.0,1963.0 L2027.5,1964.2 L2028.0,1965.3 L2028.5,1957.9 L2029.0,1954.4 L2029.5,1957.5 L2030.0,1957.9 L2030.5,1953.5 L2031.0,1957.4 L2031.5,1947.3 L2032.0,1949.8 L2032.5,1952.4 L2033.0,1943.5 L2033.5,1951.4 L2034.0,1953.1 L2034.5,1936.8 L2035.0,1938.7 L2035.5,1940.6 L2036.0,1936.4 L2036.5,1938.6 L2037.0,1937.2 L2037.5,1939.6 L2038.0,1940.1 L2038.5,1940.2 L2039.0,1941.5 L2039.5,1942.0 L2040.0,1936.2 L2040.5,1935.6 L2041.0,1935.2 L2041.5,1934.5 L2042.0,1937.1 L2042.5,1940.1 L2043.0,1933.1 L2043.5,1934.4 L2044.0,1935.6 L2044.5,1936.6 L2045.0,1923.2 L2045.5,1933.6 L2046.0,1942.8 L2046.5,1936.1 L2047.0,1934.3 L2047.5,1933.9 L2048.0,1932.4 L2048.5,1940.0 L2049.0,1943.8 L2049.5,1936.6 L2050.0,1938.3 L2050.5,1938.7 L2051.0,1936.8 L2051.5,1942.4 L2052.0,1937.0 L2052.5,1935.0 L2053.0,1938.3 L2053.5,1930.2 L2054.0,1934.7 L2054.5,1937.2 L2055.0,1935.2 L2055.5,1946.5 L2056.0,1942.5 L2056.5,1942.0 L2057.0,1928.9 L2057.5,1938.0 L2058.0,1937.8 L2058.5,1942.3 L2059.0,1939.4 L2059.5,1930.2 L2060.0,1933.8 L2060.5,1936.9 L2061.0,1939.3 L2061.5,1935.5 L2062.0,1938.0 L2062.5,1941.5 L2063.0,1936.8 L2063.5,1936.9 L2064.0,1938.2 L2064.5,1949.5 L2065.0,1935.9 L2065.5,1940.8 L2066.0,1946.2 L2066.5,1944.9 L2067.0,1940.8 L2067.5,1944.5 L2068.0,1937.6 L2068.5,1941.3 L2069.0,1940.1 L2069.5,1941.3 L2070.0,1937.0 L2070.5,1943.2 L2071.0,1930.9 L2071.5,1931.7 L2072.0,1929.3 L2072.5,1930.5 L2073.0,1935.1 L2073.5,1929.2 L2074.0,1938.0 L2074.5,1933.4 L2075.0,1943.1 L2075.5,1943.3 L2076.0,1938.5 L2076.5,1943.6 L2077.0,1930.2 L2077.5,1941.1 L2078.0,1937.4 L2078.5,1937.8 L2079.0,1940.7 L2079.5,1940.9 L2080.0,1936.8 L2080.5,1935.4 L2081.0,1933.7 L2081.5,1943.4 L2082.0,1939.8 L2082.5,1936.0 L2083.0,1940.7 L2083.5,1931.4 L2084.0,1936.5 L2084.5,1935.8 L2085.0,1941.8 L2085.5,1937.7 L2086.0,1934.9 L2086.5,1940.5 L2087.0,1943.9 L2087.5,1936.9 L2088.0,1935.6 L2088.5,1935.0 L2089.0,1939.9 L2089.5,1941.2 L2090.0,1934.0 L2090.5,1939.3 L2091.0,1931.2 L2091.5,1937.1 L2092.0,1937.6 L2092.5,1929.9 L2093.0,1937.4 L2093.5,1933.2 L2094.0,1938.5 L2094.5,1936.6 L2095.0,1942.7 L2095.5,1942.3 L2096.0,1932.7 L2096.5,1936.6 L2097.0,1937.1 L2097.5,1929.0 L2098.0,1931.3 L2098.5,1934.2 L2099.0,1932.9 L2099.5,1935.0 L2100.0,1944.6 L2100.5,1934.8 L2101.0,1934.8 L2101.5,1947.4 L2102.0,1941.3 L2102.5,1937.2 L2103.0,1934.4 L2103.5,1935.4 L2104.0,1938.3 L2104.5,1936.2 L2105.0,1938.9 L2105.5,1940.9 L2106.0,1928.3 L2106.5,1939.4 L2107.0,1936.4 L2107.5,1938.7 L2108.0,1933.9 L2108.5,1933.3 L2109.0,1932.9 L2109.5,1938.8 L2110.0,1934.0 L2110.5,1930.2 L2111.0,1942.0 L2111.5,1935.0 L2112.0,1928.8 L2112.5,1934.8 L2113.0,1937.4 L2113.5,1940.0 L2114.0,1937.9 L2114.5,1941.7 L2115.0,1942.8 L2115.5,1938.5 L2116.0,1939.0 L2116.5,1936.1 L2117.0,1934.6 L2117.5,1945.5 L2118.0,1935.0 L2118.5,1944.5 L2119.0,1934.1 L2119.5,1933.5 L2120.0,1938.3 L2120.5,1931.9 L2121.0,1931.5 L2121.5,1941.5 L2122.0,1927.0 L2122.5,1930.6 L2123.0,1935.9 L2123.5,1931.5 L2124.0,1936.7 L2124.5,1929.7 L2125.0,1932.7 L2125.5,1934.6 L2126.0,1937.3 L2126.5,1939.6 L2127.0,1940.1 L2127.5,1935.0 L2128.0,1941.4 L2128.5,1932.9 L2129.0,1942.0 L2129.5,1937.5 L2130.0,1933.1 L2130.5,1936.8 L2131.0,1934.8 L2131.5,1938.1 L2132.0,1930.8 L2132.5,1931.4 L2133.0,1932.4 L2133.5,1936.1 L2134.0,1934.3 L2134.5,1941.2 L2135.0,1929.8 L2135.5,1927.4 L2136.0,1940.5 L2136.5,1943.6 L2137.0,1939.7 L2137.5,1932.6 L2138.0,1935.1 L2138.5,1934.8 L2139.0,1928.6 L2139.5,1934.4 L2140.0,1937.5 L2140.5,1939.7 L2141.0,1935.9 L2141.5,1936.6 L2142.0,1938.8 L2142.5,1925.3 L2143.0,1930.1 L2143.5,1933.0 L2144.0,1941.5 L2144.5,1936.2 L2145.0,1938.5 L2145.5,1937.6 L2146.0,1933.6 L2146.5,1934.6 L2147.0,1936.6 L2147.5,1929.4 L2148.0,1938.5 L2148.5,1938.0 L2149.0,1936.5 L2149.5,1940.0 L2150.0,1931.6 L2150.5,1928.3 L2151.0,1932.8 L2151.5,1933.1 L2152.0,1939.1 L2152.5,1935.9 L2153.0,1938.2 L2153.5,1936.0 L2154.0,1933.5 L2154.5,1934.4 L2155.0,1935.2 L2155.5,1942.1 L2156.0,1940.6 L2156.5,1937.5 L2157.0,1938.1 L2157.5,1936.2 L2158.0,1934.4 L2158.5,1935.6 L2159.0,1934.7 L2159.5,1929.9 L2160.0,1944.2 L2160.5,1940.8 L2161.0,1930.3 L2161.5,1929.6 L2162.0,1929.3 L2162.5,1934.5 L2163.0,1938.2 L2163.5,1937.8 L2164.0,1935.9 L2164.5,1939.8 L2165.0,1925.5 L2165.5,1936.2 L2166.0,1931.8 L2166.5,1931.3 L2167.0,1937.8 L2167.5,1934.0 L2168.0,1935.1 L2168.5,1935.4 L2169.0,1940.7 L2169.5,1936.2 L2170.0,1939.1 L2170.5,1940.8 L2171.0,1936.3 L2171.5,1933.9 L2172.0,1940.7 L2172.5,1938.3 L2173.0,1932.1 L2173.5,1938.0 L2174.0,1936.5 L2174.5,1932.9 L2175.0,1928.4 L2175.5,1928.2 L2176.0,1929.6 L2176.5,1924.9 L2177.0,1948.7 L2177.5,1937.1 L2178.0,1934.4 L2178.5,1935.7 L2179.0,1932.3 L2179.5,1926.8 L2180.0,1930.5 L2180.5,1936.1 L2181.0,1936.2 L2181.5,1927.3 L2182.0,1948.1 L2182.5,1938.2 L2183.0,1934.9 L2183.5,1937.1 L2184.0,1937.3 L2184.5,1940.8 L2185.0,1933.0 L2185.5,1937.8 L2186.0,1933.6 L2186.5,1925.2 L2187.0,1924.3 L2187.5,1924.3 L2188.0,1935.5 L2188.5,1933.1 L2189.0,1935.7 L2189.5,1936.6 L2190.0,1932.0 L2190.5,1931.0 L2191.0,1939.0 L2191.5,1938.8 L2192.0,1933.3 L2192.5,1939.8 L2193.0,1940.0 L2193.5,1927.0 L2194.0,1941.0 L2194.5,1927.9 L2195.0,1935.0 L2195.5,1938.1 L2196.0,1933.7 L2196.5,1935.7 L2197.0,1935.6 L2197.5,1936.6 L2198.0,1942.5 L2198.5,1937.0 L2199.0,1933.4 L2199.5,1931.1 L2200.0,1939.7 L2200.5,1938.1 L2201.0,1934.7 L2201.5,1944.5 L2202.0,1937.4 L2202.5,1942.0 L2203.0,1939.7 L2203.5,1937.2 L2204.0,1941.7 L2204.5,1934.5 L2205.0,1935.8 L2205.5,1938.1 L2206.0,1938.3 L2206.5,1936.7 L2207.0,1944.3 L2207.5,1934.3 L2208.0,1937.7 L2208.5,1931.6 L2209.0,1937.5 L2209.5,1932.9 L2210.0,1938.4 L2210.5,1939.3 L2211.0,1940.9 L2211.5,1938.3 L2212.0,1941.6 L2212.5,1939.8 L2213.0,1939.6 L2213.5,1942.7 L2214.0,1938.6 L2214.5,1938.3 L2215.0,1942.4 L2215.5,1934.5 L2216.0,1933.8 L2216.5,1934.3 L2217.0,1945.3 L2217.5,1933.5 L2218.0,1932.5 L2218.5,1936.8 L2219.0,1936.8 L2219.5,1945.1 L2220.0,1942.2 L2220.5,1942.7 L2221.0,1928.9 L2221.5,1930.3 L2222.0,1945.0 L2222.5,1948.9 L2223.0,1937.2 L2223.5,1935.8 L2224.0,1938.9 L2224.5,1934.5 L2225.0,1938.4 L2225.5,1943.6 L2226.0,1938.6 L2226.5,1930.5 L2227.0,1939.5 L2227.5,1944.6 L2228.0,1937.1 L2228.5,1937.8 L2229.0,1946.1 L2229.5,1935.7 L2230.0,1945.8 L2230.5,1944.4 L2231.0,1942.9 L2231.5,1935.9 L2232.0,1938.2 L2232.5,1943.8 L2233.0,1941.1 L2233.5,1933.6 L2234.0,1927.4 L2234.5,1936.3 L2235.0,1932.6 L2235.5,1939.0 L2236.0,1941.1 L2236.5,1933.6 L2237.0,1933.4 L2237.5,1940.5 L2238.0,1935.4 L2238.5,1927.8 L2239.0,1931.0 L2239.5,1930.8 L2240.0,1934.9 L2240.5,1934.3 L2241.0,1935.3 L2241.5,1941.8 L2242.0,1939.1 L2242.5,1937.9 L2243.0,1937.2 L2243.5,1934.3 L2244.0,1941.0 L2244.5,1933.4 L2245.0,1932.5 L2245.5,1938.5 L2246.0,1938.0 L2246.5,1935.1 L2247.0,1933.2 L2247.5,1940.4 L2248.0,1940.4 L2248.5,1937.8 L2249.0,1928.1 L2249.5,1945.2 L2250.0,1935.1 L2250.5,1937.6 L2251.0,1945.9 L2251.5,1938.1 L2252.0,1936.6 L2252.5,1939.7 L2253.0,1939.4 L2253.5,1938.0 L2254.0,1933.7 L2254.5,1934.1 L2255.0,1937.8 L2255.5,1931.7 L2256.0,1935.0 L2256.5,1934.3 L2257.0,1936.1 L2257.5,1939.6 L2258.0,1935.9 L2258.5,1937.1 L2259.0,1934.2 L2259.5,1938.7 L2260.0,1943.0 L2260.5,1939.3 L2261.0,1930.6 L2261.5,1935.7 L2262.0,1928.0 L2262.5,1936.4 L2263.0,1934.4 L2263.5,1938.6 L2264.0,1934.1 L2264.5,1936.7 L2265.0,1937.5 L2265.5,1932.2 L2266.0,1932.0 L2266.5,1931.0 L2267.0,1931.6 L2267.5,1939.9 L2268.0,1939.5 L2268.5,1937.0 L2269.0,1930.3 L2269.5,1938.1 L2270.0,1928.3 L2270.5,1935.4 L2271.0,1932.4 L2271.5,1927.2 L2272.0,1948.8 L2272.5,1935.1 L2273.0,1935.2 L2273.5,1936.5 L2274.0,1939.8 L2274.5,1929.1 L2275.0,1937.1 L2275.5,1940.2 L2276.0,1941.3 L2276.5,1935.0 L2277.0,1930.2" fill="none" stroke="#ff00ff" stroke-width="5.2" stroke-linejoin="round" stroke-linecap="butt"/>
<path d="M1386.0,2052.9 L1386.5,2062.0 L1387.0,2057.8 L1387.5,2059.0 L1388.0,2058.3 L1388.5,2060.0 L1389.0,2058.4 L1389.5,2052.6 L1390.0,2056.1 L1390.5,2061.1 L1391.0,2058.3 L1391.5,2050.0 L1392.0,2053.8 L1392.5,2063.7 L1393.0,2057.5 L1393.5,2062.3 L1394.0,2059.9 L1394.5,2063.5 L1395.0,2058.1 L1395.5,2046.9 L1396.0,2051.5 L1396.5,2054.1 L1397.0,2057.6 L1397.5,2049.5 L1398.0,2045.8 L1398.5,2057.2 L1399.0,2057.5 L1399.5,2061.2 L1400.0,2055.1 L1400.5,2063.7 L1401.0,2056.4 L1401.5,2062.4 L1402.0,2065.3 L1402.5,2053.0 L1403.0,2048.6 L1403.5,2061.1 L1404.0,2051.1 L1404.5,2055.3 L1405.0,2062.2 L1405.5,2068.7 L1406.0,2054.0 L1406.5,2053.7 L1407.0,2055.4 L1407.5,2053.5 L1408.0,2063.3 L1408.5,2057.5 L1409.0,2050.6 L1409.5,2053.7 L1410.0,2064.8 L1410.5,2049.3 L1411.0,2049.2 L1411.5,2060.3 L1412.0,2067.3 L1412.5,2058.7 L1413.0,2055.8 L1413.5,2057.1 L1414.0,2064.5 L1414.5,2059.3 L1415.0,2053.3 L1415.5,2064.8 L1416.0,2055.7 L1416.5,2053.1 L1417.0,2064.7 L1417.5,2052.5 L1418.0,2059.1 L1418.5,2054.6 L1419.0,2055.7 L1419.5,2055.3 L1420.0,2057.6 L1420.5,2047.5 L1421.0,2053.7 L1421.5,2062.2 L1422.0,2058.5 L1422.5,2053.5 L1423.0,2060.4 L1423.5,2053.9 L1424.0,2055.9 L1424.5,2062.4 L1425.0,2058.5 L1425.5,2051.4 L1426.0,2058.0 L1426.5,2060.1 L1427.0,2057.7 L1427.5,2051.1 L1428.0,2050.5 L1428.5,2053.9 L1429.0,2047.8 L1429.5,2050.2 L1430.0,2051.0 L1430.5,2055.8 L1431.0,2055.2 L1431.5,2053.0 L1432.0,2055.2 L1432.5,2055.0 L1433.0,2058.6 L1433.5,2052.9 L1434.0,2049.6 L1434.5,2060.6 L1435.0,2060.3 L1435.5,2053.1 L1436.0,2055.5 L1436.5,2050.4 L1437.0,2043.7 L1437.5,2062.7 L1438.0,2062.4 L1438.5,2061.8 L1439.0,2056.5 L1439.5,2064.3 L1440.0,2049.5 L1440.5,2049.4 L1441.0,2054.6 L1441.5,2060.7 L1442.0,2057.9 L1442.5,2051.7 L1443.0,2051.5 L1443.5,2053.8 L1444.0,2055.9 L1444.5,2055.3 L1445.0,2050.7 L1445.5,2065.2 L1446.0,2059.1 L1446.5,2056.8 L1447.0,2056.3 L1447.5,2054.5 L1448.0,2047.7 L1448.5,2050.4 L1449.0,2053.8 L1449.5,2056.2 L1450.0,2054.8 L1450.5,2057.5 L1451.0,2052.5 L1451.5,2054.6 L1452.0,2046.3 L1452.5,2051.9 L1453.0,2048.1 L1453.5,2059.4 L1454.0,2050.5 L1454.5,2057.6 L1455.0,2056.0 L1455.5,2050.8 L1456.0,2064.4 L1456.5,2058.3 L1457.0,2054.7 L1457.5,2050.2 L1458.0,2055.5 L1458.5,2061.1 L1459.0,2054.7 L1459.5,2051.3 L1460.0,2059.9 L1460.5,2057.5 L1461.0,2056.0 L1461.5,2059.1 L1462.0,2053.6 L1462.5,2054.4 L1463.0,2055.0 L1463.5,2060.7 L1464.0,2060.6 L1464.5,2067.8 L1465.0,2043.7 L1465.5,2063.1 L1466.0,2052.5 L1466.5,2051.0 L1467.0,2058.6 L1467.5,2057.1 L1468.0,2059.9 L1468.5,2058.1 L1469.0,2061.5 L1469.5,2057.4 L1470.0,2049.5 L1470.5,2052.2 L1471.0,2048.0 L1471.5,2049.5 L1472.0,2055.8 L1472.5,2046.2 L1473.0,2057.6 L1473.5,2053.6 L1474.0,2052.5 L1474.5,2057.2 L1475.0,2054.2 L1475.5,2063.8 L1476.0,2055.7 L1476.5,2058.0 L1477.0,2056.7 L1477.5,2055.9 L1478.0,2055.4 L1478.5,2060.1 L1479.0,2057.8 L1479.5,2071.7 L1480.0,2059.5 L1480.5,2055.3 L1481.0,2057.2 L1481.5,2058.6 L1482.0,2071.4 L1482.5,2054.1 L1483.0,2065.1 L1483.5,2050.3 L1484.0,2063.2 L1484.5,2059.5 L1485.0,2064.5 L1485.5,2066.8 L1486.0,2048.9 L1486.5,2056.9 L1487.0,2061.9 L1487.5,2052.3 L1488.0,2054.2 L1488.5,2060.7 L1489.0,2059.7 L1489.5,2060.7 L1490.0,2051.2 L1490.5,2063.6 L1491.0,2058.0 L1491.5,2060.9 L1492.0,2054.6 L1492.5,2056.3 L1493.0,2044.4 L1493.5,2056.5 L1494.0,2062.6 L1494.5,2062.7 L1495.0,2057.4 L1495.5,2060.4 L1496.0,2051.8 L1496.5,2056.0 L1497.0,2052.8 L1497.5,2051.1 L1498.0,2051.3 L1498.5,2063.0 L1499.0,2056.9 L1499.5,2058.4 L1500.0,2054.0 L1500.5,2052.6 L1501.0,2058.3 L1501.5,2056.1 L1502.0,2057.6 L1502.5,2058.1 L1503.0,2054.9 L1503.5,2059.3 L1504.0,2048.8 L1504.5,2046.0 L1505.0,2051.3 L1505.5,2058.7 L1506.0,2048.6 L1506.5,2059.7 L1507.0,2051.8 L1507.5,2049.9 L1508.0,2054.6 L1508.5,2064.5 L1509.0,2055.7 L1509.5,2047.9 L1510.0,2051.5 L1510.5,2060.1 L1511.0,2054.8 L1511.5,2051.4 L1512.0,2054.4 L1512.5,2053.8 L1513.0,2045.8 L1513.5,2056.5 L1514.0,2055.3 L1514.5,2058.5 L1515.0,2056.7 L1515.5,2051.1 L1516.0,2056.3 L1516.5,2056.0 L1517.0,2053.5 L1517.5,2055.5 L1518.0,2064.8 L1518.5,2059.0 L1519.0,2049.5 L1519.5,2060.9 L1520.0,2056.6 L1520.5,2065.2 L1521.0,2058.6 L1521.5,2057.1 L1522.0,2059.5 L1522.5,2052.4 L1523.0,2057.1 L1523.5,2055.7 L1524.0,2055.4 L1524.5,2053.8 L1525.0,2057.9 L1525.5,2060.1 L1526.0,2071.9 L1526.5,2063.9 L1527.0,2058.1 L1527.5,2055.2 L1528.0,2056.3 L1528.5,2055.8 L1529.0,2060.4 L1529.5,2060.0 L1530.0,2064.6 L1530.5,2053.3 L1531.0,2066.7 L1531.5,2067.6 L1532.0,2057.7 L1532.5,2055.8 L1533.0,2059.2 L1533.5,2059.0 L1534.0,2055.6 L1534.5,2059.4 L1535.0,2060.8 L1535.5,2062.1 L1536.0,2067.3 L1536.5,2049.2 L1537.0,2052.0 L1537.5,2054.4 L1538.0,2053.3 L1538.5,2063.7 L1539.0,2056.9 L1539.5,2056.3 L1540.0,2066.1 L1540.5,2051.7 L1541.0,2066.9 L1541.5,2056.2 L1542.0,2061.3 L1542.5,2053.6 L1543.0,2057.1 L1543.5,2051.8 L1544.0,2060.9 L1544.5,2059.3 L1545.0,2056.3 L1545.5,2053.4 L1546.0,2053.4 L1546.5,2063.9 L1547.0,2060.6 L1547.5,2066.9 L1548.0,2054.5 L1548.5,2055.3 L1549.0,2052.1 L1549.5,2051.3 L1550.0,2062.7 L1550.5,2055.7 L1551.0,2058.1 L1551.5,2063.6 L1552.0,2051.1 L1552.5,2060.4 L1553.0,2058.0 L1553.5,2067.3 L1554.0,2056.9 L1554.5,2063.3 L1555.0,2057.6 L1555.5,2056.3 L1556.0,2056.8 L1556.5,2059.8 L1557.0,2056.4 L1557.5,2058.7 L1558.0,2062.3 L1558.5,2061.4 L1559.0,2067.0 L1559.5,2055.1 L1560.0,2053.3 L1560.5,2059.8 L1561.0,2055.4 L1561.5,2054.6 L1562.0,2049.4 L1562.5,2055.3 L1563.0,2057.5 L1563.5,2058.9 L1564.0,2059.3 L1564.5,2061.1 L1565.0,2065.9 L1565.5,2058.6 L1566.0,2058.5 L1566.5,2058.9 L1567.0,2055.0 L1567.5,2050.8 L1568.0,2050.5 L1568.5,2054.1 L1569.0,2054.8 L1569.5,2049.8 L1570.0,2056.9 L1570.5,2050.8 L1571.0,2056.5 L1571.5,2062.5 L1572.0,2056.8 L1572.5,2051.8 L1573.0,2060.6 L1573.5,2046.9 L1574.0,2048.5 L1574.5,2050.5 L1575.0,2059.7 L1575.5,2052.5 L1576.0,2054.8 L1576.5,2065.7 L1577.0,2054.6 L1577.5,2057.3 L1578.0,2061.0 L1578.5,2061.8 L1579.0,2049.9 L1579.5,2068.6 L1580.0,2060.7 L1580.5,2056.6 L1581.0,2055.4 L1581.5,2060.5 L1582.0,2061.2 L1582.5,2057.4 L1583.0,2055.5 L1583.5,2060.3 L1584.0,2057.5 L1584.5,2056.9 L1585.0,2057.2 L1585.5,2058.7 L1586.0,2061.0 L1586.5,2053.8 L1587.0,2057.5 L1587.5,2052.5 L1588.0,2060.8 L1588.5,2055.5 L1589.0,2052.6 L1589.5,2054.4 L1590.0,2054.6 L1590.5,2060.3 L1591.0,2061.4 L1591.5,2051.3 L1592.0,2064.3 L1592.5,2051.9 L1593.0,2054.9 L1593.5,2065.8 L1594.0,2057.3 L1594.5,2046.9 L1595.0,2055.4 L1595.5,2060.3 L1596.0,2052.6 L1596.5,2055.8 L1597.0,2055.2 L1597.5,2053.9 L1598.0,2060.2 L1598.5,2053.3 L1599.0,2054.8 L1599.5,2059.7 L1600.0,2052.1 L1600.5,2057.3 L1601.0,2055.3 L1601.5,2056.1 L1602.0,2059.4 L1602.5,2051.9 L1603.0,2053.6 L1603.5,2058.9 L1604.0,2056.7 L1604.5,2059.2 L1605.0,2062.9 L1605.5,2054.4 L1606.0,2048.0 L1606.5,2048.1 L1607.0,2047.0 L1607.5,2051.0 L1608.0,2049.8 L1608.5,2056.3 L1609.0,2059.8 L1609.5,2057.0 L1610.0,2055.2 L1610.5,2062.9 L1611.0,2056.4 L1611.5,2050.8 L1612.0,2054.5 L1612.5,2070.0 L1613.0,2064.4 L1613.5,2060.8 L1614.0,2060.3 L1614.5,2057.4 L1615.0,2053.8 L1615.5,2057.0 L1616.0,2056.1 L1616.5,2057.4 L1617.0,2053.4 L1617.5,2055.0 L1618.0,2055.1 L1618.5,2063.8 L1619.0,2056.1 L1619.5,2051.7 L1620.0,2057.8 L1620.5,2062.9 L1621.0,2058.7 L1621.5,2056.4 L1622.0,2054.4 L1622.5,2048.6 L1623.0,2061.0 L1623.5,2054.3 L1624.0,2058.4 L1624.5,2061.6 L1625.0,2059.5 L1625.5,2051.8 L1626.0,2055.4 L1626.5,2047.2 L1627.0,2052.3 L1627.5,2058.0 L1628.0,2048.4 L1628.5,2062.0 L1629.0,2063.0 L1629.5,2058.6 L1630.0,2060.7 L1630.5,2048.8 L1631.0,2047.4 L1631.5,2057.6 L1632.0,2055.9 L1632.5,2057.7 L1633.0,2063.1 L1633.5,2059.6 L1634.0,2065.3 L1634.5,2053.8 L1635.0,2059.7 L1635.5,2057.7 L1636.0,2062.1 L1636.5,2061.6 L1637.0,2060.9 L1637.5,2059.2 L1638.0,2060.2 L1638.5,2057.6 L1639.0,2055.7 L1639.5,2049.5 L1640.0,2062.3 L1640.5,2052.3 L1641.0,2056.6 L1641.5,2058.7 L1642.0,2050.8 L1642.5,2053.6 L1643.0,2054.3 L1643.5,2058.8 L1644.0,2053.1 L1644.5,2060.0 L1645.0,2051.4 L1645.5,2054.6 L1646.0,2060.9 L1646.5,2059.8 L1647.0,2053.2 L1647.5,2051.9 L1648.0,2062.9 L1648.5,2059.8 L1649.0,2059.9 L1649.5,2057.5 L1650.0,2057.7 L1650.5,2065.7 L1651.0,2060.5 L1651.5,2058.7 L1652.0,2058.1 L1652.5,2057.3 L1653.0,2063.5 L1653.5,2050.6 L1654.0,2058.6 L1654.5,2053.3 L1655.0,2058.8 L1655.5,2053.9 L1656.0,2053.1 L1656.5,2062.8 L1657.0,2055.6 L1657.5,2062.8 L1658.0,2060.2 L1658.5,2066.9 L1659.0,2065.1 L1659.5,2056.0 L1660.0,2060.6 L1660.5,2064.6 L1661.0,2050.4 L1661.5,2059.6 L1662.0,2055.0 L1662.5,2068.4 L1663.0,2058.5 L1663.5,2063.2 L1664.0,2058.6 L1664.5,2062.9 L1665.0,2066.5 L1665.5,2059.5 L1666.0,2067.3 L1666.5,2054.1 L1667.0,2057.6 L1667.5,2054.6 L1668.0,2063.0 L1668.5,2057.0 L1669.0,2053.5 L1669.5,2061.1 L1670.0,2053.1 L1670.5,2059.4 L1671.0,2049.8 L1671.5,2060.0 L1672.0,2051.6 L1672.5,2063.4 L1673.0,2051.9 L1673.5,2051.7 L1674.0,2052.7 L1674.5,2054.8 L1675.0,2055.4 L1675.5,2052.3 L1676.0,2059.7 L1676.5,2050.0 L1677.0,2063.4 L1677.5,2058.2 L1678.0,2061.0 L1678.5,2053.1 L1679.0,2065.1 L1679.5,2062.7 L1680.0,2058.7 L1680.5,2060.8 L1681.0,2054.2 L1681.5,2064.0 L1682.0,2056.3 L1682.5,2058.3 L1683.0,2062.1 L1683.5,2053.7 L1684.0,2056.8 L1684.5,2053.4 L1685.0,2057.9 L1685.5,2056.1 L1686.0,2062.9 L1686.5,2050.7 L1687.0,2059.7 L1687.5,2060.1 L1688.0,2062.2 L1688.5,2053.4 L1689.0,2061.8 L1689.5,2057.4 L1690.0,2062.2 L1690.5,2068.8 L1691.0,2054.0 L1691.5,2056.1 L1692.0,2052.8 L1692.5,2049.1 L1693.0,2059.9 L1693.5,2058.7 L1694.0,2055.3 L1694.5,2064.1 L1695.0,2044.7 L1695.5,2056.4 L1696.0,2054.7 L1696.5,2058.3 L1697.0,2061.2 L1697.5,2058.6 L1698.0,2059.4 L1698.5,2053.2 L1699.0,2069.1 L1699.5,2058.9 L1700.0,2064.3 L1700.5,2048.1 L1701.0,2053.7 L1701.5,2068.7 L1702.0,2062.7 L1702.5,2059.0 L1703.0,2069.2 L1703.5,2052.9 L1704.0,2057.9 L1704.5,2059.0 L1705.0,2063.5 L1705.5,2061.7 L1706.0,2049.9 L1706.5,2051.0 L1707.0,2060.5 L1707.5,2062.4 L1708.0,2065.0 L1708.5,2055.2 L1709.0,2063.4 L1709.5,2063.8 L1710.0,2066.8 L1710.5,2060.7 L1711.0,2056.8 L1711.5,2058.3 L1712.0,2066.5 L1712.5,2061.0 L1713.0,2065.4 L1713.5,2063.9 L1714.0,2060.2 L1714.5,2056.8 L1715.0,2064.4 L1715.5,2058.6 L1716.0,2058.2 L1716.5,2064.2 L1717.0,2060.4 L1717.5,2058.6 L1718.0,2047.6 L1718.5,2065.2 L1719.0,2053.6 L1719.5,2050.8 L1720.0,2060.7 L1720.5,2057.8 L1721.0,2053.3 L1721.5,2049.8 L1722.0,2059.8 L1722.5,2051.7 L1723.0,2061.9 L1723.5,2055.7 L1724.0,2053.4 L1724.5,2066.0 L1725.0,2057.0 L1725.5,2052.7 L1726.0,2058.7 L1726.5,2059.6 L1727.0,2048.9 L1727.5,2061.4 L1728.0,2059.5 L1728.5,2047.4 L1729.0,2064.8 L1729.5,2063.1 L1730.0,2066.4 L1730.5,2073.1 L1731.0,2063.6 L1731.5,2059.5 L1732.0,2058.7 L1732.5,2061.3 L1733.0,2065.1 L1733.5,2061.3 L1734.0,2054.9 L1734.5,2059.4 L1735.0,2048.0 L1735.5,2061.6 L1736.0,2062.0 L1736.5,2057.0 L1737.0,2057.8 L1737.5,2053.0 L1738.0,2064.4 L1738.5,2055.2 L1739.0,2059.0 L1739.5,2067.0 L1740.0,2055.7 L1740.5,2052.2 L1741.0,2054.3 L1741.5,2059.1 L1742.0,2065.5 L1742.5,2058.0 L1743.0,2058.3 L1743.5,2055.0 L1744.0,2057.6 L1744.5,2054.6 L1745.0,2060.9 L1745.5,2053.6 L1746.0,2064.1 L1746.5,2059.2 L1747.0,2068.0 L1747.5,2063.6 L1748.0,2062.7 L1748.5,2058.2 L1749.0,2062.3 L1749.5,2055.7 L1750.0,2058.7 L1750.5,2060.5 L1751.0,2058.0 L1751.5,2054.0 L1752.0,2051.5 L1752.5,2066.9 L1753.0,2060.1 L1753.5,2055.0 L1754.0,2059.6 L1754.5,2055.3 L1755.0,2059.5 L1755.5,2058.2 L1756.0,2053.9 L1756.5,2052.3 L1757.0,2055.4 L1757.5,2051.9 L1758.0,2061.7 L1758.5,2056.4 L1759.0,2063.5 L1759.5,2052.6 L1760.0,2052.8 L1760.5,2066.9 L1761.0,2066.7 L1761.5,2057.7 L1762.0,2055.7 L1762.5,2055.7 L1763.0,2055.5 L1763.5,2067.4 L1764.0,2059.9 L1764.5,2058.0 L1765.0,2057.7 L1765.5,2049.6 L1766.0,2057.5 L1766.5,2051.9 L1767.0,2055.2 L1767.5,2058.8 L1768.0,2061.1 L1768.5,2051.5 L1769.0,2062.7 L1769.5,2049.7 L1770.0,2061.6 L1770.5,2066.6 L1771.0,2056.9 L1771.5,2056.3 L1772.0,2057.9 L1772.5,2053.1 L1773.0,2066.7 L1773.5,2045.1 L1774.0,2061.5 L1774.5,2063.0 L1775.0,2063.5 L1775.5,2055.7 L1776.0,2060.8 L1776.5,2066.7 L1777.0,2061.2 L1777.5,2067.0 L1778.0,2060.4 L1778.5,2069.6 L1779.0,2054.9 L1779.5,2055.3 L1780.0,2049.6 L1780.5,2050.7 L1781.0,2049.8 L1781.5,2066.8 L1782.0,2057.5 L1782.5,2066.1 L1783.0,2053.2 L1783.5,2056.1 L1784.0,2052.4 L1784.5,2066.4 L1785.0,2047.5 L1785.5,2053.7 L1786.0,2058.4 L1786.5,2059.3 L1787.0,2057.4 L1787.5,2057.3 L1788.0,2056.6 L1788.5,2057.9 L1789.0,2063.6 L1789.5,2058.8 L1790.0,2062.4 L1790.5,2051.0 L1791.0,2053.8 L1791.5,2048.7 L1792.0,2054.1 L1792.5,2057.0 L1793.0,2061.9 L1793.5,2054.7 L1794.0,2055.8 L1794.5,2063.3 L1795.0,2048.6 L1795.5,2052.9 L1796.0,2055.4 L1796.5,2057.7 L1797.0,2053.7 L1797.5,2063.2 L1798.0,2063.4 L1798.5,2060.5 L1799.0,2059.6 L1799.5,2053.8 L1800.0,2057.8 L1800.5,2063.9 L1801.0,2057.4 L1801.5,2064.6 L1802.0,2062.7 L1802.5,2052.5 L1803.0,2059.9 L1803.5,2058.6 L1804.0,2052.9 L1804.5,2055.5 L1805.0,2054.4 L1805.5,2050.7 L1806.0,2060.8 L1806.5,2057.8 L1807.0,2059.5 L1807.5,2056.6 L1808.0,2052.2 L1808.5,2056.4 L1809.0,2062.6 L1809.5,2055.4 L1810.0,2045.9 L1810.5,2053.3 L1811.0,2053.9 L1811.5,2059.0 L1812.0,2060.2 L1812.5,2071.0 L1813.0,2055.8 L1813.5,2046.6 L1814.0,2060.2 L1814.5,2055.2 L1815.0,2045.8 L1815.5,2058.3 L1816.0,2062.4 L1816.5,2055.0 L1817.0,2059.3 L1817.5,2056.3 L1818.0,2062.0 L1818.5,2056.6 L1819.0,2065.6 L1819.5,2062.3 L1820.0,2059.8 L1820.5,2051.7 L1821.0,2055.5 L1821.5,2058.0 L1822.0,2046.9 L1822.5,2062.0 L1823.0,2058.5 L1823.5,2060.1 L1824.0,2053.4 L1824.5,2059.2 L1825.0,2050.0 L1825.5,2052.6 L1826.0,2066.0 L1826.5,2061.9 L1827.0,2053.4 L1827.5,2057.9 L1828.0,2058.1 L1828.5,2067.5 L1829.0,2056.3 L1829.5,2048.4 L1830.0,2060.1 L1830.5,2054.6 L1831.0,2062.1 L1831.5,2067.3 L1832.0,2058.4 L1832.5,2065.7 L1833.0,2060.3 L1833.5,2064.2 L1834.0,2056.3 L1834.5,2057.1 L1835.0,2055.8 L1835.5,2058.1 L1836.0,2065.1 L1836.5,2060.7 L1837.0,2053.7 L1837.5,2056.8 L1838.0,2059.0 L1838.5,2059.6 L1839.0,2060.7 L1839.5,2061.2 L1840.0,2051.5 L1840.5,2066.5 L1841.0,2058.8 L1841.5,2052.5 L1842.0,2057.8 L1842.5,2053.5 L1843.0,2061.2 L1843.5,2065.8 L1844.0,2054.6 L1844.5,2064.7 L1845.0,2056.8 L1845.5,2063.4 L1846.0,2048.4 L1846.5,2055.8 L1847.0,2054.9 L1847.5,2061.9 L1848.0,2059.9 L1848.5,2053.8 L1849.0,2050.1 L1849.5,2058.1 L1850.0,2046.1 L1850.5,2054.2 L1851.0,2058.9 L1851.5,2057.8 L1852.0,2050.2 L1852.5,2056.7 L1853.0,2060.8 L1853.5,2054.8 L1854.0,2056.4 L1854.5,2050.6 L1855.0,2063.1 L1855.5,2050.7 L1856.0,2047.7 L1856.5,2061.3 L1857.0,2056.1 L1857.5,2054.5 L1858.0,2053.8 L1858.5,2062.5 L1859.0,2052.1 L1859.5,2053.3 L1860.0,2057.5 L1860.5,2052.6 L1861.0,2049.7 L1861.5,2057.4 L1862.0,2065.7 L1862.5,2060.6 L1863.0,2062.3 L1863.5,2063.5 L1864.0,2054.3 L1864.5,2057.5 L1865.0,2052.3 L1865.5,2062.0 L1866.0,2051.8 L1866.5,2050.0 L1867.0,2053.0 L1867.5,2055.8 L1868.0,2051.2 L1868.5,2056.0 L1869.0,2058.9 L1869.5,2057.7 L1870.0,2066.8 L1870.5,2059.5 L1871.0,2064.0 L1871.5,2048.1 L1872.0,2069.2 L1872.5,2056.8 L1873.0,2045.8 L1873.5,2063.8 L1874.0,2056.6 L1874.5,2060.1 L1875.0,2060.2 L1875.5,2052.5 L1876.0,2064.6 L1876.5,2067.0 L1877.0,2051.7 L1877.5,2059.2 L1878.0,2054.5 L1878.5,2055.5 L1879.0,2059.9 L1879.5,2060.6 L1880.0,2052.5 L1880.5,2061.7 L1881.0,2057.7 L1881.5,2065.7 L1882.0,2053.8 L1882.5,2065.6 L1883.0,2061.2 L1883.5,2062.1 L1884.0,2058.4 L1884.5,2064.4 L1885.0,2056.6 L1885.5,2060.1 L1886.0,2056.5 L1886.5,2058.9 L1887.0,2057.2 L1887.5,2051.4 L1888.0,2062.5 L1888.5,2052.8 L1889.0,2055.7 L1889.5,2056.0 L1890.0,2059.1 L1890.5,2054.0 L1891.0,2046.7 L1891.5,2057.5 L1892.0,2058.7 L1892.5,2060.5 L1893.0,2052.9 L1893.5,2049.3 L1894.0,2062.6 L1894.5,2059.1 L1895.0,2064.8 L1895.5,2050.1 L1896.0,2050.7 L1896.5,2056.7 L1897.0,2058.2 L1897.5,2059.0 L1898.0,2053.9 L1898.5,2055.7 L1899.0,2060.9 L1899.5,2062.2 L1900.0,2061.6 L1900.5,2061.8 L1901.0,2064.5 L1901.5,2053.3 L1902.0,2055.2 L1902.5,2063.0 L1903.0,2050.2 L1903.5,2058.7 L1904.0,2065.4 L1904.5,2045.9 L1905.0,2064.6 L1905.5,2057.3 L1906.0,2053.1 L1906.5,2059.3 L1907.0,2062.3 L1907.5,2053.1 L1908.0,2057.9 L1908.5,2057.9 L1909.0,2061.4 L1909.5,2051.5 L1910.0,2055.6 L1910.5,2059.2 L1911.0,2056.4 L1911.5,2061.0 L1912.0,2061.6 L1912.5,2056.8 L1913.0,2058.0 L1913.5,2052.0 L1914.0,2058.9 L1914.5,2052.7 L1915.0,2059.3 L1915.5,2054.9 L1916.0,2053.1 L1916.5,2055.7 L1917.0,2055.9 L1917.5,2049.2 L1918.0,2050.2 L1918.5,2055.8 L1919.0,2058.6 L1919.5,2051.3 L1920.0,2054.6 L1920.5,2052.3 L1921.0,2054.5 L1921.5,2061.6 L1922.0,2062.1 L1922.5,2048.5 L1923.0,2057.7 L1923.5,2064.7 L1924.0,2053.0 L1924.5,2059.5 L1925.0,2057.8 L1925.5,2047.9 L1926.0,2050.1 L1926.5,2066.1 L1927.0,2057.9 L1927.5,2054.8 L1928.0,2055.9 L1928.5,2055.2 L1929.0,2059.1 L1929.5,2051.3 L1930.0,2054.8 L1930.5,2058.1 L1931.0,2066.8 L1931.5,2057.1 L1932.0,2063.4 L1932.5,2058.4 L1933.0,2061.8 L1933.5,2064.0 L1934.0,2055.9 L1934.5,2050.0 L1935.0,2062.2 L1935.5,2063.5 L1936.0,2060.7 L1936.5,2059.5 L1937.0,2061.8 L1937.5,2042.5 L1938.0,2052.0 L1938.5,2051.6 L1939.0,2059.5 L1939.5,2062.4 L1940.0,2053.1 L1940.5,2057.6 L1941.0,2055.0 L1941.5,2057.5 L1942.0,2051.5 L1942.5,2051.3 L1943.0,2058.3 L1943.5,2056.2 L1944.0,2053.8 L1944.5,2056.0 L1945.0,2054.6 L1945.5,2059.4 L1946.0,2057.5 L1946.5,2054.2 L1947.0,2056.0 L1947.5,2055.0 L1948.0,2061.4 L1948.5,2053.0 L1949.0,2060.6 L1949.5,2059.1 L1950.0,2054.5 L1950.5,2059.9 L1951.0,2060.9 L1951.5,2059.8 L1952.0,2062.3 L1952.5,2061.2 L1953.0,2054.4 L1953.5,2059.8 L1954.0,2069.0 L1954.5,2054.1 L1955.0,2049.8 L1955.5,2059.0 L1956.0,2060.4 L1956.5,2058.9 L1957.0,2060.6 L1957.5,2055.6 L1958.0,2060.7 L1958.5,2055.2 L1959.0,2052.7 L1959.5,2055.7 L1960.0,2055.2 L1960.5,2058.9 L1961.0,2059.8 L1961.5,2055.3 L1962.0,2051.3 L1962.5,2056.6 L1963.0,2059.0 L1963.5,2046.7 L1964.0,2060.9 L1964.5,2062.4 L1965.0,2065.1 L1965.5,2060.0 L1966.0,2051.8 L1966.5,2049.1 L1967.0,2061.2 L1967.5,2057.3 L1968.0,2054.0 L1968.5,2049.7 L1969.0,2064.2 L1969.5,2064.9 L1970.0,2056.0 L1970.5,2065.1 L1971.0,2058.0 L1971.5,2069.0 L1972.0,2056.2 L1972.5,2062.0 L1973.0,2061.1 L1973.5,2056.0 L1974.0,2056.1 L1974.5,2062.6 L1975.0,2064.9 L1975.5,2062.1 L1976.0,2050.8 L1976.5,2063.3 L1977.0,2052.2 L1977.5,2056.6 L1978.0,2055.1 L1978.5,2072.5 L1979.0,2061.3 L1979.5,2062.5 L1980.0,2053.5 L1980.5,2070.5 L1981.0,2059.9 L1981.5,2064.8 L1982.0,2059.0 L1982.5,2057.8 L1983.0,2051.4 L1983.5,2055.5 L1984.0,2062.1 L1984.5,2061.3 L1985.0,2062.7 L1985.5,2056.7 L1986.0,2063.4 L1986.5,2051.1 L1987.0,2053.4 L1987.5,2056.6 L1988.0,2062.7 L1988.5,2058.8 L1989.0,2057.1 L1989.5,2058.4 L1990.0,2053.8 L1990.5,2052.2 L1991.0,2056.3 L1991.5,2054.2 L1992.0,2063.0 L1992.5,2060.0 L1993.0,2066.1 L1993.5,2060.4 L1994.0,2059.3 L1994.5,2055.3 L1995.0,2053.1 L1995.5,2056.5 L1996.0,2058.3 L1996.5,2054.2 L1997.0,2059.0 L1997.5,2067.2 L1998.0,2060.5 L1998.5,2066.2 L1999.0,2057.9 L1999.5,2068.8 L2000.0,2053.8 L2000.5,2053.0 L2001.0,2048.2 L2001.5,2066.1 L2002.0,2064.7 L2002.5,2056.1 L2003.0,2055.4 L2003.5,2061.3 L2004.0,2053.7 L2004.5,2061.8 L2005.0,2066.6 L2005.5,2055.4 L2006.0,2067.3 L2006.5,2061.6 L2007.0,2061.2 L2007.5,2059.2 L2008.0,2056.4 L2008.5,2056.9 L2009.0,2051.0 L2009.5,2055.6 L2010.0,2061.3 L2010.5,2054.8 L2011.0,2058.6 L2011.5,2067.5 L2012.0,2056.3 L2012.5,2056.7 L2013.0,2052.6 L2013.5,2056.0 L2014.0,2056.9 L2014.5,2057.8 L2015.0,2049.5 L2015.5,2049.6 L2016.0,2051.9 L2016.5,2047.9 L2017.0,2046.8 L2017.5,2055.4 L2018.0,2053.7 L2018.5,2058.3 L2019.0,2060.7 L2019.5,2059.5 L2020.0,2054.4 L2020.5,2054.3 L2021.0,2060.5 L2021.5,2058.0 L2022.0,2061.6 L2022.5,2053.4 L2023.0,2061.5 L2023.5,2052.9 L2024.0,2064.8 L2024.5,2065.2 L2025.0,2053.0 L2025.5,2061.7 L2026.0,2060.6 L2026.5,2050.3 L2027.0,2050.5 L2027.5,2059.8 L2028.0,2061.7 L2028.5,2062.2 L2029.0,2053.2 L2029.5,2057.7 L2030.0,2060.1 L2030.5,2058.6 L2031.0,2053.6 L2031.5,2054.2 L2032.0,2053.2 L2032.5,2052.7 L2033.0,2049.8 L2033.5,2052.2 L2034.0,2049.9 L2034.5,2055.4 L2035.0,2053.5 L2035.5,2056.3 L2036.0,2045.6 L2036.5,2052.9 L2037.0,2055.8 L2037.5,2053.4 L2038.0,2042.8 L2038.5,2060.0 L2039.0,2047.1 L2039.5,2062.5 L2040.0,2055.2 L2040.5,2056.9 L2041.0,2054.4 L2041.5,2051.2 L2042.0,2044.9 L2042.5,2056.7 L2043.0,2055.3 L2043.5,2059.6 L2044.0,2056.1 L2044.5,2045.8 L2045.0,2050.0 L2045.5,2054.7 L2046.0,2051.8 L2046.5,2052.5 L2047.0,2058.2 L2047.5,2056.5 L2048.0,2059.1 L2048.5,2062.2 L2049.0,2056.4 L2049.5,2059.9 L2050.0,2059.2 L2050.5,2056.9 L2051.0,2056.7 L2051.5,2055.5 L2052.0,2050.5 L2052.5,2066.9 L2053.0,2053.6 L2053.5,2049.1 L2054.0,2056.3 L2054.5,2051.1 L2055.0,2070.8 L2055.5,2060.3 L2056.0,2060.9 L2056.5,2059.0 L2057.0,2054.1 L2057.5,2054.1 L2058.0,2056.6 L2058.5,2059.2 L2059.0,2063.6 L2059.5,2063.2 L2060.0,2061.7 L2060.5,2059.2 L2061.0,2047.9 L2061.5,2062.6 L2062.0,2050.6 L2062.5,2052.4 L2063.0,2059.5 L2063.5,2049.5 L2064.0,2057.5 L2064.5,2066.3 L2065.0,2058.5 L2065.5,2049.9 L2066.0,2043.6 L2066.5,2048.8 L2067.0,2049.3 L2067.5,2054.9 L2068.0,2060.3 L2068.5,2061.5 L2069.0,2052.0 L2069.5,2056.3 L2070.0,2058.6 L2070.5,2057.9 L2071.0,2053.8 L2071.5,2062.1 L2072.0,2063.8 L2072.5,2060.2 L2073.0,2059.4 L2073.5,2059.7 L2074.0,2047.9 L2074.5,2057.3 L2075.0,2063.2 L2075.5,2052.8 L2076.0,2060.8 L2076.5,2064.9 L2077.0,2061.1 L2077.5,2059.1 L2078.0,2053.0 L2078.5,2064.2 L2079.0,2057.6 L2079.5,2071.7 L2080.0,2054.7 L2080.5,2054.5 L2081.0,2059.4 L2081.5,2058.3 L2082.0,2056.0 L2082.5,2059.3 L2083.0,2054.5 L2083.5,2059.3 L2084.0,2054.6 L2084.5,2057.7 L2085.0,2062.7 L2085.5,2052.2 L2086.0,2062.2 L2086.5,2064.3 L2087.0,2054.0 L2087.5,2054.0 L2088.0,2049.4 L2088.5,2054.2 L2089.0,2056.8 L2089.5,2058.7 L2090.0,2052.6 L2090.5,2056.9 L2091.0,2051.0 L2091.5,2057.6 L2092.0,2060.2 L2092.5,2062.8 L2093.0,2062.2 L2093.5,2054.5 L2094.0,2060.6 L2094.5,2057.7 L2095.0,2056.6 L2095.5,2062.1 L2096.0,2057.9 L2096.5,2061.4 L2097.0,2064.2 L2097.5,2050.9 L2098.0,2063.7 L2098.5,2060.3 L2099.0,2058.1 L2099.5,2059.3 L2100.0,2057.2 L2100.5,2065.3 L2101.0,2066.9 L2101.5,2062.0 L2102.0,2063.0 L2102.5,2058.1 L2103.0,2055.1 L2103.5,2057.8 L2104.0,2061.9 L2104.5,2057.3 L2105.0,2058.6 L2105.5,2056.7 L2106.0,2057.9 L2106.5,2051.7 L2107.0,2058.9 L2107.5,2050.4 L2108.0,2055.7 L2108.5,2054.7 L2109.0,2052.1 L2109.5,2051.1 L2110.0,2055.6 L2110.5,2056.9 L2111.0,2058.8 L2111.5,2050.6 L2112.0,2049.6 L2112.5,2058.4 L2113.0,2056.5 L2113.5,2057.9 L2114.0,2049.7 L2114.5,2048.9 L2115.0,2058.9 L2115.5,2054.4 L2116.0,2062.2 L2116.5,2058.7 L2117.0,2056.5 L2117.5,2056.6 L2118.0,2052.0 L2118.5,2059.6 L2119.0,2053.3 L2119.5,2049.9 L2120.0,2065.0 L2120.5,2051.1 L2121.0,2063.1 L2121.5,2059.3 L2122.0,2065.1 L2122.5,2064.2 L2123.0,2064.4 L2123.5,2058.8 L2124.0,2061.1 L2124.5,2052.2 L2125.0,2054.3 L2125.5,2059.5 L2126.0,2054.2 L2126.5,2062.9 L2127.0,2058.7 L2127.5,2054.6 L2128.0,2060.7 L2128.5,2051.6 L2129.0,2055.7 L2129.5,2054.5 L2130.0,2063.3 L2130.5,2059.3 L2131.0,2050.8 L2131.5,2058.8 L2132.0,2053.0 L2132.5,2056.5 L2133.0,2054.3 L2133.5,2056.1 L2134.0,2066.6 L2134.5,2061.3 L2135.0,2058.0 L2135.5,2053.1 L2136.0,2058.8 L2136.5,2062.9 L2137.0,2059.3 L2137.5,2051.8 L2138.0,2062.3 L2138.5,2061.6 L2139.0,2060.7 L2139.5,2057.7 L2140.0,2059.4 L2140.5,2058.5 L2141.0,2063.0 L2141.5,2050.1 L2142.0,2055.8 L2142.5,2050.7 L2143.0,2052.6 L2143.5,2052.4 L2144.0,2048.0 L2144.5,2051.3 L2145.0,2048.4 L2145.5,2050.0 L2146.0,2062.4 L2146.5,2062.0 L2147.0,2060.5 L2147.5,2058.6 L2148.0,2060.5 L2148.5,2059.3 L2149.0,2060.0 L2149.5,2057.7 L2150.0,2057.1 L2150.5,2056.4 L2151.0,2049.7 L2151.5,2051.9 L2152.0,2055.6 L2152.5,2058.4 L2153.0,2056.4 L2153.5,2056.8 L2154.0,2064.8 L2154.5,2056.6 L2155.0,2057.0 L2155.5,2055.3 L2156.0,2047.7 L2156.5,2060.5 L2157.0,2060.6 L2157.5,2058.4 L2158.0,2053.4 L2158.5,2055.9 L2159.0,2054.7 L2159.5,2066.3 L2160.0,2049.0 L2160.5,2061.8 L2161.0,2056.9 L2161.5,2061.0 L2162.0,2057.2 L2162.5,2062.7 L2163.0,2060.0 L2163.5,2056.3 L2164.0,2063.8 L2164.5,2050.0 L2165.0,2058.3 L2165.5,2061.9 L2166.0,2052.4 L2166.5,2063.7 L2167.0,2050.3 L2167.5,2055.7 L2168.0,2056.8 L2168.5,2053.3 L2169.0,2059.5 L2169.5,2064.4 L2170.0,2054.6 L2170.5,2056.4 L2171.0,2061.1 L2171.5,2056.6 L2172.0,2050.0 L2172.5,2054.8 L2173.0,2055.7 L2173.5,2056.4 L2174.0,2058.5 L2174.5,2056.8 L2175.0,2053.6 L2175.5,2059.2 L2176.0,2061.6 L2176.5,2054.5 L2177.0,2063.2 L2177.5,2053.6 L2178.0,2064.9 L2178.5,2053.7 L2179.0,2053.1 L2179.5,2061.6 L2180.0,2054.1 L2180.5,2064.8 L2181.0,2070.1 L2181.5,2069.9 L2182.0,2055.4 L2182.5,2055.8 L2183.0,2064.2 L2183.5,2050.3 L2184.0,2056.8 L2184.5,2054.0 L2185.0,2059.2 L2185.5,2058.0 L2186.0,2063.2 L2186.5,2057.3 L2187.0,2056.3 L2187.5,2058.1 L2188.0,2061.1 L2188.5,2056.4 L2189.0,2062.1 L2189.5,2064.9 L2190.0,2058.3 L2190.5,2055.1 L2191.0,2062.2 L2191.5,2073.0 L2192.0,2067.4 L2192.5,2055.6 L2193.0,2063.0 L2193.5,2059.2 L2194.0,2057.8 L2194.5,2057.6 L2195.0,2055.6 L2195.5,2057.1 L2196.0,2057.6 L2196.5,2064.3 L2197.0,2057.3 L2197.5,2052.9 L2198.0,2057.3 L2198.5,2058.9 L2199.0,2052.6 L2199.5,2058.3 L2200.0,2052.8 L2200.5,2054.3 L2201.0,2061.5 L2201.5,2061.5 L2202.0,2057.8 L2202.5,2063.3 L2203.0,2059.7 L2203.5,2050.5 L2204.0,2050.7 L2204.5,2058.7 L2205.0,2053.3 L2205.5,2057.1 L2206.0,2054.1 L2206.5,2057.9 L2207.0,2053.8 L2207.5,2055.1 L2208.0,2052.5 L2208.5,2048.8 L2209.0,2060.7 L2209.5,2054.6 L2210.0,2049.0 L2210.5,2053.5 L2211.0,2059.2 L2211.5,2055.5 L2212.0,2051.0 L2212.5,2059.8 L2213.0,2063.8 L2213.5,2064.8 L2214.0,2057.9 L2214.5,2062.9 L2215.0,2059.8 L2215.5,2058.1 L2216.0,2060.4 L2216.5,2052.4 L2217.0,2062.0 L2217.5,2056.5 L2218.0,2055.2 L2218.5,2052.5 L2219.0,2058.1 L2219.5,2058.5 L2220.0,2049.9 L2220.5,2052.3 L2221.0,2059.5 L2221.5,2059.1 L2222.0,2059.6 L2222.5,2057.3 L2223.0,2057.2 L2223.5,2057.6 L2224.0,2056.1 L2224.5,2049.9 L2225.0,2051.0 L2225.5,2053.1 L2226.0,2052.4 L2226.5,2051.8 L2227.0,2054.0 L2227.5,2053.2 L2228.0,2061.7 L2228.5,2058.6 L2229.0,2056.3 L2229.5,2058.5 L2230.0,2062.3 L2230.5,2065.5 L2231.0,2066.3 L2231.5,2058.2 L2232.0,2059.5 L2232.5,2060.5 L2233.0,2060.6 L2233.5,2055.8 L2234.0,2055.8 L2234.5,2058.4 L2235.0,2049.5 L2235.5,2050.7 L2236.0,2053.5 L2236.5,2055.1 L2237.0,2048.4 L2237.5,2070.8 L2238.0,2053.9 L2238.5,2065.5 L2239.0,2056.2 L2239.5,2061.6 L2240.0,2052.7 L2240.5,2050.3 L2241.0,2054.8 L2241.5,2054.3 L2242.0,2052.5 L2242.5,2063.1 L2243.0,2072.3 L2243.5,2055.9 L2244.0,2066.9 L2244.5,2054.0 L2245.0,2060.9 L2245.5,2059.4 L2246.0,2059.7 L2246.5,2066.3 L2247.0,2054.4 L2247.5,2062.3 L2248.0,2057.9 L2248.5,2063.6 L2249.0,2055.6 L2249.5,2064.6 L2250.0,2058.8 L2250.5,2052.9 L2251.0,2056.4 L2251.5,2053.2 L2252.0,2060.6 L2252.5,2055.3 L2253.0,2057.1 L2253.5,2047.1 L2254.0,2059.2 L2254.5,2049.6 L2255.0,2057.1 L2255.5,2062.8 L2256.0,2060.6 L2256.5,2048.9 L2257.0,2055.0 L2257.5,2054.4 L2258.0,2063.1 L2258.5,2054.8 L2259.0,2047.2 L2259.5,2055.3 L2260.0,2056.9 L2260.5,2066.7 L2261.0,2060.0 L2261.5,2061.0 L2262.0,2054.0 L2262.5,2058.2 L2263.0,2050.5 L2263.5,2056.6 L2264.0,2056.1 L2264.5,2052.2 L2265.0,2058.2 L2265.5,2052.0 L2266.0,2063.8 L2266.5,2057.0 L2267.0,2052.9 L2267.5,2051.0 L2268.0,2054.4 L2268.5,2058.1 L2269.0,2067.1 L2269.5,2058.9 L2270.0,2057.5 L2270.5,2055.9 L2271.0,2048.1 L2271.5,2051.4 L2272.0,2046.9 L2272.5,2051.2 L2273.0,2052.6 L2273.5,2045.7 L2274.0,2054.6 L2274.5,2053.2 L2275.0,2051.7 L2275.5,2056.4 L2276.0,2052.7 L2276.5,2059.3 L2277.0,2049.0" fill="none" stroke="#0000ff" stroke-width="5.2" stroke-linejoin="round" stroke-linecap="butt"/>
<path d="M1386.0,2137.7 L1386.5,2146.6 L1387.0,2151.6 L1387.5,2140.0 L1388.0,2149.3 L1388.5,2150.2 L1389.0,2141.5 L1389.5,2146.2 L1390.0,2144.6 L1390.5,2152.0 L1391.0,2141.1 L1391.5,2146.6 L1392.0,2139.9 L1392.5,2147.6 L1393.0,2137.4 L1393.5,2147.5 L1394.0,2147.4 L1394.5,2150.9 L1395.0,2141.3 L1395.5,2144.0 L1396.0,2142.6 L1396.5,2148.7 L1397.0,2148.8 L1397.5,2148.6 L1398.0,2146.1 L1398.5,2149.5 L1399.0,2149.9 L1399.5,2141.6 L1400.0,2148.9 L1400.5,2149.9 L1401.0,2142.6 L1401.5,2147.8 L1402.0,2142.7 L1402.5,2145.4 L1403.0,2143.4 L1403.5,2147.8 L1404.0,2151.4 L1404.5,2144.9 L1405.0,2147.3 L1405.5,2145.1 L1406.0,2143.2 L1406.5,2142.1 L1407.0,2149.0 L1407.5,2151.4 L1408.0,2143.9 L1408.5,2148.4 L1409.0,2147.0 L1409.5,2149.8 L1410.0,2157.0 L1410.5,2145.8 L1411.0,2152.0 L1411.5,2139.9 L1412.0,2148.5 L1412.5,2146.8 L1413.0,2153.4 L1413.5,2148.1 L1414.0,2140.5 L1414.5,2151.2 L1415.0,2143.8 L1415.5,2158.3 L1416.0,2146.2 L1416.5,2141.8 L1417.0,2154.8 L1417.5,2145.7 L1418.0,2148.4 L1418.5,2146.2 L1419.0,2148.5 L1419.5,2142.7 L1420.0,2140.7 L1420.5,2153.1 L1421.0,2148.9 L1421.5,2138.5 L1422.0,2141.6 L1422.5,2145.1 L1423.0,2153.9 L1423.5,2139.2 L1424.0,2145.5 L1424.5,2145.2 L1425.0,2141.2 L1425.5,2146.8 L1426.0,2150.1 L1426.5,2140.4 L1427.0,2148.2 L1427.5,2145.4 L1428.0,2147.0 L1428.5,2150.6 L1429.0,2142.6 L1429.5,2152.7 L1430.0,2153.7 L1430.5,2147.2 L1431.0,2150.6 L1431.5,2147.9 L1432.0,2146.7 L1432.5,2143.5 L1433.0,2145.8 L1433.5,2149.9 L1434.0,2144.5 L1434.5,2150.5 L1435.0,2142.7 L1435.5,2143.8 L1436.0,2146.8 L1436.5,2148.8 L1437.0,2142.1 L1437.5,2137.6 L1438.0,2147.4 L1438.5,2151.1 L1439.0,2143.3 L1439.5,2148.4 L1440.0,2141.5 L1440.5,2144.7 L1441.0,2148.3 L1441.5,2154.5 L1442.0,2150.6 L1442.5,2144.5 L1443.0,2146.4 L1443.5,2146.8 L1444.0,2137.9 L1444.5,2135.4 L1445.0,2150.6 L1445.5,2148.6 L1446.0,2153.5 L1446.5,2149.7 L1447.0,2143.7 L1447.5,2145.8 L1448.0,2148.8 L1448.5,2151.2 L1449.0,2145.0 L1449.5,2146.6 L1450.0,2149.3 L1450.5,2155.7 L1451.0,2153.9 L1451.5,2149.7 L1452.0,2148.6 L1452.5,2142.1 L1453.0,2143.0 L1453.5,2144.8 L1454.0,2135.2 L1454.5,2151.2 L1455.0,2142.8 L1455.5,2151.6 L1456.0,2154.6 L1456.5,2149.0 L1457.0,2144.1 L1457.5,2144.5 L1458.0,2147.0 L1458.5,2157.0 L1459.0,2142.8 L1459.5,2152.0 L1460.0,2150.6 L1460.5,2151.1 L1461.0,2148.3 L1461.5,2153.4 L1462.0,2140.3 L1462.5,2143.0 L1463.0,2151.0 L1463.5,2149.2 L1464.0,2147.3 L1464.5,2145.8 L1465.0,2151.8 L1465.5,2142.6 L1466.0,2148.4 L1466.5,2147.6 L1467.0,2147.8 L1467.5,2155.7 L1468.0,2144.6 L1468.5,2141.3 L1469.0,2140.4 L1469.5,2144.3 L1470.0,2138.1 L1470.5,2147.0 L1471.0,2146.2 L1471.5,2147.0 L1472.0,2147.1 L1472.5,2137.6 L1473.0,2145.8 L1473.5,2155.0 L1474.0,2154.3 L1474.5,2148.4 L1475.0,2150.7 L1475.5,2135.6 L1476.0,2144.7 L1476.5,2144.4 L1477.0,2144.2 L1477.5,2136.9 L1478.0,2143.6 L1478.5,2133.7 L1479.0,2139.0 L1479.5,2153.2 L1480.0,2141.1 L1480.5,2147.1 L1481.0,2146.8 L1481.5,2139.0 L1482.0,2140.9 L1482.5,2150.7 L1483.0,2142.5 L1483.5,2141.2 L1484.0,2142.4 L1484.5,2142.3 L1485.0,2141.1 L1485.5,2145.1 L1486.0,2140.6 L1486.5,2143.2 L1487.0,2151.8 L1487.5,2158.3 L1488.0,2146.0 L1488.5,2147.8 L1489.0,2142.8 L1489.5,2149.2 L1490.0,2150.2 L1490.5,2147.2 L1491.0,2147.1 L1491.5,2143.8 L1492.0,2145.9 L1492.5,2141.7 L1493.0,2143.6 L1493.5,2145.4 L1494.0,2159.6 L1494.5,2152.9 L1495.0,2143.8 L1495.5,2155.5 L1496.0,2151.3 L1496.5,2144.7 L1497.0,2149.5 L1497.5,2147.5 L1498.0,2141.7 L1498.5,2146.2 L1499.0,2144.3 L1499.5,2147.8 L1500.0,2152.3 L1500.5,2148.4 L1501.0,2154.1 L1501.5,2137.5 L1502.0,2147.2 L1502.5,2142.7 L1503.0,2144.8 L1503.5,2140.5 L1504.0,2152.1 L1504.5,2143.3 L1505.0,2153.3 L1505.5,2155.3 L1506.0,2154.0 L1506.5,2148.2 L1507.0,2143.7 L1507.5,2141.5 L1508.0,2139.3 L1508.5,2150.9 L1509.0,2147.5 L1509.5,2146.4 L1510.0,2144.4 L1510.5,2136.6 L1511.0,2138.7 L1511.5,2142.4 L1512.0,2140.7 L1512.5,2144.5 L1513.0,2147.0 L1513.5,2150.1 L1514.0,2150.2 L1514.5,2149.7 L1515.0,2147.8 L1515.5,2146.0 L1516.0,2144.8 L1516.5,2151.0 L1517.0,2148.5 L1517.5,2145.1 L1518.0,2147.8 L1518.5,2149.6 L1519.0,2144.0 L1519.5,2142.5 L1520.0,2146.6 L1520.5,2144.2 L1521.0,2149.4 L1521.5,2143.5 L1522.0,2150.9 L1522.5,2144.2 L1523.0,2148.0 L1523.5,2141.4 L1524.0,2147.8 L1524.5,2138.2 L1525.0,2157.0 L1525.5,2143.4 L1526.0,2145.9 L1526.5,2155.9 L1527.0,2143.8 L1527.5,2147.3 L1528.0,2147.1 L1528.5,2138.4 L1529.0,2144.3 L1529.5,2144.6 L1530.0,2146.6 L1530.5,2157.7 L1531.0,2145.1 L1531.5,2143.4 L1532.0,2148.5 L1532.5,2157.5 L1533.0,2144.1 L1533.5,2148.3 L1534.0,2147.6 L1534.5,2145.8 L1535.0,2148.9 L1535.5,2152.2 L1536.0,2148.7 L1536.5,2150.0 L1537.0,2142.7 L1537.5,2155.5 L1538.0,2144.9 L1538.5,2149.9 L1539.0,2152.9 L1539.5,2154.1 L1540.0,2145.3 L1540.5,2147.1 L1541.0,2148.7 L1541.5,2145.6 L1542.0,2145.6 L1542.5,2154.7 L1543.0,2145.3 L1543.5,2154.2 L1544.0,2146.3 L1544.5,2153.1 L1545.0,2148.8 L1545.5,2149.3 L1546.0,2147.4 L1546.5,2148.1 L1547.0,2151.6 L1547.5,2142.4 L1548.0,2137.0 L1548.5,2151.6 L1549.0,2142.8 L1549.5,2142.9 L1550.0,2147.6 L1550.5,2146.0 L1551.0,2137.8 L1551.5,2145.5 L1552.0,2133.0 L1552.5,2155.2 L1553.0,2155.7 L1553.5,2139.1 L1554.0,2141.9 L1554.5,2150.5 L1555.0,2148.2 L1555.5,2146.3 L1556.0,2145.6 L1556.5,2147.5 L1557.0,2153.9 L1557.5,2154.9 L1558.0,2143.0 L1558.5,2146.9 L1559.0,2148.7 L1559.5,2149.0 L1560.0,2155.5 L1560.5,2142.5 L1561.0,2145.6 L1561.5,2150.0 L1562.0,2147.4 L1562.5,2155.4 L1563.0,2148.5 L1563.5,2151.6 L1564.0,2143.6 L1564.5,2147.0 L1565.0,2142.4 L1565.5,2142.6 L1566.0,2150.2 L1566.5,2139.2 L1567.0,2149.4 L1567.5,2143.8 L1568.0,2140.7 L1568.5,2154.6 L1569.0,2146.4 L1569.5,2137.7 L1570.0,2143.8 L1570.5,2143.6 L1571.0,2150.1 L1571.5,2145.8 L1572.0,2144.6 L1572.5,2150.7 L1573.0,2147.9 L1573.5,2146.7 L1574.0,2148.1 L1574.5,2142.1 L1575.0,2150.8 L1575.5,2144.3 L1576.0,2147.1 L1576.5,2145.4 L1577.0,2145.6 L1577.5,2142.6 L1578.0,2144.9 L1578.5,2143.6 L1579.0,2149.7 L1579.5,2147.9 L1580.0,2146.4 L1580.5,2140.9 L1581.0,2150.6 L1581.5,2145.4 L1582.0,2138.7 L1582.5,2151.6 L1583.0,2145.3 L1583.5,2141.3 L1584.0,2142.2 L1584.5,2140.3 L1585.0,2146.0 L1585.5,2146.6 L1586.0,2148.2 L1586.5,2136.3 L1587.0,2146.9 L1587.5,2141.7 L1588.0,2144.9 L1588.5,2150.8 L1589.0,2141.7 L1589.5,2148.3 L1590.0,2148.0 L1590.5,2149.4 L1591.0,2146.8 L1591.5,2143.9 L1592.0,2137.9 L1592.5,2140.4 L1593.0,2151.0 L1593.5,2140.2 L1594.0,2146.5 L1594.5,2153.3 L1595.0,2138.6 L1595.5,2140.0 L1596.0,2143.5 L1596.5,2146.4 L1597.0,2145.1 L1597.5,2151.0 L1598.0,2149.9 L1598.5,2140.4 L1599.0,2144.0 L1599.5,2143.8 L1600.0,2148.3 L1600.5,2144.8 L1601.0,2145.7 L1601.5,2147.1 L1602.0,2154.8 L1602.5,2144.4 L1603.0,2146.9 L1603.5,2147.3 L1604.0,2146.4 L1604.5,2139.8 L1605.0,2138.3 L1605.5,2146.1 L1606.0,2141.0 L1606.5,2146.7 L1607.0,2141.2 L1607.5,2143.2 L1608.0,2150.2 L1608.5,2145.1 L1609.0,2147.0 L1609.5,2151.4 L1610.0,2141.8 L1610.5,2151.3 L1611.0,2156.1 L1611.5,2158.9 L1612.0,2147.4 L1612.5,2148.5 L1613.0,2152.8 L1613.5,2146.4 L1614.0,2148.1 L1614.5,2158.6 L1615.0,2145.1 L1615.5,2154.5 L1616.0,2143.9 L1616.5,2145.1 L1617.0,2144.4 L1617.5,2151.4 L1618.0,2153.6 L1618.5,2152.6 L1619.0,2155.5 L1619.5,2143.6 L1620.0,2144.9 L1620.5,2151.2 L1621.0,2147.0 L1621.5,2146.9 L1622.0,2149.6 L1622.5,2134.3 L1623.0,2143.9 L1623.5,2144.6 L1624.0,2148.7 L1624.5,2145.9 L1625.0,2147.5 L1625.5,2135.2 L1626.0,2144.0 L1626.5,2146.0 L1627.0,2137.9 L1627.5,2155.0 L1628.0,2149.1 L1628.5,2145.7 L1629.0,2142.6 L1629.5,2140.7 L1630.0,2144.1 L1630.5,2155.2 L1631.0,2149.3 L1631.5,2145.3 L1632.0,2148.1 L1632.5,2146.2 L1633.0,2146.5 L1633.5,2154.6 L1634.0,2141.1 L1634.5,2153.3 L1635.0,2146.8 L1635.5,2151.3 L1636.0,2145.7 L1636.5,2139.8 L1637.0,2147.2 L1637.5,2150.8 L1638.0,2145.0 L1638.5,2145.8 L1639.0,2142.7 L1639.5,2148.7 L1640.0,2147.6 L1640.5,2144.6 L1641.0,2147.6 L1641.5,2142.4 L1642.0,2145.7 L1642.5,2151.1 L1643.0,2150.0 L1643.5,2151.9 L1644.0,2139.1 L1644.5,2150.9 L1645.0,2149.7 L1645.5,2155.2 L1646.0,2149.5 L1646.5,2142.5 L1647.0,2139.7 L1647.5,2143.2 L1648.0,2142.5 L1648.5,2140.4 L1649.0,2139.6 L1649.5,2145.9 L1650.0,2142.2 L1650.5,2144.5 L1651.0,2143.9 L1651.5,2145.3 L1652.0,2153.2 L1652.5,2140.7 L1653.0,2151.0 L1653.5,2156.4 L1654.0,2144.4 L1654.5,2150.1 L1655.0,2158.2 L1655.5,2143.4 L1656.0,2154.8 L1656.5,2143.1 L1657.0,2147.8 L1657.5,2159.1 L1658.0,2139.6 L1658.5,2150.2 L1659.0,2151.8 L1659.5,2144.3 L1660.0,2146.0 L1660.5,2147.0 L1661.0,2144.2 L1661.5,2141.0 L1662.0,2144.1 L1662.5,2140.8 L1663.0,2146.2 L1663.5,2150.3 L1664.0,2154.2 L1664.5,2148.9 L1665.0,2143.7 L1665.5,2150.8 L1666.0,2135.9 L1666.5,2144.6 L1667.0,2146.0 L1667.5,2141.2 L1668.0,2143.3 L1668.5,2142.5 L1669.0,2143.8 L1669.5,2150.3 L1670.0,2145.9 L1670.5,2139.1 L1671.0,2137.5 L1671.5,2145.3 L1672.0,2141.7 L1672.5,2143.4 L1673.0,2141.7 L1673.5,2148.7 L1674.0,2149.0 L1674.5,2145.5 L1675.0,2142.9 L1675.5,2144.4 L1676.0,2140.9 L1676.5,2145.0 L1677.0,2151.9 L1677.5,2151.7 L1678.0,2145.6 L1678.5,2147.9 L1679.0,2144.1 L1679.5,2141.6 L1680.0,2138.7 L1680.5,2141.5 L1681.0,2137.5 L1681.5,2143.0 L1682.0,2143.3 L1682.5,2146.0 L1683.0,2137.3 L1683.5,2146.3 L1684.0,2154.6 L1684.5,2155.9 L1685.0,2151.2 L1685.5,2150.7 L1686.0,2148.0 L1686.5,2144.3 L1687.0,2146.2 L1687.5,2136.7 L1688.0,2153.5 L1688.5,2158.9 L1689.0,2149.0 L1689.5,2149.4 L1690.0,2140.6 L1690.5,2137.7 L1691.0,2146.8 L1691.5,2147.4 L1692.0,2145.3 L1692.5,2137.3 L1693.0,2145.4 L1693.5,2142.5 L1694.0,2146.9 L1694.5,2147.8 L1695.0,2153.2 L1695.5,2152.8 L1696.0,2154.4 L1696.5,2148.5 L1697.0,2142.9 L1697.5,2143.1 L1698.0,2135.1 L1698.5,2148.9 L1699.0,2144.5 L1699.5,2144.0 L1700.0,2149.2 L1700.5,2142.3 L1701.0,2149.5 L1701.5,2150.2 L1702.0,2144.7 L1702.5,2144.6 L1703.0,2142.5 L1703.5,2152.7 L1704.0,2144.0 L1704.5,2143.9 L1705.0,2147.4 L1705.5,2151.4 L1706.0,2146.1 L1706.5,2146.5 L1707.0,2149.8 L1707.5,2149.1 L1708.0,2143.4 L1708.5,2147.8 L1709.0,2139.7 L1709.5,2147.1 L1710.0,2151.6 L1710.5,2144.1 L1711.0,2144.3 L1711.5,2138.4 L1712.0,2144.3 L1712.5,2145.3 L1713.0,2136.0 L1713.5,2140.5 L1714.0,2146.6 L1714.5,2150.7 L1715.0,2155.5 L1715.5,2142.3 L1716.0,2140.3 L1716.5,2142.4 L1717.0,2149.1 L1717.5,2144.4 L1718.0,2153.9 L1718.5,2153.4 L1719.0,2141.4 L1719.5,2156.6 L1720.0,2142.5 L1720.5,2158.6 L1721.0,2149.2 L1721.5,2154.6 L1722.0,2141.0 L1722.5,2139.0 L1723.0,2147.3 L1723.5,2142.2 L1724.0,2144.9 L1724.5,2143.0 L1725.0,2148.7 L1725.5,2147.2 L1726.0,2146.7 L1726.5,2142.3 L1727.0,2145.1 L1727.5,2152.6 L1728.0,2147.7 L1728.5,2144.1 L1729.0,2146.1 L1729.5,2147.8 L1730.0,2141.8 L1730.5,2146.0 L1731.0,2145.3 L1731.5,2143.3 L1732.0,2144.2 L1732.5,2146.0 L1733.0,2140.5 L1733.5,2152.2 L1734.0,2147.8 L1734.5,2139.2 L1735.0,2140.5 L1735.5,2146.5 L1736.0,2142.3 L1736.5,2143.1 L1737.0,2139.8 L1737.5,2142.5 L1738.0,2145.2 L1738.5,2149.3 L1739.0,2140.7 L1739.5,2150.0 L1740.0,2140.6 L1740.5,2144.9 L1741.0,2150.9 L1741.5,2138.8 L1742.0,2145.8 L1742.5,2149.0 L1743.0,2148.4 L1743.5,2146.4 L1744.0,2148.1 L1744.5,2141.5 L1745.0,2136.0 L1745.5,2150.4 L1746.0,2147.3 L1746.5,2151.5 L1747.0,2141.5 L1747.5,2139.3 L1748.0,2136.5 L1748.5,2148.5 L1749.0,2145.9 L1749.5,2148.9 L1750.0,2150.4 L1750.5,2143.9 L1751.0,2150.5 L1751.5,2156.8 L1752.0,2145.2 L1752.5,2150.4 L1753.0,2149.7 L1753.5,2146.6 L1754.0,2157.0 L1754.5,2148.7 L1755.0,2148.0 L1755.5,2146.2 L1756.0,2155.8 L1756.5,2146.2 L1757.0,2155.3 L1757.5,2155.5 L1758.0,2147.6 L1758.5,2139.2 L1759.0,2149.8 L1759.5,2152.0 L1760.0,2151.7 L1760.5,2148.0 L1761.0,2148.1 L1761.5,2141.2 L1762.0,2145.7 L1762.5,2157.0 L1763.0,2149.2 L1763.5,2143.5 L1764.0,2146.1 L1764.5,2149.8 L1765.0,2144.8 L1765.5,2152.3 L1766.0,2146.6 L1766.5,2136.0 L1767.0,2144.1 L1767.5,2157.0 L1768.0,2150.4 L1768.5,2147.5 L1769.0,2148.5 L1769.5,2151.0 L1770.0,2152.9 L1770.5,2151.3 L1771.0,2141.9 L1771.5,2147.0 L1772.0,2144.9 L1772.5,2153.7 L1773.0,2147.4 L1773.5,2138.6 L1774.0,2143.4 L1774.5,2139.3 L1775.0,2154.5 L1775.5,2144.2 L1776.0,2143.9 L1776.5,2146.0 L1777.0,2150.0 L1777.5,2152.2 L1778.0,2148.7 L1778.5,2137.6 L1779.0,2150.3 L1779.5,2149.7 L1780.0,2138.0 L1780.5,2143.6 L1781.0,2144.4 L1781.5,2145.4 L1782.0,2145.8 L1782.5,2145.3 L1783.0,2152.2 L1783.5,2140.5 L1784.0,2148.8 L1784.5,2138.9 L1785.0,2145.4 L1785.5,2141.3 L1786.0,2142.8 L1786.5,2144.3 L1787.0,2138.4 L1787.5,2148.0 L1788.0,2145.4 L1788.5,2150.8 L1789.0,2142.2 L1789.5,2151.2 L1790.0,2143.7 L1790.5,2142.8 L1791.0,2151.5 L1791.5,2141.4 L1792.0,2145.8 L1792.5,2143.7 L1793.0,2145.5 L1793.5,2140.8 L1794.0,2139.0 L1794.5,2146.6 L1795.0,2140.5 L1795.5,2153.6 L1796.0,2149.3 L1796.5,2147.2 L1797.0,2139.3 L1797.5,2156.5 L1798.0,2147.6 L1798.5,2137.6 L1799.0,2138.0 L1799.5,2145.1 L1800.0,2147.7 L1800.5,2151.0 L1801.0,2147.0 L1801.5,2155.1 L1802.0,2141.5 L1802.5,2153.2 L1803.0,2145.6 L1803.5,2147.4 L1804.0,2148.3 L1804.5,2141.5 L1805.0,2143.8 L1805.5,2141.5 L1806.0,2151.2 L1806.5,2151.7 L1807.0,2133.9 L1807.5,2153.8 L1808.0,2150.7 L1808.5,2146.0 L1809.0,2148.1 L1809.5,2150.8 L1810.0,2145.3 L1810.5,2149.0 L1811.0,2147.4 L1811.5,2139.5 L1812.0,2147.5 L1812.5,2139.5 L1813.0,2142.8 L1813.5,2142.0 L1814.0,2149.9 L1814.5,2152.8 L1815.0,2143.7 L1815.5,2139.7 L1816.0,2143.7 L1816.5,2140.7 L1817.0,2157.2 L1817.5,2142.1 L1818.0,2150.2 L1818.5,2148.9 L1819.0,2145.9 L1819.5,2146.3 L1820.0,2144.3 L1820.5,2149.4 L1821.0,2140.5 L1821.5,2145.6 L1822.0,2154.3 L1822.5,2144.6 L1823.0,2153.1 L1823.5,2144.9 L1824.0,2145.9 L1824.5,2135.1 L1825.0,2147.0 L1825.5,2151.8 L1826.0,2148.4 L1826.5,2146.3 L1827.0,2143.9 L1827.5,2144.7 L1828.0,2152.8 L1828.5,2150.4 L1829.0,2147.3 L1829.5,2147.7 L1830.0,2143.5 L1830.5,2151.3 L1831.0,2147.0 L1831.5,2145.7 L1832.0,2148.2 L1832.5,2147.1 L1833.0,2146.1 L1833.5,2149.8 L1834.0,2148.1 L1834.5,2146.3 L1835.0,2142.3 L1835.5,2141.1 L1836.0,2147.5 L1836.5,2151.8 L1837.0,2141.9 L1837.5,2151.9 L1838.0,2144.2 L1838.5,2145.9 L1839.0,2146.5 L1839.5,2141.7 L1840.0,2142.5 L1840.5,2138.3 L1841.0,2140.8 L1841.5,2145.5 L1842.0,2148.5 L1842.5,2143.4 L1843.0,2152.8 L1843.5,2140.6 L1844.0,2140.2 L1844.5,2142.8 L1845.0,2141.8 L1845.5,2147.8 L1846.0,2142.4 L1846.5,2149.5 L1847.0,2147.4 L1847.5,2155.5 L1848.0,2145.3 L1848.5,2139.7 L1849.0,2146.1 L1849.5,2144.4 L1850.0,2146.3 L1850.5,2134.1 L1851.0,2144.7 L1851.5,2144.3 L1852.0,2147.7 L1852.5,2145.7 L1853.0,2143.2 L1853.5,2139.9 L1854.0,2146.2 L1854.5,2133.4 L1855.0,2151.7 L1855.5,2141.4 L1856.0,2144.2 L1856.5,2153.4 L1857.0,2153.4 L1857.5,2146.3 L1858.0,2150.5 L1858.5,2148.8 L1859.0,2146.1 L1859.5,2147.2 L1860.0,2139.7 L1860.5,2137.2 L1861.0,2146.8 L1861.5,2148.3 L1862.0,2141.3 L1862.5,2136.9 L1863.0,2149.8 L1863.5,2151.2 L1864.0,2141.9 L1864.5,2146.6 L1865.0,2145.6 L1865.5,2142.1 L1866.0,2153.5 L1866.5,2146.7 L1867.0,2143.6 L1867.5,2148.1 L1868.0,2150.5 L1868.5,2154.8 L1869.0,2140.7 L1869.5,2148.5 L1870.0,2149.2 L1870.5,2155.0 L1871.0,2150.8 L1871.5,2138.6 L1872.0,2143.3 L1872.5,2146.0 L1873.0,2146.0 L1873.5,2143.1 L1874.0,2145.6 L1874.5,2151.5 L1875.0,2147.3 L1875.5,2151.2 L1876.0,2146.5 L1876.5,2147.6 L1877.0,2141.9 L1877.5,2144.0 L1878.0,2146.7 L1878.5,2140.2 L1879.0,2155.4 L1879.5,2144.4 L1880.0,2142.3 L1880.5,2143.7 L1881.0,2139.4 L1881.5,2138.2 L1882.0,2146.9 L1882.5,2143.2 L1883.0,2142.1 L1883.5,2147.1 L1884.0,2144.1 L1884.5,2141.9 L1885.0,2157.8 L1885.5,2151.5 L1886.0,2144.7 L1886.5,2141.9 L1887.0,2154.2 L1887.5,2152.8 L1888.0,2154.4 L1888.5,2144.0 L1889.0,2145.5 L1889.5,2141.1 L1890.0,2144.7 L1890.5,2148.3 L1891.0,2139.1 L1891.5,2147.1 L1892.0,2143.1 L1892.5,2139.7 L1893.0,2142.3 L1893.5,2150.1 L1894.0,2146.4 L1894.5,2156.4 L1895.0,2142.4 L1895.5,2146.2 L1896.0,2144.8 L1896.5,2144.1 L1897.0,2145.6 L1897.5,2141.5 L1898.0,2145.4 L1898.5,2138.9 L1899.0,2146.9 L1899.5,2148.0 L1900.0,2150.8 L1900.5,2150.5 L1901.0,2148.6 L1901.5,2139.2 L1902.0,2146.3 L1902.5,2142.9 L1903.0,2155.3 L1903.5,2146.3 L1904.0,2147.6 L1904.5,2151.1 L1905.0,2141.2 L1905.5,2149.0 L1906.0,2137.2 L1906.5,2142.9 L1907.0,2149.6 L1907.5,2146.7 L1908.0,2143.5 L1908.5,2148.7 L1909.0,2140.1 L1909.5,2145.9 L1910.0,2144.9 L1910.5,2147.4 L1911.0,2143.1 L1911.5,2146.1 L1912.0,2139.7 L1912.5,2146.5 L1913.0,2153.1 L1913.5,2144.6 L1914.0,2145.5 L1914.5,2148.5 L1915.0,2137.2 L1915.5,2145.6 L1916.0,2143.7 L1916.5,2141.3 L1917.0,2150.0 L1917.5,2142.5 L1918.0,2138.5 L1918.5,2148.3 L1919.0,2147.7 L1919.5,2143.5 L1920.0,2144.9 L1920.5,2144.8 L1921.0,2146.8 L1921.5,2138.5 L1922.0,2148.6 L1922.5,2143.0 L1923.0,2141.1 L1923.5,2143.4 L1924.0,2149.0 L1924.5,2151.4 L1925.0,2145.5 L1925.5,2141.8 L1926.0,2142.8 L1926.5,2142.8 L1927.0,2147.3 L1927.5,2145.3 L1928.0,2144.0 L1928.5,2145.8 L1929.0,2147.5 L1929.5,2146.5 L1930.0,2144.9 L1930.5,2149.9 L1931.0,2138.8 L1931.5,2140.6 L1932.0,2145.9 L1932.5,2145.1 L1933.0,2143.8 L1933.5,2148.6 L1934.0,2157.5 L1934.5,2143.0 L1935.0,2149.3 L1935.5,2148.2 L1936.0,2139.6 L1936.5,2147.8 L1937.0,2149.8 L1937.5,2142.5 L1938.0,2146.6 L1938.5,2148.1 L1939.0,2155.3 L1939.5,2147.2 L1940.0,2133.3 L1940.5,2147.3 L1941.0,2146.6 L1941.5,2151.8 L1942.0,2151.4 L1942.5,2147.4 L1943.0,2144.3 L1943.5,2145.0 L1944.0,2146.0 L1944.5,2150.5 L1945.0,2147.6 L1945.5,2146.2 L1946.0,2149.1 L1946.5,2147.7 L1947.0,2145.1 L1947.5,2144.8 L1948.0,2145.3 L1948.5,2138.4 L1949.0,2144.3 L1949.5,2156.9 L1950.0,2153.9 L1950.5,2140.8 L1951.0,2145.3 L1951.5,2144.9 L1952.0,2150.7 L1952.5,2146.9 L1953.0,2137.1 L1953.5,2142.3 L1954.0,2149.6 L1954.5,2144.5 L1955.0,2139.3 L1955.5,2136.8 L1956.0,2149.1 L1956.5,2147.9 L1957.0,2138.1 L1957.5,2134.8 L1958.0,2143.2 L1958.5,2146.5 L1959.0,2149.2 L1959.5,2132.1 L1960.0,2150.6 L1960.5,2145.6 L1961.0,2135.5 L1961.5,2139.1 L1962.0,2145.9 L1962.5,2146.5 L1963.0,2147.7 L1963.5,2143.5 L1964.0,2152.5 L1964.5,2140.6 L1965.0,2146.1 L1965.5,2144.2 L1966.0,2150.4 L1966.5,2150.4 L1967.0,2149.8 L1967.5,2148.1 L1968.0,2150.5 L1968.5,2152.3 L1969.0,2149.8 L1969.5,2145.3 L1970.0,2144.5 L1970.5,2150.8 L1971.0,2149.5 L1971.5,2143.9 L1972.0,2149.4 L1972.5,2148.7 L1973.0,2154.9 L1973.5,2153.9 L1974.0,2150.1 L1974.5,2146.6 L1975.0,2145.9 L1975.5,2150.9 L1976.0,2142.5 L1976.5,2148.8 L1977.0,2146.4 L1977.5,2147.9 L1978.0,2143.8 L1978.5,2160.0 L1979.0,2143.2 L1979.5,2143.2 L1980.0,2142.6 L1980.5,2147.0 L1981.0,2143.8 L1981.5,2144.4 L1982.0,2152.4 L1982.5,2136.2 L1983.0,2156.7 L1983.5,2146.3 L1984.0,2144.8 L1984.5,2143.9 L1985.0,2142.1 L1985.5,2144.1 L1986.0,2141.2 L1986.5,2143.6 L1987.0,2142.1 L1987.5,2155.8 L1988.0,2153.9 L1988.5,2154.7 L1989.0,2150.7 L1989.5,2143.4 L1990.0,2142.6 L1990.5,2143.6 L1991.0,2148.1 L1991.5,2142.3 L1992.0,2147.2 L1992.5,2145.7 L1993.0,2140.8 L1993.5,2146.6 L1994.0,2148.1 L1994.5,2149.8 L1995.0,2143.1 L1995.5,2149.9 L1996.0,2143.9 L1996.5,2148.2 L1997.0,2152.8 L1997.5,2147.8 L1998.0,2151.9 L1998.5,2145.9 L1999.0,2137.9 L1999.5,2143.7 L2000.0,2140.1 L2000.5,2146.1 L2001.0,2137.5 L2001.5,2143.1 L2002.0,2145.7 L2002.5,2139.0 L2003.0,2141.9 L2003.5,2145.4 L2004.0,2141.6 L2004.5,2143.3 L2005.0,2142.4 L2005.5,2139.9 L2006.0,2148.6 L2006.5,2143.7 L2007.0,2146.8 L2007.5,2145.6 L2008.0,2143.1 L2008.5,2141.0 L2009.0,2146.3 L2009.5,2138.3 L2010.0,2138.1 L2010.5,2147.3 L2011.0,2138.9 L2011.5,2140.9 L2012.0,2146.0 L2012.5,2158.9 L2013.0,2147.5 L2013.5,2139.1 L2014.0,2148.7 L2014.5,2145.4 L2015.0,2141.1 L2015.5,2152.9 L2016.0,2139.5 L2016.5,2153.3 L2017.0,2144.6 L2017.5,2155.8 L2018.0,2138.0 L2018.5,2146.2 L2019.0,2146.8 L2019.5,2140.6 L2020.0,2139.2 L2020.5,2143.9 L2021.0,2143.5 L2021.5,2153.2 L2022.0,2136.9 L2022.5,2140.2 L2023.0,2144.4 L2023.5,2147.1 L2024.0,2155.7 L2024.5,2153.3 L2025.0,2144.0 L2025.5,2144.3 L2026.0,2138.1 L2026.5,2151.3 L2027.0,2148.5 L2027.5,2147.7 L2028.0,2142.5 L2028.5,2136.1 L2029.0,2149.8 L2029.5,2150.1 L2030.0,2143.4 L2030.5,2140.9 L2031.0,2138.6 L2031.5,2141.9 L2032.0,2145.2 L2032.5,2150.0 L2033.0,2146.8 L2033.5,2147.2 L2034.0,2147.9 L2034.5,2137.1 L2035.0,2142.2 L2035.5,2140.5 L2036.0,2144.1 L2036.5,2141.1 L2037.0,2146.9 L2037.5,2142.4 L2038.0,2150.9 L2038.5,2153.2 L2039.0,2147.1 L2039.5,2153.9 L2040.0,2138.0 L2040.5,2143.0 L2041.0,2144.9 L2041.5,2152.2 L2042.0,2150.8 L2042.5,2147.3 L2043.0,2147.2 L2043.5,2152.7 L2044.0,2135.3 L2044.5,2142.7 L2045.0,2153.7 L2045.5,2149.8 L2046.0,2153.6 L2046.5,2145.1 L2047.0,2152.3 L2047.5,2154.3 L2048.0,2153.4 L2048.5,2147.2 L2049.0,2146.8 L2049.5,2147.0 L2050.0,2144.3 L2050.5,2147.7 L2051.0,2146.1 L2051.5,2148.9 L2052.0,2138.8 L2052.5,2147.5 L2053.0,2137.1 L2053.5,2149.5 L2054.0,2143.3 L2054.5,2146.3 L2055.0,2149.9 L2055.5,2145.7 L2056.0,2144.7 L2056.5,2157.6 L2057.0,2141.5 L2057.5,2153.5 L2058.0,2149.1 L2058.5,2140.2 L2059.0,2148.4 L2059.5,2143.6 L2060.0,2156.7 L2060.5,2147.7 L2061.0,2148.7 L2061.5,2139.0 L2062.0,2148.5 L2062.5,2139.3 L2063.0,2137.1 L2063.5,2141.2 L2064.0,2145.4 L2064.5,2147.1 L2065.0,2149.2 L2065.5,2146.6 L2066.0,2150.9 L2066.5,2146.9 L2067.0,2146.9 L2067.5,2147.9 L2068.0,2150.2 L2068.5,2145.4 L2069.0,2145.0 L2069.5,2150.0 L2070.0,2151.9 L2070.5,2153.8 L2071.0,2144.0 L2071.5,2143.1 L2072.0,2148.9 L2072.5,2149.4 L2073.0,2141.3 L2073.5,2134.9 L2074.0,2140.6 L2074.5,2147.1 L2075.0,2144.8 L2075.5,2154.2 L2076.0,2149.3 L2076.5,2151.5 L2077.0,2145.5 L2077.5,2152.9 L2078.0,2145.7 L2078.5,2152.1 L2079.0,2143.5 L2079.5,2135.4 L2080.0,2145.4 L2080.5,2150.6 L2081.0,2143.1 L2081.5,2141.7 L2082.0,2147.0 L2082.5,2148.8 L2083.0,2152.1 L2083.5,2148.5 L2084.0,2143.6 L2084.5,2148.1 L2085.0,2146.0 L2085.5,2149.7 L2086.0,2150.4 L2086.5,2155.2 L2087.0,2143.1 L2087.5,2143.8 L2088.0,2150.2 L2088.5,2143.4 L2089.0,2139.4 L2089.5,2148.9 L2090.0,2141.9 L2090.5,2145.1 L2091.0,2144.0 L2091.5,2138.8 L2092.0,2145.7 L2092.5,2138.3 L2093.0,2144.2 L2093.5,2152.8 L2094.0,2143.2 L2094.5,2146.0 L2095.0,2147.4 L2095.5,2143.3 L2096.0,2145.5 L2096.5,2154.5 L2097.0,2139.1 L2097.5,2144.6 L2098.0,2151.3 L2098.5,2147.0 L2099.0,2143.4 L2099.5,2143.1 L2100.0,2150.6 L2100.5,2152.6 L2101.0,2148.4 L2101.5,2148.5 L2102.0,2140.3 L2102.5,2149.4 L2103.0,2147.4 L2103.5,2142.1 L2104.0,2135.5 L2104.5,2155.3 L2105.0,2155.3 L2105.5,2140.0 L2106.0,2149.6 L2106.5,2142.6 L2107.0,2148.7 L2107.5,2148.5 L2108.0,2143.5 L2108.5,2144.7 L2109.0,2143.2 L2109.5,2144.5 L2110.0,2135.8 L2110.5,2145.1 L2111.0,2154.6 L2111.5,2149.4 L2112.0,2146.7 L2112.5,2155.1 L2113.0,2149.7 L2113.5,2158.8 L2114.0,2149.3 L2114.5,2150.6 L2115.0,2152.5 L2115.5,2147.4 L2116.0,2146.9 L2116.5,2136.5 L2117.0,2146.4 L2117.5,2140.5 L2118.0,2151.4 L2118.5,2144.3 L2119.0,2145.8 L2119.5,2146.2 L2120.0,2143.9 L2120.5,2141.0 L2121.0,2142.5 L2121.5,2139.9 L2122.0,2157.3 L2122.5,2149.9 L2123.0,2142.5 L2123.5,2144.4 L2124.0,2148.9 L2124.5,2148.6 L2125.0,2148.8 L2125.5,2153.5 L2126.0,2147.8 L2126.5,2152.9 L2127.0,2151.4 L2127.5,2143.0 L2128.0,2152.2 L2128.5,2147.4 L2129.0,2144.1 L2129.5,2143.6 L2130.0,2148.2 L2130.5,2149.0 L2131.0,2146.3 L2131.5,2144.0 L2132.0,2144.0 L2132.5,2148.5 L2133.0,2143.8 L2133.5,2146.6 L2134.0,2155.1 L2134.5,2151.1 L2135.0,2151.0 L2135.5,2144.4 L2136.0,2140.0 L2136.5,2147.7 L2137.0,2148.5 L2137.5,2141.2 L2138.0,2148.3 L2138.5,2146.9 L2139.0,2147.2 L2139.5,2150.8 L2140.0,2147.0 L2140.5,2149.8 L2141.0,2144.8 L2141.5,2149.0 L2142.0,2148.1 L2142.5,2146.4 L2143.0,2145.0 L2143.5,2140.6 L2144.0,2143.8 L2144.5,2155.9 L2145.0,2150.3 L2145.5,2147.8 L2146.0,2147.6 L2146.5,2143.9 L2147.0,2145.7 L2147.5,2142.6 L2148.0,2144.2 L2148.5,2143.2 L2149.0,2141.3 L2149.5,2146.3 L2150.0,2141.9 L2150.5,2146.9 L2151.0,2146.5 L2151.5,2146.8 L2152.0,2149.5 L2152.5,2137.0 L2153.0,2153.6 L2153.5,2142.7 L2154.0,2143.1 L2154.5,2149.5 L2155.0,2150.2 L2155.5,2146.2 L2156.0,2139.6 L2156.5,2137.1 L2157.0,2150.2 L2157.5,2152.9 L2158.0,2143.0 L2158.5,2149.3 L2159.0,2147.0 L2159.5,2149.8 L2160.0,2145.1 L2160.5,2149.6 L2161.0,2148.3 L2161.5,2142.0 L2162.0,2151.5 L2162.5,2150.7 L2163.0,2153.4 L2163.5,2143.9 L2164.0,2152.5 L2164.5,2150.6 L2165.0,2147.2 L2165.5,2149.9 L2166.0,2149.7 L2166.5,2143.9 L2167.0,2147.9 L2167.5,2150.9 L2168.0,2154.8 L2168.5,2155.0 L2169.0,2141.1 L2169.5,2151.8 L2170.0,2147.0 L2170.5,2141.8 L2171.0,2148.3 L2171.5,2146.5 L2172.0,2146.4 L2172.5,2144.6 L2173.0,2150.2 L2173.5,2145.1 L2174.0,2145.4 L2174.5,2138.2 L2175.0,2152.8 L2175.5,2144.4 L2176.0,2143.6 L2176.5,2154.2 L2177.0,2147.4 L2177.5,2140.5 L2178.0,2151.0 L2178.5,2154.7 L2179.0,2148.5 L2179.5,2147.7 L2180.0,2147.6 L2180.5,2144.7 L2181.0,2135.8 L2181.5,2146.8 L2182.0,2137.2 L2182.5,2142.8 L2183.0,2147.1 L2183.5,2151.3 L2184.0,2145.2 L2184.5,2150.7 L2185.0,2148.8 L2185.5,2143.5 L2186.0,2152.1 L2186.5,2155.2 L2187.0,2147.2 L2187.5,2141.5 L2188.0,2143.0 L2188.5,2144.6 L2189.0,2152.8 L2189.5,2140.6 L2190.0,2137.2 L2190.5,2152.6 L2191.0,2149.9 L2191.5,2150.1 L2192.0,2155.2 L2192.5,2151.6 L2193.0,2145.6 L2193.5,2144.5 L2194.0,2148.6 L2194.5,2138.1 L2195.0,2148.3 L2195.5,2148.9 L2196.0,2138.9 L2196.5,2143.1 L2197.0,2149.3 L2197.5,2149.0 L2198.0,2146.1 L2198.5,2154.0 L2199.0,2146.6 L2199.5,2158.1 L2200.0,2148.6 L2200.5,2139.0 L2201.0,2142.0 L2201.5,2143.3 L2202.0,2143.4 L2202.5,2144.7 L2203.0,2151.2 L2203.5,2144.8 L2204.0,2145.3 L2204.5,2142.9 L2205.0,2147.8 L2205.5,2147.3 L2206.0,2145.9 L2206.5,2142.0 L2207.0,2143.3 L2207.5,2148.2 L2208.0,2145.0 L2208.5,2149.2 L2209.0,2141.8 L2209.5,2148.4 L2210.0,2142.3 L2210.5,2147.4 L2211.0,2146.1 L2211.5,2137.2 L2212.0,2138.7 L2212.5,2150.8 L2213.0,2145.6 L2213.5,2150.2 L2214.0,2142.0 L2214.5,2146.9 L2215.0,2148.3 L2215.5,2151.4 L2216.0,2142.3 L2216.5,2152.2 L2217.0,2147.1 L2217.5,2142.8 L2218.0,2149.1 L2218.5,2149.7 L2219.0,2143.6 L2219.5,2150.5 L2220.0,2140.6 L2220.5,2146.2 L2221.0,2149.9 L2221.5,2143.5 L2222.0,2139.4 L2222.5,2149.0 L2223.0,2146.9 L2223.5,2149.5 L2224.0,2141.1 L2224.5,2137.7 L2225.0,2148.3 L2225.5,2145.6 L2226.0,2146.1 L2226.5,2142.9 L2227.0,2158.0 L2227.5,2141.3 L2228.0,2144.6 L2228.5,2150.4 L2229.0,2142.7 L2229.5,2147.0 L2230.0,2140.8 L2230.5,2148.2 L2231.0,2148.1 L2231.5,2151.5 L2232.0,2134.9 L2232.5,2151.8 L2233.0,2147.8 L2233.5,2147.7 L2234.0,2151.9 L2234.5,2150.0 L2235.0,2144.1 L2235.5,2153.5 L2236.0,2147.4 L2236.5,2142.3 L2237.0,2148.7 L2237.5,2147.5 L2238.0,2146.1 L2238.5,2141.1 L2239.0,2146.5 L2239.5,2150.0 L2240.0,2150.1 L2240.5,2141.1 L2241.0,2152.0 L2241.5,2147.8 L2242.0,2138.3 L2242.5,2146.0 L2243.0,2147.0 L2243.5,2146.2 L2244.0,2148.2 L2244.5,2145.2 L2245.0,2151.2 L2245.5,2150.1 L2246.0,2153.8 L2246.5,2151.9 L2247.0,2151.4 L2247.5,2151.3 L2248.0,2150.9 L2248.5,2151.1 L2249.0,2144.7 L2249.5,2149.5 L2250.0,2151.2 L2250.5,2152.4 L2251.0,2147.7 L2251.5,2150.0 L2252.0,2147.8 L2252.5,2154.7 L2253.0,2146.8 L2253.5,2147.2 L2254.0,2148.8 L2254.5,2155.6 L2255.0,2147.4 L2255.5,2161.9 L2256.0,2151.7 L2256.5,2145.8 L2257.0,2155.1 L2257.5,2143.8 L2258.0,2153.9 L2258.5,2141.4 L2259.0,2143.4 L2259.5,2153.2 L2260.0,2147.7 L2260.5,2136.9 L2261.0,2147.3 L2261.5,2143.8 L2262.0,2145.0 L2262.5,2139.8 L2263.0,2152.1 L2263.5,2142.1 L2264.0,2146.2 L2264.5,2140.5 L2265.0,2151.3 L2265.5,2136.2 L2266.0,2154.6 L2266.5,2155.5 L2267.0,2142.3 L2267.5,2149.5 L2268.0,2154.4 L2268.5,2142.0 L2269.0,2145.6 L2269.5,2147.7 L2270.0,2149.3 L2270.5,2145.4 L2271.0,2150.8 L2271.5,2144.0 L2272.0,2146.1 L2272.5,2148.2 L2273.0,2144.9 L2273.5,2147.4 L2274.0,2150.8 L2274.5,2155.0 L2275.0,2146.3 L2275.5,2147.6 L2276.0,2145.7 L2276.5,2153.2 L2277.0,2149.9" fill="none" stroke="#000000" stroke-width="5.2" stroke-linejoin="round" stroke-linecap="butt"/>
<rect x="1384.0" y="1467.0" width="895.3" height="727.3" fill="none" stroke="#000" stroke-width="7.4" stroke-linejoin="miter"/>
<rect x="1558.5" y="2180" width="6" height="10" fill="#000"/>
<rect x="1738.3" y="2180" width="6" height="10" fill="#000"/>
<rect x="1918.1" y="2180" width="6" height="10" fill="#000"/>
<rect x="2097.9" y="2180" width="6" height="10" fill="#000"/>
<text x="1381.7" y="2256.0" font-size="59" font-weight="bold" fill="#000" text-anchor="middle" textLength="110.0" lengthAdjust="spacingAndGlyphs">3460</text>
<text x="1561.5" y="2256.0" font-size="59" font-weight="bold" fill="#000" text-anchor="middle" textLength="110.0" lengthAdjust="spacingAndGlyphs">3480</text>
<text x="1741.3" y="2256.0" font-size="59" font-weight="bold" fill="#000" text-anchor="middle" textLength="110.0" lengthAdjust="spacingAndGlyphs">3500</text>
<text x="1921.1" y="2256.0" font-size="59" font-weight="bold" fill="#000" text-anchor="middle" textLength="110.0" lengthAdjust="spacingAndGlyphs">3520</text>
<text x="2100.9" y="2256.0" font-size="59" font-weight="bold" fill="#000" text-anchor="middle" textLength="110.0" lengthAdjust="spacingAndGlyphs">3540</text>
<text x="2280.7" y="2256.0" font-size="59" font-weight="bold" fill="#000" text-anchor="middle" textLength="110.0" lengthAdjust="spacingAndGlyphs">3560</text>
<text x="1632.5" y="2318.2" font-size="62" font-weight="bold" fill="#000" text-anchor="start" textLength="433.7" lengthAdjust="spacingAndGlyphs">Magnetic field (G)</text>
<text transform="translate(1318.6,2027) rotate(-90)" font-size="62" font-weight="bold" textLength="371.6" lengthAdjust="spacingAndGlyphs">Intensity (a.u.)</text>
<text x="1893.4" y="1537.9" font-size="40" font-weight="bold" fill="#ee1111" textLength="377.0" lengthAdjust="spacingAndGlyphs"><tspan dy="0.0">ZIF-8/Ag</tspan><tspan font-size="24.0" dy="8.8">3</tspan><tspan dy="-8.8">PO</tspan><tspan font-size="24.0" dy="8.8">4</tspan><tspan dy="-8.8"> +1.5AM</tspan></text>
<text x="2020.6" y="1860.4" font-size="39" font-weight="bold" fill="#ff00ff" text-anchor="start" textLength="238.0" lengthAdjust="spacingAndGlyphs">ZIF-8 +1.5AM</text>
<text x="1926.4" y="2015.2" font-size="38" font-weight="bold" fill="#0000ff" textLength="343.8" lengthAdjust="spacingAndGlyphs"><tspan dy="0.0">ZIF-8/Ag</tspan><tspan font-size="22.8" dy="8.4">3</tspan><tspan dy="-8.4">PO</tspan><tspan font-size="22.8" dy="8.4">4</tspan><tspan dy="-8.4">+Dark</tspan></text>
<text x="2053.6" y="2117.9" font-size="38" font-weight="bold" fill="#000" text-anchor="start" textLength="205.0" lengthAdjust="spacingAndGlyphs">ZIF-8+Dark</text>
</svg></body></html>
